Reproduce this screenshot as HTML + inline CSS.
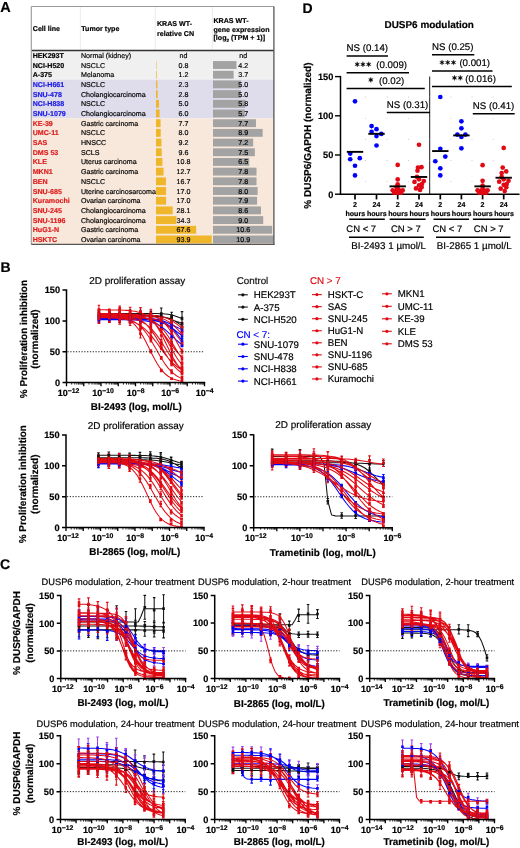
<!DOCTYPE html>
<html><head><meta charset="utf-8"><style>
html,body{margin:0;padding:0;background:#fff;}
svg{display:block;}
svg text{text-rendering:geometricPrecision;stroke:currentColor;stroke-width:0.18px;}
body{-webkit-font-smoothing:antialiased;}
text{font-family:"Liberation Sans", sans-serif;}
</style></head><body>
<div style="will-change:transform;width:520px;height:848px;overflow:hidden"><svg width="520" height="848" viewBox="0 0 520 848">
<rect width="520" height="848" fill="#fff"/>
<text x="0.3" y="12.4" font-size="14.5" font-weight="bold" fill="#000" color="#000" text-anchor="start">A</text>
<text x="302.5" y="12.5" font-size="14" font-weight="bold" fill="#000" color="#000" text-anchor="start">D</text>
<text x="0.5" y="271.5" font-size="14" font-weight="bold" fill="#000" color="#000" text-anchor="start">B</text>
<text x="0" y="568.5" font-size="14" font-weight="bold" fill="#000" color="#000" text-anchor="start">C</text>
<rect x="31.3" y="6.5" width="242.6" height="44" fill="#ffffff"/>
<rect x="31.3" y="50.5" width="242.6" height="29.07" fill="#f0f0f0"/>
<rect x="31.3" y="79.57" width="242.6" height="38.76" fill="#dfdcec"/>
<rect x="31.3" y="118.33" width="242.6" height="125.97" fill="#f8e8dc"/>
<line x1="80.3" y1="6.5" x2="80.3" y2="50.5" stroke="#e6e6e6" stroke-width="0.8"/>
<line x1="155.2" y1="6.5" x2="155.2" y2="50.5" stroke="#e6e6e6" stroke-width="0.8"/>
<line x1="212.3" y1="6.5" x2="212.3" y2="50.5" stroke="#e6e6e6" stroke-width="0.8"/>
<rect x="156" y="61.09" width="0.48" height="7.89" fill="#f0b62a"/>
<rect x="213" y="61.09" width="23.44" height="7.89" fill="#a3a3a3"/>
<rect x="156" y="70.78" width="0.71" height="7.89" fill="#f0b62a"/>
<rect x="213" y="70.78" width="20.65" height="7.89" fill="#a3a3a3"/>
<rect x="156" y="80.47" width="1.37" height="7.89" fill="#f0b62a"/>
<rect x="213" y="80.47" width="27.9" height="7.89" fill="#a3a3a3"/>
<rect x="156" y="90.16" width="1.66" height="7.89" fill="#f0b62a"/>
<rect x="213" y="90.16" width="27.9" height="7.89" fill="#a3a3a3"/>
<rect x="156" y="99.85" width="2.97" height="7.89" fill="#f0b62a"/>
<rect x="213" y="99.85" width="32.36" height="7.89" fill="#a3a3a3"/>
<rect x="156" y="109.54" width="3.56" height="7.89" fill="#f0b62a"/>
<rect x="213" y="109.54" width="31.81" height="7.89" fill="#a3a3a3"/>
<rect x="156" y="119.23" width="4.57" height="7.89" fill="#f0b62a"/>
<rect x="213" y="119.23" width="42.97" height="7.89" fill="#a3a3a3"/>
<rect x="156" y="128.92" width="4.75" height="7.89" fill="#f0b62a"/>
<rect x="213" y="128.92" width="49.66" height="7.89" fill="#a3a3a3"/>
<rect x="156" y="138.61" width="5.46" height="7.89" fill="#f0b62a"/>
<rect x="213" y="138.61" width="40.18" height="7.89" fill="#a3a3a3"/>
<rect x="156" y="148.3" width="5.7" height="7.89" fill="#f0b62a"/>
<rect x="213" y="148.3" width="41.85" height="7.89" fill="#a3a3a3"/>
<rect x="156" y="157.99" width="6.42" height="7.89" fill="#f0b62a"/>
<rect x="213" y="157.99" width="36.27" height="7.89" fill="#a3a3a3"/>
<rect x="156" y="167.68" width="7.54" height="7.89" fill="#f0b62a"/>
<rect x="213" y="167.68" width="43.52" height="7.89" fill="#a3a3a3"/>
<rect x="156" y="177.37" width="9.92" height="7.89" fill="#f0b62a"/>
<rect x="213" y="177.37" width="43.52" height="7.89" fill="#a3a3a3"/>
<rect x="156" y="187.06" width="10.1" height="7.89" fill="#f0b62a"/>
<rect x="213" y="187.06" width="44.64" height="7.89" fill="#a3a3a3"/>
<rect x="156" y="196.75" width="10.1" height="7.89" fill="#f0b62a"/>
<rect x="213" y="196.75" width="44.08" height="7.89" fill="#a3a3a3"/>
<rect x="156" y="206.44" width="16.69" height="7.89" fill="#f0b62a"/>
<rect x="213" y="206.44" width="47.99" height="7.89" fill="#a3a3a3"/>
<rect x="156" y="216.13" width="20.37" height="7.89" fill="#f0b62a"/>
<rect x="213" y="216.13" width="50.22" height="7.89" fill="#a3a3a3"/>
<rect x="156" y="225.82" width="40.15" height="7.89" fill="#f0b62a"/>
<rect x="213" y="225.82" width="59.15" height="7.89" fill="#a3a3a3"/>
<rect x="156" y="235.51" width="55.78" height="7.89" fill="#f0b62a"/>
<rect x="213" y="235.51" width="60.82" height="7.89" fill="#a3a3a3"/>
<text x="32.7" y="57.84" font-size="7.1" font-weight="bold" fill="#000000" color="#000000" text-anchor="start">HEK293T</text>
<text x="81" y="57.84" font-size="7.1" fill="#000" color="#000" text-anchor="start">Normal (kidney)</text>
<text x="183.5" y="57.84" font-size="7.1" fill="#000" color="#000" text-anchor="middle">nd</text>
<text x="243.2" y="57.84" font-size="7.1" fill="#000" color="#000" text-anchor="middle">nd</text>
<text x="32.7" y="67.53" font-size="7.1" font-weight="bold" fill="#000000" color="#000000" text-anchor="start">NCI-H520</text>
<text x="81" y="67.53" font-size="7.1" fill="#000" color="#000" text-anchor="start">NSCLC</text>
<text x="183.5" y="67.53" font-size="7.1" fill="#000" color="#000" text-anchor="middle">0.8</text>
<text x="243.2" y="67.53" font-size="7.1" fill="#000" color="#000" text-anchor="middle">4.2</text>
<text x="32.7" y="77.22" font-size="7.1" font-weight="bold" fill="#000000" color="#000000" text-anchor="start">A-375</text>
<text x="81" y="77.22" font-size="7.1" fill="#000" color="#000" text-anchor="start">Melanoma</text>
<text x="183.5" y="77.22" font-size="7.1" fill="#000" color="#000" text-anchor="middle">1.2</text>
<text x="243.2" y="77.22" font-size="7.1" fill="#000" color="#000" text-anchor="middle">3.7</text>
<text x="32.7" y="86.92" font-size="7.1" font-weight="bold" fill="#1a1ae6" color="#1a1ae6" text-anchor="start">NCI-H661</text>
<text x="81" y="86.92" font-size="7.1" fill="#000" color="#000" text-anchor="start">NSCLC</text>
<text x="183.5" y="86.92" font-size="7.1" fill="#000" color="#000" text-anchor="middle">2.3</text>
<text x="243.2" y="86.92" font-size="7.1" fill="#000" color="#000" text-anchor="middle">5.0</text>
<text x="32.7" y="96.61" font-size="7.1" font-weight="bold" fill="#1a1ae6" color="#1a1ae6" text-anchor="start">SNU-478</text>
<text x="81" y="96.61" font-size="7.1" fill="#000" color="#000" text-anchor="start">Cholangiocarcinoma</text>
<text x="183.5" y="96.61" font-size="7.1" fill="#000" color="#000" text-anchor="middle">2.8</text>
<text x="243.2" y="96.61" font-size="7.1" fill="#000" color="#000" text-anchor="middle">5.0</text>
<text x="32.7" y="106.3" font-size="7.1" font-weight="bold" fill="#1a1ae6" color="#1a1ae6" text-anchor="start">NCI-H838</text>
<text x="81" y="106.3" font-size="7.1" fill="#000" color="#000" text-anchor="start">NSCLC</text>
<text x="183.5" y="106.3" font-size="7.1" fill="#000" color="#000" text-anchor="middle">5.0</text>
<text x="243.2" y="106.3" font-size="7.1" fill="#000" color="#000" text-anchor="middle">5.8</text>
<text x="32.7" y="115.99" font-size="7.1" font-weight="bold" fill="#1a1ae6" color="#1a1ae6" text-anchor="start">SNU-1079</text>
<text x="81" y="115.99" font-size="7.1" fill="#000" color="#000" text-anchor="start">Cholangiocarcinoma</text>
<text x="183.5" y="115.99" font-size="7.1" fill="#000" color="#000" text-anchor="middle">6.0</text>
<text x="243.2" y="115.99" font-size="7.1" fill="#000" color="#000" text-anchor="middle">5.7</text>
<text x="32.7" y="125.68" font-size="7.1" font-weight="bold" fill="#dd1c1c" color="#dd1c1c" text-anchor="start">KE-39</text>
<text x="81" y="125.68" font-size="7.1" fill="#000" color="#000" text-anchor="start">Gastric carcinoma</text>
<text x="183.5" y="125.68" font-size="7.1" fill="#000" color="#000" text-anchor="middle">7.7</text>
<text x="243.2" y="125.68" font-size="7.1" fill="#000" color="#000" text-anchor="middle">7.7</text>
<text x="32.7" y="135.37" font-size="7.1" font-weight="bold" fill="#dd1c1c" color="#dd1c1c" text-anchor="start">UMC-11</text>
<text x="81" y="135.37" font-size="7.1" fill="#000" color="#000" text-anchor="start">NSCLC</text>
<text x="183.5" y="135.37" font-size="7.1" fill="#000" color="#000" text-anchor="middle">8.0</text>
<text x="243.2" y="135.37" font-size="7.1" fill="#000" color="#000" text-anchor="middle">8.9</text>
<text x="32.7" y="145.06" font-size="7.1" font-weight="bold" fill="#dd1c1c" color="#dd1c1c" text-anchor="start">SAS</text>
<text x="81" y="145.06" font-size="7.1" fill="#000" color="#000" text-anchor="start">HNSCC</text>
<text x="183.5" y="145.06" font-size="7.1" fill="#000" color="#000" text-anchor="middle">9.2</text>
<text x="243.2" y="145.06" font-size="7.1" fill="#000" color="#000" text-anchor="middle">7.2</text>
<text x="32.7" y="154.75" font-size="7.1" font-weight="bold" fill="#dd1c1c" color="#dd1c1c" text-anchor="start">DMS 53</text>
<text x="81" y="154.75" font-size="7.1" fill="#000" color="#000" text-anchor="start">SCLS</text>
<text x="183.5" y="154.75" font-size="7.1" fill="#000" color="#000" text-anchor="middle">9.6</text>
<text x="243.2" y="154.75" font-size="7.1" fill="#000" color="#000" text-anchor="middle">7.5</text>
<text x="32.7" y="164.44" font-size="7.1" font-weight="bold" fill="#dd1c1c" color="#dd1c1c" text-anchor="start">KLE</text>
<text x="81" y="164.44" font-size="7.1" fill="#000" color="#000" text-anchor="start">Uterus carcinoma</text>
<text x="183.5" y="164.44" font-size="7.1" fill="#000" color="#000" text-anchor="middle">10.8</text>
<text x="243.2" y="164.44" font-size="7.1" fill="#000" color="#000" text-anchor="middle">6.5</text>
<text x="32.7" y="174.12" font-size="7.1" font-weight="bold" fill="#dd1c1c" color="#dd1c1c" text-anchor="start">MKN1</text>
<text x="81" y="174.12" font-size="7.1" fill="#000" color="#000" text-anchor="start">Gastric carcinoma</text>
<text x="183.5" y="174.12" font-size="7.1" fill="#000" color="#000" text-anchor="middle">12.7</text>
<text x="243.2" y="174.12" font-size="7.1" fill="#000" color="#000" text-anchor="middle">7.8</text>
<text x="32.7" y="183.82" font-size="7.1" font-weight="bold" fill="#dd1c1c" color="#dd1c1c" text-anchor="start">BEN</text>
<text x="81" y="183.82" font-size="7.1" fill="#000" color="#000" text-anchor="start">NSCLC</text>
<text x="183.5" y="183.82" font-size="7.1" fill="#000" color="#000" text-anchor="middle">16.7</text>
<text x="243.2" y="183.82" font-size="7.1" fill="#000" color="#000" text-anchor="middle">7.8</text>
<text x="32.7" y="193.51" font-size="7.1" font-weight="bold" fill="#dd1c1c" color="#dd1c1c" text-anchor="start">SNU-685</text>
<text x="81" y="193.51" font-size="7.1" fill="#000" color="#000" text-anchor="start">Uterine carcinosarcoma</text>
<text x="183.5" y="193.51" font-size="7.1" fill="#000" color="#000" text-anchor="middle">17.0</text>
<text x="243.2" y="193.51" font-size="7.1" fill="#000" color="#000" text-anchor="middle">8.0</text>
<text x="32.7" y="203.2" font-size="7.1" font-weight="bold" fill="#dd1c1c" color="#dd1c1c" text-anchor="start">Kuramochi</text>
<text x="81" y="203.2" font-size="7.1" fill="#000" color="#000" text-anchor="start">Ovarian carcinoma</text>
<text x="183.5" y="203.2" font-size="7.1" fill="#000" color="#000" text-anchor="middle">17.0</text>
<text x="243.2" y="203.2" font-size="7.1" fill="#000" color="#000" text-anchor="middle">7.9</text>
<text x="32.7" y="212.89" font-size="7.1" font-weight="bold" fill="#dd1c1c" color="#dd1c1c" text-anchor="start">SNU-245</text>
<text x="81" y="212.89" font-size="7.1" fill="#000" color="#000" text-anchor="start">Cholangiocarcinoma</text>
<text x="183.5" y="212.89" font-size="7.1" fill="#000" color="#000" text-anchor="middle">28.1</text>
<text x="243.2" y="212.89" font-size="7.1" fill="#000" color="#000" text-anchor="middle">8.6</text>
<text x="32.7" y="222.58" font-size="7.1" font-weight="bold" fill="#dd1c1c" color="#dd1c1c" text-anchor="start">SNU-1196</text>
<text x="81" y="222.58" font-size="7.1" fill="#000" color="#000" text-anchor="start">Cholangiocarcinoma</text>
<text x="183.5" y="222.58" font-size="7.1" fill="#000" color="#000" text-anchor="middle">34.3</text>
<text x="243.2" y="222.58" font-size="7.1" fill="#000" color="#000" text-anchor="middle">9.0</text>
<text x="32.7" y="232.27" font-size="7.1" font-weight="bold" fill="#dd1c1c" color="#dd1c1c" text-anchor="start">HuG1-N</text>
<text x="81" y="232.27" font-size="7.1" fill="#000" color="#000" text-anchor="start">Gastric carcinoma</text>
<text x="183.5" y="232.27" font-size="7.1" fill="#000" color="#000" text-anchor="middle">67.6</text>
<text x="243.2" y="232.27" font-size="7.1" fill="#000" color="#000" text-anchor="middle">10.6</text>
<text x="32.7" y="241.96" font-size="7.1" font-weight="bold" fill="#dd1c1c" color="#dd1c1c" text-anchor="start">HSKTC</text>
<text x="81" y="241.96" font-size="7.1" fill="#000" color="#000" text-anchor="start">Ovarian carcinoma</text>
<text x="183.5" y="241.96" font-size="7.1" fill="#000" color="#000" text-anchor="middle">93.9</text>
<text x="243.2" y="241.96" font-size="7.1" fill="#000" color="#000" text-anchor="middle">10.9</text>
<text x="32.8" y="31" font-size="7.1" font-weight="bold" fill="#000" color="#000" text-anchor="start">Cell line</text>
<text x="81.3" y="31" font-size="7.1" font-weight="bold" fill="#000" color="#000" text-anchor="start">Tumor type</text>
<text x="157" y="26.3" font-size="7.1" font-weight="bold" fill="#000" color="#000" text-anchor="start">KRAS WT-</text>
<text x="157" y="36.2" font-size="7.1" font-weight="bold" fill="#000" color="#000" text-anchor="start">relative CN</text>
<text x="213.5" y="22.7" font-size="7.1" font-weight="bold" fill="#000" color="#000" text-anchor="start">KRAS WT-</text>
<text x="213.5" y="31.6" font-size="7.1" font-weight="bold" fill="#000" color="#000" text-anchor="start">gene expression</text>
<text x="213.5" y="40.3" font-size="7.1" font-weight="bold">[log<tspan font-size="4.5" dy="1.5">2</tspan><tspan dy="-1.5"> (TPM + 1)]</tspan></text>
<line x1="31.3" y1="50.5" x2="273.9" y2="50.5" stroke="#333" stroke-width="1.3"/>
<line x1="31.3" y1="6.5" x2="273.9" y2="6.5" stroke="#9a9a9a" stroke-width="1.1"/>
<line x1="31.3" y1="6.5" x2="31.3" y2="244.3" stroke="#a0a0a0" stroke-width="1.2"/>
<line x1="31.3" y1="244.3" x2="274.5" y2="244.3" stroke="#555" stroke-width="1.3"/>
<line x1="273.9" y1="6.5" x2="273.9" y2="244.9" stroke="#555" stroke-width="1.3"/>
<path d="M98.93 313.5L101.7 313.5L104.47 313.5L107.24 313.5L110.01 313.5L112.78 313.5L115.55 313.5L118.31 313.5L121.08 313.5L123.85 313.5L126.62 313.5L129.39 313.5L132.16 313.5L134.93 313.5L137.7 313.5L140.47 313.5L143.24 313.5L146.01 313.51L148.78 313.51L151.54 313.53L154.31 313.55L157.08 313.59L159.85 313.66L162.62 313.78L165.39 313.98L168.16 314.31L170.93 314.8L173.7 315.51L176.47 316.41L179.24 317.42L182.01 318.41M98.93 310.57V317.29M97.63 310.57h2.6M97.63 317.29h2.6M109.31 310.07V316.18M108.01 310.07h2.6M108.01 316.18h2.6M119.7 309.21V317.61M118.4 309.21h2.6M118.4 317.61h2.6M130.08 309.84V319.34M128.78 309.84h2.6M128.78 319.34h2.6M140.47 310.18V319.1M139.17 310.18h2.6M139.17 319.1h2.6M150.85 311.46V317.72M149.55 311.46h2.6M149.55 317.72h2.6M161.24 307.91V319.89M159.94 307.91h2.6M159.94 319.89h2.6M171.62 312.24V319.53M170.32 312.24h2.6M170.32 319.53h2.6M182.01 311.63V324.55M180.71 311.63h2.6M180.71 324.55h2.6M98.93 315.96L101.7 315.96L104.47 315.96L107.24 315.96L110.01 315.96L112.78 315.96L115.55 315.96L118.31 315.96L121.08 315.97L123.85 315.97L126.62 315.97L129.39 315.97L132.16 315.97L134.93 315.98L137.7 315.98L140.47 315.99L143.24 316.01L146.01 316.03L148.78 316.07L151.54 316.13L154.31 316.23L157.08 316.37L159.85 316.59L162.62 316.92L165.39 317.41L168.16 318.11L170.93 319.09L173.7 320.39L176.47 322L179.24 323.83L182.01 325.74M98.93 312.41V319.13M97.63 312.41h2.6M97.63 319.13h2.6M109.31 312.49V317.09M108.01 312.49h2.6M108.01 317.09h2.6M119.7 312.05V318.12M118.4 312.05h2.6M118.4 318.12h2.6M130.08 314.33V319.36M128.78 314.33h2.6M128.78 319.36h2.6M140.47 311.84V321.09M139.17 311.84h2.6M139.17 321.09h2.6M150.85 312.99V320.82M149.55 312.99h2.6M149.55 320.82h2.6M161.24 313.11V319.68M159.94 313.11h2.6M159.94 319.68h2.6M171.62 316.92V321.62M170.32 316.92h2.6M170.32 321.62h2.6M182.01 324.25V329.41M180.71 324.25h2.6M180.71 329.41h2.6M98.93 314.73L101.7 314.73L104.47 314.73L107.24 314.73L110.01 314.73L112.78 314.73L115.55 314.73L118.31 314.74L121.08 314.74L123.85 314.74L126.62 314.75L129.39 314.76L132.16 314.77L134.93 314.79L137.7 314.82L140.47 314.86L143.24 314.92L146.01 315.01L148.78 315.13L151.54 315.3L154.31 315.53L157.08 315.85L159.85 316.29L162.62 316.85L165.39 317.55L168.16 318.4L170.93 319.36L173.7 320.38L176.47 321.39L179.24 322.33L182.01 323.15M98.93 311.33V317.24M97.63 311.33h2.6M97.63 317.24h2.6M109.31 311.82V318.56M108.01 311.82h2.6M108.01 318.56h2.6M119.7 312.23V317.48M118.4 312.23h2.6M118.4 317.48h2.6M130.08 310.37V317.7M128.78 310.37h2.6M128.78 317.7h2.6M140.47 312.16V318.84M139.17 312.16h2.6M139.17 318.84h2.6M150.85 311.07V319.31M149.55 311.07h2.6M149.55 319.31h2.6M161.24 313.39V318.58M159.94 313.39h2.6M159.94 318.58h2.6M171.62 316.27V320.58M170.32 316.27h2.6M170.32 320.58h2.6M182.01 319.65V327.05M180.71 319.65h2.6M180.71 327.05h2.6" stroke="#111111" stroke-width="1.05" fill="none"/>
<path d="M98.93 318.43L101.7 318.43L104.47 318.43L107.24 318.43L110.01 318.44L112.78 318.44L115.55 318.44L118.31 318.44L121.08 318.45L123.85 318.45L126.62 318.46L129.39 318.48L132.16 318.5L134.93 318.52L137.7 318.56L140.47 318.62L143.24 318.71L146.01 318.83L148.78 319.01L151.54 319.26L154.31 319.62L157.08 320.12L159.85 320.84L162.62 321.82L165.39 323.15L168.16 324.92L170.93 327.17L173.7 329.94L176.47 333.17L179.24 336.71L182.01 340.35M98.93 316.69V321.89M97.63 316.69h2.6M97.63 321.89h2.6M109.31 316.59V322.56M108.01 316.59h2.6M108.01 322.56h2.6M119.7 315.01V320.57M118.4 315.01h2.6M118.4 320.57h2.6M130.08 315.33V319.77M128.78 315.33h2.6M128.78 319.77h2.6M140.47 315.32V320.97M139.17 315.32h2.6M139.17 320.97h2.6M150.85 316.46V321.52M149.55 316.46h2.6M149.55 321.52h2.6M161.24 316.87V324.03M159.94 316.87h2.6M159.94 324.03h2.6M171.62 325.16V330.61M170.32 325.16h2.6M170.32 330.61h2.6M182.01 339.14V343.73M180.71 339.14h2.6M180.71 343.73h2.6M98.93 319.05L101.7 319.05L104.47 319.05L107.24 319.05L110.01 319.06L112.78 319.06L115.55 319.06L118.31 319.07L121.08 319.08L123.85 319.09L126.62 319.11L129.39 319.13L132.16 319.17L134.93 319.21L137.7 319.27L140.47 319.36L143.24 319.48L146.01 319.65L148.78 319.88L151.54 320.2L154.31 320.62L157.08 321.19L159.85 321.94L162.62 322.91L165.39 324.12L168.16 325.61L170.93 327.35L173.7 329.29L176.47 331.37L179.24 333.46L182.01 335.46M98.93 315V322.38M97.63 315h2.6M97.63 322.38h2.6M109.31 316.1V320.42M108.01 316.1h2.6M108.01 320.42h2.6M119.7 316.37V322.34M118.4 316.37h2.6M118.4 322.34h2.6M130.08 317.78V322.86M128.78 317.78h2.6M128.78 322.86h2.6M140.47 318.39V321.98M139.17 318.39h2.6M139.17 321.98h2.6M150.85 318.01V324.39M149.55 318.01h2.6M149.55 324.39h2.6M161.24 321.29V325.32M159.94 321.29h2.6M159.94 325.32h2.6M171.62 324.96V331.21M170.32 324.96h2.6M170.32 331.21h2.6M182.01 334.46V338.53M180.71 334.46h2.6M180.71 338.53h2.6M98.93 317.82L101.7 317.82L104.47 317.82L107.24 317.82L110.01 317.82L112.78 317.82L115.55 317.82L118.31 317.82L121.08 317.83L123.85 317.84L126.62 317.84L129.39 317.86L132.16 317.88L134.93 317.9L137.7 317.94L140.47 318L143.24 318.08L146.01 318.2L148.78 318.37L151.54 318.6L154.31 318.93L157.08 319.37L159.85 319.97L162.62 320.76L165.39 321.74L168.16 322.91L170.93 324.24L173.7 325.66L176.47 327.06L179.24 328.37L182.01 329.51M98.93 314.24V321.14M97.63 314.24h2.6M97.63 321.14h2.6M109.31 313.62V320.44M108.01 313.62h2.6M108.01 320.44h2.6M119.7 315.93V320.81M118.4 315.93h2.6M118.4 320.81h2.6M130.08 314.76V321.66M128.78 314.76h2.6M128.78 321.66h2.6M140.47 315V318.74M139.17 315h2.6M139.17 318.74h2.6M150.85 317.29V321.38M149.55 317.29h2.6M149.55 321.38h2.6M161.24 318.41V323.59M159.94 318.41h2.6M159.94 323.59h2.6M171.62 322.35V326.39M170.32 322.35h2.6M170.32 326.39h2.6M182.01 328.58V332.89M180.71 328.58h2.6M180.71 332.89h2.6M98.93 319.67L101.7 319.67L104.47 319.68L107.24 319.68L110.01 319.69L112.78 319.69L115.55 319.7L118.31 319.72L121.08 319.74L123.85 319.77L126.62 319.81L129.39 319.86L132.16 319.94L134.93 320.05L137.7 320.2L140.47 320.4L143.24 320.68L146.01 321.06L148.78 321.58L151.54 322.28L154.31 323.19L157.08 324.38L159.85 325.88L162.62 327.72L165.39 329.88L168.16 332.32L170.93 334.94L173.7 337.6L176.47 340.16L179.24 342.49L182.01 344.52M98.93 317.23V322.76M97.63 317.23h2.6M97.63 322.76h2.6M109.31 315.53V321.6M108.01 315.53h2.6M108.01 321.6h2.6M119.7 316.81V322.57M118.4 316.81h2.6M118.4 322.57h2.6M130.08 317.79V321.1M128.78 317.79h2.6M128.78 321.1h2.6M140.47 316.19V322.64M139.17 316.19h2.6M139.17 322.64h2.6M150.85 317.9V324.41M149.55 317.9h2.6M149.55 324.41h2.6M161.24 324.8V329.25M159.94 324.8h2.6M159.94 329.25h2.6M171.62 334.23V338.94M170.32 334.23h2.6M170.32 338.94h2.6M182.01 344.42V346.78M180.71 344.42h2.6M180.71 346.78h2.6" stroke="#0000ff" stroke-width="1.05" fill="none"/>
<path d="M98.93 314.89L101.7 314.95L104.47 315.04L107.24 315.16L110.01 315.33L112.78 315.56L115.55 315.89L118.31 316.33L121.08 316.94L123.85 317.78L126.62 318.91L129.39 320.42L132.16 322.41L134.93 324.98L137.7 328.22L140.47 332.18L143.24 336.83L146.01 342.04L148.78 347.6L151.54 353.21L154.31 358.59L157.08 363.47L159.85 367.69L162.62 371.2L165.39 374.02L168.16 376.22L170.93 377.9L173.7 379.16L176.47 380.1L179.24 380.79L182.01 381.29M98.93 313.32V318.62M97.63 313.32h2.6M97.63 318.62h2.6M109.31 313.56V318.19M108.01 313.56h2.6M108.01 318.19h2.6M119.7 315.85V321.08M118.4 315.85h2.6M118.4 321.08h2.6M130.08 319.14V325.54M128.78 319.14h2.6M128.78 325.54h2.6M140.47 329.9V337.98M139.17 329.9h2.6M139.17 337.98h2.6M150.85 349.76V353.04M149.55 349.76h2.6M149.55 353.04h2.6M161.24 369.18V371.73M159.94 369.18h2.6M159.94 371.73h2.6M171.62 378V379.51M170.32 378h2.6M170.32 379.51h2.6M182.01 378.55V381.45M180.71 378.55h2.6M180.71 381.45h2.6M98.93 316.11L101.7 316.16L104.47 316.23L107.24 316.32L110.01 316.44L112.78 316.6L115.55 316.82L118.31 317.11L121.08 317.5L123.85 318.01L126.62 318.68L129.39 319.56L132.16 320.71L134.93 322.2L137.7 324.08L140.47 326.43L143.24 329.31L146.01 332.75L148.78 336.73L151.54 341.17L154.31 345.94L157.08 350.85L159.85 355.7L162.62 360.28L165.39 364.43L168.16 368.07L170.93 371.15L173.7 373.69L176.47 375.74L179.24 377.36L182.01 378.62M98.93 312.61V319.86M97.63 312.61h2.6M97.63 319.86h2.6M109.31 315.47V320.41M108.01 315.47h2.6M108.01 320.41h2.6M119.7 314.91V320.83M118.4 314.91h2.6M118.4 320.83h2.6M130.08 315.96V321.25M128.78 315.96h2.6M128.78 321.25h2.6M140.47 323.61V332.79M139.17 323.61h2.6M139.17 332.79h2.6M150.85 337.91V341.92M149.55 337.91h2.6M149.55 341.92h2.6M161.24 356.64V359.11M159.94 356.64h2.6M159.94 359.11h2.6M171.62 369.78V373.69M170.32 369.78h2.6M170.32 373.69h2.6M182.01 375.93V378.61M180.71 375.93h2.6M180.71 378.61h2.6M98.93 313.58L101.7 313.61L104.47 313.65L107.24 313.7L110.01 313.77L112.78 313.86L115.55 313.99L118.31 314.15L121.08 314.38L123.85 314.68L126.62 315.07L129.39 315.6L132.16 316.29L134.93 317.2L137.7 318.37L140.47 319.89L143.24 321.81L146.01 324.21L148.78 327.14L151.54 330.61L154.31 334.62L157.08 339.07L159.85 343.83L162.62 348.7L165.39 353.48L168.16 357.97L170.93 362.02L173.7 365.55L176.47 368.53L179.24 370.98L182.01 372.95M98.93 311.2V317.73M97.63 311.2h2.6M97.63 317.73h2.6M109.31 310.49V319.48M108.01 310.49h2.6M108.01 319.48h2.6M119.7 309.62V318.65M118.4 309.62h2.6M118.4 318.65h2.6M130.08 313.55V319.22M128.78 313.55h2.6M128.78 319.22h2.6M140.47 313.6V323.87M139.17 313.6h2.6M139.17 323.87h2.6M150.85 324.21V332.57M149.55 324.21h2.6M149.55 332.57h2.6M161.24 341.98V348.19M159.94 341.98h2.6M159.94 348.19h2.6M171.62 362.19V365.74M170.32 362.19h2.6M170.32 365.74h2.6M182.01 372.67V374.29M180.71 372.67h2.6M180.71 374.29h2.6M98.93 317.25L101.7 317.27L104.47 317.29L107.24 317.33L110.01 317.37L112.78 317.43L115.55 317.51L118.31 317.62L121.08 317.76L123.85 317.95L126.62 318.2L129.39 318.54L132.16 318.99L134.93 319.58L137.7 320.36L140.47 321.37L143.24 322.68L146.01 324.35L148.78 326.43L151.54 328.99L154.31 332.05L157.08 335.6L159.85 339.59L162.62 343.89L165.39 348.34L168.16 352.76L170.93 356.95L173.7 360.77L176.47 364.13L179.24 366.98L182.01 369.34M98.93 315.99V322M97.63 315.99h2.6M97.63 322h2.6M109.31 314V322.5M108.01 314h2.6M108.01 322.5h2.6M119.7 312.48V319.5M118.4 312.48h2.6M118.4 319.5h2.6M130.08 311.88V322.17M128.78 311.88h2.6M128.78 322.17h2.6M140.47 316.43V322.95M139.17 316.43h2.6M139.17 322.95h2.6M150.85 326.78V331.89M149.55 326.78h2.6M149.55 331.89h2.6M161.24 340.79V344.87M159.94 340.79h2.6M159.94 344.87h2.6M171.62 354.77V360.2M170.32 354.77h2.6M170.32 360.2h2.6M182.01 366.54V369.62M180.71 366.54h2.6M180.71 369.62h2.6M98.93 315.36L101.7 315.36L104.47 315.37L107.24 315.38L110.01 315.39L112.78 315.41L115.55 315.43L118.31 315.47L121.08 315.52L123.85 315.58L126.62 315.68L129.39 315.81L132.16 315.99L134.93 316.24L137.7 316.58L140.47 317.06L143.24 317.7L146.01 318.59L148.78 319.77L151.54 321.35L154.31 323.4L157.08 326.03L159.85 329.28L162.62 333.17L165.39 337.64L168.16 342.53L170.93 347.59L173.7 352.56L176.47 357.19L179.24 361.29L182.01 364.75M98.93 310.22V319.37M97.63 310.22h2.6M97.63 319.37h2.6M109.31 312.77V321.08M108.01 312.77h2.6M108.01 321.08h2.6M119.7 309.45V318.5M118.4 309.45h2.6M118.4 318.5h2.6M130.08 311.32V318.53M128.78 311.32h2.6M128.78 318.53h2.6M140.47 313.7V322.79M139.17 313.7h2.6M139.17 322.79h2.6M150.85 316.99V326.08M149.55 316.99h2.6M149.55 326.08h2.6M161.24 326.39V332.41M159.94 326.39h2.6M159.94 332.41h2.6M171.62 345.93V352.51M170.32 345.93h2.6M170.32 352.51h2.6M182.01 362.64V365.2M180.71 362.64h2.6M180.71 365.2h2.6M98.93 316.59L101.7 316.59L104.47 316.6L107.24 316.6L110.01 316.61L112.78 316.62L115.55 316.64L118.31 316.66L121.08 316.69L123.85 316.73L126.62 316.78L129.39 316.86L132.16 316.98L134.93 317.13L137.7 317.34L140.47 317.64L143.24 318.05L146.01 318.61L148.78 319.37L151.54 320.39L154.31 321.76L157.08 323.55L159.85 325.85L162.62 328.73L165.39 332.2L168.16 336.24L170.93 340.7L173.7 345.39L176.47 350.05L179.24 354.45L182.01 358.39M98.93 315.35V320.59M97.63 315.35h2.6M97.63 320.59h2.6M109.31 310.51V319.71M108.01 310.51h2.6M108.01 319.71h2.6M119.7 313.32V322.64M118.4 313.32h2.6M118.4 322.64h2.6M130.08 310.96V319.26M128.78 310.96h2.6M128.78 319.26h2.6M140.47 314.38V322.01M139.17 314.38h2.6M139.17 322.01h2.6M150.85 319.29V323.66M149.55 319.29h2.6M149.55 323.66h2.6M161.24 321.58V329.37M159.94 321.58h2.6M159.94 329.37h2.6M171.62 338.04V345.48M170.32 338.04h2.6M170.32 345.48h2.6M182.01 356.04V361.23M180.71 356.04h2.6M180.71 361.23h2.6M98.93 314.11L101.7 314.12L104.47 314.12L107.24 314.12L110.01 314.12L112.78 314.12L115.55 314.13L118.31 314.14L121.08 314.15L123.85 314.16L126.62 314.18L129.39 314.21L132.16 314.26L134.93 314.32L137.7 314.41L140.47 314.54L143.24 314.73L146.01 315.01L148.78 315.4L151.54 315.95L154.31 316.74L157.08 317.83L159.85 319.34L162.62 321.38L165.39 324.06L168.16 327.45L170.93 331.56L173.7 336.28L176.47 341.38L179.24 346.53L182.01 351.4M98.93 310.11V315.7M97.63 310.11h2.6M97.63 315.7h2.6M109.31 311.99V318.08M108.01 311.99h2.6M108.01 318.08h2.6M119.7 311.17V319.03M118.4 311.17h2.6M118.4 319.03h2.6M130.08 311.69V318.54M128.78 311.69h2.6M128.78 318.54h2.6M140.47 311V320.82M139.17 311h2.6M139.17 320.82h2.6M150.85 312.79V319.88M149.55 312.79h2.6M149.55 319.88h2.6M161.24 315.09V324.87M159.94 315.09h2.6M159.94 324.87h2.6M171.62 328.77V337.19M170.32 328.77h2.6M170.32 337.19h2.6M182.01 349.02V353.76M180.71 349.02h2.6M180.71 353.76h2.6M98.93 317.82L101.7 317.82L104.47 317.82L107.24 317.82L110.01 317.82L112.78 317.82L115.55 317.82L118.31 317.83L121.08 317.83L123.85 317.84L126.62 317.85L129.39 317.87L132.16 317.9L134.93 317.93L137.7 317.98L140.47 318.06L143.24 318.17L146.01 318.32L148.78 318.55L151.54 318.87L154.31 319.32L157.08 319.96L159.85 320.84L162.62 322.05L165.39 323.67L168.16 325.77L170.93 328.39L173.7 331.5L176.47 335L179.24 338.69L182.01 342.32M98.93 315.51V319.94M97.63 315.51h2.6M97.63 319.94h2.6M109.31 315.33V320.75M108.01 315.33h2.6M108.01 320.75h2.6M119.7 315.09V324.24M118.4 315.09h2.6M118.4 324.24h2.6M130.08 315.5V322.68M128.78 315.5h2.6M128.78 322.68h2.6M140.47 313.38V321.07M139.17 313.38h2.6M139.17 321.07h2.6M150.85 315.69V323.15M149.55 315.69h2.6M149.55 323.15h2.6M161.24 316.68V325.71M159.94 316.68h2.6M159.94 325.71h2.6M171.62 327.18V333.98M170.32 327.18h2.6M170.32 333.98h2.6M182.01 341.07V345.43M180.71 341.07h2.6M180.71 345.43h2.6M98.93 315.96L101.7 315.96L104.47 315.97L107.24 315.97L110.01 315.97L112.78 315.97L115.55 315.97L118.31 315.97L121.08 315.98L123.85 315.98L126.62 315.99L129.39 316L132.16 316.02L134.93 316.04L137.7 316.07L140.47 316.12L143.24 316.19L146.01 316.29L148.78 316.44L151.54 316.65L154.31 316.95L157.08 317.37L159.85 317.95L162.62 318.77L165.39 319.87L168.16 321.33L170.93 323.2L173.7 325.5L176.47 328.17L179.24 331.1L182.01 334.11M98.93 311.26V318.65M97.63 311.26h2.6M97.63 318.65h2.6M109.31 311.28V320.2M108.01 311.28h2.6M108.01 320.2h2.6M119.7 310.95V317.95M118.4 310.95h2.6M118.4 317.95h2.6M130.08 311.9V319.28M128.78 311.9h2.6M128.78 319.28h2.6M140.47 311.82V320.33M139.17 311.82h2.6M139.17 320.33h2.6M150.85 312.99V320.54M149.55 312.99h2.6M149.55 320.54h2.6M161.24 313.41V323.42M159.94 313.41h2.6M159.94 323.42h2.6M171.62 318.31V327.69M170.32 318.31h2.6M170.32 327.69h2.6M182.01 329.95V335.01M180.71 329.95h2.6M180.71 335.01h2.6M98.93 314.73L101.7 314.73L104.47 314.73L107.24 314.73L110.01 314.73L112.78 314.73L115.55 314.73L118.31 314.74L121.08 314.74L123.85 314.74L126.62 314.75L129.39 314.76L132.16 314.77L134.93 314.79L137.7 314.81L140.47 314.85L143.24 314.9L146.01 314.98L148.78 315.09L151.54 315.25L154.31 315.47L157.08 315.79L159.85 316.23L162.62 316.85L165.39 317.68L168.16 318.78L170.93 320.19L173.7 321.93L176.47 323.94L179.24 326.15L182.01 328.43M98.93 309.5V319.52M97.63 309.5h2.6M97.63 319.52h2.6M109.31 310.9V316.05M108.01 310.9h2.6M108.01 316.05h2.6M119.7 312.64V319.63M118.4 312.64h2.6M118.4 319.63h2.6M130.08 313.46V319.23M128.78 313.46h2.6M128.78 319.23h2.6M140.47 312.25V320.61M139.17 312.25h2.6M139.17 320.61h2.6M150.85 309.28V319.02M149.55 309.28h2.6M149.55 319.02h2.6M161.24 313.47V322.12M159.94 313.47h2.6M159.94 322.12h2.6M171.62 317.41V322.6M170.32 317.41h2.6M170.32 322.6h2.6M182.01 322.3V331.72M180.71 322.3h2.6M180.71 331.72h2.6M98.93 317.4L101.7 317.46L104.47 317.54L107.24 317.64L110.01 317.77L112.78 317.93L115.55 318.14L118.31 318.42L121.08 318.77L123.85 319.22L126.62 319.79L129.39 320.51L132.16 321.41L134.93 322.55L137.7 323.95L140.47 325.66L143.24 327.71L146.01 330.14L148.78 332.94L151.54 336.11L154.31 339.58L157.08 343.28L159.85 347.09L162.62 350.9L165.39 354.57L168.16 358.01L170.93 361.12L173.7 363.87L176.47 366.24L179.24 368.24L182.01 369.9M98.93 313.4V323.48M97.63 313.4h2.6M97.63 323.48h2.6M109.31 314.47V321.74M108.01 314.47h2.6M108.01 321.74h2.6M119.7 312.09V321.44M118.4 312.09h2.6M118.4 321.44h2.6M130.08 318.55V325.39M128.78 318.55h2.6M128.78 325.39h2.6M140.47 322.59V328.6M139.17 322.59h2.6M139.17 328.6h2.6M150.85 333.88V338.94M149.55 333.88h2.6M149.55 338.94h2.6M161.24 346.7V349.67M159.94 346.7h2.6M159.94 349.67h2.6M171.62 359.88V363.4M170.32 359.88h2.6M170.32 363.4h2.6M182.01 370.48V372.9M180.71 370.48h2.6M180.71 372.9h2.6M98.93 313.53L101.7 313.54L104.47 313.55L107.24 313.58L110.01 313.6L112.78 313.64L115.55 313.69L118.31 313.75L121.08 313.84L123.85 313.96L126.62 314.12L129.39 314.33L132.16 314.61L134.93 314.98L137.7 315.47L140.47 316.12L143.24 316.96L146.01 318.05L148.78 319.45L151.54 321.2L154.31 323.36L157.08 325.97L159.85 329.02L162.62 332.47L165.39 336.23L168.16 340.17L170.93 344.11L173.7 347.9L176.47 351.38L179.24 354.47L182.01 357.11M98.93 309.36V316.78M97.63 309.36h2.6M97.63 316.78h2.6M109.31 310.07V320.35M108.01 310.07h2.6M108.01 320.35h2.6M119.7 307.63V317.82M118.4 307.63h2.6M118.4 317.82h2.6M130.08 312.89V318.82M128.78 312.89h2.6M128.78 318.82h2.6M140.47 313.31V322.34M139.17 313.31h2.6M139.17 322.34h2.6M150.85 319.04V324.1M149.55 319.04h2.6M149.55 324.1h2.6M161.24 326.67V335.3M159.94 326.67h2.6M159.94 335.3h2.6M171.62 341.78V346.02M170.32 341.78h2.6M170.32 346.02h2.6M182.01 355.72V361.09M180.71 355.72h2.6M180.71 361.09h2.6M98.93 309.81L101.7 309.82L104.47 309.83L107.24 309.85L110.01 309.87L112.78 309.9L115.55 309.95L118.31 310.01L121.08 310.09L123.85 310.2L126.62 310.36L129.39 310.59L132.16 310.9L134.93 311.32L137.7 311.91L140.47 312.7L143.24 313.79L146.01 315.24L148.78 317.16L151.54 319.66L154.31 322.83L157.08 326.72L159.85 331.34L162.62 336.58L165.39 342.23L168.16 348.02L170.93 353.62L173.7 358.77L176.47 363.27L179.24 367.05L182.01 370.1M98.93 305.28V313.83M97.63 305.28h2.6M97.63 313.83h2.6M109.31 309.05V313.72M108.01 309.05h2.6M108.01 313.72h2.6M119.7 305.9V312.79M118.4 305.9h2.6M118.4 312.79h2.6M130.08 307.24V317.24M128.78 307.24h2.6M128.78 317.24h2.6M140.47 307.62V316.79M139.17 307.62h2.6M139.17 316.79h2.6M150.85 315.77V325.27M149.55 315.77h2.6M149.55 325.27h2.6M161.24 331.57V339.42M159.94 331.57h2.6M159.94 339.42h2.6M171.62 353.27V356.99M170.32 353.27h2.6M170.32 356.99h2.6M182.01 367.89V371.91M180.71 367.89h2.6M180.71 371.91h2.6" stroke="#e10a14" stroke-width="1.05" fill="none"/>
<path d="M97.63 312.63h2.6v2.6h-2.6zM108.01 311.82h2.6v2.6h-2.6zM118.4 312.11h2.6v2.6h-2.6zM128.78 313.29h2.6v2.6h-2.6zM139.17 313.34h2.6v2.6h-2.6zM149.55 313.29h2.6v2.6h-2.6zM159.94 312.6h2.6v2.6h-2.6zM170.32 314.59h2.6v2.6h-2.6zM180.71 316.79h2.6v2.6h-2.6zM97.63 314.47h2.6v2.6h-2.6zM108.01 313.49h2.6v2.6h-2.6zM118.4 313.78h2.6v2.6h-2.6zM128.78 315.55h2.6v2.6h-2.6zM139.17 315.17h2.6v2.6h-2.6zM149.55 315.6h2.6v2.6h-2.6zM159.94 315.09h2.6v2.6h-2.6zM170.32 317.97h2.6v2.6h-2.6zM180.71 325.53h2.6v2.6h-2.6zM97.63 312.99h2.6v2.6h-2.6zM108.01 313.89h2.6v2.6h-2.6zM118.4 313.55h2.6v2.6h-2.6zM128.78 312.74h2.6v2.6h-2.6zM139.17 314.2h2.6v2.6h-2.6zM149.55 313.89h2.6v2.6h-2.6zM159.94 314.68h2.6v2.6h-2.6zM170.32 317.12h2.6v2.6h-2.6zM180.71 322.05h2.6v2.6h-2.6z" fill="#111111"/>
<path d="M97.63 317.99h2.6v2.6h-2.6zM108.01 318.27h2.6v2.6h-2.6zM118.4 316.49h2.6v2.6h-2.6zM128.78 316.25h2.6v2.6h-2.6zM139.17 316.84h2.6v2.6h-2.6zM149.55 317.69h2.6v2.6h-2.6zM159.94 319.15h2.6v2.6h-2.6zM170.32 326.58h2.6v2.6h-2.6zM180.71 340.13h2.6v2.6h-2.6zM97.63 317.39h2.6v2.6h-2.6zM108.01 316.96h2.6v2.6h-2.6zM118.4 318.06h2.6v2.6h-2.6zM128.78 319.02h2.6v2.6h-2.6zM139.17 318.88h2.6v2.6h-2.6zM149.55 319.9h2.6v2.6h-2.6zM159.94 322.01h2.6v2.6h-2.6zM170.32 326.79h2.6v2.6h-2.6zM180.71 335.19h2.6v2.6h-2.6zM97.63 316.39h2.6v2.6h-2.6zM108.01 315.73h2.6v2.6h-2.6zM118.4 317.07h2.6v2.6h-2.6zM128.78 316.91h2.6v2.6h-2.6zM139.17 315.57h2.6v2.6h-2.6zM149.55 318.03h2.6v2.6h-2.6zM159.94 319.7h2.6v2.6h-2.6zM170.32 323.07h2.6v2.6h-2.6zM180.71 329.43h2.6v2.6h-2.6zM97.63 318.69h2.6v2.6h-2.6zM108.01 317.27h2.6v2.6h-2.6zM118.4 318.39h2.6v2.6h-2.6zM128.78 318.15h2.6v2.6h-2.6zM139.17 318.11h2.6v2.6h-2.6zM149.55 319.86h2.6v2.6h-2.6zM159.94 325.72h2.6v2.6h-2.6zM170.32 335.29h2.6v2.6h-2.6zM180.71 344.3h2.6v2.6h-2.6z" fill="#0000ff"/>
<path d="M97.63 314.67h2.6v2.6h-2.6zM108.01 314.57h2.6v2.6h-2.6zM118.4 317.16h2.6v2.6h-2.6zM128.78 321.04h2.6v2.6h-2.6zM139.17 332.64h2.6v2.6h-2.6zM149.55 350.1h2.6v2.6h-2.6zM159.94 369.15h2.6v2.6h-2.6zM170.32 377.45h2.6v2.6h-2.6zM180.71 378.7h2.6v2.6h-2.6zM97.63 314.94h2.6v2.6h-2.6zM108.01 316.64h2.6v2.6h-2.6zM118.4 316.57h2.6v2.6h-2.6zM128.78 317.31h2.6v2.6h-2.6zM139.17 326.9h2.6v2.6h-2.6zM149.55 338.61h2.6v2.6h-2.6zM159.94 356.57h2.6v2.6h-2.6zM170.32 370.43h2.6v2.6h-2.6zM180.71 375.97h2.6v2.6h-2.6zM97.63 313.16h2.6v2.6h-2.6zM108.01 313.68h2.6v2.6h-2.6zM118.4 312.84h2.6v2.6h-2.6zM128.78 315.08h2.6v2.6h-2.6zM139.17 317.44h2.6v2.6h-2.6zM149.55 327.09h2.6v2.6h-2.6zM159.94 343.78h2.6v2.6h-2.6zM170.32 362.67h2.6v2.6h-2.6zM180.71 372.18h2.6v2.6h-2.6zM97.63 317.7h2.6v2.6h-2.6zM108.01 316.95h2.6v2.6h-2.6zM118.4 314.69h2.6v2.6h-2.6zM128.78 315.72h2.6v2.6h-2.6zM139.17 318.39h2.6v2.6h-2.6zM149.55 328.04h2.6v2.6h-2.6zM159.94 341.53h2.6v2.6h-2.6zM170.32 356.19h2.6v2.6h-2.6zM180.71 366.78h2.6v2.6h-2.6zM97.63 313.49h2.6v2.6h-2.6zM108.01 315.63h2.6v2.6h-2.6zM118.4 312.67h2.6v2.6h-2.6zM128.78 313.62h2.6v2.6h-2.6zM139.17 316.95h2.6v2.6h-2.6zM149.55 320.23h2.6v2.6h-2.6zM159.94 328.1h2.6v2.6h-2.6zM170.32 347.92h2.6v2.6h-2.6zM180.71 362.62h2.6v2.6h-2.6zM97.63 316.67h2.6v2.6h-2.6zM108.01 313.81h2.6v2.6h-2.6zM118.4 316.68h2.6v2.6h-2.6zM128.78 313.81h2.6v2.6h-2.6zM139.17 316.89h2.6v2.6h-2.6zM149.55 320.17h2.6v2.6h-2.6zM159.94 324.17h2.6v2.6h-2.6zM170.32 340.46h2.6v2.6h-2.6zM180.71 357.33h2.6v2.6h-2.6zM97.63 311.61h2.6v2.6h-2.6zM108.01 313.74h2.6v2.6h-2.6zM118.4 313.8h2.6v2.6h-2.6zM128.78 313.81h2.6v2.6h-2.6zM139.17 314.61h2.6v2.6h-2.6zM149.55 315.04h2.6v2.6h-2.6zM159.94 318.68h2.6v2.6h-2.6zM170.32 331.68h2.6v2.6h-2.6zM180.71 350.09h2.6v2.6h-2.6zM97.63 316.43h2.6v2.6h-2.6zM108.01 316.74h2.6v2.6h-2.6zM118.4 318.37h2.6v2.6h-2.6zM128.78 317.79h2.6v2.6h-2.6zM139.17 315.93h2.6v2.6h-2.6zM149.55 318.12h2.6v2.6h-2.6zM159.94 319.9h2.6v2.6h-2.6zM170.32 329.28h2.6v2.6h-2.6zM180.71 341.95h2.6v2.6h-2.6zM97.63 313.66h2.6v2.6h-2.6zM108.01 314.44h2.6v2.6h-2.6zM118.4 313.15h2.6v2.6h-2.6zM128.78 314.29h2.6v2.6h-2.6zM139.17 314.78h2.6v2.6h-2.6zM149.55 315.47h2.6v2.6h-2.6zM159.94 317.11h2.6v2.6h-2.6zM170.32 321.7h2.6v2.6h-2.6zM180.71 331.18h2.6v2.6h-2.6zM97.63 313.21h2.6v2.6h-2.6zM108.01 312.17h2.6v2.6h-2.6zM118.4 314.84h2.6v2.6h-2.6zM128.78 315.04h2.6v2.6h-2.6zM139.17 315.13h2.6v2.6h-2.6zM149.55 312.85h2.6v2.6h-2.6zM159.94 316.49h2.6v2.6h-2.6zM170.32 318.7h2.6v2.6h-2.6zM180.71 325.71h2.6v2.6h-2.6zM97.63 317.14h2.6v2.6h-2.6zM108.01 316.81h2.6v2.6h-2.6zM118.4 315.47h2.6v2.6h-2.6zM128.78 320.67h2.6v2.6h-2.6zM139.17 324.3h2.6v2.6h-2.6zM149.55 335.11h2.6v2.6h-2.6zM159.94 346.88h2.6v2.6h-2.6zM170.32 360.34h2.6v2.6h-2.6zM180.71 370.39h2.6v2.6h-2.6zM97.63 311.77h2.6v2.6h-2.6zM108.01 313.91h2.6v2.6h-2.6zM118.4 311.43h2.6v2.6h-2.6zM128.78 314.55h2.6v2.6h-2.6zM139.17 316.52h2.6v2.6h-2.6zM149.55 320.27h2.6v2.6h-2.6zM159.94 329.69h2.6v2.6h-2.6zM170.32 342.6h2.6v2.6h-2.6zM180.71 357.11h2.6v2.6h-2.6zM97.63 308.25h2.6v2.6h-2.6zM108.01 310.09h2.6v2.6h-2.6zM118.4 308.05h2.6v2.6h-2.6zM128.78 310.94h2.6v2.6h-2.6zM139.17 310.91h2.6v2.6h-2.6zM149.55 319.22h2.6v2.6h-2.6zM159.94 334.2h2.6v2.6h-2.6zM170.32 353.83h2.6v2.6h-2.6zM180.71 368.6h2.6v2.6h-2.6z" fill="#e10a14"/>
<path d="M66.5 289.35V383.3M62.5 382.6H66.5M62.5 351.75H66.5M62.5 320.9H66.5M62.5 290.05H66.5M65.8 382.6H205.2" stroke="#000" stroke-width="1.5" fill="none"/>
<path d="M66.5 382.6v3.6M83.75 382.6v3.6M101 382.6v3.6M118.25 382.6v3.6M135.5 382.6v3.6M152.75 382.6v3.6M170 382.6v3.6M187.25 382.6v3.6M204.5 382.6v3.6" stroke="#000" stroke-width="1.3" fill="none"/>
<path d="M71.69 382.6v2M74.73 382.6v2M76.89 382.6v2M78.56 382.6v2M79.92 382.6v2M81.08 382.6v2M82.08 382.6v2M82.96 382.6v2M88.94 382.6v2M91.98 382.6v2M94.14 382.6v2M95.81 382.6v2M97.17 382.6v2M98.33 382.6v2M99.33 382.6v2M100.21 382.6v2M106.19 382.6v2M109.23 382.6v2M111.39 382.6v2M113.06 382.6v2M114.42 382.6v2M115.58 382.6v2M116.58 382.6v2M117.46 382.6v2M123.44 382.6v2M126.48 382.6v2M128.64 382.6v2M130.31 382.6v2M131.67 382.6v2M132.83 382.6v2M133.83 382.6v2M134.71 382.6v2M140.69 382.6v2M143.73 382.6v2M145.89 382.6v2M147.56 382.6v2M148.92 382.6v2M150.08 382.6v2M151.08 382.6v2M151.96 382.6v2M157.94 382.6v2M160.98 382.6v2M163.14 382.6v2M164.81 382.6v2M166.17 382.6v2M167.33 382.6v2M168.33 382.6v2M169.21 382.6v2M175.19 382.6v2M178.23 382.6v2M180.39 382.6v2M182.06 382.6v2M183.42 382.6v2M184.58 382.6v2M185.58 382.6v2M186.46 382.6v2M192.44 382.6v2M195.48 382.6v2M197.64 382.6v2M199.31 382.6v2M200.67 382.6v2M201.83 382.6v2M202.83 382.6v2M203.71 382.6v2" stroke="#000" stroke-width="0.8" fill="none"/>
<text x="60.1" y="385.9" font-size="9.2" font-weight="bold" fill="#000" color="#000" text-anchor="end">0</text>
<text x="60.1" y="355.05" font-size="9.2" font-weight="bold" fill="#000" color="#000" text-anchor="end">50</text>
<text x="60.1" y="324.2" font-size="9.2" font-weight="bold" fill="#000" color="#000" text-anchor="end">100</text>
<text x="60.1" y="293.35" font-size="9.2" font-weight="bold" fill="#000" color="#000" text-anchor="end">150</text>
<text x="57.7" y="395.7" font-size="9" font-weight="bold">10<tspan font-size="6.9" dy="-2.7">−12</tspan></text>
<text x="92.2" y="395.7" font-size="9" font-weight="bold">10<tspan font-size="6.9" dy="-2.7">−10</tspan></text>
<text x="126.7" y="395.7" font-size="9" font-weight="bold">10<tspan font-size="6.9" dy="-2.7">−8</tspan></text>
<text x="161.2" y="395.7" font-size="9" font-weight="bold">10<tspan font-size="6.9" dy="-2.7">−6</tspan></text>
<text x="195.7" y="395.7" font-size="9" font-weight="bold">10<tspan font-size="6.9" dy="-2.7">−4</tspan></text>
<line x1="67.5" y1="351.75" x2="204.5" y2="351.75" stroke="#000" stroke-width="0.9" stroke-dasharray="1.2,1.6"/>
<path d="M98.43 455.31L101.2 455.31L103.97 455.31L106.74 455.31L109.51 455.31L112.28 455.31L115.05 455.32L117.81 455.32L120.58 455.32L123.35 455.32L126.12 455.33L128.89 455.34L131.66 455.35L134.43 455.37L137.2 455.4L139.97 455.44L142.74 455.49L145.51 455.57L148.28 455.69L151.04 455.85L153.81 456.07L156.58 456.37L159.35 456.78L162.12 457.31L164.89 457.98L167.66 458.78L170.43 459.68L173.2 460.64L175.97 461.6L178.74 462.49L181.51 463.26M98.43 452.97V458.8M97.13 452.97h2.6M97.13 458.8h2.6M108.81 451.95V458.54M107.51 451.95h2.6M107.51 458.54h2.6M119.2 453.26V459.31M117.9 453.26h2.6M117.9 459.31h2.6M129.58 453.29V459.62M128.28 453.29h2.6M128.28 459.62h2.6M139.97 452.38V459.42M138.67 452.38h2.6M138.67 459.42h2.6M150.35 451.69V458.63M149.05 451.69h2.6M149.05 458.63h2.6M160.74 453.95V460.11M159.44 453.95h2.6M159.44 460.11h2.6M171.12 457.77V462.83M169.82 457.77h2.6M169.82 462.83h2.6M181.51 461.36V466.4M180.21 461.36h2.6M180.21 466.4h2.6M98.43 457.78L101.2 457.78L103.97 457.78L106.74 457.78L109.51 457.78L112.28 457.78L115.05 457.78L117.81 457.78L120.58 457.78L123.35 457.78L126.12 457.78L128.89 457.79L131.66 457.79L134.43 457.8L137.2 457.81L139.97 457.82L142.74 457.84L145.51 457.88L148.28 457.93L151.04 458.02L153.81 458.15L156.58 458.35L159.35 458.65L162.12 459.09L164.89 459.72L167.66 460.59L170.43 461.72L173.2 463.09L175.97 464.63L178.74 466.19L181.51 467.62M98.43 452.83V461.58M97.13 452.83h2.6M97.13 461.58h2.6M108.81 454.44V462.65M107.51 454.44h2.6M107.51 462.65h2.6M119.2 453.87V459.54M117.9 453.87h2.6M117.9 459.54h2.6M129.58 453.04V460.96M128.28 453.04h2.6M128.28 460.96h2.6M139.97 452.48V463.18M138.67 452.48h2.6M138.67 463.18h2.6M150.35 454.04V462.48M149.05 454.04h2.6M149.05 462.48h2.6M160.74 452.52V464.25M159.44 452.52h2.6M159.44 464.25h2.6M171.12 457.09V467.77M169.82 457.09h2.6M169.82 467.77h2.6M181.51 462.52V471.71M180.21 462.52h2.6M180.21 471.71h2.6M98.43 459.63L101.2 459.63L103.97 459.63L106.74 459.63L109.51 459.63L112.28 459.63L115.05 459.63L117.81 459.64L120.58 459.64L123.35 459.64L126.12 459.65L128.89 459.66L131.66 459.67L134.43 459.69L137.2 459.71L139.97 459.75L142.74 459.8L145.51 459.87L148.28 459.97L151.04 460.11L153.81 460.31L156.58 460.56L159.35 460.9L162.12 461.31L164.89 461.79L167.66 462.34L170.43 462.91L173.2 463.46L175.97 463.97L178.74 464.41L181.51 464.77M98.43 457.11V462.62M97.13 457.11h2.6M97.13 462.62h2.6M108.81 458.54V462.92M107.51 458.54h2.6M107.51 462.92h2.6M119.2 456.93V464.47M117.9 456.93h2.6M117.9 464.47h2.6M129.58 457.99V462.54M128.28 457.99h2.6M128.28 462.54h2.6M139.97 456.74V464.8M138.67 456.74h2.6M138.67 464.8h2.6M150.35 455.57V462.75M149.05 455.57h2.6M149.05 462.75h2.6M160.74 459.15V464.11M159.44 459.15h2.6M159.44 464.11h2.6M171.12 460.52V466.6M169.82 460.52h2.6M169.82 466.6h2.6M181.51 462.6V468.62M180.21 462.6h2.6M180.21 468.62h2.6" stroke="#111111" stroke-width="1.05" fill="none"/>
<path d="M98.43 463.34L101.2 463.34L103.97 463.34L106.74 463.34L109.51 463.35L112.28 463.35L115.05 463.36L117.81 463.37L120.58 463.38L123.35 463.4L126.12 463.43L128.89 463.47L131.66 463.52L134.43 463.59L137.2 463.7L139.97 463.84L142.74 464.03L145.51 464.3L148.28 464.66L151.04 465.15L153.81 465.81L156.58 466.67L159.35 467.77L162.12 469.14L164.89 470.8L167.66 472.73L170.43 474.87L173.2 477.11L175.97 479.34L178.74 481.44L181.51 483.33M98.43 460.3V467.54M97.13 460.3h2.6M97.13 467.54h2.6M108.81 459.45V464.9M107.51 459.45h2.6M107.51 464.9h2.6M119.2 460.38V467.63M117.9 460.38h2.6M117.9 467.63h2.6M129.58 461.64V466.26M128.28 461.64h2.6M128.28 466.26h2.6M139.97 462.7V467.44M138.67 462.7h2.6M138.67 467.44h2.6M150.35 462.45V467.71M149.05 462.45h2.6M149.05 467.71h2.6M160.74 466.63V471.68M159.44 466.63h2.6M159.44 471.68h2.6M171.12 474.81V478.48M169.82 474.81h2.6M169.82 478.48h2.6M181.51 482.48V486.2M180.21 482.48h2.6M180.21 486.2h2.6M98.43 462.72L101.2 462.72L103.97 462.72L106.74 462.72L109.51 462.73L112.28 462.73L115.05 462.74L117.81 462.75L120.58 462.77L123.35 462.79L126.12 462.82L128.89 462.85L131.66 462.91L134.43 462.98L137.2 463.09L139.97 463.23L142.74 463.43L145.51 463.7L148.28 464.06L151.04 464.53L153.81 465.16L156.58 465.95L159.35 466.94L162.12 468.12L164.89 469.47L167.66 470.95L170.43 472.49L173.2 473.99L175.97 475.39L178.74 476.64L181.51 477.69M98.43 462.26V465.44M97.13 462.26h2.6M97.13 465.44h2.6M108.81 461.17V465.26M107.51 461.17h2.6M107.51 465.26h2.6M119.2 459.86V465.23M117.9 459.86h2.6M117.9 465.23h2.6M129.58 459.29V465.21M128.28 459.29h2.6M128.28 465.21h2.6M139.97 459.26V466.14M138.67 459.26h2.6M138.67 466.14h2.6M150.35 462.43V466.92M149.05 462.43h2.6M149.05 466.92h2.6M160.74 464.45V468.16M159.44 464.45h2.6M159.44 468.16h2.6M171.12 469.62V475.01M169.82 469.62h2.6M169.82 475.01h2.6M181.51 476V481.63M180.21 476h2.6M180.21 481.63h2.6M98.43 463.95L101.2 463.95L103.97 463.95L106.74 463.95L109.51 463.96L112.28 463.96L115.05 463.96L117.81 463.97L120.58 463.97L123.35 463.98L126.12 464L128.89 464.02L131.66 464.04L134.43 464.08L137.2 464.13L139.97 464.2L142.74 464.3L145.51 464.43L148.28 464.61L151.04 464.85L153.81 465.17L156.58 465.58L159.35 466.1L162.12 466.74L164.89 467.49L167.66 468.33L170.43 469.24L173.2 470.16L175.97 471.04L178.74 471.85L181.51 472.55M98.43 460.09V465.88M97.13 460.09h2.6M97.13 465.88h2.6M108.81 460.08V466.67M107.51 460.08h2.6M107.51 466.67h2.6M119.2 462.19V467.53M117.9 462.19h2.6M117.9 467.53h2.6M129.58 460.67V467.36M128.28 460.67h2.6M128.28 467.36h2.6M139.97 460.12V466.78M138.67 460.12h2.6M138.67 466.78h2.6M150.35 461.11V468.05M149.05 461.11h2.6M149.05 468.05h2.6M160.74 462.92V468.99M159.44 462.92h2.6M159.44 468.99h2.6M171.12 468.61V471.66M169.82 468.61h2.6M169.82 471.66h2.6M181.51 471.35V475.56M180.21 471.35h2.6M180.21 475.56h2.6M98.43 463.33L101.2 463.33L103.97 463.33L106.74 463.33L109.51 463.33L112.28 463.33L115.05 463.34L117.81 463.34L120.58 463.34L123.35 463.34L126.12 463.35L128.89 463.36L131.66 463.37L134.43 463.38L137.2 463.41L139.97 463.44L142.74 463.48L145.51 463.55L148.28 463.64L151.04 463.77L153.81 463.94L156.58 464.17L159.35 464.47L162.12 464.84L164.89 465.28L167.66 465.77L170.43 466.28L173.2 466.78L175.97 467.24L178.74 467.63L181.51 467.95M98.43 460.96V467.65M97.13 460.96h2.6M97.13 467.65h2.6M108.81 460.29V466.09M107.51 460.29h2.6M107.51 466.09h2.6M119.2 460.01V466.04M117.9 460.01h2.6M117.9 466.04h2.6M129.58 461.84V464.93M128.28 461.84h2.6M128.28 464.93h2.6M139.97 459.54V465.86M138.67 459.54h2.6M138.67 465.86h2.6M150.35 461.03V466.42M149.05 461.03h2.6M149.05 466.42h2.6M160.74 462.57V465.94M159.44 462.57h2.6M159.44 465.94h2.6M171.12 463.74V467.91M169.82 463.74h2.6M169.82 467.91h2.6M181.51 466.97V471.04M180.21 466.97h2.6M180.21 471.04h2.6" stroke="#0000ff" stroke-width="1.05" fill="none"/>
<path d="M98.43 461.58L101.2 461.63L103.97 461.69L106.74 461.78L109.51 461.92L112.28 462.11L115.05 462.39L117.81 462.78L120.58 463.35L123.35 464.15L126.12 465.28L128.89 466.84L131.66 468.96L134.43 471.78L137.2 475.42L139.97 479.91L142.74 485.19L145.51 491.05L148.28 497.13L151.04 503.04L153.81 508.41L156.58 513.02L159.35 516.76L162.12 519.69L164.89 521.9L167.66 523.52L170.43 524.7L173.2 525.54L175.97 526.13L178.74 526.55L181.51 526.84M98.43 457.95V463.51M97.13 457.95h2.6M97.13 463.51h2.6M108.81 455.88V466.1M107.51 455.88h2.6M107.51 466.1h2.6M119.2 459.75V466.38M117.9 459.75h2.6M117.9 466.38h2.6M129.58 463.24V471.53M128.28 463.24h2.6M128.28 471.53h2.6M139.97 475.54V482.3M138.67 475.54h2.6M138.67 482.3h2.6M150.35 499.7V502.44M149.05 499.7h2.6M149.05 502.44h2.6M160.74 518.62V520.64M159.44 518.62h2.6M159.44 520.64h2.6M171.12 523.14V524.94M169.82 523.14h2.6M169.82 524.94h2.6M181.51 526.02V527.16M180.21 526.02h2.6M180.21 527.16h2.6M98.43 461.04L101.2 461.1L103.97 461.18L106.74 461.29L109.51 461.44L112.28 461.63L115.05 461.89L117.81 462.24L120.58 462.7L123.35 463.3L126.12 464.1L128.89 465.15L131.66 466.49L134.43 468.22L137.2 470.39L139.97 473.06L142.74 476.29L145.51 480.07L148.28 484.34L151.04 489.01L153.81 493.9L156.58 498.79L159.35 503.49L162.12 507.82L164.89 511.66L167.66 514.96L170.43 517.69L173.2 519.92L175.97 521.69L178.74 523.08L181.51 524.15M98.43 459.69V465.64M97.13 459.69h2.6M97.13 465.64h2.6M108.81 456.51V465.01M107.51 456.51h2.6M107.51 465.01h2.6M119.2 458.76V464.84M117.9 458.76h2.6M117.9 464.84h2.6M129.58 461.83V468.95M128.28 461.83h2.6M128.28 468.95h2.6M139.97 470.9V475.48M138.67 470.9h2.6M138.67 475.48h2.6M150.35 484.29V488.43M149.05 484.29h2.6M149.05 488.43h2.6M160.74 501.27V506.62M159.44 501.27h2.6M159.44 506.62h2.6M171.12 518.88V521.29M169.82 518.88h2.6M169.82 521.29h2.6M181.51 521.42V524.52M180.21 521.42h2.6M180.21 524.52h2.6M98.43 462.19L101.2 462.23L103.97 462.27L106.74 462.33L109.51 462.41L112.28 462.51L115.05 462.65L117.81 462.84L120.58 463.1L123.35 463.43L126.12 463.88L128.89 464.47L131.66 465.24L134.43 466.25L137.2 467.55L139.97 469.22L142.74 471.3L145.51 473.87L148.28 476.96L151.04 480.56L153.81 484.61L156.58 489.01L159.35 493.59L162.12 498.16L164.89 502.52L167.66 506.51L170.43 510.04L173.2 513.05L175.97 515.54L178.74 517.57L181.51 519.17M98.43 459.41V465.35M97.13 459.41h2.6M97.13 465.35h2.6M108.81 458.44V468.48M107.51 458.44h2.6M107.51 468.48h2.6M119.2 460.11V467.95M117.9 460.11h2.6M117.9 467.95h2.6M129.58 462.23V469.7M128.28 462.23h2.6M128.28 469.7h2.6M139.97 465.03V470.05M138.67 465.03h2.6M138.67 470.05h2.6M150.35 475.29V481.55M149.05 475.29h2.6M149.05 481.55h2.6M160.74 491.67V497.25M159.44 491.67h2.6M159.44 497.25h2.6M171.12 509.69V513.98M169.82 509.69h2.6M169.82 513.98h2.6M181.51 518.44V520.01M180.21 518.44h2.6M180.21 520.01h2.6M98.43 459.7L101.2 459.72L103.97 459.75L106.74 459.79L109.51 459.85L112.28 459.92L115.05 460.02L117.81 460.15L120.58 460.33L123.35 460.57L126.12 460.88L128.89 461.3L131.66 461.86L134.43 462.59L137.2 463.55L139.97 464.78L142.74 466.37L145.51 468.36L148.28 470.84L151.04 473.82L153.81 477.33L156.58 481.32L159.35 485.69L162.12 490.29L164.89 494.93L167.66 499.4L170.43 503.53L173.2 507.22L175.97 510.39L178.74 513.03L181.51 515.19M98.43 457.89V465.18M97.13 457.89h2.6M97.13 465.18h2.6M108.81 456.94V463.09M107.51 456.94h2.6M107.51 463.09h2.6M119.2 458.37V464.76M117.9 458.37h2.6M117.9 464.76h2.6M129.58 457.41V466.81M128.28 457.41h2.6M128.28 466.81h2.6M139.97 462.24V471.01M138.67 462.24h2.6M138.67 471.01h2.6M150.35 469.43V474.11M149.05 469.43h2.6M149.05 474.11h2.6M160.74 483.16V489.63M159.44 483.16h2.6M159.44 489.63h2.6M171.12 501.35V504.68M169.82 501.35h2.6M169.82 504.68h2.6M181.51 514.34V516.98M180.21 514.34h2.6M180.21 516.98h2.6M98.43 462.76L101.2 462.77L103.97 462.79L106.74 462.82L109.51 462.85L112.28 462.9L115.05 462.97L117.81 463.05L120.58 463.17L123.35 463.32L126.12 463.53L128.89 463.8L131.66 464.17L134.43 464.65L137.2 465.29L139.97 466.12L142.74 467.2L145.51 468.59L148.28 470.35L151.04 472.54L153.81 475.2L156.58 478.35L159.35 481.97L162.12 485.96L164.89 490.21L167.66 494.54L170.43 498.75L173.2 502.7L175.97 506.24L178.74 509.31L181.51 511.89M98.43 456.97V464.85M97.13 456.97h2.6M97.13 464.85h2.6M108.81 459.91V466.81M107.51 459.91h2.6M107.51 466.81h2.6M119.2 461.63V466.24M117.9 461.63h2.6M117.9 466.24h2.6M129.58 460.68V470.04M128.28 460.68h2.6M128.28 470.04h2.6M139.97 462V471.84M138.67 462h2.6M138.67 471.84h2.6M150.35 470.17V475.59M149.05 470.17h2.6M149.05 475.59h2.6M160.74 481.75V486.02M159.44 481.75h2.6M159.44 486.02h2.6M171.12 497.3V503.18M169.82 497.3h2.6M169.82 503.18h2.6M181.51 508.36V512.58M180.21 508.36h2.6M180.21 512.58h2.6M98.43 460.26L101.2 460.26L103.97 460.27L106.74 460.28L109.51 460.29L112.28 460.31L115.05 460.33L117.81 460.36L120.58 460.41L123.35 460.47L126.12 460.56L128.89 460.68L131.66 460.86L134.43 461.09L137.2 461.42L139.97 461.87L142.74 462.49L145.51 463.32L148.28 464.45L151.04 465.94L153.81 467.9L156.58 470.39L159.35 473.48L162.12 477.17L164.89 481.42L167.66 486.05L170.43 490.86L173.2 495.58L175.97 499.98L178.74 503.87L181.51 507.16M98.43 454.85V464.69M97.13 454.85h2.6M97.13 464.69h2.6M108.81 454.84V462.48M107.51 454.84h2.6M107.51 462.48h2.6M119.2 457.26V461.88M117.9 457.26h2.6M117.9 461.88h2.6M129.58 456.34V463.39M128.28 456.34h2.6M128.28 463.39h2.6M139.97 456.83V465.04M138.67 456.83h2.6M138.67 465.04h2.6M150.35 464.03V468.61M149.05 464.03h2.6M149.05 468.61h2.6M160.74 471.37V475.97M159.44 471.37h2.6M159.44 475.97h2.6M171.12 489.99V494.34M169.82 489.99h2.6M169.82 494.34h2.6M181.51 505.76V510.05M180.21 505.76h2.6M180.21 510.05h2.6M98.43 461.5L101.2 461.51L103.97 461.52L106.74 461.54L109.51 461.55L112.28 461.58L115.05 461.61L117.81 461.66L120.58 461.72L123.35 461.8L126.12 461.91L128.89 462.06L131.66 462.25L134.43 462.52L137.2 462.86L139.97 463.32L142.74 463.93L145.51 464.72L148.28 465.74L151.04 467.06L153.81 468.72L156.58 470.77L159.35 473.27L162.12 476.21L164.89 479.57L167.66 483.27L170.43 487.18L173.2 491.14L175.97 494.98L178.74 498.54L181.51 501.73M98.43 456.79V462.69M97.13 456.79h2.6M97.13 462.69h2.6M108.81 457.9V464.04M107.51 457.9h2.6M107.51 464.04h2.6M119.2 458.12V464.83M117.9 458.12h2.6M117.9 464.83h2.6M129.58 460.69V465.98M128.28 460.69h2.6M128.28 465.98h2.6M139.97 459.5V469.3M138.67 459.5h2.6M138.67 469.3h2.6M150.35 463.92V469.5M149.05 463.92h2.6M149.05 469.5h2.6M160.74 468.47V477.89M159.44 468.47h2.6M159.44 477.89h2.6M171.12 486.48V490.23M169.82 486.48h2.6M169.82 490.23h2.6M181.51 501.53V504.21M180.21 501.53h2.6M180.21 504.21h2.6M98.43 458.41L101.2 458.42L103.97 458.43L106.74 458.44L109.51 458.46L112.28 458.48L115.05 458.51L117.81 458.54L120.58 458.6L123.35 458.66L126.12 458.76L128.89 458.88L131.66 459.04L134.43 459.26L137.2 459.55L139.97 459.94L142.74 460.45L145.51 461.12L148.28 461.99L151.04 463.12L153.81 464.55L156.58 466.36L159.35 468.58L162.12 471.24L164.89 474.35L167.66 477.85L170.43 481.64L173.2 485.59L175.97 489.52L178.74 493.27L181.51 496.71M98.43 456.56V461.43M97.13 456.56h2.6M97.13 461.43h2.6M108.81 456.48V462.36M107.51 456.48h2.6M107.51 462.36h2.6M119.2 453.47V463.15M117.9 453.47h2.6M117.9 463.15h2.6M129.58 454.58V461.4M128.28 454.58h2.6M128.28 461.4h2.6M139.97 456.51V464M138.67 456.51h2.6M138.67 464h2.6M150.35 460.08V466.45M149.05 460.08h2.6M149.05 466.45h2.6M160.74 468.68V474.27M159.44 468.68h2.6M159.44 474.27h2.6M171.12 478.82V482.97M169.82 478.82h2.6M169.82 482.97h2.6M181.51 494.16V499.23M180.21 494.16h2.6M180.21 499.23h2.6M98.43 462.1L101.2 462.1L103.97 462.11L106.74 462.11L109.51 462.12L112.28 462.12L115.05 462.13L117.81 462.15L120.58 462.17L123.35 462.2L126.12 462.23L128.89 462.29L131.66 462.36L134.43 462.47L137.2 462.61L139.97 462.81L142.74 463.09L145.51 463.47L148.28 463.99L151.04 464.69L153.81 465.64L156.58 466.89L159.35 468.52L162.12 470.6L164.89 473.16L167.66 476.21L170.43 479.69L173.2 483.47L175.97 487.36L178.74 491.15L181.51 494.66M98.43 457.95V463.57M97.13 457.95h2.6M97.13 463.57h2.6M108.81 460.05V465.87M107.51 460.05h2.6M107.51 465.87h2.6M119.2 459.02V466.04M117.9 459.02h2.6M117.9 466.04h2.6M129.58 455.9V465.35M128.28 455.9h2.6M128.28 465.35h2.6M139.97 459.21V463.66M138.67 459.21h2.6M138.67 463.66h2.6M150.35 461.94V470.51M149.05 461.94h2.6M149.05 470.51h2.6M160.74 464.54V471.53M159.44 464.54h2.6M159.44 471.53h2.6M171.12 478.51V482.07M169.82 478.51h2.6M169.82 482.07h2.6M181.51 491.86V498.26M180.21 491.86h2.6M180.21 498.26h2.6M98.43 460.88L101.2 460.88L103.97 460.89L106.74 460.89L109.51 460.9L112.28 460.92L115.05 460.94L117.81 460.96L120.58 460.99L123.35 461.04L126.12 461.1L128.89 461.18L131.66 461.28L134.43 461.43L137.2 461.62L139.97 461.87L142.74 462.21L145.51 462.65L148.28 463.23L151.04 463.98L153.81 464.95L156.58 466.17L159.35 467.7L162.12 469.57L164.89 471.78L167.66 474.33L170.43 477.17L173.2 480.19L175.97 483.29L178.74 486.32L181.51 489.17M98.43 454.93V464.42M97.13 454.93h2.6M97.13 464.42h2.6M108.81 456.24V462.06M107.51 456.24h2.6M107.51 462.06h2.6M119.2 459.8V465.05M117.9 459.8h2.6M117.9 465.05h2.6M129.58 456.9V465.34M128.28 456.9h2.6M128.28 465.34h2.6M139.97 455.89V464.58M138.67 455.89h2.6M138.67 464.58h2.6M150.35 458.75V467.7M149.05 458.75h2.6M149.05 467.7h2.6M160.74 465.06V472.44M159.44 465.06h2.6M159.44 472.44h2.6M171.12 475.85V483.38M169.82 475.85h2.6M169.82 483.38h2.6M181.51 486.68V493.64M180.21 486.68h2.6M180.21 493.64h2.6M98.43 459.64L101.2 459.64L103.97 459.64L106.74 459.65L109.51 459.65L112.28 459.66L115.05 459.67L117.81 459.69L120.58 459.71L123.35 459.74L126.12 459.77L128.89 459.82L131.66 459.89L134.43 459.98L137.2 460.09L139.97 460.25L142.74 460.45L145.51 460.73L148.28 461.09L151.04 461.56L153.81 462.17L156.58 462.95L159.35 463.93L162.12 465.14L164.89 466.61L167.66 468.34L170.43 470.3L173.2 472.44L175.97 474.7L178.74 476.97L181.51 479.16M98.43 456.02V462.18M97.13 456.02h2.6M97.13 462.18h2.6M108.81 458.11V463.95M107.51 458.11h2.6M107.51 463.95h2.6M119.2 454.92V463.47M117.9 454.92h2.6M117.9 463.47h2.6M129.58 458.9V463.64M128.28 458.9h2.6M128.28 463.64h2.6M139.97 456.24V464.08M138.67 456.24h2.6M138.67 464.08h2.6M150.35 459.01V464.68M149.05 459.01h2.6M149.05 464.68h2.6M160.74 461.94V466.32M159.44 461.94h2.6M159.44 466.32h2.6M171.12 468.25V474.86M169.82 468.25h2.6M169.82 474.86h2.6M181.51 473.93V480.99M180.21 473.93h2.6M180.21 480.99h2.6M98.43 462.72L101.2 462.72L103.97 462.72L106.74 462.72L109.51 462.73L112.28 462.73L115.05 462.74L117.81 462.74L120.58 462.75L123.35 462.77L126.12 462.79L128.89 462.81L131.66 462.84L134.43 462.89L137.2 462.95L139.97 463.02L142.74 463.13L145.51 463.26L148.28 463.44L151.04 463.68L153.81 463.98L156.58 464.37L159.35 464.86L162.12 465.47L164.89 466.21L167.66 467.07L170.43 468.05L173.2 469.12L175.97 470.25L178.74 471.38L181.51 472.48M98.43 457.7V464.89M97.13 457.7h2.6M97.13 464.89h2.6M108.81 460.8V466.61M107.51 460.8h2.6M107.51 466.61h2.6M119.2 456.75V465.33M117.9 456.75h2.6M117.9 465.33h2.6M129.58 461.31V465.76M128.28 461.31h2.6M128.28 465.76h2.6M139.97 458.83V467.23M138.67 458.83h2.6M138.67 467.23h2.6M150.35 460.97V466.85M149.05 460.97h2.6M149.05 466.85h2.6M160.74 459.58V469.49M159.44 459.58h2.6M159.44 469.49h2.6M171.12 467.16V471.49M169.82 467.16h2.6M169.82 471.49h2.6M181.51 469.95V476.21M180.21 469.95h2.6M180.21 476.21h2.6M98.43 459.12L101.2 459.16L103.97 459.2L106.74 459.25L109.51 459.32L112.28 459.41L115.05 459.53L117.81 459.68L120.58 459.87L123.35 460.12L126.12 460.44L128.89 460.85L131.66 461.37L134.43 462.04L137.2 462.87L139.97 463.92L142.74 465.23L145.51 466.83L148.28 468.77L151.04 471.08L153.81 473.78L156.58 476.86L159.35 480.3L162.12 484.01L164.89 487.9L167.66 491.85L170.43 495.72L173.2 499.39L175.97 502.77L178.74 505.8L181.51 508.44M98.43 455.69V461.21M97.13 455.69h2.6M97.13 461.21h2.6M108.81 453.81V462.6M107.51 453.81h2.6M107.51 462.6h2.6M119.2 456.97V462.53M117.9 456.97h2.6M117.9 462.53h2.6M129.58 456.13V462.33M128.28 456.13h2.6M128.28 462.33h2.6M139.97 459.88V465.6M138.67 459.88h2.6M138.67 465.6h2.6M150.35 467.34V475.64M149.05 467.34h2.6M149.05 475.64h2.6M160.74 478.89V486.88M159.44 478.89h2.6M159.44 486.88h2.6M171.12 494.97V498.38M169.82 494.97h2.6M169.82 498.38h2.6M181.51 507.85V511.06M180.21 507.85h2.6M180.21 511.06h2.6" stroke="#e10a14" stroke-width="1.05" fill="none"/>
<path d="M97.13 454.58h2.6v2.6h-2.6zM107.51 453.95h2.6v2.6h-2.6zM117.9 454.98h2.6v2.6h-2.6zM128.28 455.15h2.6v2.6h-2.6zM138.67 454.6h2.6v2.6h-2.6zM149.05 453.86h2.6v2.6h-2.6zM159.44 455.73h2.6v2.6h-2.6zM169.82 459h2.6v2.6h-2.6zM180.21 462.58h2.6v2.6h-2.6zM97.13 455.9h2.6v2.6h-2.6zM107.51 457.25h2.6v2.6h-2.6zM117.9 455.41h2.6v2.6h-2.6zM128.28 455.7h2.6v2.6h-2.6zM138.67 456.53h2.6v2.6h-2.6zM149.05 456.96h2.6v2.6h-2.6zM159.44 457.08h2.6v2.6h-2.6zM169.82 461.13h2.6v2.6h-2.6zM180.21 465.81h2.6v2.6h-2.6zM97.13 458.57h2.6v2.6h-2.6zM107.51 459.43h2.6v2.6h-2.6zM117.9 459.4h2.6v2.6h-2.6zM128.28 458.96h2.6v2.6h-2.6zM138.67 459.47h2.6v2.6h-2.6zM149.05 457.86h2.6v2.6h-2.6zM159.44 460.33h2.6v2.6h-2.6zM169.82 462.26h2.6v2.6h-2.6zM180.21 464.31h2.6v2.6h-2.6z" fill="#111111"/>
<path d="M97.13 462.62h2.6v2.6h-2.6zM107.51 460.88h2.6v2.6h-2.6zM117.9 462.71h2.6v2.6h-2.6zM128.28 462.65h2.6v2.6h-2.6zM138.67 463.77h2.6v2.6h-2.6zM149.05 463.78h2.6v2.6h-2.6zM159.44 467.86h2.6v2.6h-2.6zM169.82 475.34h2.6v2.6h-2.6zM180.21 483.04h2.6v2.6h-2.6zM97.13 462.55h2.6v2.6h-2.6zM107.51 461.91h2.6v2.6h-2.6zM117.9 461.25h2.6v2.6h-2.6zM128.28 460.95h2.6v2.6h-2.6zM138.67 461.4h2.6v2.6h-2.6zM149.05 463.37h2.6v2.6h-2.6zM159.44 465.01h2.6v2.6h-2.6zM169.82 471.02h2.6v2.6h-2.6zM180.21 477.51h2.6v2.6h-2.6zM97.13 461.68h2.6v2.6h-2.6zM107.51 462.08h2.6v2.6h-2.6zM117.9 463.56h2.6v2.6h-2.6zM128.28 462.71h2.6v2.6h-2.6zM138.67 462.15h2.6v2.6h-2.6zM149.05 463.28h2.6v2.6h-2.6zM159.44 464.65h2.6v2.6h-2.6zM169.82 468.83h2.6v2.6h-2.6zM180.21 472.16h2.6v2.6h-2.6zM97.13 463.01h2.6v2.6h-2.6zM107.51 461.89h2.6v2.6h-2.6zM117.9 461.73h2.6v2.6h-2.6zM128.28 462.09h2.6v2.6h-2.6zM138.67 461.4h2.6v2.6h-2.6zM149.05 462.42h2.6v2.6h-2.6zM159.44 462.95h2.6v2.6h-2.6zM169.82 464.52h2.6v2.6h-2.6zM180.21 467.7h2.6v2.6h-2.6z" fill="#0000ff"/>
<path d="M97.13 459.43h2.6v2.6h-2.6zM107.51 459.69h2.6v2.6h-2.6zM117.9 461.76h2.6v2.6h-2.6zM128.28 466.09h2.6v2.6h-2.6zM138.67 477.62h2.6v2.6h-2.6zM149.05 499.77h2.6v2.6h-2.6zM159.44 518.33h2.6v2.6h-2.6zM169.82 522.74h2.6v2.6h-2.6zM180.21 525.29h2.6v2.6h-2.6zM97.13 461.37h2.6v2.6h-2.6zM107.51 459.46h2.6v2.6h-2.6zM117.9 460.5h2.6v2.6h-2.6zM128.28 464.09h2.6v2.6h-2.6zM138.67 471.89h2.6v2.6h-2.6zM149.05 485.06h2.6v2.6h-2.6zM159.44 502.64h2.6v2.6h-2.6zM169.82 518.78h2.6v2.6h-2.6zM180.21 521.67h2.6v2.6h-2.6zM97.13 461.08h2.6v2.6h-2.6zM107.51 462.16h2.6v2.6h-2.6zM117.9 462.73h2.6v2.6h-2.6zM128.28 464.67h2.6v2.6h-2.6zM138.67 466.24h2.6v2.6h-2.6zM149.05 477.12h2.6v2.6h-2.6zM159.44 493.16h2.6v2.6h-2.6zM169.82 510.54h2.6v2.6h-2.6zM180.21 517.92h2.6v2.6h-2.6zM97.13 460.23h2.6v2.6h-2.6zM107.51 458.71h2.6v2.6h-2.6zM117.9 460.27h2.6v2.6h-2.6zM128.28 460.81h2.6v2.6h-2.6zM138.67 465.33h2.6v2.6h-2.6zM149.05 470.47h2.6v2.6h-2.6zM159.44 485.1h2.6v2.6h-2.6zM169.82 501.72h2.6v2.6h-2.6zM180.21 514.36h2.6v2.6h-2.6zM97.13 459.61h2.6v2.6h-2.6zM107.51 462.06h2.6v2.6h-2.6zM117.9 462.64h2.6v2.6h-2.6zM128.28 464.06h2.6v2.6h-2.6zM138.67 465.62h2.6v2.6h-2.6zM149.05 471.58h2.6v2.6h-2.6zM159.44 482.58h2.6v2.6h-2.6zM169.82 498.94h2.6v2.6h-2.6zM180.21 509.17h2.6v2.6h-2.6zM97.13 458.47h2.6v2.6h-2.6zM107.51 457.36h2.6v2.6h-2.6zM117.9 458.27h2.6v2.6h-2.6zM128.28 458.56h2.6v2.6h-2.6zM138.67 459.63h2.6v2.6h-2.6zM149.05 465.02h2.6v2.6h-2.6zM159.44 472.37h2.6v2.6h-2.6zM169.82 490.86h2.6v2.6h-2.6zM180.21 506.61h2.6v2.6h-2.6zM97.13 458.44h2.6v2.6h-2.6zM107.51 459.67h2.6v2.6h-2.6zM117.9 460.18h2.6v2.6h-2.6zM128.28 462.03h2.6v2.6h-2.6zM138.67 463.1h2.6v2.6h-2.6zM149.05 465.41h2.6v2.6h-2.6zM159.44 471.88h2.6v2.6h-2.6zM169.82 487.06h2.6v2.6h-2.6zM180.21 501.57h2.6v2.6h-2.6zM97.13 457.7h2.6v2.6h-2.6zM107.51 458.12h2.6v2.6h-2.6zM117.9 457.01h2.6v2.6h-2.6zM128.28 456.69h2.6v2.6h-2.6zM138.67 458.95h2.6v2.6h-2.6zM149.05 461.96h2.6v2.6h-2.6zM159.44 470.18h2.6v2.6h-2.6zM169.82 479.59h2.6v2.6h-2.6zM180.21 495.4h2.6v2.6h-2.6zM97.13 459.46h2.6v2.6h-2.6zM107.51 461.66h2.6v2.6h-2.6zM117.9 461.23h2.6v2.6h-2.6zM128.28 459.32h2.6v2.6h-2.6zM138.67 460.13h2.6v2.6h-2.6zM149.05 464.92h2.6v2.6h-2.6zM159.44 466.73h2.6v2.6h-2.6zM169.82 478.99h2.6v2.6h-2.6zM180.21 493.76h2.6v2.6h-2.6zM97.13 458.37h2.6v2.6h-2.6zM107.51 457.85h2.6v2.6h-2.6zM117.9 461.12h2.6v2.6h-2.6zM128.28 459.82h2.6v2.6h-2.6zM138.67 458.94h2.6v2.6h-2.6zM149.05 461.93h2.6v2.6h-2.6zM159.44 467.45h2.6v2.6h-2.6zM169.82 478.31h2.6v2.6h-2.6zM180.21 488.86h2.6v2.6h-2.6zM97.13 457.8h2.6v2.6h-2.6zM107.51 459.73h2.6v2.6h-2.6zM117.9 457.89h2.6v2.6h-2.6zM128.28 459.97h2.6v2.6h-2.6zM138.67 458.86h2.6v2.6h-2.6zM149.05 460.54h2.6v2.6h-2.6zM159.44 462.83h2.6v2.6h-2.6zM169.82 470.25h2.6v2.6h-2.6zM180.21 476.16h2.6v2.6h-2.6zM97.13 460h2.6v2.6h-2.6zM107.51 462.41h2.6v2.6h-2.6zM117.9 459.74h2.6v2.6h-2.6zM128.28 462.23h2.6v2.6h-2.6zM138.67 461.73h2.6v2.6h-2.6zM149.05 462.61h2.6v2.6h-2.6zM159.44 463.23h2.6v2.6h-2.6zM169.82 468.02h2.6v2.6h-2.6zM180.21 471.78h2.6v2.6h-2.6zM97.13 457.15h2.6v2.6h-2.6zM107.51 456.9h2.6v2.6h-2.6zM117.9 458.45h2.6v2.6h-2.6zM128.28 457.93h2.6v2.6h-2.6zM138.67 461.44h2.6v2.6h-2.6zM149.05 470.19h2.6v2.6h-2.6zM159.44 481.58h2.6v2.6h-2.6zM169.82 495.37h2.6v2.6h-2.6zM180.21 508.16h2.6v2.6h-2.6z" fill="#e10a14"/>
<path d="M66 434.25V528.2M62 527.5H66M62 496.65H66M62 465.8H66M62 434.95H66M65.3 527.5H204.7" stroke="#000" stroke-width="1.5" fill="none"/>
<path d="M66 527.5v3.6M83.25 527.5v3.6M100.5 527.5v3.6M117.75 527.5v3.6M135 527.5v3.6M152.25 527.5v3.6M169.5 527.5v3.6M186.75 527.5v3.6M204 527.5v3.6" stroke="#000" stroke-width="1.3" fill="none"/>
<path d="M71.19 527.5v2M74.23 527.5v2M76.39 527.5v2M78.06 527.5v2M79.42 527.5v2M80.58 527.5v2M81.58 527.5v2M82.46 527.5v2M88.44 527.5v2M91.48 527.5v2M93.64 527.5v2M95.31 527.5v2M96.67 527.5v2M97.83 527.5v2M98.83 527.5v2M99.71 527.5v2M105.69 527.5v2M108.73 527.5v2M110.89 527.5v2M112.56 527.5v2M113.92 527.5v2M115.08 527.5v2M116.08 527.5v2M116.96 527.5v2M122.94 527.5v2M125.98 527.5v2M128.14 527.5v2M129.81 527.5v2M131.17 527.5v2M132.33 527.5v2M133.33 527.5v2M134.21 527.5v2M140.19 527.5v2M143.23 527.5v2M145.39 527.5v2M147.06 527.5v2M148.42 527.5v2M149.58 527.5v2M150.58 527.5v2M151.46 527.5v2M157.44 527.5v2M160.48 527.5v2M162.64 527.5v2M164.31 527.5v2M165.67 527.5v2M166.83 527.5v2M167.83 527.5v2M168.71 527.5v2M174.69 527.5v2M177.73 527.5v2M179.89 527.5v2M181.56 527.5v2M182.92 527.5v2M184.08 527.5v2M185.08 527.5v2M185.96 527.5v2M191.94 527.5v2M194.98 527.5v2M197.14 527.5v2M198.81 527.5v2M200.17 527.5v2M201.33 527.5v2M202.33 527.5v2M203.21 527.5v2" stroke="#000" stroke-width="0.8" fill="none"/>
<text x="59.6" y="530.8" font-size="9.2" font-weight="bold" fill="#000" color="#000" text-anchor="end">0</text>
<text x="59.6" y="499.95" font-size="9.2" font-weight="bold" fill="#000" color="#000" text-anchor="end">50</text>
<text x="59.6" y="469.1" font-size="9.2" font-weight="bold" fill="#000" color="#000" text-anchor="end">100</text>
<text x="59.6" y="438.25" font-size="9.2" font-weight="bold" fill="#000" color="#000" text-anchor="end">150</text>
<text x="57.2" y="540.6" font-size="9" font-weight="bold">10<tspan font-size="6.9" dy="-2.7">−12</tspan></text>
<text x="91.7" y="540.6" font-size="9" font-weight="bold">10<tspan font-size="6.9" dy="-2.7">−10</tspan></text>
<text x="126.2" y="540.6" font-size="9" font-weight="bold">10<tspan font-size="6.9" dy="-2.7">−8</tspan></text>
<text x="160.7" y="540.6" font-size="9" font-weight="bold">10<tspan font-size="6.9" dy="-2.7">−6</tspan></text>
<text x="195.2" y="540.6" font-size="9" font-weight="bold">10<tspan font-size="6.9" dy="-2.7">−4</tspan></text>
<line x1="67" y1="496.65" x2="204" y2="496.65" stroke="#000" stroke-width="0.9" stroke-dasharray="1.2,1.6"/>
<path d="M272.18 456.52L275.89 456.52L279.6 456.52L283.3 456.52L287.01 456.52L290.72 456.52L294.43 456.52L298.14 456.52L301.85 456.52L305.55 456.52L309.26 456.52L312.97 456.52L316.68 456.54L320.39 456.98L324.1 464.32L327.8 500.74L331.51 514.9L335.22 515.88L338.93 515.94L342.64 515.94L346.35 515.94L350.05 515.94L353.76 515.94L357.47 515.94L361.18 515.94L364.89 515.94L368.6 515.94L372.3 515.94L376.01 515.94L379.72 515.94L383.43 515.94M272.18 449.1V463.52M270.88 449.1h2.6M270.88 463.52h2.6M286.09 452.15V461.75M284.79 452.15h2.6M284.79 461.75h2.6M299.99 449.55V464.19M298.69 449.55h2.6M298.69 464.19h2.6M313.9 453.64V460.28M312.6 453.64h2.6M312.6 460.28h2.6M327.8 498.55V504.02M326.5 498.55h2.6M326.5 504.02h2.6M341.71 512.69V518.2M340.41 512.69h2.6M340.41 518.2h2.6M355.62 512.71V518.59M354.32 512.71h2.6M354.32 518.59h2.6M369.52 513.6V517.21M368.22 513.6h2.6M368.22 517.21h2.6M383.43 513.56V519.1M382.13 513.56h2.6M382.13 519.1h2.6M272.18 462.71L275.89 462.71L279.6 462.71L283.3 462.71L287.01 462.71L290.72 462.71L294.43 462.71L298.14 462.71L301.85 462.71L305.55 462.71L309.26 462.71L312.97 462.71L316.68 462.71L320.39 462.72L324.1 462.73L327.8 462.73L331.51 462.75L335.22 462.77L338.93 462.79L342.64 462.83L346.35 462.88L350.05 462.94L353.76 463.03L357.47 463.15L361.18 463.28L364.89 463.44L368.6 463.61L372.3 463.78L376.01 463.94L379.72 464.08L383.43 464.2M272.18 460.16V464.04M270.88 460.16h2.6M270.88 464.04h2.6M286.09 459.46V465.14M284.79 459.46h2.6M284.79 465.14h2.6M299.99 460.3V465.74M298.69 460.3h2.6M298.69 465.74h2.6M313.9 461.67V465.4M312.6 461.67h2.6M312.6 465.4h2.6M327.8 460.51V466.05M326.5 460.51h2.6M326.5 466.05h2.6M341.71 459.51V463.87M340.41 459.51h2.6M340.41 463.87h2.6M355.62 459.54V464.33M354.32 459.54h2.6M354.32 464.33h2.6M369.52 460.01V468M368.22 460.01h2.6M368.22 468h2.6M383.43 460.42V466.38M382.13 460.42h2.6M382.13 466.38h2.6M272.18 460.85L275.89 460.85L279.6 460.85L283.3 460.85L287.01 460.85L290.72 460.85L294.43 460.85L298.14 460.85L301.85 460.86L305.55 460.86L309.26 460.87L312.97 460.88L316.68 460.89L320.39 460.91L324.1 460.95L327.8 461L331.51 461.07L335.22 461.19L338.93 461.35L342.64 461.6L346.35 461.97L350.05 462.51L353.76 463.29L357.47 464.4L361.18 465.95L364.89 468.04L368.6 470.74L372.3 474.02L376.01 477.77L379.72 481.71L383.43 485.55M272.18 458.88V465.05M270.88 458.88h2.6M270.88 465.05h2.6M286.09 456.92V465.41M284.79 456.92h2.6M284.79 465.41h2.6M299.99 458.81V464.42M298.69 458.81h2.6M298.69 464.42h2.6M313.9 457.96V461.83M312.6 457.96h2.6M312.6 461.83h2.6M327.8 457.25V465.19M326.5 457.25h2.6M326.5 465.19h2.6M341.71 458.91V462.83M340.41 458.91h2.6M340.41 462.83h2.6M355.62 462.93V466.97M354.32 462.93h2.6M354.32 466.97h2.6M369.52 468.09V472.85M368.22 468.09h2.6M368.22 472.85h2.6M383.43 481.72V488.16M382.13 481.72h2.6M382.13 488.16h2.6" stroke="#111111" stroke-width="1.05" fill="none"/>
<path d="M272.18 463.4L275.89 463.43L279.6 463.48L283.3 463.55L287.01 463.65L290.72 463.8L294.43 464L298.14 464.3L301.85 464.73L305.55 465.34L309.26 466.19L312.97 467.39L316.68 469.03L320.39 471.24L324.1 474.14L327.8 477.8L331.51 482.22L335.22 487.26L338.93 492.68L342.64 498.12L346.35 503.23L350.05 507.74L353.76 511.5L357.47 514.49L361.18 516.79L364.89 518.5L368.6 519.74L372.3 520.64L376.01 521.28L379.72 521.72L383.43 522.04M272.18 461.66V465.93M270.88 461.66h2.6M270.88 465.93h2.6M286.09 459.6V465.37M284.79 459.6h2.6M284.79 465.37h2.6M299.99 461.99V468.19M298.69 461.99h2.6M298.69 468.19h2.6M313.9 466.13V470.29M312.6 466.13h2.6M312.6 470.29h2.6M327.8 476.36V481.7M326.5 476.36h2.6M326.5 481.7h2.6M341.71 493.89V497.61M340.41 493.89h2.6M340.41 497.61h2.6M355.62 511.29V512.7M354.32 511.29h2.6M354.32 512.7h2.6M369.52 519.79V521.52M368.22 519.79h2.6M368.22 521.52h2.6M383.43 519.7V522.11M382.13 519.7h2.6M382.13 522.11h2.6M272.18 464.63L275.89 464.66L279.6 464.7L283.3 464.75L287.01 464.83L290.72 464.93L294.43 465.08L298.14 465.28L301.85 465.56L305.55 465.94L309.26 466.47L312.97 467.19L316.68 468.15L320.39 469.44L324.1 471.13L327.8 473.3L331.51 476.02L335.22 479.3L338.93 483.12L342.64 487.34L346.35 491.79L350.05 496.22L353.76 500.4L357.47 504.14L361.18 507.35L364.89 509.99L368.6 512.1L372.3 513.73L376.01 514.97L379.72 515.9L383.43 516.59M272.18 462.82V467.01M270.88 462.82h2.6M270.88 467.01h2.6M286.09 462.36V467.6M284.79 462.36h2.6M284.79 467.6h2.6M299.99 462.41V466.29M298.69 462.41h2.6M298.69 466.29h2.6M313.9 463.54V469.77M312.6 463.54h2.6M312.6 469.77h2.6M327.8 469.54V475.46M326.5 469.54h2.6M326.5 475.46h2.6M341.71 484.28V487.69M340.41 484.28h2.6M340.41 487.69h2.6M355.62 501.49V504.07M354.32 501.49h2.6M354.32 504.07h2.6M369.52 511.09V512.61M368.22 511.09h2.6M368.22 512.61h2.6M383.43 516.14V518.53M382.13 516.14h2.6M382.13 518.53h2.6M272.18 463.34L275.89 463.34L279.6 463.35L283.3 463.35L287.01 463.37L290.72 463.38L294.43 463.41L298.14 463.44L301.85 463.49L305.55 463.55L309.26 463.64L312.97 463.76L316.68 463.92L320.39 464.15L324.1 464.46L327.8 464.87L331.51 465.41L335.22 466.12L338.93 467.02L342.64 468.13L346.35 469.44L350.05 470.92L353.76 472.53L357.47 474.17L361.18 475.76L364.89 477.23L368.6 478.51L372.3 479.58L376.01 480.45L379.72 481.13L383.43 481.66M272.18 462.27V465.65M270.88 462.27h2.6M270.88 465.65h2.6M286.09 461.77V467.26M284.79 461.77h2.6M284.79 467.26h2.6M299.99 460.22V467.56M298.69 460.22h2.6M298.69 467.56h2.6M313.9 459.16V466.53M312.6 459.16h2.6M312.6 466.53h2.6M327.8 463.72V467.18M326.5 463.72h2.6M326.5 467.18h2.6M341.71 466.3V471.36M340.41 466.3h2.6M340.41 471.36h2.6M355.62 470.53V475.13M354.32 470.53h2.6M354.32 475.13h2.6M369.52 477.41V481.5M368.22 477.41h2.6M368.22 481.5h2.6M383.43 478.92V483.8M382.13 478.92h2.6M382.13 483.8h2.6M272.18 463.94L275.89 463.95L279.6 463.95L283.3 463.95L287.01 463.95L290.72 463.95L294.43 463.96L298.14 463.96L301.85 463.97L305.55 463.99L309.26 464.01L312.97 464.03L316.68 464.07L320.39 464.13L324.1 464.21L327.8 464.33L331.51 464.5L335.22 464.73L338.93 465.06L342.64 465.5L346.35 466.11L350.05 466.89L353.76 467.87L357.47 469.05L361.18 470.38L364.89 471.8L368.6 473.21L372.3 474.52L376.01 475.67L379.72 476.62L383.43 477.37M272.18 459.95V466.71M270.88 459.95h2.6M270.88 466.71h2.6M286.09 461.73V465.35M284.79 461.73h2.6M284.79 465.35h2.6M299.99 460.94V465.31M298.69 460.94h2.6M298.69 465.31h2.6M313.9 461.52V466.23M312.6 461.52h2.6M312.6 466.23h2.6M327.8 461.76V465.72M326.5 461.76h2.6M326.5 465.72h2.6M341.71 463.93V468.08M340.41 463.93h2.6M340.41 468.08h2.6M355.62 465.98V472.61M354.32 465.98h2.6M354.32 472.61h2.6M369.52 471.31V475.4M368.22 471.31h2.6M368.22 475.4h2.6M383.43 474.46V480.79M382.13 474.46h2.6M382.13 480.79h2.6" stroke="#0000ff" stroke-width="1.05" fill="none"/>
<path d="M272.18 458.37L275.89 458.37L279.6 458.37L283.3 458.37L287.01 458.37L290.72 458.37L294.43 458.38L298.14 458.38L301.85 458.38L305.55 458.39L309.26 458.39L312.97 458.4L316.68 458.41L320.39 458.43L324.1 458.45L327.8 458.49L331.51 458.54L335.22 458.61L338.93 458.72L342.64 458.86L346.35 459.06L350.05 459.33L353.76 459.68L357.47 460.13L361.18 460.68L364.89 461.3L368.6 461.97L372.3 462.66L376.01 463.3L379.72 463.87L383.43 464.35M272.18 455.07V461.62M270.88 455.07h2.6M270.88 461.62h2.6M286.09 452.49V461.97M284.79 452.49h2.6M284.79 461.97h2.6M299.99 453.73V459.39M298.69 453.73h2.6M298.69 459.39h2.6M313.9 453.18V463.81M312.6 453.18h2.6M312.6 463.81h2.6M327.8 451.58V462.87M326.5 451.58h2.6M326.5 462.87h2.6M341.71 457.04V464.02M340.41 457.04h2.6M340.41 464.02h2.6M355.62 458.18V464.44M354.32 458.18h2.6M354.32 464.44h2.6M369.52 455.89V464.89M368.22 455.89h2.6M368.22 464.89h2.6M383.43 458.99V466.52M382.13 458.99h2.6M382.13 466.52h2.6M272.18 459.62L275.89 459.63L279.6 459.63L283.3 459.64L287.01 459.65L290.72 459.67L294.43 459.69L298.14 459.72L301.85 459.75L305.55 459.8L309.26 459.87L312.97 459.96L316.68 460.07L320.39 460.23L324.1 460.44L327.8 460.71L331.51 461.07L335.22 461.54L338.93 462.15L342.64 462.93L346.35 463.92L350.05 465.13L353.76 466.6L357.47 468.33L361.18 470.3L364.89 472.45L368.6 474.71L372.3 476.99L376.01 479.19L379.72 481.22L383.43 483.03M272.18 454.23V462.3M270.88 454.23h2.6M270.88 462.3h2.6M286.09 455.37V465.71M284.79 455.37h2.6M284.79 465.71h2.6M299.99 455.24V460.92M298.69 455.24h2.6M298.69 460.92h2.6M313.9 455V464.25M312.6 455h2.6M312.6 464.25h2.6M327.8 458V465.51M326.5 458h2.6M326.5 465.51h2.6M341.71 460.87V467.23M340.41 460.87h2.6M340.41 467.23h2.6M355.62 463.93V472.76M354.32 463.93h2.6M354.32 472.76h2.6M369.52 471.88V477.56M368.22 471.88h2.6M368.22 477.56h2.6M383.43 482.07V487.62M382.13 482.07h2.6M382.13 487.62h2.6M272.18 460.88L275.89 460.89L279.6 460.91L283.3 460.93L287.01 460.95L290.72 460.99L294.43 461.04L298.14 461.11L301.85 461.19L305.55 461.31L309.26 461.47L312.97 461.68L316.68 461.95L320.39 462.32L324.1 462.79L327.8 463.41L331.51 464.21L335.22 465.23L338.93 466.5L342.64 468.06L346.35 469.91L350.05 472.06L353.76 474.45L357.47 477.02L361.18 479.67L364.89 482.28L368.6 484.75L372.3 486.98L376.01 488.94L379.72 490.6L383.43 491.96M272.18 457.1V463.34M270.88 457.1h2.6M270.88 463.34h2.6M286.09 458.46V464.83M284.79 458.46h2.6M284.79 464.83h2.6M299.99 455.67V464.43M298.69 455.67h2.6M298.69 464.43h2.6M313.9 460.53V466.19M312.6 460.53h2.6M312.6 466.19h2.6M327.8 459.42V468.19M326.5 459.42h2.6M326.5 468.19h2.6M341.71 464.38V469.87M340.41 464.38h2.6M340.41 469.87h2.6M355.62 472.75V481.2M354.32 472.75h2.6M354.32 481.2h2.6M369.52 483.04V488.29M368.22 483.04h2.6M368.22 488.29h2.6M383.43 488.78V496.57M382.13 488.78h2.6M382.13 496.57h2.6M272.18 462.17L275.89 462.19L279.6 462.22L283.3 462.26L287.01 462.32L290.72 462.38L294.43 462.47L298.14 462.58L301.85 462.73L305.55 462.91L309.26 463.15L312.97 463.45L316.68 463.84L320.39 464.33L324.1 464.95L327.8 465.73L331.51 466.69L335.22 467.87L338.93 469.29L342.64 470.99L346.35 472.97L350.05 475.22L353.76 477.72L357.47 480.42L361.18 483.23L364.89 486.06L368.6 488.83L372.3 491.45L376.01 493.86L379.72 496L383.43 497.86M272.18 458.42V467.3M270.88 458.42h2.6M270.88 467.3h2.6M286.09 458.91V466.75M284.79 458.91h2.6M284.79 466.75h2.6M299.99 455.37V467.23M298.69 455.37h2.6M298.69 467.23h2.6M313.9 460.89V467.21M312.6 460.89h2.6M312.6 467.21h2.6M327.8 461.7V468.06M326.5 461.7h2.6M326.5 468.06h2.6M341.71 467.22V477.53M340.41 467.22h2.6M340.41 477.53h2.6M355.62 474.89V483.78M354.32 474.89h2.6M354.32 483.78h2.6M369.52 485.93V493.78M368.22 485.93h2.6M368.22 493.78h2.6M383.43 496.15V499.86M382.13 496.15h2.6M382.13 499.86h2.6M272.18 460.36L275.89 460.4L279.6 460.45L283.3 460.52L287.01 460.6L290.72 460.71L294.43 460.85L298.14 461.03L301.85 461.27L305.55 461.57L309.26 461.95L312.97 462.43L316.68 463.05L320.39 463.82L324.1 464.79L327.8 465.99L331.51 467.46L335.22 469.22L338.93 471.31L342.64 473.73L346.35 476.47L350.05 479.49L353.76 482.72L357.47 486.06L361.18 489.41L364.89 492.66L368.6 495.7L372.3 498.47L376.01 500.92L379.72 503.05L383.43 504.84M272.18 457.78V466.55M270.88 457.78h2.6M270.88 466.55h2.6M286.09 454.43V465.69M284.79 454.43h2.6M284.79 465.69h2.6M299.99 458.04V467.3M298.69 458.04h2.6M298.69 467.3h2.6M313.9 458.83V467.28M312.6 458.83h2.6M312.6 467.28h2.6M327.8 463.91V470.7M326.5 463.91h2.6M326.5 470.7h2.6M341.71 467.83V478.2M340.41 467.83h2.6M340.41 478.2h2.6M355.62 482.68V489M354.32 482.68h2.6M354.32 489h2.6M369.52 491.54V499.03M368.22 491.54h2.6M368.22 499.03h2.6M383.43 504.47V507.46M382.13 504.47h2.6M382.13 507.46h2.6M272.18 462.78L275.89 462.8L279.6 462.84L283.3 462.88L287.01 462.94L290.72 463.03L294.43 463.13L298.14 463.28L301.85 463.48L305.55 463.74L309.26 464.08L312.97 464.54L316.68 465.15L320.39 465.94L324.1 466.96L327.8 468.28L331.51 469.95L335.22 472.03L338.93 474.56L342.64 477.55L346.35 480.98L350.05 484.78L353.76 488.81L357.47 492.92L361.18 496.93L364.89 500.68L368.6 504.05L372.3 506.97L376.01 509.43L379.72 511.44L383.43 513.05M272.18 455.28V466.99M270.88 455.28h2.6M270.88 466.99h2.6M286.09 460.33V465.65M284.79 460.33h2.6M284.79 465.65h2.6M299.99 457.97V465.61M298.69 457.97h2.6M298.69 465.61h2.6M313.9 458.55V467.8M312.6 458.55h2.6M312.6 467.8h2.6M327.8 464.09V470.06M326.5 464.09h2.6M326.5 470.06h2.6M341.71 472.84V478.55M340.41 472.84h2.6M340.41 478.55h2.6M355.62 487.48V494.97M354.32 487.48h2.6M354.32 494.97h2.6M369.52 501.92V505.29M368.22 501.92h2.6M368.22 505.29h2.6M383.43 512.5V515.7M382.13 512.5h2.6M382.13 515.7h2.6M272.18 456L275.89 456.04L279.6 456.09L283.3 456.16L287.01 456.25L290.72 456.37L294.43 456.53L298.14 456.75L301.85 457.04L305.55 457.42L309.26 457.93L312.97 458.6L316.68 459.48L320.39 460.63L324.1 462.12L327.8 464L331.51 466.37L335.22 469.27L338.93 472.74L342.64 476.78L346.35 481.31L350.05 486.19L353.76 491.25L357.47 496.27L361.18 501.04L364.89 505.38L368.6 509.2L372.3 512.45L376.01 515.13L379.72 517.3L383.43 519.02M272.18 452.13V459.74M270.88 452.13h2.6M270.88 459.74h2.6M286.09 454.29V460.96M284.79 454.29h2.6M284.79 460.96h2.6M299.99 450.46V461.63M298.69 450.46h2.6M298.69 461.63h2.6M313.9 456.08V464.93M312.6 456.08h2.6M312.6 464.93h2.6M327.8 460.44V465.66M326.5 460.44h2.6M326.5 465.66h2.6M341.71 471.88V477.04M340.41 471.88h2.6M340.41 477.04h2.6M355.62 490.5V496.33M354.32 490.5h2.6M354.32 496.33h2.6M369.52 507.93V511.25M368.22 507.93h2.6M368.22 511.25h2.6M383.43 517.73V520.89M382.13 517.73h2.6M382.13 520.89h2.6M272.18 461.65L275.89 461.71L279.6 461.79L283.3 461.91L287.01 462.06L290.72 462.26L294.43 462.53L298.14 462.88L301.85 463.35L305.55 463.98L309.26 464.8L312.97 465.87L316.68 467.25L320.39 469.02L324.1 471.23L327.8 473.96L331.51 477.24L335.22 481.06L338.93 485.37L342.64 490.04L346.35 494.91L350.05 499.76L353.76 504.4L357.47 508.65L361.18 512.4L364.89 515.6L368.6 518.26L372.3 520.41L376.01 522.12L379.72 523.45L383.43 524.49M272.18 457.16V466.68M270.88 457.16h2.6M270.88 466.68h2.6M286.09 458.22V466.21M284.79 458.22h2.6M284.79 466.21h2.6M299.99 460.25V469.49M298.69 460.25h2.6M298.69 469.49h2.6M313.9 462.95V469.5M312.6 462.95h2.6M312.6 469.5h2.6M327.8 468.25V477.71M326.5 468.25h2.6M326.5 477.71h2.6M341.71 486.77V491.23M340.41 486.77h2.6M340.41 491.23h2.6M355.62 505.24V508.12M354.32 505.24h2.6M354.32 508.12h2.6M369.52 518.87V521.57M368.22 518.87h2.6M368.22 521.57h2.6M383.43 524.92V527.09M382.13 524.92h2.6M382.13 527.09h2.6M272.18 463.44L275.89 463.49L279.6 463.55L283.3 463.64L287.01 463.76L290.72 463.93L294.43 464.17L298.14 464.49L301.85 464.94L305.55 465.55L309.26 466.39L312.97 467.51L316.68 469L320.39 470.95L324.1 473.43L327.8 476.52L331.51 480.21L335.22 484.46L338.93 489.1L342.64 493.93L346.35 498.67L350.05 503.09L353.76 507L357.47 510.32L361.18 513.02L364.89 515.16L368.6 516.81L372.3 518.06L376.01 519L379.72 519.69L383.43 520.19M272.18 460.78V466.02M270.88 460.78h2.6M270.88 466.02h2.6M286.09 460.46V465.98M284.79 460.46h2.6M284.79 465.98h2.6M299.99 458.66V469M298.69 458.66h2.6M298.69 469h2.6M313.9 465.2V470.4M312.6 465.2h2.6M312.6 470.4h2.6M327.8 473.21V479.8M326.5 473.21h2.6M326.5 479.8h2.6M341.71 489V493.09M340.41 489h2.6M340.41 493.09h2.6M355.62 504.47V510.35M354.32 504.47h2.6M354.32 510.35h2.6M369.52 514.24V518.36M368.22 514.24h2.6M368.22 518.36h2.6M383.43 519.4V523.25M382.13 519.4h2.6M382.13 523.25h2.6M272.18 459.31L275.89 459.42L279.6 459.57L283.3 459.77L287.01 460.03L290.72 460.38L294.43 460.84L298.14 461.45L301.85 462.24L305.55 463.28L309.26 464.61L312.97 466.29L316.68 468.38L320.39 470.93L324.1 473.94L327.8 477.41L331.51 481.24L335.22 485.32L338.93 489.47L342.64 493.53L346.35 497.33L350.05 500.74L353.76 503.7L357.47 506.2L361.18 508.24L364.89 509.88L368.6 511.17L372.3 512.17L376.01 512.94L379.72 513.53L383.43 513.98M272.18 453.55V465.14M270.88 453.55h2.6M270.88 465.14h2.6M286.09 455.36V461.46M284.79 455.36h2.6M284.79 461.46h2.6M299.99 455.05V466.45M298.69 455.05h2.6M298.69 466.45h2.6M313.9 464.81V471.96M312.6 464.81h2.6M312.6 471.96h2.6M327.8 473.82V479.09M326.5 473.82h2.6M326.5 479.09h2.6M341.71 488.68V493.44M340.41 488.68h2.6M340.41 493.44h2.6M355.62 502.23V505.44M354.32 502.23h2.6M354.32 505.44h2.6M369.52 508.9V513.97M368.22 508.9h2.6M368.22 513.97h2.6M383.43 513.7V516.43M382.13 513.7h2.6M382.13 516.43h2.6M272.18 454.67L275.89 454.67L279.6 454.68L283.3 454.68L287.01 454.69L290.72 454.71L294.43 454.72L298.14 454.75L301.85 454.79L305.55 454.84L309.26 454.91L312.97 455.01L316.68 455.14L320.39 455.33L324.1 455.59L327.8 455.95L331.51 456.45L335.22 457.13L338.93 458.04L342.64 459.26L346.35 460.87L350.05 462.95L353.76 465.56L357.47 468.76L361.18 472.5L364.89 476.69L368.6 481.16L372.3 485.66L376.01 489.97L379.72 493.87L383.43 497.25M272.18 451.06V458.23M270.88 451.06h2.6M270.88 458.23h2.6M286.09 453.3V459.52M284.79 453.3h2.6M284.79 459.52h2.6M299.99 450.3V461.75M298.69 450.3h2.6M298.69 461.75h2.6M313.9 448.79V459.95M312.6 448.79h2.6M312.6 459.95h2.6M327.8 451.99V462.38M326.5 451.99h2.6M326.5 462.38h2.6M341.71 456.04V464.67M340.41 456.04h2.6M340.41 464.67h2.6M355.62 462.89V470.27M354.32 462.89h2.6M354.32 470.27h2.6M369.52 477.31V484.5M368.22 477.31h2.6M368.22 484.5h2.6M383.43 493.5V500.4M382.13 493.5h2.6M382.13 500.4h2.6M272.18 462.61L275.89 462.76L279.6 462.95L283.3 463.2L287.01 463.52L290.72 463.92L294.43 464.43L298.14 465.07L301.85 465.87L305.55 466.86L309.26 468.06L312.97 469.5L316.68 471.21L320.39 473.17L324.1 475.38L327.8 477.79L331.51 480.36L335.22 482.99L338.93 485.61L342.64 488.13L346.35 490.48L350.05 492.6L353.76 494.47L357.47 496.07L361.18 497.43L364.89 498.55L368.6 499.47L372.3 500.2L376.01 500.8L379.72 501.26L383.43 501.63M272.18 458.16V469.99M270.88 458.16h2.6M270.88 469.99h2.6M286.09 459.1V466.79M284.79 459.1h2.6M284.79 466.79h2.6M299.99 460.95V467.74M298.69 460.95h2.6M298.69 467.74h2.6M313.9 463.73V472.44M312.6 463.73h2.6M312.6 472.44h2.6M327.8 473.96V482.66M326.5 473.96h2.6M326.5 482.66h2.6M341.71 485.46V490M340.41 485.46h2.6M340.41 490h2.6M355.62 492.67V496.13M354.32 492.67h2.6M354.32 496.13h2.6M369.52 496.45V500.5M368.22 496.45h2.6M368.22 500.5h2.6M383.43 497.75V504.48M382.13 497.75h2.6M382.13 504.48h2.6M272.18 455.9L275.89 455.9L279.6 455.91L283.3 455.91L287.01 455.92L290.72 455.93L294.43 455.94L298.14 455.96L301.85 455.99L305.55 456.03L309.26 456.1L312.97 456.19L316.68 456.31L320.39 456.5L324.1 456.76L327.8 457.13L331.51 457.65L335.22 458.37L338.93 459.35L342.64 460.66L346.35 462.36L350.05 464.46L353.76 466.95L357.47 469.73L361.18 472.64L364.89 475.48L368.6 478.08L372.3 480.33L376.01 482.16L379.72 483.6L383.43 484.69M272.18 450.81V460.36M270.88 450.81h2.6M270.88 460.36h2.6M286.09 454.13V459.09M284.79 454.13h2.6M284.79 459.09h2.6M299.99 454.71V460.7M298.69 454.71h2.6M298.69 460.7h2.6M313.9 451.81V459.76M312.6 451.81h2.6M312.6 459.76h2.6M327.8 451.5V462.66M326.5 451.5h2.6M326.5 462.66h2.6M341.71 458.4V464.93M340.41 458.4h2.6M340.41 464.93h2.6M355.62 465.25V470.24M354.32 465.25h2.6M354.32 470.24h2.6M369.52 477.48V483.57M368.22 477.48h2.6M368.22 483.57h2.6M383.43 483.35V488.95M382.13 483.35h2.6M382.13 488.95h2.6" stroke="#e10a14" stroke-width="1.05" fill="none"/>
<path d="M270.88 455.01h2.6v2.6h-2.6zM284.79 455.65h2.6v2.6h-2.6zM298.69 455.57h2.6v2.6h-2.6zM312.6 455.66h2.6v2.6h-2.6zM326.5 499.99h2.6v2.6h-2.6zM340.41 514.15h2.6v2.6h-2.6zM354.32 514.35h2.6v2.6h-2.6zM368.22 514.1h2.6v2.6h-2.6zM382.13 515.03h2.6v2.6h-2.6zM270.88 460.8h2.6v2.6h-2.6zM284.79 461h2.6v2.6h-2.6zM298.69 461.72h2.6v2.6h-2.6zM312.6 462.23h2.6v2.6h-2.6zM326.5 461.98h2.6v2.6h-2.6zM340.41 460.39h2.6v2.6h-2.6zM354.32 460.64h2.6v2.6h-2.6zM368.22 462.7h2.6v2.6h-2.6zM382.13 462.1h2.6v2.6h-2.6zM270.88 460.66h2.6v2.6h-2.6zM284.79 459.86h2.6v2.6h-2.6zM298.69 460.32h2.6v2.6h-2.6zM312.6 458.6h2.6v2.6h-2.6zM326.5 459.92h2.6v2.6h-2.6zM340.41 459.57h2.6v2.6h-2.6zM354.32 463.65h2.6v2.6h-2.6zM368.22 469.17h2.6v2.6h-2.6zM382.13 483.64h2.6v2.6h-2.6z" fill="#111111"/>
<path d="M270.88 462.5h2.6v2.6h-2.6zM284.79 461.19h2.6v2.6h-2.6zM298.69 463.79h2.6v2.6h-2.6zM312.6 466.91h2.6v2.6h-2.6zM326.5 477.73h2.6v2.6h-2.6zM340.41 494.45h2.6v2.6h-2.6zM354.32 510.69h2.6v2.6h-2.6zM368.22 519.36h2.6v2.6h-2.6zM382.13 519.6h2.6v2.6h-2.6zM270.88 463.61h2.6v2.6h-2.6zM284.79 463.68h2.6v2.6h-2.6zM298.69 463.05h2.6v2.6h-2.6zM312.6 465.35h2.6v2.6h-2.6zM326.5 471.2h2.6v2.6h-2.6zM340.41 484.69h2.6v2.6h-2.6zM354.32 501.48h2.6v2.6h-2.6zM368.22 510.55h2.6v2.6h-2.6zM382.13 516.04h2.6v2.6h-2.6zM270.88 462.66h2.6v2.6h-2.6zM284.79 463.22h2.6v2.6h-2.6zM298.69 462.59h2.6v2.6h-2.6zM312.6 461.54h2.6v2.6h-2.6zM326.5 464.15h2.6v2.6h-2.6zM340.41 467.53h2.6v2.6h-2.6zM354.32 471.53h2.6v2.6h-2.6zM368.22 478.16h2.6v2.6h-2.6zM382.13 480.06h2.6v2.6h-2.6zM270.88 462.03h2.6v2.6h-2.6zM284.79 462.24h2.6v2.6h-2.6zM298.69 461.82h2.6v2.6h-2.6zM312.6 462.58h2.6v2.6h-2.6zM326.5 462.44h2.6v2.6h-2.6zM340.41 464.7h2.6v2.6h-2.6zM354.32 468h2.6v2.6h-2.6zM368.22 472.06h2.6v2.6h-2.6zM382.13 476.32h2.6v2.6h-2.6z" fill="#0000ff"/>
<path d="M270.88 457.05h2.6v2.6h-2.6zM284.79 455.93h2.6v2.6h-2.6zM298.69 455.26h2.6v2.6h-2.6zM312.6 457.2h2.6v2.6h-2.6zM326.5 455.93h2.6v2.6h-2.6zM340.41 459.23h2.6v2.6h-2.6zM354.32 460.01h2.6v2.6h-2.6zM368.22 459.09h2.6v2.6h-2.6zM382.13 461.45h2.6v2.6h-2.6zM270.88 456.96h2.6v2.6h-2.6zM284.79 459.24h2.6v2.6h-2.6zM298.69 456.78h2.6v2.6h-2.6zM312.6 458.32h2.6v2.6h-2.6zM326.5 460.46h2.6v2.6h-2.6zM340.41 462.75h2.6v2.6h-2.6zM354.32 467.05h2.6v2.6h-2.6zM368.22 473.42h2.6v2.6h-2.6zM382.13 483.54h2.6v2.6h-2.6zM270.88 458.92h2.6v2.6h-2.6zM284.79 460.34h2.6v2.6h-2.6zM298.69 458.75h2.6v2.6h-2.6zM312.6 462.06h2.6v2.6h-2.6zM326.5 462.5h2.6v2.6h-2.6zM340.41 465.82h2.6v2.6h-2.6zM354.32 475.67h2.6v2.6h-2.6zM368.22 484.37h2.6v2.6h-2.6zM382.13 491.38h2.6v2.6h-2.6zM270.88 461.56h2.6v2.6h-2.6zM284.79 461.53h2.6v2.6h-2.6zM298.69 460h2.6v2.6h-2.6zM312.6 462.75h2.6v2.6h-2.6zM326.5 463.58h2.6v2.6h-2.6zM340.41 471.08h2.6v2.6h-2.6zM354.32 478.03h2.6v2.6h-2.6zM368.22 488.55h2.6v2.6h-2.6zM382.13 496.71h2.6v2.6h-2.6zM270.88 460.86h2.6v2.6h-2.6zM284.79 458.76h2.6v2.6h-2.6zM298.69 461.37h2.6v2.6h-2.6zM312.6 461.75h2.6v2.6h-2.6zM326.5 466.01h2.6v2.6h-2.6zM340.41 471.72h2.6v2.6h-2.6zM354.32 484.54h2.6v2.6h-2.6zM368.22 493.99h2.6v2.6h-2.6zM382.13 504.67h2.6v2.6h-2.6zM270.88 459.83h2.6v2.6h-2.6zM284.79 461.69h2.6v2.6h-2.6zM298.69 460.49h2.6v2.6h-2.6zM312.6 461.88h2.6v2.6h-2.6zM326.5 465.78h2.6v2.6h-2.6zM340.41 474.39h2.6v2.6h-2.6zM354.32 489.92h2.6v2.6h-2.6zM368.22 502.3h2.6v2.6h-2.6zM382.13 512.8h2.6v2.6h-2.6zM270.88 454.64h2.6v2.6h-2.6zM284.79 456.32h2.6v2.6h-2.6zM298.69 454.75h2.6v2.6h-2.6zM312.6 459.2h2.6v2.6h-2.6zM326.5 461.75h2.6v2.6h-2.6zM340.41 473.16h2.6v2.6h-2.6zM354.32 492.11h2.6v2.6h-2.6zM368.22 508.29h2.6v2.6h-2.6zM382.13 518.01h2.6v2.6h-2.6zM270.88 460.62h2.6v2.6h-2.6zM284.79 460.91h2.6v2.6h-2.6zM298.69 463.57h2.6v2.6h-2.6zM312.6 464.92h2.6v2.6h-2.6zM326.5 471.68h2.6v2.6h-2.6zM340.41 487.7h2.6v2.6h-2.6zM354.32 505.38h2.6v2.6h-2.6zM368.22 518.92h2.6v2.6h-2.6zM382.13 524.71h2.6v2.6h-2.6zM270.88 462.1h2.6v2.6h-2.6zM284.79 461.92h2.6v2.6h-2.6zM298.69 462.53h2.6v2.6h-2.6zM312.6 466.5h2.6v2.6h-2.6zM326.5 475.2h2.6v2.6h-2.6zM340.41 489.74h2.6v2.6h-2.6zM354.32 506.11h2.6v2.6h-2.6zM368.22 515h2.6v2.6h-2.6zM382.13 520.03h2.6v2.6h-2.6zM270.88 458.04h2.6v2.6h-2.6zM284.79 457.11h2.6v2.6h-2.6zM298.69 459.45h2.6v2.6h-2.6zM312.6 467.08h2.6v2.6h-2.6zM326.5 475.16h2.6v2.6h-2.6zM340.41 489.76h2.6v2.6h-2.6zM354.32 502.54h2.6v2.6h-2.6zM368.22 510.13h2.6v2.6h-2.6zM382.13 513.76h2.6v2.6h-2.6zM270.88 453.34h2.6v2.6h-2.6zM284.79 455.11h2.6v2.6h-2.6zM298.69 454.73h2.6v2.6h-2.6zM312.6 453.07h2.6v2.6h-2.6zM326.5 455.89h2.6v2.6h-2.6zM340.41 459.05h2.6v2.6h-2.6zM354.32 465.28h2.6v2.6h-2.6zM368.22 479.6h2.6v2.6h-2.6zM382.13 495.65h2.6v2.6h-2.6zM270.88 462.77h2.6v2.6h-2.6zM284.79 461.65h2.6v2.6h-2.6zM298.69 463.04h2.6v2.6h-2.6zM312.6 466.78h2.6v2.6h-2.6zM326.5 477.01h2.6v2.6h-2.6zM340.41 486.43h2.6v2.6h-2.6zM354.32 493.1h2.6v2.6h-2.6zM368.22 497.18h2.6v2.6h-2.6zM382.13 499.82h2.6v2.6h-2.6zM270.88 454.28h2.6v2.6h-2.6zM284.79 455.31h2.6v2.6h-2.6zM298.69 456.41h2.6v2.6h-2.6zM312.6 454.48h2.6v2.6h-2.6zM326.5 455.78h2.6v2.6h-2.6zM340.41 460.37h2.6v2.6h-2.6zM354.32 466.45h2.6v2.6h-2.6zM368.22 479.23h2.6v2.6h-2.6zM382.13 484.85h2.6v2.6h-2.6z" fill="#e10a14"/>
<path d="M253.7 434.15V528.4M249.7 527.7H253.7M249.7 496.75H253.7M249.7 465.8H253.7M249.7 434.85H253.7M253 527.7H393" stroke="#000" stroke-width="1.5" fill="none"/>
<path d="M253.7 527.7v3.6M276.8 527.7v3.6M299.9 527.7v3.6M323 527.7v3.6M346.1 527.7v3.6M369.2 527.7v3.6M392.3 527.7v3.6" stroke="#000" stroke-width="1.3" fill="none"/>
<path d="M260.65 527.7v2M264.72 527.7v2M267.61 527.7v2M269.85 527.7v2M271.68 527.7v2M273.22 527.7v2M274.56 527.7v2M275.74 527.7v2M283.75 527.7v2M287.82 527.7v2M290.71 527.7v2M292.95 527.7v2M294.78 527.7v2M296.32 527.7v2M297.66 527.7v2M298.84 527.7v2M306.85 527.7v2M310.92 527.7v2M313.81 527.7v2M316.05 527.7v2M317.88 527.7v2M319.42 527.7v2M320.76 527.7v2M321.94 527.7v2M329.95 527.7v2M334.02 527.7v2M336.91 527.7v2M339.15 527.7v2M340.98 527.7v2M342.52 527.7v2M343.86 527.7v2M345.04 527.7v2M353.05 527.7v2M357.12 527.7v2M360.01 527.7v2M362.25 527.7v2M364.08 527.7v2M365.62 527.7v2M366.96 527.7v2M368.14 527.7v2M376.15 527.7v2M380.22 527.7v2M383.11 527.7v2M385.35 527.7v2M387.18 527.7v2M388.72 527.7v2M390.06 527.7v2M391.24 527.7v2" stroke="#000" stroke-width="0.8" fill="none"/>
<text x="247.3" y="531" font-size="9.2" font-weight="bold" fill="#000" color="#000" text-anchor="end">0</text>
<text x="247.3" y="500.05" font-size="9.2" font-weight="bold" fill="#000" color="#000" text-anchor="end">50</text>
<text x="247.3" y="469.1" font-size="9.2" font-weight="bold" fill="#000" color="#000" text-anchor="end">100</text>
<text x="247.3" y="438.15" font-size="9.2" font-weight="bold" fill="#000" color="#000" text-anchor="end">150</text>
<text x="244.9" y="540.8" font-size="9" font-weight="bold">10<tspan font-size="6.9" dy="-2.7">−12</tspan></text>
<text x="291.1" y="540.8" font-size="9" font-weight="bold">10<tspan font-size="6.9" dy="-2.7">−10</tspan></text>
<text x="337.3" y="540.8" font-size="9" font-weight="bold">10<tspan font-size="6.9" dy="-2.7">−8</tspan></text>
<text x="383.5" y="540.8" font-size="9" font-weight="bold">10<tspan font-size="6.9" dy="-2.7">−6</tspan></text>
<line x1="254.7" y1="496.75" x2="392.3" y2="496.75" stroke="#000" stroke-width="0.9" stroke-dasharray="1.2,1.6"/>
<text x="89.2" y="283.6" font-size="9.95" fill="#000" color="#000" text-anchor="start">2D proliferation assay</text>
<text x="87.7" y="428.7" font-size="9.95" fill="#000" color="#000" text-anchor="start">2D proliferation assay</text>
<text x="275.2" y="428.4" font-size="9.95" fill="#000" color="#000" text-anchor="start">2D proliferation assay</text>
<text x="90.8" y="410.3" font-size="9.9" font-weight="bold" fill="#000" color="#000" text-anchor="start">BI-2493 (log, mol/L)</text>
<text x="89.3" y="555.2" font-size="9.9" font-weight="bold" fill="#000" color="#000" text-anchor="start">BI-2865 (log, mol/L)</text>
<text x="269.8" y="556" font-size="9.9" font-weight="bold" fill="#000" color="#000" text-anchor="start">Trametinib (log, mol/L)</text>
<text transform="translate(26.8,339.1) rotate(-90)" font-size="10" font-weight="bold" text-anchor="middle"><tspan x="0" y="0">% Proliferation inhibition</tspan><tspan x="0" y="11.6">(normalized)</tspan></text>
<text transform="translate(26,484.2) rotate(-90)" font-size="10" font-weight="bold" text-anchor="middle"><tspan x="0" y="0">% Proliferation inhibition</tspan><tspan x="0" y="11.6">(normalized)</tspan></text>
<text x="236.7" y="284.3" font-size="9.8" fill="#111" color="#111" text-anchor="start">Control</text>
<line x1="238" y1="294.8" x2="247.8" y2="294.8" stroke="#111111" stroke-width="1.1"/>
<circle cx="242.9" cy="294.8" r="1.6" fill="#111111"/>
<text x="253.7" y="298.3" font-size="9.7" fill="#000" color="#000" text-anchor="start">HEK293T</text>
<line x1="238" y1="307.05" x2="247.8" y2="307.05" stroke="#111111" stroke-width="1.1"/>
<circle cx="242.9" cy="307.05" r="1.6" fill="#111111"/>
<text x="253.7" y="310.55" font-size="9.7" fill="#000" color="#000" text-anchor="start">A-375</text>
<line x1="238" y1="319.3" x2="247.8" y2="319.3" stroke="#111111" stroke-width="1.1"/>
<circle cx="242.9" cy="319.3" r="1.6" fill="#111111"/>
<text x="253.7" y="322.8" font-size="9.7" fill="#000" color="#000" text-anchor="start">NCI-H520</text>
<text x="236.5" y="337.5" font-size="9.8" fill="#0000ff" color="#0000ff" text-anchor="start">CN &lt; 7:</text>
<line x1="238" y1="344.2" x2="247.8" y2="344.2" stroke="#0000ff" stroke-width="1.1"/>
<circle cx="242.9" cy="344.2" r="1.6" fill="#0000ff"/>
<text x="253.7" y="347.7" font-size="9.7" fill="#000" color="#000" text-anchor="start">SNU-1079</text>
<line x1="238" y1="356.5" x2="247.8" y2="356.5" stroke="#0000ff" stroke-width="1.1"/>
<circle cx="242.9" cy="356.5" r="1.6" fill="#0000ff"/>
<text x="253.7" y="360" font-size="9.7" fill="#000" color="#000" text-anchor="start">SNU-478</text>
<line x1="238" y1="368.8" x2="247.8" y2="368.8" stroke="#0000ff" stroke-width="1.1"/>
<circle cx="242.9" cy="368.8" r="1.6" fill="#0000ff"/>
<text x="253.7" y="372.3" font-size="9.7" fill="#000" color="#000" text-anchor="start">NCI-H838</text>
<line x1="238" y1="381.1" x2="247.8" y2="381.1" stroke="#0000ff" stroke-width="1.1"/>
<circle cx="242.9" cy="381.1" r="1.6" fill="#0000ff"/>
<text x="253.7" y="384.6" font-size="9.7" fill="#000" color="#000" text-anchor="start">NCI-H661</text>
<text x="310" y="284.3" font-size="9.8" fill="#e10a14" color="#e10a14" text-anchor="start">CN &gt; 7</text>
<line x1="312" y1="294.6" x2="321.8" y2="294.6" stroke="#e10a14" stroke-width="1.1"/>
<circle cx="316.9" cy="294.6" r="1.6" fill="#e10a14"/>
<text x="327.7" y="298.1" font-size="9.7" fill="#000" color="#000" text-anchor="start">HSKT-C</text>
<line x1="312" y1="306.65" x2="321.8" y2="306.65" stroke="#e10a14" stroke-width="1.1"/>
<circle cx="316.9" cy="306.65" r="1.6" fill="#e10a14"/>
<text x="327.7" y="310.15" font-size="9.7" fill="#000" color="#000" text-anchor="start">SAS</text>
<line x1="312" y1="318.7" x2="321.8" y2="318.7" stroke="#e10a14" stroke-width="1.1"/>
<circle cx="316.9" cy="318.7" r="1.6" fill="#e10a14"/>
<text x="327.7" y="322.2" font-size="9.7" fill="#000" color="#000" text-anchor="start">SNU-245</text>
<line x1="312" y1="330.75" x2="321.8" y2="330.75" stroke="#e10a14" stroke-width="1.1"/>
<circle cx="316.9" cy="330.75" r="1.6" fill="#e10a14"/>
<text x="327.7" y="334.25" font-size="9.7" fill="#000" color="#000" text-anchor="start">HuG1-N</text>
<line x1="312" y1="342.8" x2="321.8" y2="342.8" stroke="#e10a14" stroke-width="1.1"/>
<circle cx="316.9" cy="342.8" r="1.6" fill="#e10a14"/>
<text x="327.7" y="346.3" font-size="9.7" fill="#000" color="#000" text-anchor="start">BEN</text>
<line x1="312" y1="354.85" x2="321.8" y2="354.85" stroke="#e10a14" stroke-width="1.1"/>
<circle cx="316.9" cy="354.85" r="1.6" fill="#e10a14"/>
<text x="327.7" y="358.35" font-size="9.7" fill="#000" color="#000" text-anchor="start">SNU-1196</text>
<line x1="312" y1="366.9" x2="321.8" y2="366.9" stroke="#e10a14" stroke-width="1.1"/>
<circle cx="316.9" cy="366.9" r="1.6" fill="#e10a14"/>
<text x="327.7" y="370.4" font-size="9.7" fill="#000" color="#000" text-anchor="start">SNU-685</text>
<line x1="312" y1="378.95" x2="321.8" y2="378.95" stroke="#e10a14" stroke-width="1.1"/>
<circle cx="316.9" cy="378.95" r="1.6" fill="#e10a14"/>
<text x="327.7" y="382.45" font-size="9.7" fill="#000" color="#000" text-anchor="start">Kuramochi</text>
<line x1="382" y1="293.8" x2="391.8" y2="293.8" stroke="#e10a14" stroke-width="1.1"/>
<circle cx="386.9" cy="293.8" r="1.6" fill="#e10a14"/>
<text x="397.7" y="297.3" font-size="9.7" fill="#000" color="#000" text-anchor="start">MKN1</text>
<line x1="382" y1="306.3" x2="391.8" y2="306.3" stroke="#e10a14" stroke-width="1.1"/>
<circle cx="386.9" cy="306.3" r="1.6" fill="#e10a14"/>
<text x="397.7" y="309.8" font-size="9.7" fill="#000" color="#000" text-anchor="start">UMC-11</text>
<line x1="382" y1="318.8" x2="391.8" y2="318.8" stroke="#e10a14" stroke-width="1.1"/>
<circle cx="386.9" cy="318.8" r="1.6" fill="#e10a14"/>
<text x="397.7" y="322.3" font-size="9.7" fill="#000" color="#000" text-anchor="start">KE-39</text>
<line x1="382" y1="331.3" x2="391.8" y2="331.3" stroke="#e10a14" stroke-width="1.1"/>
<circle cx="386.9" cy="331.3" r="1.6" fill="#e10a14"/>
<text x="397.7" y="334.8" font-size="9.7" fill="#000" color="#000" text-anchor="start">KLE</text>
<line x1="382" y1="343.8" x2="391.8" y2="343.8" stroke="#e10a14" stroke-width="1.1"/>
<circle cx="386.9" cy="343.8" r="1.6" fill="#e10a14"/>
<text x="397.7" y="347.3" font-size="9.7" fill="#000" color="#000" text-anchor="start">DMS 53</text>
<path d="M79.05 622.09L81.87 622.09L84.69 622.09L87.5 622.09L90.32 622.09L93.14 622.09L95.96 622.09L98.77 622.09L101.59 622.09L104.41 622.09L107.23 622.09L110.04 622.09L112.86 622.09L115.68 622.09L118.5 622.09L121.31 622.09L124.13 622.09L126.95 622.09L129.76 622.09L132.58 622.09L135.4 622.09L138.22 622.07L141.03 616.22L143.85 608.83L146.67 608.8L149.49 608.8L152.3 608.8L155.12 608.8L157.94 608.8L160.76 608.8L163.57 608.8M79.05 610.79V632.58M77.75 610.79h2.6M77.75 632.58h2.6M88.44 605.57V637.45M87.14 605.57h2.6M87.14 637.45h2.6M97.83 609.88V636.42M96.53 609.88h2.6M96.53 636.42h2.6M107.23 610.47V631.86M105.93 610.47h2.6M105.93 631.86h2.6M116.62 605.75V638.5M115.32 605.75h2.6M115.32 638.5h2.6M126.01 611.5V635.75M124.71 611.5h2.6M124.71 635.75h2.6M135.4 608.72V637.72M134.1 608.72h2.6M134.1 637.72h2.6M144.79 595.38V619.29M143.49 595.38h2.6M143.49 619.29h2.6M154.18 597.63V622.62M152.88 597.63h2.6M152.88 622.62h2.6M163.57 594.78V622.54M162.27 594.78h2.6M162.27 622.54h2.6M79.05 629.85L81.87 629.85L84.69 629.85L87.5 629.85L90.32 629.85L93.14 629.85L95.96 629.85L98.77 629.85L101.59 629.85L104.41 629.85L107.23 629.85L110.04 629.85L112.86 629.85L115.68 629.85L118.5 629.85L121.31 629.85L124.13 629.85L126.95 629.86L129.76 629.86L132.58 629.87L135.4 629.88L138.22 629.89L141.03 629.92L143.85 629.94L146.67 629.98L149.49 630.03L152.3 630.08L155.12 630.14L157.94 630.2L160.76 630.25L163.57 630.29M79.05 622.65V636.99M77.75 622.65h2.6M77.75 636.99h2.6M88.44 622.51V635.73M87.14 622.51h2.6M87.14 635.73h2.6M97.83 621.27V638.82M96.53 621.27h2.6M96.53 638.82h2.6M107.23 623.16V637.82M105.93 623.16h2.6M105.93 637.82h2.6M116.62 622.3V637.88M115.32 622.3h2.6M115.32 637.88h2.6M126.01 621.81V639.57M124.71 621.81h2.6M124.71 639.57h2.6M135.4 626.14V634.26M134.1 626.14h2.6M134.1 634.26h2.6M144.79 624.61V636.3M143.49 624.61h2.6M143.49 636.3h2.6M154.18 625.32V637.08M152.88 625.32h2.6M152.88 637.08h2.6M163.57 623.06V637.87M162.27 623.06h2.6M162.27 637.87h2.6M79.05 625.97L81.87 625.97L84.69 625.97L87.5 625.97L90.32 625.97L93.14 625.97L95.96 625.97L98.77 625.97L101.59 625.97L104.41 625.97L107.23 625.97L110.04 625.97L112.86 625.97L115.68 625.97L118.5 625.98L121.31 625.98L124.13 625.98L126.95 625.99L129.76 626L132.58 626.01L135.4 626.03L138.22 626.06L141.03 626.11L143.85 626.16L146.67 626.24L149.49 626.33L152.3 626.44L155.12 626.55L157.94 626.67L160.76 626.77L163.57 626.85M79.05 622.66V629.94M77.75 622.66h2.6M77.75 629.94h2.6M88.44 621.19V631.97M87.14 621.19h2.6M87.14 631.97h2.6M97.83 620.3V629.69M96.53 620.3h2.6M96.53 629.69h2.6M107.23 620.99V632.2M105.93 620.99h2.6M105.93 632.2h2.6M116.62 622.77V629.66M115.32 622.77h2.6M115.32 629.66h2.6M126.01 621.31V632.31M124.71 621.31h2.6M124.71 632.31h2.6M135.4 620.27V630.43M134.1 620.27h2.6M134.1 630.43h2.6M144.79 621.51V631M143.49 621.51h2.6M143.49 631h2.6M154.18 620.96V633.28M152.88 620.96h2.6M152.88 633.28h2.6M163.57 622.21V632.14M162.27 622.21h2.6M162.27 632.14h2.6" stroke="#111111" stroke-width="1.05" fill="none"/>
<path d="M79.05 618.77L81.87 618.78L84.69 618.78L87.5 618.79L90.32 618.8L93.14 618.82L95.96 618.85L98.77 618.91L101.59 619L104.41 619.14L107.23 619.38L110.04 619.77L112.86 620.39L115.68 621.35L118.5 622.81L121.31 624.92L124.13 627.79L126.95 631.34L129.76 635.3L132.58 639.19L135.4 642.6L138.22 645.3L141.03 647.25L143.85 648.58L146.67 649.45L149.49 650L152.3 650.35L155.12 650.56L157.94 650.69L160.76 650.78L163.57 650.82M79.05 616.55L81.87 616.56L84.69 616.56L87.5 616.56L90.32 616.57L93.14 616.58L95.96 616.61L98.77 616.64L101.59 616.7L104.41 616.79L107.23 616.95L110.04 617.2L112.86 617.6L115.68 618.25L118.5 619.26L121.31 620.81L124.13 623.06L126.95 626.13L129.76 629.98L132.58 634.31L135.4 638.65L138.22 642.49L141.03 645.54L143.85 647.78L146.67 649.32L149.49 650.32L152.3 650.97L155.12 651.37L157.94 651.62L160.76 651.77L163.57 651.86M79.05 609.45V624.13M77.75 609.45h2.6M77.75 624.13h2.6M88.44 610.19V621.88M87.14 610.19h2.6M87.14 621.88h2.6M97.83 606.69V623.72M96.53 606.69h2.6M96.53 623.72h2.6M107.23 610.05V626.79M105.93 610.05h2.6M105.93 626.79h2.6M116.62 609.06V625.32M115.32 609.06h2.6M115.32 625.32h2.6M126.01 618.16V634.26M124.71 618.16h2.6M124.71 634.26h2.6M135.4 635.05V641.36M134.1 635.05h2.6M134.1 641.36h2.6M144.79 644.22V655.75M143.49 644.22h2.6M143.49 655.75h2.6M154.18 647.45V654.02M152.88 647.45h2.6M152.88 654.02h2.6M163.57 650.42V655.95M162.27 650.42h2.6M162.27 655.95h2.6M79.05 629.85L81.87 629.86L84.69 629.86L87.5 629.87L90.32 629.89L93.14 629.91L95.96 629.95L98.77 630L101.59 630.09L104.41 630.23L107.23 630.44L110.04 630.78L112.86 631.29L115.68 632.06L118.5 633.19L121.31 634.8L124.13 636.96L126.95 639.68L129.76 642.81L132.58 646.09L135.4 649.19L138.22 651.84L141.03 653.93L143.85 655.48L146.67 656.56L149.49 657.29L152.3 657.78L155.12 658.09L157.94 658.3L160.76 658.43L163.57 658.51M79.05 622.43V639.04M77.75 622.43h2.6M77.75 639.04h2.6M88.44 625.53V635.24M87.14 625.53h2.6M87.14 635.24h2.6M97.83 619.98V637.29M96.53 619.98h2.6M96.53 637.29h2.6M107.23 622.71V640.38M105.93 622.71h2.6M105.93 640.38h2.6M116.62 623.86V640.2M115.32 623.86h2.6M115.32 640.2h2.6M126.01 630.2V646.11M124.71 630.2h2.6M124.71 646.11h2.6M135.4 641.86V654.6M134.1 641.86h2.6M134.1 654.6h2.6M144.79 652.14V661.64M143.49 652.14h2.6M143.49 661.64h2.6M154.18 653.11V662.69M152.88 653.11h2.6M152.88 662.69h2.6M163.57 653.57V663.86M162.27 653.57h2.6M162.27 663.86h2.6M79.05 619.89L81.87 619.89L84.69 619.9L87.5 619.91L90.32 619.94L93.14 619.97L95.96 620.02L98.77 620.11L101.59 620.24L104.41 620.45L107.23 620.78L110.04 621.29L112.86 622.06L115.68 623.23L118.5 624.96L121.31 627.4L124.13 630.68L126.95 634.81L129.76 639.57L132.58 644.55L135.4 649.26L138.22 653.29L141.03 656.47L143.85 658.81L146.67 660.45L149.49 661.57L152.3 662.31L155.12 662.79L157.94 663.1L160.76 663.3L163.57 663.42" stroke="#0000ff" stroke-width="1.05" fill="none"/>
<path d="M79.05 609.4V626.02M77.75 609.4h2.6M77.75 626.02h2.6M88.44 613.42V624.37M87.14 613.42h2.6M87.14 624.37h2.6M97.83 614.17V623.28M96.53 614.17h2.6M96.53 623.28h2.6M107.23 612.47V624.08M105.93 612.47h2.6M105.93 624.08h2.6M116.62 615.28V625.94M115.32 615.28h2.6M115.32 625.94h2.6M126.01 625.77V635.24M124.71 625.77h2.6M124.71 635.24h2.6M135.4 639.26V646.44M134.1 639.26h2.6M134.1 646.44h2.6M144.79 645.66V655.47M143.49 645.66h2.6M143.49 655.47h2.6M154.18 648V654.46M152.88 648h2.6M152.88 654.46h2.6M163.57 647.48V655.48M162.27 647.48h2.6M162.27 655.48h2.6M79.05 614.39V625.02M77.75 614.39h2.6M77.75 625.02h2.6M88.44 616.17V625.44M87.14 616.17h2.6M87.14 625.44h2.6M97.83 615.9V624.29M96.53 615.9h2.6M96.53 624.29h2.6M107.23 616.23V625.55M105.93 616.23h2.6M105.93 625.55h2.6M116.62 617.23V630.3M115.32 617.23h2.6M115.32 630.3h2.6M126.01 625.81V640.62M124.71 625.81h2.6M124.71 640.62h2.6M135.4 645.62V656.17M134.1 645.62h2.6M134.1 656.17h2.6M144.79 656.01V663.06M143.49 656.01h2.6M143.49 663.06h2.6M154.18 658.1V666.1M152.88 658.1h2.6M152.88 666.1h2.6M163.57 661.07V666.61M162.27 661.07h2.6M162.27 666.61h2.6" stroke="#9a3cf0" stroke-width="1.05" fill="none"/>
<path d="M79.05 604.08L81.87 604.19L84.69 604.33L87.5 604.54L90.32 604.82L93.14 605.21L95.96 605.75L98.77 606.49L101.59 607.5L104.41 608.85L107.23 610.65L110.04 613L112.86 616.02L115.68 619.77L118.5 624.27L121.31 629.47L124.13 635.19L126.95 641.15L129.76 647.04L132.58 652.56L135.4 657.46L138.22 661.64L141.03 665.05L143.85 667.76L146.67 669.86L149.49 671.44L152.3 672.63L155.12 673.51L157.94 674.15L160.76 674.62L163.57 674.96M79.05 598.87V606.22M77.75 598.87h2.6M77.75 606.22h2.6M88.44 597.88V610.45M87.14 597.88h2.6M87.14 610.45h2.6M97.83 601.63V613.95M96.53 601.63h2.6M96.53 613.95h2.6M107.23 602.38V617.7M105.93 602.38h2.6M105.93 617.7h2.6M116.62 613.86V629.64M115.32 613.86h2.6M115.32 629.64h2.6M126.01 634.74V643.5M124.71 634.74h2.6M124.71 643.5h2.6M135.4 654.21V658.07M134.1 654.21h2.6M134.1 658.07h2.6M144.79 665.33V670.27M143.49 665.33h2.6M143.49 670.27h2.6M154.18 671.47V676.09M152.88 671.47h2.6M152.88 676.09h2.6M163.57 673.78V677.02M162.27 673.78h2.6M162.27 677.02h2.6M79.05 620.98L81.87 620.98L84.69 620.98L87.5 620.99L90.32 620.99L93.14 620.99L95.96 620.99L98.77 621L101.59 621.02L104.41 621.06L107.23 621.13L110.04 621.26L112.86 621.52L115.68 622.01L118.5 622.93L121.31 624.61L124.13 627.47L126.95 631.9L129.76 637.8L132.58 644.28L135.4 650.04L138.22 654.26L141.03 656.95L143.85 658.51L146.67 659.37L149.49 659.82L152.3 660.06L155.12 660.19L157.94 660.25L160.76 660.28L163.57 660.3M79.05 613.99V627.81M77.75 613.99h2.6M77.75 627.81h2.6M88.44 616.6V627.3M87.14 616.6h2.6M87.14 627.3h2.6M97.83 615.36V627.16M96.53 615.36h2.6M96.53 627.16h2.6M107.23 615.35V624.73M105.93 615.35h2.6M105.93 624.73h2.6M116.62 615.97V626.37M115.32 615.97h2.6M115.32 626.37h2.6M126.01 626.07V634.38M124.71 626.07h2.6M124.71 634.38h2.6M135.4 645.01V655.02M134.1 645.01h2.6M134.1 655.02h2.6M144.79 654.67V662.02M143.49 654.67h2.6M143.49 662.02h2.6M154.18 658.35V663.08M152.88 658.35h2.6M152.88 663.08h2.6M163.57 658.01V663.93M162.27 658.01h2.6M162.27 663.93h2.6M79.05 613.23L81.87 613.23L84.69 613.23L87.5 613.23L90.32 613.23L93.14 613.24L95.96 613.25L98.77 613.26L101.59 613.29L104.41 613.34L107.23 613.44L110.04 613.62L112.86 613.95L115.68 614.55L118.5 615.66L121.31 617.6L124.13 620.87L126.95 626.01L129.76 633.2L132.58 641.83L135.4 650.44L138.22 657.61L141.03 662.71L143.85 665.96L146.67 667.89L149.49 668.98L152.3 669.58L155.12 669.91L157.94 670.08L160.76 670.18L163.57 670.23M79.05 605.81V619.75M77.75 605.81h2.6M77.75 619.75h2.6M88.44 608.07V621.45M87.14 608.07h2.6M87.14 621.45h2.6M97.83 606.11V617.83M96.53 606.11h2.6M96.53 617.83h2.6M107.23 610.21V619.66M105.93 610.21h2.6M105.93 619.66h2.6M116.62 612.29V620.7M115.32 612.29h2.6M115.32 620.7h2.6M126.01 616.51V628.82M124.71 616.51h2.6M124.71 628.82h2.6M135.4 645.45V654.38M134.1 645.45h2.6M134.1 654.38h2.6M144.79 662.71V668.01M143.49 662.71h2.6M143.49 668.01h2.6M154.18 667.1V671.77M152.88 667.1h2.6M152.88 671.77h2.6M163.57 667.31V671.85M162.27 667.31h2.6M162.27 671.85h2.6M79.05 621.35L81.87 621.36L84.69 621.38L87.5 621.41L90.32 621.46L93.14 621.53L95.96 621.64L98.77 621.81L101.59 622.06L104.41 622.44L107.23 623.01L110.04 623.86L112.86 625.11L115.68 626.91L118.5 629.42L121.31 632.78L124.13 637.06L126.95 642.15L129.76 647.73L132.58 653.33L135.4 658.49L138.22 662.86L141.03 666.32L143.85 668.92L146.67 670.78L149.49 672.08L152.3 672.96L155.12 673.56L157.94 673.95L160.76 674.22L163.57 674.39M79.05 615.52V625.58M77.75 615.52h2.6M77.75 625.58h2.6M88.44 614.32V627.05M87.14 614.32h2.6M87.14 627.05h2.6M97.83 616.15V625.01M96.53 616.15h2.6M96.53 625.01h2.6M107.23 620.41V628.44M105.93 620.41h2.6M105.93 628.44h2.6M116.62 617.99V634.89M115.32 617.99h2.6M115.32 634.89h2.6M126.01 635.12V644.26M124.71 635.12h2.6M124.71 644.26h2.6M135.4 652.65V661.47M134.1 652.65h2.6M134.1 661.47h2.6M144.79 667.35V671.32M143.49 667.35h2.6M143.49 671.32h2.6M154.18 672.36V676.17M152.88 672.36h2.6M152.88 676.17h2.6M163.57 673.35V677.04M162.27 673.35h2.6M162.27 677.04h2.6M79.05 616.02L81.87 616.02L84.69 616.03L87.5 616.04L90.32 616.06L93.14 616.1L95.96 616.17L98.77 616.3L101.59 616.53L104.41 616.96L107.23 617.72L110.04 619.08L112.86 621.41L115.68 625.23L118.5 631L121.31 638.74L124.13 647.64L126.95 656.21L129.76 663.16L132.58 668.06L135.4 671.18L138.22 673.04L141.03 674.11L143.85 674.71L146.67 675.04L149.49 675.22L152.3 675.32L155.12 675.38L157.94 675.41L160.76 675.42L163.57 675.43M79.05 606.44V624.34M77.75 606.44h2.6M77.75 624.34h2.6M88.44 611.06V624.98M87.14 611.06h2.6M87.14 624.98h2.6M97.83 613.76V622.81M96.53 613.76h2.6M96.53 622.81h2.6M107.23 609.35V623.35M105.93 609.35h2.6M105.93 623.35h2.6M116.62 618.93V631.21M115.32 618.93h2.6M115.32 631.21h2.6M126.01 652.28V658.99M124.71 652.28h2.6M124.71 658.99h2.6M135.4 667.58V673.97M134.1 667.58h2.6M134.1 673.97h2.6M144.79 670.58V674.84M143.49 670.58h2.6M143.49 674.84h2.6M154.18 674.47V677.03M152.88 674.47h2.6M152.88 677.03h2.6M163.57 673.27V676.31M162.27 673.27h2.6M162.27 676.31h2.6M79.05 621.08L81.87 621.09L84.69 621.11L87.5 621.14L90.32 621.19L93.14 621.27L95.96 621.41L98.77 621.64L101.59 622.04L104.41 622.7L107.23 623.79L110.04 625.56L112.86 628.32L115.68 632.4L118.5 638L121.31 644.9L124.13 652.39L126.95 659.47L129.76 665.34L132.58 669.71L135.4 672.69L138.22 674.61L141.03 675.81L143.85 676.54L146.67 676.98L149.49 677.24L152.3 677.39L155.12 677.48L157.94 677.53L160.76 677.56L163.57 677.58M79.05 618.66V626.59M77.75 618.66h2.6M77.75 626.59h2.6M88.44 615.77V630.92M87.14 615.77h2.6M87.14 630.92h2.6M97.83 614.1V632.35M96.53 614.1h2.6M96.53 632.35h2.6M107.23 617.3V633.93M105.93 617.3h2.6M105.93 633.93h2.6M116.62 632.44V639.04M115.32 632.44h2.6M115.32 639.04h2.6M126.01 653.37V659.11M124.71 653.37h2.6M124.71 659.11h2.6M135.4 669.97V673.34M134.1 669.97h2.6M134.1 673.34h2.6M144.79 676.58V678.6M143.49 676.58h2.6M143.49 678.6h2.6M154.18 674.14V678.6M152.88 674.14h2.6M152.88 678.6h2.6M163.57 675.36V677.77M162.27 675.36h2.6M162.27 677.77h2.6M79.05 612.76L81.87 612.77L84.69 612.8L87.5 612.84L90.32 612.91L93.14 613.01L95.96 613.17L98.77 613.42L101.59 613.8L104.41 614.38L107.23 615.26L110.04 616.57L112.86 618.49L115.68 621.23L118.5 624.99L121.31 629.85L124.13 635.74L126.95 642.26L129.76 648.87L132.58 654.95L135.4 660.08L138.22 664.09L141.03 667.06L143.85 669.16L146.67 670.6L149.49 671.57L152.3 672.21L155.12 672.63L157.94 672.9L160.76 673.08L163.57 673.19M79.05 604.46V619.91M77.75 604.46h2.6M77.75 619.91h2.6M88.44 604.1V621.98M87.14 604.1h2.6M87.14 621.98h2.6M97.83 605.3V623.53M96.53 605.3h2.6M96.53 623.53h2.6M107.23 610.35V618.23M105.93 610.35h2.6M105.93 618.23h2.6M116.62 617.24V631.79M115.32 617.24h2.6M115.32 631.79h2.6M126.01 635.23V642.05M124.71 635.23h2.6M124.71 642.05h2.6M135.4 657.08V664.75M134.1 657.08h2.6M134.1 664.75h2.6M144.79 668.19V674.18M143.49 668.19h2.6M143.49 674.18h2.6M154.18 671.17V673.96M152.88 671.17h2.6M152.88 673.96h2.6M163.57 671.57V675.99M162.27 671.57h2.6M162.27 675.99h2.6M79.05 624.17L81.87 624.18L84.69 624.19L87.5 624.21L90.32 624.24L93.14 624.28L95.96 624.36L98.77 624.48L101.59 624.66L104.41 624.96L107.23 625.42L110.04 626.13L112.86 627.22L115.68 628.85L118.5 631.21L121.31 634.5L124.13 638.8L126.95 643.99L129.76 649.7L132.58 655.37L135.4 660.43L138.22 664.57L141.03 667.7L143.85 669.93L146.67 671.46L149.49 672.47L152.3 673.14L155.12 673.57L157.94 673.84L160.76 674.01L163.57 674.12M79.05 617.01V631.87M77.75 617.01h2.6M77.75 631.87h2.6M88.44 617.87V633.71M87.14 617.87h2.6M87.14 633.71h2.6M97.83 617.84V632.23M96.53 617.84h2.6M96.53 632.23h2.6M107.23 618.83V630.85M105.93 618.83h2.6M105.93 630.85h2.6M116.62 622.66V637.44M115.32 622.66h2.6M115.32 637.44h2.6M126.01 633.95V646.47M124.71 633.95h2.6M124.71 646.47h2.6M135.4 657.41V662.87M134.1 657.41h2.6M134.1 662.87h2.6M144.79 669.4V675.51M143.49 669.4h2.6M143.49 675.51h2.6M154.18 669.76V675.32M152.88 669.76h2.6M152.88 675.32h2.6M163.57 672.71V677.02M162.27 672.71h2.6M162.27 677.02h2.6M79.05 615.73L81.87 615.73L84.69 615.73L87.5 615.73L90.32 615.73L93.14 615.74L95.96 615.75L98.77 615.77L101.59 615.81L104.41 615.87L107.23 615.98L110.04 616.17L112.86 616.5L115.68 617.06L118.5 618.02L121.31 619.61L124.13 622.2L126.95 626.19L129.76 631.89L132.58 639.22L135.4 647.47L138.22 655.45L141.03 662.13L143.85 667.08L146.67 670.42L149.49 672.54L152.3 673.83L155.12 674.59L157.94 675.04L160.76 675.3L163.57 675.45M79.05 605.22V622M77.75 605.22h2.6M77.75 622h2.6M88.44 609.73V620.84M87.14 609.73h2.6M87.14 620.84h2.6M97.83 607.38V624.78M96.53 607.38h2.6M96.53 624.78h2.6M107.23 608.93V624.12M105.93 608.93h2.6M105.93 624.12h2.6M116.62 608.13V625.62M115.32 608.13h2.6M115.32 625.62h2.6M126.01 617.91V628.73M124.71 617.91h2.6M124.71 628.73h2.6M135.4 646.27V653.08M134.1 646.27h2.6M134.1 653.08h2.6M144.79 665.99V671.41M143.49 665.99h2.6M143.49 671.41h2.6M154.18 670.15V675.82M152.88 670.15h2.6M152.88 675.82h2.6M163.57 675.25V678.6M162.27 675.25h2.6M162.27 678.6h2.6M79.05 621.03L81.87 621.04L84.69 621.06L87.5 621.1L90.32 621.17L93.14 621.28L95.96 621.45L98.77 621.75L101.59 622.23L104.41 623L107.23 624.24L110.04 626.16L112.86 629.04L115.68 633.09L118.5 638.39L121.31 644.61L124.13 651.1L126.95 657.08L129.76 661.98L132.58 665.63L135.4 668.16L138.22 669.83L141.03 670.89L143.85 671.55L146.67 671.96L149.49 672.21L152.3 672.36L155.12 672.45L157.94 672.51L160.76 672.54L163.57 672.56M79.05 611.06V628.23M77.75 611.06h2.6M77.75 628.23h2.6M88.44 615.44V626.17M87.14 615.44h2.6M87.14 626.17h2.6M97.83 611.82V628.34M96.53 611.82h2.6M96.53 628.34h2.6M107.23 614.61V632.23M105.93 614.61h2.6M105.93 632.23h2.6M116.62 631.78V639.03M115.32 631.78h2.6M115.32 639.03h2.6M126.01 650.27V659.63M124.71 650.27h2.6M124.71 659.63h2.6M135.4 666.52V672.46M134.1 666.52h2.6M134.1 672.46h2.6M144.79 667.9V671.7M143.49 667.9h2.6M143.49 671.7h2.6M154.18 669.39V674.52M152.88 669.39h2.6M152.88 674.52h2.6M163.57 671.07V674.36M162.27 671.07h2.6M162.27 674.36h2.6M79.05 618.92L81.87 618.93L84.69 618.94L87.5 618.96L90.32 619L93.14 619.07L95.96 619.18L98.77 619.39L101.59 619.76L104.41 620.39L107.23 621.48L110.04 623.29L112.86 626.23L115.68 630.7L118.5 636.92L121.31 644.62L124.13 652.82L126.95 660.29L129.76 666.19L132.58 670.35L135.4 673.04L138.22 674.7L141.03 675.68L143.85 676.26L146.67 676.58L149.49 676.77L152.3 676.88L155.12 676.94L157.94 676.97L160.76 676.99L163.57 677.01M79.05 612.05V627.96M77.75 612.05h2.6M77.75 627.96h2.6M88.44 611.3V624.05M87.14 611.3h2.6M87.14 624.05h2.6M97.83 612.88V629.4M96.53 612.88h2.6M96.53 629.4h2.6M107.23 615.13V625.41M105.93 615.13h2.6M105.93 625.41h2.6M116.62 624.55V639.9M115.32 624.55h2.6M115.32 639.9h2.6M126.01 652.53V659.95M124.71 652.53h2.6M124.71 659.95h2.6M135.4 670.86V675.44M134.1 670.86h2.6M134.1 675.44h2.6M144.79 676.48V678.6M143.49 676.48h2.6M143.49 678.6h2.6M154.18 676.39V678.6M152.88 676.39h2.6M152.88 678.6h2.6M163.57 675.79V678.6M162.27 675.79h2.6M162.27 678.6h2.6M79.05 624.16L81.87 624.17L84.69 624.18L87.5 624.2L90.32 624.22L93.14 624.26L95.96 624.32L98.77 624.41L101.59 624.54L104.41 624.74L107.23 625.04L110.04 625.48L112.86 626.14L115.68 627.09L118.5 628.45L121.31 630.37L124.13 632.97L126.95 636.36L129.76 640.55L132.58 645.39L135.4 650.55L138.22 655.64L141.03 660.25L143.85 664.14L146.67 667.22L149.49 669.54L152.3 671.22L155.12 672.41L157.94 673.23L160.76 673.79L163.57 674.17M79.05 618.03V631.15M77.75 618.03h2.6M77.75 631.15h2.6M88.44 621.78V629.74M87.14 621.78h2.6M87.14 629.74h2.6M97.83 616.26V628.08M96.53 616.26h2.6M96.53 628.08h2.6M107.23 619.83V633.75M105.93 619.83h2.6M105.93 633.75h2.6M116.62 621.68V630.75M115.32 621.68h2.6M115.32 630.75h2.6M126.01 629.86V639.57M124.71 629.86h2.6M124.71 639.57h2.6M135.4 647.95V652.98M134.1 647.95h2.6M134.1 652.98h2.6M144.79 663.59V671.05M143.49 663.59h2.6M143.49 671.05h2.6M154.18 668.08V672.78M152.88 668.08h2.6M152.88 672.78h2.6M163.57 672.21V675.54M162.27 672.21h2.6M162.27 675.54h2.6M79.05 621.66L81.87 621.66L84.69 621.67L87.5 621.68L90.32 621.69L93.14 621.72L95.96 621.76L98.77 621.83L101.59 621.96L104.41 622.17L107.23 622.53L110.04 623.13L112.86 624.13L115.68 625.74L118.5 628.27L121.31 632.02L124.13 637.19L126.95 643.61L129.76 650.62L132.58 657.3L135.4 662.86L138.22 667.01L141.03 669.86L143.85 671.7L146.67 672.84L149.49 673.54L152.3 673.96L155.12 674.2L157.94 674.35L160.76 674.44L163.57 674.49M79.05 614.23V626.61M77.75 614.23h2.6M77.75 626.61h2.6M88.44 611.66V627.75M87.14 611.66h2.6M87.14 627.75h2.6M97.83 611.28V629.5M96.53 611.28h2.6M96.53 629.5h2.6M107.23 619.56V627.68M105.93 619.56h2.6M105.93 627.68h2.6M116.62 623.23V632.35M115.32 623.23h2.6M115.32 632.35h2.6M126.01 640.18V646.24M124.71 640.18h2.6M124.71 646.24h2.6M135.4 658.6V666.62M134.1 658.6h2.6M134.1 666.62h2.6M144.79 669.31V675.35M143.49 669.31h2.6M143.49 675.35h2.6M154.18 670.9V673.73M152.88 670.9h2.6M152.88 673.73h2.6M163.57 672.17V675.93M162.27 672.17h2.6M162.27 675.93h2.6" stroke="#e10a14" stroke-width="1.05" fill="none"/>
<path d="M77.75 620.39h2.6v2.6h-2.6zM87.14 620.21h2.6v2.6h-2.6zM96.53 621.85h2.6v2.6h-2.6zM105.93 619.87h2.6v2.6h-2.6zM115.32 620.83h2.6v2.6h-2.6zM124.71 622.33h2.6v2.6h-2.6zM134.1 621.92h2.6v2.6h-2.6zM143.49 606.04h2.6v2.6h-2.6zM152.88 608.82h2.6v2.6h-2.6zM162.27 607.36h2.6v2.6h-2.6zM77.75 628.52h2.6v2.6h-2.6zM87.14 627.82h2.6v2.6h-2.6zM96.53 628.75h2.6v2.6h-2.6zM105.93 629.19h2.6v2.6h-2.6zM115.32 628.79h2.6v2.6h-2.6zM124.71 629.39h2.6v2.6h-2.6zM134.1 628.9h2.6v2.6h-2.6zM143.49 629.16h2.6v2.6h-2.6zM152.88 629.9h2.6v2.6h-2.6zM162.27 629.16h2.6v2.6h-2.6zM77.75 625h2.6v2.6h-2.6zM87.14 625.28h2.6v2.6h-2.6zM96.53 623.7h2.6v2.6h-2.6zM105.93 625.29h2.6v2.6h-2.6zM115.32 624.91h2.6v2.6h-2.6zM124.71 625.51h2.6v2.6h-2.6zM134.1 624.05h2.6v2.6h-2.6zM143.49 624.95h2.6v2.6h-2.6zM152.88 625.82h2.6v2.6h-2.6zM162.27 625.88h2.6v2.6h-2.6z" fill="#111111"/>
<path d="M77.75 616.41h2.6v2.6h-2.6zM87.14 617.6h2.6v2.6h-2.6zM96.53 617.43h2.6v2.6h-2.6zM105.93 616.97h2.6v2.6h-2.6zM115.32 619.31h2.6v2.6h-2.6zM124.71 629.21h2.6v2.6h-2.6zM134.1 641.55h2.6v2.6h-2.6zM143.49 649.27h2.6v2.6h-2.6zM152.88 649.93h2.6v2.6h-2.6zM162.27 650.18h2.6v2.6h-2.6zM77.75 615.49h2.6v2.6h-2.6zM87.14 614.74h2.6v2.6h-2.6zM96.53 613.9h2.6v2.6h-2.6zM105.93 617.12h2.6v2.6h-2.6zM115.32 615.89h2.6v2.6h-2.6zM124.71 624.91h2.6v2.6h-2.6zM134.1 636.9h2.6v2.6h-2.6zM143.49 648.69h2.6v2.6h-2.6zM152.88 649.44h2.6v2.6h-2.6zM162.27 651.89h2.6v2.6h-2.6zM77.75 629.44h2.6v2.6h-2.6zM87.14 629.09h2.6v2.6h-2.6zM96.53 627.34h2.6v2.6h-2.6zM105.93 630.25h2.6v2.6h-2.6zM115.32 630.73h2.6v2.6h-2.6zM124.71 636.85h2.6v2.6h-2.6zM134.1 646.93h2.6v2.6h-2.6zM143.49 655.59h2.6v2.6h-2.6zM152.88 656.6h2.6v2.6h-2.6zM162.27 657.42h2.6v2.6h-2.6zM77.75 618.4h2.6v2.6h-2.6zM87.14 619.5h2.6v2.6h-2.6zM96.53 618.8h2.6v2.6h-2.6zM105.93 619.59h2.6v2.6h-2.6zM115.32 622.47h2.6v2.6h-2.6zM124.71 631.91h2.6v2.6h-2.6zM134.1 649.6h2.6v2.6h-2.6zM143.49 658.23h2.6v2.6h-2.6zM152.88 660.8h2.6v2.6h-2.6zM162.27 662.54h2.6v2.6h-2.6z" fill="#0000ff"/>
<path d="M77.75 601.25h2.6v2.6h-2.6zM87.14 602.87h2.6v2.6h-2.6zM96.53 606.49h2.6v2.6h-2.6zM105.93 608.74h2.6v2.6h-2.6zM115.32 620.45h2.6v2.6h-2.6zM124.71 637.82h2.6v2.6h-2.6zM134.1 654.84h2.6v2.6h-2.6zM143.49 666.5h2.6v2.6h-2.6zM152.88 672.48h2.6v2.6h-2.6zM162.27 674.1h2.6v2.6h-2.6zM77.75 619.6h2.6v2.6h-2.6zM87.14 620.65h2.6v2.6h-2.6zM96.53 619.96h2.6v2.6h-2.6zM105.93 618.74h2.6v2.6h-2.6zM115.32 619.87h2.6v2.6h-2.6zM124.71 628.92h2.6v2.6h-2.6zM134.1 648.72h2.6v2.6h-2.6zM143.49 657.05h2.6v2.6h-2.6zM152.88 659.42h2.6v2.6h-2.6zM162.27 659.67h2.6v2.6h-2.6zM77.75 611.48h2.6v2.6h-2.6zM87.14 613.46h2.6v2.6h-2.6zM96.53 610.67h2.6v2.6h-2.6zM105.93 613.63h2.6v2.6h-2.6zM115.32 615.19h2.6v2.6h-2.6zM124.71 621.36h2.6v2.6h-2.6zM134.1 648.62h2.6v2.6h-2.6zM143.49 664.06h2.6v2.6h-2.6zM152.88 668.13h2.6v2.6h-2.6zM162.27 668.28h2.6v2.6h-2.6zM77.75 619.25h2.6v2.6h-2.6zM87.14 619.39h2.6v2.6h-2.6zM96.53 619.28h2.6v2.6h-2.6zM105.93 623.12h2.6v2.6h-2.6zM115.32 625.14h2.6v2.6h-2.6zM124.71 638.39h2.6v2.6h-2.6zM134.1 655.76h2.6v2.6h-2.6zM143.49 668.03h2.6v2.6h-2.6zM152.88 672.96h2.6v2.6h-2.6zM162.27 673.89h2.6v2.6h-2.6zM77.75 614.09h2.6v2.6h-2.6zM87.14 616.72h2.6v2.6h-2.6zM96.53 616.98h2.6v2.6h-2.6zM105.93 615.05h2.6v2.6h-2.6zM115.32 623.77h2.6v2.6h-2.6zM124.71 654.34h2.6v2.6h-2.6zM134.1 669.47h2.6v2.6h-2.6zM143.49 671.41h2.6v2.6h-2.6zM152.88 674.45h2.6v2.6h-2.6zM162.27 673.49h2.6v2.6h-2.6zM77.75 621.33h2.6v2.6h-2.6zM87.14 622.05h2.6v2.6h-2.6zM96.53 621.92h2.6v2.6h-2.6zM105.93 624.32h2.6v2.6h-2.6zM115.32 634.44h2.6v2.6h-2.6zM124.71 654.94h2.6v2.6h-2.6zM134.1 670.35h2.6v2.6h-2.6zM143.49 677.3h2.6v2.6h-2.6zM152.88 675.21h2.6v2.6h-2.6zM162.27 675.26h2.6v2.6h-2.6zM77.75 610.89h2.6v2.6h-2.6zM87.14 611.74h2.6v2.6h-2.6zM96.53 613.12h2.6v2.6h-2.6zM105.93 612.99h2.6v2.6h-2.6zM115.32 623.21h2.6v2.6h-2.6zM124.71 637.34h2.6v2.6h-2.6zM134.1 659.61h2.6v2.6h-2.6zM143.49 669.88h2.6v2.6h-2.6zM152.88 671.27h2.6v2.6h-2.6zM162.27 672.48h2.6v2.6h-2.6zM77.75 623.14h2.6v2.6h-2.6zM87.14 624.49h2.6v2.6h-2.6zM96.53 623.74h2.6v2.6h-2.6zM105.93 623.54h2.6v2.6h-2.6zM115.32 628.75h2.6v2.6h-2.6zM124.71 638.91h2.6v2.6h-2.6zM134.1 658.84h2.6v2.6h-2.6zM143.49 671.15h2.6v2.6h-2.6zM152.88 671.24h2.6v2.6h-2.6zM162.27 673.57h2.6v2.6h-2.6zM77.75 612.31h2.6v2.6h-2.6zM87.14 613.98h2.6v2.6h-2.6zM96.53 614.78h2.6v2.6h-2.6zM105.93 615.23h2.6v2.6h-2.6zM115.32 615.57h2.6v2.6h-2.6zM124.71 622.02h2.6v2.6h-2.6zM134.1 648.38h2.6v2.6h-2.6zM143.49 667.4h2.6v2.6h-2.6zM152.88 671.68h2.6v2.6h-2.6zM162.27 676.18h2.6v2.6h-2.6zM77.75 618.34h2.6v2.6h-2.6zM87.14 619.5h2.6v2.6h-2.6zM96.53 618.78h2.6v2.6h-2.6zM105.93 622.12h2.6v2.6h-2.6zM115.32 634.11h2.6v2.6h-2.6zM124.71 653.65h2.6v2.6h-2.6zM134.1 668.19h2.6v2.6h-2.6zM143.49 668.5h2.6v2.6h-2.6zM152.88 670.66h2.6v2.6h-2.6zM162.27 671.42h2.6v2.6h-2.6zM77.75 618.71h2.6v2.6h-2.6zM87.14 616.38h2.6v2.6h-2.6zM96.53 619.84h2.6v2.6h-2.6zM105.93 618.97h2.6v2.6h-2.6zM115.32 630.92h2.6v2.6h-2.6zM124.71 654.94h2.6v2.6h-2.6zM134.1 671.85h2.6v2.6h-2.6zM143.49 676.46h2.6v2.6h-2.6zM152.88 677.04h2.6v2.6h-2.6zM162.27 676.31h2.6v2.6h-2.6zM77.75 623.29h2.6v2.6h-2.6zM87.14 624.46h2.6v2.6h-2.6zM96.53 620.87h2.6v2.6h-2.6zM105.93 625.49h2.6v2.6h-2.6zM115.32 624.92h2.6v2.6h-2.6zM124.71 633.41h2.6v2.6h-2.6zM134.1 649.17h2.6v2.6h-2.6zM143.49 666.02h2.6v2.6h-2.6zM152.88 669.13h2.6v2.6h-2.6zM162.27 672.57h2.6v2.6h-2.6zM77.75 619.12h2.6v2.6h-2.6zM87.14 618.4h2.6v2.6h-2.6zM96.53 619.09h2.6v2.6h-2.6zM105.93 622.32h2.6v2.6h-2.6zM115.32 626.49h2.6v2.6h-2.6zM124.71 641.91h2.6v2.6h-2.6zM134.1 661.31h2.6v2.6h-2.6zM143.49 671.03h2.6v2.6h-2.6zM152.88 671.02h2.6v2.6h-2.6zM162.27 672.75h2.6v2.6h-2.6z" fill="#e10a14"/>
<path d="M60.8 594.8V679.3M56.8 678.6H60.8M56.8 650.9H60.8M56.8 623.2H60.8M56.8 595.5H60.8M60.1 678.6H186.3" stroke="#000" stroke-width="1.5" fill="none"/>
<path d="M60.8 678.6v3.6M76.4 678.6v3.6M92 678.6v3.6M107.6 678.6v3.6M123.2 678.6v3.6M138.8 678.6v3.6M154.4 678.6v3.6M170 678.6v3.6M185.6 678.6v3.6" stroke="#000" stroke-width="1.3" fill="none"/>
<path d="M65.5 678.6v2M68.24 678.6v2M70.19 678.6v2M71.7 678.6v2M72.94 678.6v2M73.98 678.6v2M74.89 678.6v2M75.69 678.6v2M81.1 678.6v2M83.84 678.6v2M85.79 678.6v2M87.3 678.6v2M88.54 678.6v2M89.58 678.6v2M90.49 678.6v2M91.29 678.6v2M96.7 678.6v2M99.44 678.6v2M101.39 678.6v2M102.9 678.6v2M104.14 678.6v2M105.18 678.6v2M106.09 678.6v2M106.89 678.6v2M112.3 678.6v2M115.04 678.6v2M116.99 678.6v2M118.5 678.6v2M119.74 678.6v2M120.78 678.6v2M121.69 678.6v2M122.49 678.6v2M127.9 678.6v2M130.64 678.6v2M132.59 678.6v2M134.1 678.6v2M135.34 678.6v2M136.38 678.6v2M137.29 678.6v2M138.09 678.6v2M143.5 678.6v2M146.24 678.6v2M148.19 678.6v2M149.7 678.6v2M150.94 678.6v2M151.98 678.6v2M152.89 678.6v2M153.69 678.6v2M159.1 678.6v2M161.84 678.6v2M163.79 678.6v2M165.3 678.6v2M166.54 678.6v2M167.58 678.6v2M168.49 678.6v2M169.29 678.6v2M174.7 678.6v2M177.44 678.6v2M179.39 678.6v2M180.9 678.6v2M182.14 678.6v2M183.18 678.6v2M184.09 678.6v2M184.89 678.6v2" stroke="#000" stroke-width="0.8" fill="none"/>
<text x="54.4" y="681.9" font-size="9.2" font-weight="bold" fill="#000" color="#000" text-anchor="end">0</text>
<text x="54.4" y="654.2" font-size="9.2" font-weight="bold" fill="#000" color="#000" text-anchor="end">50</text>
<text x="54.4" y="626.5" font-size="9.2" font-weight="bold" fill="#000" color="#000" text-anchor="end">100</text>
<text x="54.4" y="598.8" font-size="9.2" font-weight="bold" fill="#000" color="#000" text-anchor="end">150</text>
<text x="52" y="691.7" font-size="9" font-weight="bold">10<tspan font-size="6.9" dy="-2.7">−12</tspan></text>
<text x="83.2" y="691.7" font-size="9" font-weight="bold">10<tspan font-size="6.9" dy="-2.7">−10</tspan></text>
<text x="114.4" y="691.7" font-size="9" font-weight="bold">10<tspan font-size="6.9" dy="-2.7">−8</tspan></text>
<text x="145.6" y="691.7" font-size="9" font-weight="bold">10<tspan font-size="6.9" dy="-2.7">−6</tspan></text>
<text x="176.8" y="691.7" font-size="9" font-weight="bold">10<tspan font-size="6.9" dy="-2.7">−4</tspan></text>
<line x1="61.8" y1="650.9" x2="185.6" y2="650.9" stroke="#000" stroke-width="0.9" stroke-dasharray="1.2,1.6"/>
<path d="M232.95 624.76L235.77 624.76L238.59 624.76L241.4 624.76L244.22 624.76L247.04 624.76L249.86 624.76L252.67 624.76L255.49 624.76L258.31 624.76L261.13 624.76L263.94 624.76L266.76 624.76L269.58 624.76L272.4 624.76L275.21 624.76L278.03 624.76L280.85 624.76L283.66 624.76L286.48 624.76L289.3 624.76L292.12 624.75L294.93 620.36L297.75 614.81L300.57 614.79L303.39 614.79L306.2 614.79L309.02 614.79L311.84 614.79L314.66 614.79L317.47 614.79M232.95 616.2V635.01M231.65 616.2h2.6M231.65 635.01h2.6M242.34 618.08V632.52M241.04 618.08h2.6M241.04 632.52h2.6M251.73 614.91V633.99M250.43 614.91h2.6M250.43 633.99h2.6M261.13 618.06V630.72M259.83 618.06h2.6M259.83 630.72h2.6M270.52 619.91V629.84M269.22 619.91h2.6M269.22 629.84h2.6M279.91 613.89V633.57M278.61 613.89h2.6M278.61 633.57h2.6M289.3 621.13V629.62M288 621.13h2.6M288 629.62h2.6M298.69 609.13V621.54M297.39 609.13h2.6M297.39 621.54h2.6M308.08 604.48V623.31M306.78 604.48h2.6M306.78 623.31h2.6M317.47 609.61V618.47M316.17 609.61h2.6M316.17 618.47h2.6M232.95 624.76L235.77 624.76L238.59 624.76L241.4 624.76L244.22 624.76L247.04 624.76L249.86 624.76L252.67 624.76L255.49 624.76L258.31 624.76L261.13 624.76L263.94 624.76L266.76 624.77L269.58 624.77L272.4 624.8L275.21 624.89L278.03 625.19L280.85 626.1L283.66 628.21L286.48 631.06L289.3 633L292.12 633.81L294.93 634.07L297.75 634.15L300.57 634.17L303.39 634.18L306.2 634.18L309.02 634.18L311.84 634.18L314.66 634.18L317.47 634.18M232.95 618.68V629.57M231.65 618.68h2.6M231.65 629.57h2.6M242.34 617.96V630.91M241.04 617.96h2.6M241.04 630.91h2.6M251.73 622.53V628.96M250.43 622.53h2.6M250.43 628.96h2.6M261.13 617.88V630.51M259.83 617.88h2.6M259.83 630.51h2.6M270.52 620.53V628.25M269.22 620.53h2.6M269.22 628.25h2.6M279.91 619.97V631.01M278.61 619.97h2.6M278.61 631.01h2.6M289.3 630.44V637.32M288 630.44h2.6M288 637.32h2.6M298.69 631.96V637.44M297.39 631.96h2.6M297.39 637.44h2.6M308.08 631.31V637.13M306.78 631.31h2.6M306.78 637.13h2.6M317.47 631.96V637.56M316.17 631.96h2.6M316.17 637.56h2.6M232.95 625.87L235.77 625.87L238.59 625.87L241.4 625.87L244.22 625.87L247.04 625.87L249.86 625.88L252.67 625.88L255.49 625.89L258.31 625.9L261.13 625.93L263.94 625.98L266.76 626.06L269.58 626.21L272.4 626.47L275.21 626.92L278.03 627.7L280.85 629L283.66 631.03L286.48 633.98L289.3 637.79L292.12 642.03L294.93 646.03L297.75 649.26L300.57 651.57L303.39 653.07L306.2 653.98L309.02 654.52L311.84 654.83L314.66 655.01L317.47 655.11M232.95 622.75V628.2M231.65 622.75h2.6M231.65 628.2h2.6M242.34 621.97V628.81M241.04 621.97h2.6M241.04 628.81h2.6M251.73 620.87V632.95M250.43 620.87h2.6M250.43 632.95h2.6M261.13 620.46V632.64M259.83 620.46h2.6M259.83 632.64h2.6M270.52 619.45V631.48M269.22 619.45h2.6M269.22 631.48h2.6M279.91 625.17V633.42M278.61 625.17h2.6M278.61 633.42h2.6M289.3 633.66V643.71M288 633.66h2.6M288 643.71h2.6M298.69 646.02V652.73M297.39 646.02h2.6M297.39 652.73h2.6M308.08 652.13V656.83M306.78 652.13h2.6M306.78 656.83h2.6M317.47 651.73V657.05M316.17 651.73h2.6M316.17 657.05h2.6" stroke="#111111" stroke-width="1.05" fill="none"/>
<path d="M232.95 632.52L235.77 632.52L238.59 632.52L241.4 632.52L244.22 632.53L247.04 632.53L249.86 632.54L252.67 632.55L255.49 632.58L258.31 632.61L261.13 632.67L263.94 632.77L266.76 632.93L269.58 633.19L272.4 633.6L275.21 634.23L278.03 635.18L280.85 636.52L283.66 638.3L286.48 640.42L289.3 642.69L292.12 644.84L294.93 646.65L297.75 648.03L300.57 649.01L303.39 649.67L306.2 650.1L309.02 650.37L311.84 650.53L314.66 650.64L317.47 650.7M232.95 625.87L235.77 625.87L238.59 625.87L241.4 625.88L244.22 625.88L247.04 625.89L249.86 625.9L252.67 625.92L255.49 625.95L258.31 626L261.13 626.09L263.94 626.23L266.76 626.46L269.58 626.84L272.4 627.43L275.21 628.37L278.03 629.8L280.85 631.9L283.66 634.79L286.48 638.45L289.3 642.62L292.12 646.84L294.93 650.63L297.75 653.68L300.57 655.93L303.39 657.48L306.2 658.5L309.02 659.15L311.84 659.56L314.66 659.82L317.47 659.97M232.95 620.29V634.4M231.65 620.29h2.6M231.65 634.4h2.6M242.34 621.14V629.5M241.04 621.14h2.6M241.04 629.5h2.6M251.73 621.51V630.46M250.43 621.51h2.6M250.43 630.46h2.6M261.13 622.85V630.94M259.83 622.85h2.6M259.83 630.94h2.6M270.52 619.99V634.92M269.22 619.99h2.6M269.22 634.92h2.6M279.91 622.49V636.43M278.61 622.49h2.6M278.61 636.43h2.6M289.3 640.6V647.31M288 640.6h2.6M288 647.31h2.6M298.69 651.07V655.32M297.39 651.07h2.6M297.39 655.32h2.6M308.08 655.76V660.68M306.78 655.76h2.6M306.78 660.68h2.6M317.47 656.61V660.16M316.17 656.61h2.6M316.17 660.16h2.6M232.95 628.64L235.77 628.64L238.59 628.65L241.4 628.65L244.22 628.66L247.04 628.67L249.86 628.69L252.67 628.71L255.49 628.76L258.31 628.82L261.13 628.93L263.94 629.1L266.76 629.36L269.58 629.76L272.4 630.38L275.21 631.32L278.03 632.71L280.85 634.69L283.66 637.4L286.48 640.85L289.3 644.92L292.12 649.27L294.93 653.46L297.75 657.13L300.57 660.07L303.39 662.26L306.2 663.82L309.02 664.88L311.84 665.58L314.66 666.04L317.47 666.34M232.95 623.01V632.23M231.65 623.01h2.6M231.65 632.23h2.6M242.34 626.82V632.88M241.04 626.82h2.6M241.04 632.88h2.6M251.73 622.18V633.02M250.43 622.18h2.6M250.43 633.02h2.6M261.13 625.12V634.83M259.83 625.12h2.6M259.83 634.83h2.6M270.52 624.55V632.59M269.22 624.55h2.6M269.22 632.59h2.6M279.91 630.32V637.11M278.61 630.32h2.6M278.61 637.11h2.6M289.3 641.21V650.75M288 641.21h2.6M288 650.75h2.6M298.69 655.22V659.75M297.39 655.22h2.6M297.39 659.75h2.6M308.08 664.4V667.53M306.78 664.4h2.6M306.78 667.53h2.6M317.47 663.62V668.34M316.17 663.62h2.6M316.17 668.34h2.6M232.95 629.75L235.77 629.75L238.59 629.76L241.4 629.76L244.22 629.77L247.04 629.79L249.86 629.81L252.67 629.85L255.49 629.91L258.31 630L261.13 630.14L263.94 630.36L266.76 630.7L269.58 631.23L272.4 632L275.21 633.13L278.03 634.69L280.85 636.74L283.66 639.22L286.48 641.96L289.3 644.7L292.12 647.17L294.93 649.21L297.75 650.76L300.57 651.88L303.39 652.66L306.2 653.17L309.02 653.51L311.84 653.73L314.66 653.88L317.47 653.97" stroke="#0000ff" stroke-width="1.05" fill="none"/>
<path d="M232.95 628.01V636.18M231.65 628.01h2.6M231.65 636.18h2.6M242.34 629.85V637.05M241.04 629.85h2.6M241.04 637.05h2.6M251.73 625.77V637.91M250.43 625.77h2.6M250.43 637.91h2.6M261.13 626.5V641.21M259.83 626.5h2.6M259.83 641.21h2.6M270.52 628.88V639.29M269.22 628.88h2.6M269.22 639.29h2.6M279.91 632.84V641.5M278.61 632.84h2.6M278.61 641.5h2.6M289.3 637.29V645.83M288 637.29h2.6M288 645.83h2.6M298.69 645.3V653.71M297.39 645.3h2.6M297.39 653.71h2.6M308.08 645.42V656.37M306.78 645.42h2.6M306.78 656.37h2.6M317.47 646.39V657.58M316.17 646.39h2.6M316.17 657.58h2.6M232.95 626.01V635M231.65 626.01h2.6M231.65 635h2.6M242.34 622.33V636.46M241.04 622.33h2.6M241.04 636.46h2.6M251.73 622.3V635.3M250.43 622.3h2.6M250.43 635.3h2.6M261.13 627.36V634.9M259.83 627.36h2.6M259.83 634.9h2.6M270.52 625.21V636.15M269.22 625.21h2.6M269.22 636.15h2.6M279.91 631.78V638.76M278.61 631.78h2.6M278.61 638.76h2.6M289.3 639.55V647.78M288 639.55h2.6M288 647.78h2.6M298.69 644.6V655.49M297.39 644.6h2.6M297.39 655.49h2.6M308.08 651.11V655.77M306.78 651.11h2.6M306.78 655.77h2.6M317.47 648.72V656.49M316.17 648.72h2.6M316.17 656.49h2.6" stroke="#9a3cf0" stroke-width="1.05" fill="none"/>
<path d="M232.95 623.1L235.77 623.1L238.59 623.11L241.4 623.12L244.22 623.14L247.04 623.2L249.86 623.32L252.67 623.61L255.49 624.26L258.31 625.69L261.13 628.71L263.94 634.49L266.76 643.76L269.58 655.09L272.4 665.12L275.21 671.75L278.03 675.35L280.85 677.08L283.66 677.87L286.48 678.23L289.3 678.38L292.12 678.45L294.93 678.48L297.75 678.49L300.57 678.5L303.39 678.5L306.2 678.5L309.02 678.5L311.84 678.5L314.66 678.5L317.47 678.5M232.95 618.06V625.67M231.65 618.06h2.6M231.65 625.67h2.6M242.34 618.26V630.08M241.04 618.26h2.6M241.04 630.08h2.6M251.73 620.56V627.3M250.43 620.56h2.6M250.43 627.3h2.6M261.13 624.48V633.8M259.83 624.48h2.6M259.83 633.8h2.6M270.52 658.01V662.75M269.22 658.01h2.6M269.22 662.75h2.6M279.91 675.52V678.12M278.61 675.52h2.6M278.61 678.12h2.6M289.3 677.11V678.5M288 677.11h2.6M288 678.5h2.6M298.69 675.82V678.5M297.39 675.82h2.6M297.39 678.5h2.6M308.08 677.12V678.5M306.78 677.12h2.6M306.78 678.5h2.6M317.47 677.08V678.5M316.17 677.08h2.6M316.17 678.5h2.6M232.95 612.02L235.77 612.02L238.59 612.02L241.4 612.02L244.22 612.02L247.04 612.02L249.86 612.03L252.67 612.03L255.49 612.04L258.31 612.07L261.13 612.11L263.94 612.18L266.76 612.32L269.58 612.58L272.4 613.05L275.21 613.9L278.03 615.41L280.85 617.97L283.66 622.03L286.48 627.79L289.3 634.83L292.12 642.01L294.93 648.09L297.75 652.48L300.57 655.31L303.39 656.99L306.2 657.95L309.02 658.48L311.84 658.77L314.66 658.93L317.47 659.01M232.95 606.09V620.86M231.65 606.09h2.6M231.65 620.86h2.6M242.34 604.89V616.14M241.04 604.89h2.6M241.04 616.14h2.6M251.73 606.19V617.78M250.43 606.19h2.6M250.43 617.78h2.6M261.13 608.56V615.4M259.83 608.56h2.6M259.83 615.4h2.6M270.52 606.78V615.51M269.22 606.78h2.6M269.22 615.51h2.6M279.91 614.22V621.83M278.61 614.22h2.6M278.61 621.83h2.6M289.3 629.75V641.58M288 629.75h2.6M288 641.58h2.6M298.69 653.01V657.28M297.39 653.01h2.6M297.39 657.28h2.6M308.08 655.43V659.93M306.78 655.43h2.6M306.78 659.93h2.6M317.47 657.61V663.62M316.17 657.61h2.6M316.17 663.62h2.6M232.95 615.74L235.77 615.75L238.59 615.77L241.4 615.8L244.22 615.84L247.04 615.91L249.86 616.02L252.67 616.18L255.49 616.44L258.31 616.83L261.13 617.43L263.94 618.33L266.76 619.66L269.58 621.62L272.4 624.39L275.21 628.17L278.03 633.05L280.85 638.92L283.66 645.42L286.48 651.99L289.3 658.04L292.12 663.15L294.93 667.16L297.75 670.14L300.57 672.25L303.39 673.71L306.2 674.69L309.02 675.34L311.84 675.77L314.66 676.05L317.47 676.23M232.95 608.68V622.11M231.65 608.68h2.6M231.65 622.11h2.6M242.34 610.47V619.35M241.04 610.47h2.6M241.04 619.35h2.6M251.73 606.71V622.25M250.43 606.71h2.6M250.43 622.25h2.6M261.13 614.9V623.99M259.83 614.9h2.6M259.83 623.99h2.6M270.52 615.87V629.07M269.22 615.87h2.6M269.22 629.07h2.6M279.91 634.21V641.48M278.61 634.21h2.6M278.61 641.48h2.6M289.3 656.05V660.87M288 656.05h2.6M288 660.87h2.6M298.69 667.46V673.58M297.39 667.46h2.6M297.39 673.58h2.6M308.08 674.8V678.5M306.78 674.8h2.6M306.78 678.5h2.6M317.47 673.73V676.55M316.17 673.73h2.6M316.17 676.55h2.6M232.95 626.31L235.77 626.31L238.59 626.31L241.4 626.31L244.22 626.31L247.04 626.32L249.86 626.32L252.67 626.33L255.49 626.35L258.31 626.39L261.13 626.44L263.94 626.53L266.76 626.69L269.58 626.94L272.4 627.37L275.21 628.07L278.03 629.2L280.85 630.97L283.66 633.63L286.48 637.35L289.3 642.1L292.12 647.52L294.93 652.93L297.75 657.67L300.57 661.37L303.39 664.01L306.2 665.77L309.02 666.89L311.84 667.59L314.66 668.01L317.47 668.27M232.95 616.11V633.62M231.65 616.11h2.6M231.65 633.62h2.6M242.34 620.95V632.66M241.04 620.95h2.6M241.04 632.66h2.6M251.73 618.25V631.4M250.43 618.25h2.6M250.43 631.4h2.6M261.13 618.38V635.43M259.83 618.38h2.6M259.83 635.43h2.6M270.52 620.33V631.34M269.22 620.33h2.6M269.22 631.34h2.6M279.91 626.4V636.5M278.61 626.4h2.6M278.61 636.5h2.6M289.3 635.58V649.19M288 635.58h2.6M288 649.19h2.6M298.69 652.98V662.38M297.39 652.98h2.6M297.39 662.38h2.6M308.08 661.53V668.83M306.78 661.53h2.6M306.78 668.83h2.6M317.47 667.83V672.67M316.17 667.83h2.6M316.17 672.67h2.6M232.95 626.89L235.77 626.89L238.59 626.9L241.4 626.9L244.22 626.91L247.04 626.92L249.86 626.93L252.67 626.95L255.49 626.99L258.31 627.06L261.13 627.15L263.94 627.31L266.76 627.56L269.58 627.95L272.4 628.57L275.21 629.52L278.03 630.94L280.85 633.03L283.66 635.93L286.48 639.72L289.3 644.26L292.12 649.2L294.93 654.01L297.75 658.22L300.57 661.59L303.39 664.09L306.2 665.84L309.02 667.02L311.84 667.79L314.66 668.29L317.47 668.61M232.95 616.13V633.6M231.65 616.13h2.6M231.65 633.6h2.6M242.34 622.25V633.77M241.04 622.25h2.6M241.04 633.77h2.6M251.73 620.76V631.96M250.43 620.76h2.6M250.43 631.96h2.6M261.13 622.99V631.05M259.83 622.99h2.6M259.83 631.05h2.6M270.52 622.29V634.57M269.22 622.29h2.6M269.22 634.57h2.6M279.91 630.45V638.3M278.61 630.45h2.6M278.61 638.3h2.6M289.3 636.18V648.18M288 636.18h2.6M288 648.18h2.6M298.69 653.6V661.42M297.39 653.6h2.6M297.39 661.42h2.6M308.08 661.59V669.03M306.78 661.59h2.6M306.78 669.03h2.6M317.47 665.25V668.56M316.17 665.25h2.6M316.17 668.56h2.6M232.95 616.76L235.77 616.78L238.59 616.82L241.4 616.88L244.22 616.96L247.04 617.09L249.86 617.27L252.67 617.54L255.49 617.94L258.31 618.53L261.13 619.37L263.94 620.58L266.76 622.28L269.58 624.61L272.4 627.7L275.21 631.64L278.03 636.39L280.85 641.74L283.66 647.34L286.48 652.77L289.3 657.66L292.12 661.77L294.93 665.03L297.75 667.51L300.57 669.32L303.39 670.61L306.2 671.52L309.02 672.15L311.84 672.58L314.66 672.87L317.47 673.07M232.95 610.81V621.45M231.65 610.81h2.6M231.65 621.45h2.6M242.34 610.75V621.48M241.04 610.75h2.6M241.04 621.48h2.6M251.73 608.36V626.15M250.43 608.36h2.6M250.43 626.15h2.6M261.13 613.59V624.07M259.83 613.59h2.6M259.83 624.07h2.6M270.52 619.42V631.49M269.22 619.42h2.6M269.22 631.49h2.6M279.91 633.56V642.26M278.61 633.56h2.6M278.61 642.26h2.6M289.3 654.67V662.37M288 654.67h2.6M288 662.37h2.6M298.69 667.25V672.47M297.39 667.25h2.6M297.39 672.47h2.6M308.08 667.5V672.38M306.78 667.5h2.6M306.78 672.38h2.6M317.47 672.11V676.08M316.17 672.11h2.6M316.17 676.08h2.6M232.95 623.76L235.77 623.77L238.59 623.77L241.4 623.78L244.22 623.79L247.04 623.81L249.86 623.84L252.67 623.9L255.49 623.99L258.31 624.16L261.13 624.43L263.94 624.89L266.76 625.65L269.58 626.9L272.4 628.88L275.21 631.92L278.03 636.31L280.85 642.12L283.66 648.99L286.48 656.12L289.3 662.58L292.12 667.74L294.93 671.47L297.75 673.98L300.57 675.59L303.39 676.58L306.2 677.18L309.02 677.54L311.84 677.76L314.66 677.89L317.47 677.96M232.95 618.96V628.27M231.65 618.96h2.6M231.65 628.27h2.6M242.34 621V629.89M241.04 621h2.6M241.04 629.89h2.6M251.73 618.85V630.74M250.43 618.85h2.6M250.43 630.74h2.6M261.13 620.33V630.41M259.83 620.33h2.6M259.83 630.41h2.6M270.52 623.02V635.56M269.22 623.02h2.6M269.22 635.56h2.6M279.91 632.85V644.22M278.61 632.85h2.6M278.61 644.22h2.6M289.3 658.79V665.75M288 658.79h2.6M288 665.75h2.6M298.69 673.73V678.13M297.39 673.73h2.6M297.39 678.13h2.6M308.08 675.82V678.5M306.78 675.82h2.6M306.78 678.5h2.6M317.47 675.77V678.5M316.17 675.77h2.6M316.17 678.5h2.6M232.95 617.36L235.77 617.36L238.59 617.37L241.4 617.38L244.22 617.39L247.04 617.42L249.86 617.45L252.67 617.5L255.49 617.58L258.31 617.71L261.13 617.9L263.94 618.19L266.76 618.63L269.58 619.29L272.4 620.27L275.21 621.71L278.03 623.75L280.85 626.58L283.66 630.29L286.48 634.89L289.3 640.15L292.12 645.69L294.93 651.01L297.75 655.7L300.57 659.52L303.39 662.44L306.2 664.57L309.02 666.07L311.84 667.1L314.66 667.79L317.47 668.25M232.95 613V623.39M231.65 613h2.6M231.65 623.39h2.6M242.34 611.96V625.28M241.04 611.96h2.6M241.04 625.28h2.6M251.73 610.94V625.06M250.43 610.94h2.6M250.43 625.06h2.6M261.13 614.27V625.86M259.83 614.27h2.6M259.83 625.86h2.6M270.52 612.8V623.14M269.22 612.8h2.6M269.22 623.14h2.6M279.91 618.94V631.64M278.61 618.94h2.6M278.61 631.64h2.6M289.3 634.12V648.09M288 634.12h2.6M288 648.09h2.6M298.69 653.72V662.24M297.39 653.72h2.6M297.39 662.24h2.6M308.08 665.43V668.86M306.78 665.43h2.6M306.78 668.86h2.6M317.47 664.03V669.18M316.17 664.03h2.6M316.17 669.18h2.6M232.95 619.31L235.77 619.31L238.59 619.31L241.4 619.32L244.22 619.32L247.04 619.33L249.86 619.35L252.67 619.37L255.49 619.41L258.31 619.47L261.13 619.57L263.94 619.73L266.76 619.99L269.58 620.41L272.4 621.07L275.21 622.11L278.03 623.72L280.85 626.11L283.66 629.54L286.48 634.16L289.3 639.89L292.12 646.32L294.93 652.77L297.75 658.55L300.57 663.23L303.39 666.72L306.2 669.16L309.02 670.79L311.84 671.86L314.66 672.54L317.47 672.97M232.95 615.27V627.24M231.65 615.27h2.6M231.65 627.24h2.6M242.34 611.71V627.46M241.04 611.71h2.6M241.04 627.46h2.6M251.73 615.99V626.19M250.43 615.99h2.6M250.43 626.19h2.6M261.13 609.65V625.42M259.83 609.65h2.6M259.83 625.42h2.6M270.52 616.42V627.84M269.22 616.42h2.6M269.22 627.84h2.6M279.91 618.6V633.12M278.61 618.6h2.6M278.61 633.12h2.6M289.3 632.75V645.99M288 632.75h2.6M288 645.99h2.6M298.69 655.36V662.27M297.39 655.36h2.6M297.39 662.27h2.6M308.08 666.3V672.23M306.78 666.3h2.6M306.78 672.23h2.6M317.47 669.62V674.01M316.17 669.62h2.6M316.17 674.01h2.6M232.95 623.31L235.77 623.31L238.59 623.31L241.4 623.32L244.22 623.33L247.04 623.34L249.86 623.36L252.67 623.39L255.49 623.43L258.31 623.5L261.13 623.6L263.94 623.76L266.76 623.99L269.58 624.34L272.4 624.86L275.21 625.63L278.03 626.76L280.85 628.37L283.66 630.6L286.48 633.59L289.3 637.38L292.12 641.89L294.93 646.83L297.75 651.82L300.57 656.44L303.39 660.39L306.2 663.54L309.02 665.92L311.84 667.65L314.66 668.86L317.47 669.7M232.95 614.32V629.77M231.65 614.32h2.6M231.65 629.77h2.6M242.34 616.92V626.05M241.04 616.92h2.6M241.04 626.05h2.6M251.73 617.83V625.64M250.43 617.83h2.6M250.43 625.64h2.6M261.13 615.37V629.48M259.83 615.37h2.6M259.83 629.48h2.6M270.52 615.57V633.43M269.22 615.57h2.6M269.22 633.43h2.6M279.91 621.66V633.23M278.61 621.66h2.6M278.61 633.23h2.6M289.3 629.03V643.22M288 629.03h2.6M288 643.22h2.6M298.69 649.4V656.48M297.39 649.4h2.6M297.39 656.48h2.6M308.08 662.7V668.14M306.78 662.7h2.6M306.78 668.14h2.6M317.47 666.62V670.8M316.17 666.62h2.6M316.17 670.8h2.6M232.95 614.82L235.77 614.84L238.59 614.87L241.4 614.91L244.22 614.97L247.04 615.07L249.86 615.21L252.67 615.44L255.49 615.77L258.31 616.28L261.13 617.04L263.94 618.16L266.76 619.79L269.58 622.13L272.4 625.35L275.21 629.62L278.03 634.95L280.85 641.17L283.66 647.84L286.48 654.4L289.3 660.32L292.12 665.26L294.93 669.12L297.75 671.98L300.57 674.02L303.39 675.44L306.2 676.41L309.02 677.06L311.84 677.49L314.66 677.78L317.47 677.97M232.95 608.41V622.2M231.65 608.41h2.6M231.65 622.2h2.6M242.34 609.81V621.07M241.04 609.81h2.6M241.04 621.07h2.6M251.73 605.59V622.57M250.43 605.59h2.6M250.43 622.57h2.6M261.13 610.75V623.33M259.83 610.75h2.6M259.83 623.33h2.6M270.52 619.07V629.92M269.22 619.07h2.6M269.22 629.92h2.6M279.91 635.25V645.94M278.61 635.25h2.6M278.61 645.94h2.6M289.3 657.78V662.14M288 657.78h2.6M288 662.14h2.6M298.69 668.89V672.87M297.39 668.89h2.6M297.39 672.87h2.6M308.08 672.88V677.82M306.78 672.88h2.6M306.78 677.82h2.6M317.47 674.52V677.36M316.17 674.52h2.6M316.17 677.36h2.6M232.95 616.68L235.77 616.68L238.59 616.69L241.4 616.7L244.22 616.71L247.04 616.72L249.86 616.75L252.67 616.79L255.49 616.86L258.31 616.96L261.13 617.11L263.94 617.35L266.76 617.72L269.58 618.28L272.4 619.13L275.21 620.39L278.03 622.23L280.85 624.84L283.66 628.34L286.48 632.8L289.3 638.03L292.12 643.67L294.93 649.18L297.75 654.09L300.57 658.11L303.39 661.18L306.2 663.41L309.02 664.96L311.84 666.02L314.66 666.72L317.47 667.18M232.95 608.18V625.83M231.65 608.18h2.6M231.65 625.83h2.6M242.34 614.73V623M241.04 614.73h2.6M241.04 623h2.6M251.73 609.91V623.07M250.43 609.91h2.6M250.43 623.07h2.6M261.13 607.17V623.33M259.83 607.17h2.6M259.83 623.33h2.6M270.52 609.05V627.65M269.22 609.05h2.6M269.22 627.65h2.6M279.91 617.17V630.42M278.61 617.17h2.6M278.61 630.42h2.6M289.3 632.36V642.06M288 632.36h2.6M288 642.06h2.6M298.69 652.24V660.09M297.39 652.24h2.6M297.39 660.09h2.6M308.08 661.28V669.05M306.78 661.28h2.6M306.78 669.05h2.6M317.47 663.61V669.18M316.17 663.61h2.6M316.17 669.18h2.6M232.95 614.79L235.77 614.79L238.59 614.8L241.4 614.8L244.22 614.81L247.04 614.84L249.86 614.87L252.67 614.93L255.49 615.04L258.31 615.24L261.13 615.57L263.94 616.15L266.76 617.15L269.58 618.81L272.4 621.51L275.21 625.67L278.03 631.59L280.85 639.14L283.66 647.52L286.48 655.49L289.3 662.05L292.12 666.83L294.93 670.01L297.75 672L300.57 673.19L303.39 673.9L306.2 674.31L309.02 674.54L311.84 674.68L314.66 674.76L317.47 674.8M232.95 610.66V622.48M231.65 610.66h2.6M231.65 622.48h2.6M242.34 608.32V622.17M241.04 608.32h2.6M241.04 622.17h2.6M251.73 605.93V623.24M250.43 605.93h2.6M250.43 623.24h2.6M261.13 606.99V620.04M259.83 606.99h2.6M259.83 620.04h2.6M270.52 612.57V627.11M269.22 612.57h2.6M269.22 627.11h2.6M279.91 629.41V639.15M278.61 629.41h2.6M278.61 639.15h2.6M289.3 657.98V665.86M288 657.98h2.6M288 665.86h2.6M298.69 672.18V675.67M297.39 672.18h2.6M297.39 675.67h2.6M308.08 669.57V675.15M306.78 669.57h2.6M306.78 675.15h2.6M317.47 673.4V676.09M316.17 673.4h2.6M316.17 676.09h2.6" stroke="#e10a14" stroke-width="1.05" fill="none"/>
<path d="M231.65 624.3h2.6v2.6h-2.6zM241.04 624h2.6v2.6h-2.6zM250.43 623.15h2.6v2.6h-2.6zM259.83 623.09h2.6v2.6h-2.6zM269.22 623.58h2.6v2.6h-2.6zM278.61 622.43h2.6v2.6h-2.6zM288 624.08h2.6v2.6h-2.6zM297.39 614.03h2.6v2.6h-2.6zM306.78 612.6h2.6v2.6h-2.6zM316.17 612.74h2.6v2.6h-2.6zM231.65 622.83h2.6v2.6h-2.6zM241.04 623.14h2.6v2.6h-2.6zM250.43 624.45h2.6v2.6h-2.6zM259.83 622.9h2.6v2.6h-2.6zM269.22 623.09h2.6v2.6h-2.6zM278.61 624.19h2.6v2.6h-2.6zM288 632.58h2.6v2.6h-2.6zM297.39 633.4h2.6v2.6h-2.6zM306.78 632.92h2.6v2.6h-2.6zM316.17 633.46h2.6v2.6h-2.6zM231.65 624.18h2.6v2.6h-2.6zM241.04 624.09h2.6v2.6h-2.6zM250.43 625.61h2.6v2.6h-2.6zM259.83 625.25h2.6v2.6h-2.6zM269.22 624.17h2.6v2.6h-2.6zM278.61 627.99h2.6v2.6h-2.6zM288 637.39h2.6v2.6h-2.6zM297.39 648.08h2.6v2.6h-2.6zM306.78 653.18h2.6v2.6h-2.6zM316.17 653.09h2.6v2.6h-2.6z" fill="#111111"/>
<path d="M231.65 630.79h2.6v2.6h-2.6zM241.04 632.15h2.6v2.6h-2.6zM250.43 630.54h2.6v2.6h-2.6zM259.83 632.55h2.6v2.6h-2.6zM269.22 632.78h2.6v2.6h-2.6zM278.61 635.87h2.6v2.6h-2.6zM288 640.26h2.6v2.6h-2.6zM297.39 648.2h2.6v2.6h-2.6zM306.78 649.6h2.6v2.6h-2.6zM316.17 650.68h2.6v2.6h-2.6zM231.65 626.04h2.6v2.6h-2.6zM241.04 624.02h2.6v2.6h-2.6zM250.43 624.69h2.6v2.6h-2.6zM259.83 625.6h2.6v2.6h-2.6zM269.22 626.16h2.6v2.6h-2.6zM278.61 628.16h2.6v2.6h-2.6zM288 642.65h2.6v2.6h-2.6zM297.39 651.9h2.6v2.6h-2.6zM306.78 656.92h2.6v2.6h-2.6zM316.17 657.08h2.6v2.6h-2.6zM231.65 626.32h2.6v2.6h-2.6zM241.04 628.55h2.6v2.6h-2.6zM250.43 626.3h2.6v2.6h-2.6zM259.83 628.67h2.6v2.6h-2.6zM269.22 627.27h2.6v2.6h-2.6zM278.61 632.42h2.6v2.6h-2.6zM288 644.68h2.6v2.6h-2.6zM297.39 656.19h2.6v2.6h-2.6zM306.78 664.67h2.6v2.6h-2.6zM316.17 664.68h2.6v2.6h-2.6zM231.65 629.2h2.6v2.6h-2.6zM241.04 628.09h2.6v2.6h-2.6zM250.43 627.5h2.6v2.6h-2.6zM259.83 629.83h2.6v2.6h-2.6zM269.22 629.38h2.6v2.6h-2.6zM278.61 633.97h2.6v2.6h-2.6zM288 642.36h2.6v2.6h-2.6zM297.39 648.75h2.6v2.6h-2.6zM306.78 652.14h2.6v2.6h-2.6zM316.17 651.3h2.6v2.6h-2.6z" fill="#0000ff"/>
<path d="M231.65 620.56h2.6v2.6h-2.6zM241.04 622.87h2.6v2.6h-2.6zM250.43 622.63h2.6v2.6h-2.6zM259.83 627.84h2.6v2.6h-2.6zM269.22 659.08h2.6v2.6h-2.6zM278.61 675.52h2.6v2.6h-2.6zM288 677.2h2.6v2.6h-2.6zM297.39 676.14h2.6v2.6h-2.6zM306.78 677.2h2.6v2.6h-2.6zM316.17 677.2h2.6v2.6h-2.6zM231.65 612.18h2.6v2.6h-2.6zM241.04 609.21h2.6v2.6h-2.6zM250.43 610.69h2.6v2.6h-2.6zM259.83 610.68h2.6v2.6h-2.6zM269.22 609.85h2.6v2.6h-2.6zM278.61 616.73h2.6v2.6h-2.6zM288 634.36h2.6v2.6h-2.6zM297.39 653.84h2.6v2.6h-2.6zM306.78 656.38h2.6v2.6h-2.6zM316.17 659.32h2.6v2.6h-2.6zM231.65 614.1h2.6v2.6h-2.6zM241.04 613.61h2.6v2.6h-2.6zM250.43 613.18h2.6v2.6h-2.6zM259.83 618.14h2.6v2.6h-2.6zM269.22 621.17h2.6v2.6h-2.6zM278.61 636.54h2.6v2.6h-2.6zM288 657.16h2.6v2.6h-2.6zM297.39 669.22h2.6v2.6h-2.6zM306.78 675.41h2.6v2.6h-2.6zM316.17 673.84h2.6v2.6h-2.6zM231.65 623.56h2.6v2.6h-2.6zM241.04 625.5h2.6v2.6h-2.6zM250.43 623.52h2.6v2.6h-2.6zM259.83 625.6h2.6v2.6h-2.6zM269.22 624.54h2.6v2.6h-2.6zM278.61 630.15h2.6v2.6h-2.6zM288 641.09h2.6v2.6h-2.6zM297.39 656.38h2.6v2.6h-2.6zM306.78 663.88h2.6v2.6h-2.6zM316.17 668.95h2.6v2.6h-2.6zM231.65 623.56h2.6v2.6h-2.6zM241.04 626.71h2.6v2.6h-2.6zM250.43 625.06h2.6v2.6h-2.6zM259.83 625.72h2.6v2.6h-2.6zM269.22 627.13h2.6v2.6h-2.6zM278.61 633.07h2.6v2.6h-2.6zM288 640.88h2.6v2.6h-2.6zM297.39 656.21h2.6v2.6h-2.6zM306.78 664.01h2.6v2.6h-2.6zM316.17 665.6h2.6v2.6h-2.6zM231.65 614.83h2.6v2.6h-2.6zM241.04 614.81h2.6v2.6h-2.6zM250.43 615.95h2.6v2.6h-2.6zM259.83 617.53h2.6v2.6h-2.6zM269.22 624.16h2.6v2.6h-2.6zM278.61 636.61h2.6v2.6h-2.6zM288 657.22h2.6v2.6h-2.6zM297.39 668.56h2.6v2.6h-2.6zM306.78 668.64h2.6v2.6h-2.6zM316.17 672.8h2.6v2.6h-2.6zM231.65 622.31h2.6v2.6h-2.6zM241.04 624.15h2.6v2.6h-2.6zM250.43 623.49h2.6v2.6h-2.6zM259.83 624.07h2.6v2.6h-2.6zM269.22 627.99h2.6v2.6h-2.6zM278.61 637.23h2.6v2.6h-2.6zM288 660.97h2.6v2.6h-2.6zM297.39 674.63h2.6v2.6h-2.6zM306.78 676.32h2.6v2.6h-2.6zM316.17 676.16h2.6v2.6h-2.6zM231.65 616.9h2.6v2.6h-2.6zM241.04 617.32h2.6v2.6h-2.6zM250.43 616.7h2.6v2.6h-2.6zM259.83 618.76h2.6v2.6h-2.6zM269.22 616.67h2.6v2.6h-2.6zM278.61 623.99h2.6v2.6h-2.6zM288 639.81h2.6v2.6h-2.6zM297.39 656.68h2.6v2.6h-2.6zM306.78 665.85h2.6v2.6h-2.6zM316.17 665.31h2.6v2.6h-2.6zM231.65 619.95h2.6v2.6h-2.6zM241.04 618.28h2.6v2.6h-2.6zM250.43 619.79h2.6v2.6h-2.6zM259.83 616.24h2.6v2.6h-2.6zM269.22 620.83h2.6v2.6h-2.6zM278.61 624.56h2.6v2.6h-2.6zM288 638.07h2.6v2.6h-2.6zM297.39 657.52h2.6v2.6h-2.6zM306.78 667.97h2.6v2.6h-2.6zM316.17 670.51h2.6v2.6h-2.6zM231.65 620.75h2.6v2.6h-2.6zM241.04 620.18h2.6v2.6h-2.6zM250.43 620.43h2.6v2.6h-2.6zM259.83 621.12h2.6v2.6h-2.6zM269.22 623.2h2.6v2.6h-2.6zM278.61 626.15h2.6v2.6h-2.6zM288 634.83h2.6v2.6h-2.6zM297.39 651.64h2.6v2.6h-2.6zM306.78 664.12h2.6v2.6h-2.6zM316.17 667.41h2.6v2.6h-2.6zM231.65 614.01h2.6v2.6h-2.6zM241.04 614.14h2.6v2.6h-2.6zM250.43 612.78h2.6v2.6h-2.6zM259.83 615.74h2.6v2.6h-2.6zM269.22 623.19h2.6v2.6h-2.6zM278.61 639.29h2.6v2.6h-2.6zM288 658.66h2.6v2.6h-2.6zM297.39 669.58h2.6v2.6h-2.6zM306.78 674.05h2.6v2.6h-2.6zM316.17 674.64h2.6v2.6h-2.6zM231.65 615.71h2.6v2.6h-2.6zM241.04 617.57h2.6v2.6h-2.6zM250.43 615.19h2.6v2.6h-2.6zM259.83 613.95h2.6v2.6h-2.6zM269.22 617.05h2.6v2.6h-2.6zM278.61 622.5h2.6v2.6h-2.6zM288 635.91h2.6v2.6h-2.6zM297.39 654.86h2.6v2.6h-2.6zM306.78 663.87h2.6v2.6h-2.6zM316.17 665.1h2.6v2.6h-2.6zM231.65 615.27h2.6v2.6h-2.6zM241.04 613.95h2.6v2.6h-2.6zM250.43 613.28h2.6v2.6h-2.6zM259.83 612.21h2.6v2.6h-2.6zM269.22 618.54h2.6v2.6h-2.6zM278.61 632.98h2.6v2.6h-2.6zM288 660.62h2.6v2.6h-2.6zM297.39 672.63h2.6v2.6h-2.6zM306.78 671.06h2.6v2.6h-2.6zM316.17 673.45h2.6v2.6h-2.6z" fill="#e10a14"/>
<path d="M214.7 594.7V679.2M210.7 678.5H214.7M210.7 650.8H214.7M210.7 623.1H214.7M210.7 595.4H214.7M214 678.5H340.2" stroke="#000" stroke-width="1.5" fill="none"/>
<path d="M214.7 678.5v3.6M230.3 678.5v3.6M245.9 678.5v3.6M261.5 678.5v3.6M277.1 678.5v3.6M292.7 678.5v3.6M308.3 678.5v3.6M323.9 678.5v3.6M339.5 678.5v3.6" stroke="#000" stroke-width="1.3" fill="none"/>
<path d="M219.4 678.5v2M222.14 678.5v2M224.09 678.5v2M225.6 678.5v2M226.84 678.5v2M227.88 678.5v2M228.79 678.5v2M229.59 678.5v2M235 678.5v2M237.74 678.5v2M239.69 678.5v2M241.2 678.5v2M242.44 678.5v2M243.48 678.5v2M244.39 678.5v2M245.19 678.5v2M250.6 678.5v2M253.34 678.5v2M255.29 678.5v2M256.8 678.5v2M258.04 678.5v2M259.08 678.5v2M259.99 678.5v2M260.79 678.5v2M266.2 678.5v2M268.94 678.5v2M270.89 678.5v2M272.4 678.5v2M273.64 678.5v2M274.68 678.5v2M275.59 678.5v2M276.39 678.5v2M281.8 678.5v2M284.54 678.5v2M286.49 678.5v2M288 678.5v2M289.24 678.5v2M290.28 678.5v2M291.19 678.5v2M291.99 678.5v2M297.4 678.5v2M300.14 678.5v2M302.09 678.5v2M303.6 678.5v2M304.84 678.5v2M305.88 678.5v2M306.79 678.5v2M307.59 678.5v2M313 678.5v2M315.74 678.5v2M317.69 678.5v2M319.2 678.5v2M320.44 678.5v2M321.48 678.5v2M322.39 678.5v2M323.19 678.5v2M328.6 678.5v2M331.34 678.5v2M333.29 678.5v2M334.8 678.5v2M336.04 678.5v2M337.08 678.5v2M337.99 678.5v2M338.79 678.5v2" stroke="#000" stroke-width="0.8" fill="none"/>
<text x="208.3" y="681.8" font-size="9.2" font-weight="bold" fill="#000" color="#000" text-anchor="end">0</text>
<text x="208.3" y="654.1" font-size="9.2" font-weight="bold" fill="#000" color="#000" text-anchor="end">50</text>
<text x="208.3" y="626.4" font-size="9.2" font-weight="bold" fill="#000" color="#000" text-anchor="end">100</text>
<text x="208.3" y="598.7" font-size="9.2" font-weight="bold" fill="#000" color="#000" text-anchor="end">150</text>
<text x="205.9" y="691.6" font-size="9" font-weight="bold">10<tspan font-size="6.9" dy="-2.7">−12</tspan></text>
<text x="237.1" y="691.6" font-size="9" font-weight="bold">10<tspan font-size="6.9" dy="-2.7">−10</tspan></text>
<text x="268.3" y="691.6" font-size="9" font-weight="bold">10<tspan font-size="6.9" dy="-2.7">−8</tspan></text>
<text x="299.5" y="691.6" font-size="9" font-weight="bold">10<tspan font-size="6.9" dy="-2.7">−6</tspan></text>
<text x="330.7" y="691.6" font-size="9" font-weight="bold">10<tspan font-size="6.9" dy="-2.7">−4</tspan></text>
<line x1="215.7" y1="650.8" x2="339.5" y2="650.8" stroke="#000" stroke-width="0.9" stroke-dasharray="1.2,1.6"/>
<path d="M402.46 629.75L405.28 629.75L408.09 629.75L410.91 629.75L413.73 629.75L416.55 629.75L419.36 629.75L422.18 629.75L425 629.75L427.82 629.75L430.63 629.75L433.45 629.75L436.27 629.75L439.09 629.75L441.9 629.75L444.72 629.75L447.54 629.75L450.36 629.75L453.17 629.76L455.99 629.77L458.81 629.78L461.62 629.82L464.44 629.91L467.26 630.09L470.08 630.46L472.89 631.23L475.71 632.78L478.53 635.75L481.35 640.9L484.16 648.54L486.98 657.54M402.46 623.38V633.49M401.16 623.38h2.6M401.16 633.49h2.6M411.85 622.57V634.79M410.55 622.57h2.6M410.55 634.79h2.6M421.24 624.37V632.54M419.94 624.37h2.6M419.94 632.54h2.6M430.63 627.41V634.37M429.33 627.41h2.6M429.33 634.37h2.6M440.02 625.4V634.01M438.72 625.4h2.6M438.72 634.01h2.6M449.42 627.67V633.9M448.12 627.67h2.6M448.12 633.9h2.6M458.81 624.68V634.03M457.51 624.68h2.6M457.51 634.03h2.6M468.2 624.73V636.62M466.9 624.73h2.6M466.9 636.62h2.6M477.59 631.6V636.6M476.29 631.6h2.6M476.29 636.6h2.6M486.98 654.75V660.92M485.68 654.75h2.6M485.68 660.92h2.6M402.46 633.07L405.28 633.08L408.09 633.08L410.91 633.09L413.73 633.1L416.55 633.13L419.36 633.19L422.18 633.28L425 633.46L427.82 633.8L430.63 634.41L433.45 635.5L436.27 637.38L439.09 640.47L441.9 645.07L444.72 651.08L447.54 657.68L450.36 663.69L453.17 668.3L455.99 671.4L458.81 673.3L461.62 674.39L464.44 675L467.26 675.34L470.08 675.52L472.89 675.62L475.71 675.67L478.53 675.7L481.35 675.71L484.16 675.72L486.98 675.72M402.46 629.05V638.38M401.16 629.05h2.6M401.16 638.38h2.6M411.85 631.41V638.07M410.55 631.41h2.6M410.55 638.07h2.6M421.24 627.68V636.53M419.94 627.68h2.6M419.94 636.53h2.6M430.63 630.83V636.87M429.33 630.83h2.6M429.33 636.87h2.6M440.02 638.16V645.5M438.72 638.16h2.6M438.72 645.5h2.6M449.42 660.14V665.05M448.12 660.14h2.6M448.12 665.05h2.6M458.81 671.05V675.33M457.51 671.05h2.6M457.51 675.33h2.6M468.2 673.87V676.45M466.9 673.87h2.6M466.9 676.45h2.6M477.59 676.03V677.86M476.29 676.03h2.6M476.29 677.86h2.6M486.98 673.91V675.82M485.68 673.91h2.6M485.68 675.82h2.6M402.46 627.53L405.28 627.54L408.09 627.54L410.91 627.55L413.73 627.56L416.55 627.58L419.36 627.62L422.18 627.69L425 627.83L427.82 628.08L430.63 628.55L433.45 629.39L436.27 630.88L439.09 633.41L441.9 637.39L444.72 643.01L447.54 649.84L450.36 656.74L453.17 662.54L455.99 666.71L458.81 669.38L461.62 670.97L464.44 671.87L467.26 672.37L470.08 672.64L472.89 672.79L475.71 672.87L478.53 672.91L481.35 672.93L484.16 672.95L486.98 672.95M402.46 626.33V631.39M401.16 626.33h2.6M401.16 631.39h2.6M411.85 622.99V631.96M410.55 622.99h2.6M410.55 631.96h2.6M421.24 622.83V631.74M419.94 622.83h2.6M419.94 631.74h2.6M430.63 627.96V632.05M429.33 627.96h2.6M429.33 632.05h2.6M440.02 630.9V636.41M438.72 630.9h2.6M438.72 636.41h2.6M449.42 651.86V655.73M448.12 651.86h2.6M448.12 655.73h2.6M458.81 669.39V671.57M457.51 669.39h2.6M457.51 671.57h2.6M468.2 672.24V675.38M466.9 672.24h2.6M466.9 675.38h2.6M477.59 671.54V673.71M476.29 671.54h2.6M476.29 673.71h2.6M486.98 672.02V674.22M485.68 672.02h2.6M485.68 674.22h2.6" stroke="#111111" stroke-width="1.05" fill="none"/>
<path d="M402.46 628.65L405.28 628.65L408.09 628.66L410.91 628.68L413.73 628.7L416.55 628.75L419.36 628.84L422.18 629L425 629.29L427.82 629.78L430.63 630.64L433.45 632.07L436.27 634.37L439.09 637.8L441.9 642.4L444.72 647.75L447.54 653.06L450.36 657.55L453.17 660.86L455.99 663.06L458.81 664.42L461.62 665.23L464.44 665.7L467.26 665.97L470.08 666.12L472.89 666.2L475.71 666.25L478.53 666.28L481.35 666.29L484.16 666.3L486.98 666.31M402.46 625.88L405.28 625.88L408.09 625.89L410.91 625.91L413.73 625.94L416.55 626L419.36 626.12L422.18 626.33L425 626.73L427.82 627.44L430.63 628.72L433.45 630.92L436.27 634.5L439.09 639.76L441.9 646.52L444.72 653.8L447.54 660.3L450.36 665.21L453.17 668.46L455.99 670.44L458.81 671.57L461.62 672.21L464.44 672.55L467.26 672.74L470.08 672.84L472.89 672.9L475.71 672.93L478.53 672.94L481.35 672.95L484.16 672.95L486.98 672.96M402.46 621.62V628.68M401.16 621.62h2.6M401.16 628.68h2.6M411.85 620.68V632.43M410.55 620.68h2.6M410.55 632.43h2.6M421.24 620.71V631.89M419.94 620.71h2.6M419.94 631.89h2.6M430.63 626.43V632.71M429.33 626.43h2.6M429.33 632.71h2.6M440.02 639.77V644.94M438.72 639.77h2.6M438.72 644.94h2.6M449.42 660.36V664.03M448.12 660.36h2.6M448.12 664.03h2.6M458.81 670.25V672.48M457.51 670.25h2.6M457.51 672.48h2.6M468.2 671.27V674.07M466.9 671.27h2.6M466.9 674.07h2.6M477.59 672.29V674.23M476.29 672.29h2.6M476.29 674.23h2.6M486.98 672.37V676.05M485.68 672.37h2.6M485.68 676.05h2.6M402.46 631.42L405.28 631.42L408.09 631.43L410.91 631.44L413.73 631.46L416.55 631.5L419.36 631.57L422.18 631.68L425 631.87L427.82 632.19L430.63 632.72L433.45 633.61L436.27 635.02L439.09 637.2L441.9 640.32L444.72 644.4L447.54 649.13L450.36 653.9L453.17 658.09L455.99 661.32L458.81 663.6L461.62 665.09L464.44 666.03L467.26 666.6L470.08 666.93L472.89 667.14L475.71 667.25L478.53 667.32L481.35 667.36L484.16 667.39L486.98 667.4M402.46 627.98V635.84M401.16 627.98h2.6M401.16 635.84h2.6M411.85 628.42V636.53M410.55 628.42h2.6M410.55 636.53h2.6M421.24 629.46V635.55M419.94 629.46h2.6M419.94 635.55h2.6M430.63 627.87V636.49M429.33 627.87h2.6M429.33 636.49h2.6M440.02 634.11V644.43M438.72 634.11h2.6M438.72 644.43h2.6M449.42 651.03V656.39M448.12 651.03h2.6M448.12 656.39h2.6M458.81 660.66V664.32M457.51 660.66h2.6M457.51 664.32h2.6M468.2 663.98V669.85M466.9 663.98h2.6M466.9 669.85h2.6M477.59 664.6V667.98M476.29 664.6h2.6M476.29 667.98h2.6M486.98 665.26V670.52M485.68 665.26h2.6M485.68 670.52h2.6M402.46 624.22L405.28 624.24L408.09 624.25L410.91 624.29L413.73 624.35L416.55 624.44L419.36 624.61L422.18 624.9L425 625.38L427.82 626.19L430.63 627.53L433.45 629.65L436.27 632.9L439.09 637.52L441.9 643.49L444.72 650.32L447.54 657.09L450.36 662.94L453.17 667.42L455.99 670.54L458.81 672.58L461.62 673.84L464.44 674.61L467.26 675.07L470.08 675.35L472.89 675.51L475.71 675.6L478.53 675.65L481.35 675.69L484.16 675.7L486.98 675.71" stroke="#0000ff" stroke-width="1.05" fill="none"/>
<path d="M402.46 624.49V635.76M401.16 624.49h2.6M401.16 635.76h2.6M411.85 622.38V634.43M410.55 622.38h2.6M410.55 634.43h2.6M421.24 624.39V633.89M419.94 624.39h2.6M419.94 633.89h2.6M430.63 628.86V634.08M429.33 628.86h2.6M429.33 634.08h2.6M440.02 632.9V642.66M438.72 632.9h2.6M438.72 642.66h2.6M449.42 653.39V660.19M448.12 653.39h2.6M448.12 660.19h2.6M458.81 661.57V665.17M457.51 661.57h2.6M457.51 665.17h2.6M468.2 662.94V668.44M466.9 662.94h2.6M466.9 668.44h2.6M477.59 663.61V668.97M476.29 663.61h2.6M476.29 668.97h2.6M486.98 665.43V668.89M485.68 665.43h2.6M485.68 668.89h2.6M402.46 617.01V632.26M401.16 617.01h2.6M401.16 632.26h2.6M411.85 617.75V632.8M410.55 617.75h2.6M410.55 632.8h2.6M421.24 620.49V629.05M419.94 620.49h2.6M419.94 629.05h2.6M430.63 623.99V631.37M429.33 623.99h2.6M429.33 631.37h2.6M440.02 635.11V642.27M438.72 635.11h2.6M438.72 642.27h2.6M449.42 656.76V662.85M448.12 656.76h2.6M448.12 662.85h2.6M458.81 671.56V674.46M457.51 671.56h2.6M457.51 674.46h2.6M468.2 673.53V676.11M466.9 673.53h2.6M466.9 676.11h2.6M477.59 673.21V675.59M476.29 673.21h2.6M476.29 675.59h2.6M486.98 673.99V677.36M485.68 673.99h2.6M485.68 677.36h2.6" stroke="#9a3cf0" stroke-width="1.05" fill="none"/>
<path d="M402.46 617.83L405.28 617.83L408.09 617.84L410.91 617.84L413.73 617.84L416.55 617.84L419.36 617.85L422.18 617.87L425 617.9L427.82 617.96L430.63 618.07L433.45 618.26L436.27 618.63L439.09 619.29L441.9 620.48L444.72 622.55L447.54 626L450.36 631.29L453.17 638.49L455.99 646.85L458.81 654.92L461.62 661.46L464.44 666.03L467.26 668.91L470.08 670.61L472.89 671.58L475.71 672.11L478.53 672.4L481.35 672.56L484.16 672.64L486.98 672.69M402.46 611.94V625.77M401.16 611.94h2.6M401.16 625.77h2.6M411.85 611.96V624.73M410.55 611.96h2.6M410.55 624.73h2.6M421.24 612.79V622.33M419.94 612.79h2.6M419.94 622.33h2.6M430.63 614.83V622.28M429.33 614.83h2.6M429.33 622.28h2.6M440.02 613.76V628.33M438.72 613.76h2.6M438.72 628.33h2.6M449.42 624.29V635.9M448.12 624.29h2.6M448.12 635.9h2.6M458.81 653.41V659.9M457.51 653.41h2.6M457.51 659.9h2.6M468.2 668.15V672.25M466.9 668.15h2.6M466.9 672.25h2.6M477.59 672.05V674.39M476.29 672.05h2.6M476.29 674.39h2.6M486.98 672.14V674.91M485.68 672.14h2.6M485.68 674.91h2.6M402.46 619.89L405.28 619.89L408.09 619.89L410.91 619.89L413.73 619.89L416.55 619.9L419.36 619.91L422.18 619.93L425 619.96L427.82 620.02L430.63 620.13L433.45 620.32L436.27 620.67L439.09 621.28L441.9 622.36L444.72 624.2L447.54 627.2L450.36 631.77L453.17 638.03L455.99 645.46L458.81 652.93L461.62 659.29L464.44 663.97L467.26 667.06L470.08 668.96L472.89 670.07L475.71 670.71L478.53 671.07L481.35 671.27L484.16 671.38L486.98 671.45M402.46 614.89V628.2M401.16 614.89h2.6M401.16 628.2h2.6M411.85 615.66V626.06M410.55 615.66h2.6M410.55 626.06h2.6M421.24 611.18V625.04M419.94 611.18h2.6M419.94 625.04h2.6M430.63 611.1V625.76M429.33 611.1h2.6M429.33 625.76h2.6M440.02 618.6V627.81M438.72 618.6h2.6M438.72 627.81h2.6M449.42 626.45V637.84M448.12 626.45h2.6M448.12 637.84h2.6M458.81 649.2V655.21M457.51 649.2h2.6M457.51 655.21h2.6M468.2 665.7V670.68M466.9 665.7h2.6M466.9 670.68h2.6M477.59 668.46V671.72M476.29 668.46h2.6M476.29 671.72h2.6M486.98 668.09V671.73M485.68 668.09h2.6M485.68 671.73h2.6M402.46 620.31L405.28 620.31L408.09 620.32L410.91 620.33L413.73 620.36L416.55 620.39L419.36 620.45L422.18 620.54L425 620.69L427.82 620.93L430.63 621.31L433.45 621.91L436.27 622.85L439.09 624.3L441.9 626.47L444.72 629.6L447.54 633.84L450.36 639.16L453.17 645.22L455.99 651.42L458.81 657.08L461.62 661.74L464.44 665.27L467.26 667.77L470.08 669.46L472.89 670.57L475.71 671.28L478.53 671.73L481.35 672.01L484.16 672.19L486.98 672.3M402.46 615.57V623.91M401.16 615.57h2.6M401.16 623.91h2.6M411.85 614.47V629.62M410.55 614.47h2.6M410.55 629.62h2.6M421.24 612.83V626.11M419.94 612.83h2.6M419.94 626.11h2.6M430.63 619.84V626.84M429.33 619.84h2.6M429.33 626.84h2.6M440.02 622.38V630.48M438.72 622.38h2.6M438.72 630.48h2.6M449.42 634.09V642.21M448.12 634.09h2.6M448.12 642.21h2.6M458.81 656.67V661.56M457.51 656.67h2.6M457.51 661.56h2.6M468.2 666.15V669.44M466.9 666.15h2.6M466.9 669.44h2.6M477.59 667.92V672.27M476.29 667.92h2.6M476.29 672.27h2.6M486.98 669.77V672.9M485.68 669.77h2.6M485.68 672.9h2.6M402.46 623.18L405.28 623.18L408.09 623.19L410.91 623.21L413.73 623.24L416.55 623.29L419.36 623.4L422.18 623.58L425 623.92L427.82 624.53L430.63 625.61L433.45 627.46L436.27 630.51L439.09 635.16L441.9 641.49L444.72 648.9L447.54 656.21L450.36 662.27L453.17 666.62L455.99 669.43L458.81 671.12L461.62 672.1L464.44 672.65L467.26 672.95L470.08 673.12L472.89 673.21L475.71 673.26L478.53 673.29L481.35 673.31L484.16 673.32L486.98 673.32M402.46 616.99V629.94M401.16 616.99h2.6M401.16 629.94h2.6M411.85 620.59V627.18M410.55 620.59h2.6M410.55 627.18h2.6M421.24 615.09V628.96M419.94 615.09h2.6M419.94 628.96h2.6M430.63 623.2V629.91M429.33 623.2h2.6M429.33 629.91h2.6M440.02 630.41V640.64M438.72 630.41h2.6M438.72 640.64h2.6M449.42 660.35V664.52M448.12 660.35h2.6M448.12 664.52h2.6M458.81 670.55V675.13M457.51 670.55h2.6M457.51 675.13h2.6M468.2 671.98V676.63M466.9 671.98h2.6M466.9 676.63h2.6M477.59 670.93V673.43M476.29 670.93h2.6M476.29 673.43h2.6M486.98 670.75V674.17M485.68 670.75h2.6M485.68 674.17h2.6M402.46 624.03L405.28 624.04L408.09 624.05L410.91 624.06L413.73 624.09L416.55 624.14L419.36 624.24L422.18 624.41L425 624.73L427.82 625.31L430.63 626.35L433.45 628.14L436.27 631.14L439.09 635.81L441.9 642.35L444.72 650.28L447.54 658.36L450.36 665.27L453.17 670.33L455.99 673.65L458.81 675.66L461.62 676.82L464.44 677.47L467.26 677.84L470.08 678.04L472.89 678.15L475.71 678.21L478.53 678.24L481.35 678.26L484.16 678.26L486.98 678.27M402.46 615.76V630.12M401.16 615.76h2.6M401.16 630.12h2.6M411.85 621.39V628.68M410.55 621.39h2.6M410.55 628.68h2.6M421.24 617.07V627.66M419.94 617.07h2.6M419.94 627.66h2.6M430.63 618.02V630.86M429.33 618.02h2.6M429.33 630.86h2.6M440.02 630.87V642.59M438.72 630.87h2.6M438.72 642.59h2.6M449.42 660.06V665.12M448.12 660.06h2.6M448.12 665.12h2.6M458.81 675.91V678.5M457.51 675.91h2.6M457.51 678.5h2.6M468.2 676.79V678.5M466.9 676.79h2.6M466.9 678.5h2.6M477.59 675.24V677.43M476.29 675.24h2.6M476.29 677.43h2.6M486.98 676.16V678.06M485.68 676.16h2.6M485.68 678.06h2.6M402.46 621.59L405.28 621.65L408.09 621.74L410.91 621.88L413.73 622.09L416.55 622.41L419.36 622.9L422.18 623.62L425 624.69L427.82 626.24L430.63 628.45L433.45 631.47L436.27 635.44L439.09 640.33L441.9 645.94L444.72 651.84L447.54 657.53L450.36 662.57L453.17 666.7L455.99 669.88L458.81 672.22L461.62 673.88L464.44 675.02L467.26 675.79L470.08 676.31L472.89 676.66L475.71 676.89L478.53 677.04L481.35 677.13L484.16 677.2L486.98 677.24M402.46 613.62V627.76M401.16 613.62h2.6M401.16 627.76h2.6M411.85 617.13V628.87M410.55 617.13h2.6M410.55 628.87h2.6M421.24 614.97V627.56M419.94 614.97h2.6M419.94 627.56h2.6M430.63 624.08V632.43M429.33 624.08h2.6M429.33 632.43h2.6M440.02 640.52V647.66M438.72 640.52h2.6M438.72 647.66h2.6M449.42 659.32V663.42M448.12 659.32h2.6M448.12 663.42h2.6M458.81 671.78V674.34M457.51 671.78h2.6M457.51 674.34h2.6M468.2 673.16V676.98M466.9 673.16h2.6M466.9 676.98h2.6M477.59 677.02V678.5M476.29 677.02h2.6M476.29 678.5h2.6M486.98 675.73V678.5M485.68 675.73h2.6M485.68 678.5h2.6M402.46 617.05L405.28 617.05L408.09 617.05L410.91 617.05L413.73 617.06L416.55 617.06L419.36 617.08L422.18 617.1L425 617.15L427.82 617.23L430.63 617.37L433.45 617.62L436.27 618.06L439.09 618.81L441.9 620.09L444.72 622.2L447.54 625.56L450.36 630.52L453.17 637.15L455.99 644.92L458.81 652.72L461.62 659.43L464.44 664.49L467.26 667.93L470.08 670.1L472.89 671.42L475.71 672.19L478.53 672.64L481.35 672.89L484.16 673.04L486.98 673.12M402.46 610.15V620.07M401.16 610.15h2.6M401.16 620.07h2.6M411.85 610.5V625.38M410.55 610.5h2.6M410.55 625.38h2.6M421.24 612.74V624.63M419.94 612.74h2.6M419.94 624.63h2.6M430.63 610.99V625.23M429.33 610.99h2.6M429.33 625.23h2.6M440.02 612.08V625.81M438.72 612.08h2.6M438.72 625.81h2.6M449.42 624.32V635.95M448.12 624.32h2.6M448.12 635.95h2.6M458.81 648.97V655.59M457.51 648.97h2.6M457.51 655.59h2.6M468.2 664.73V670.45M466.9 664.73h2.6M466.9 670.45h2.6M477.59 672.78V675.66M476.29 672.78h2.6M476.29 675.66h2.6M486.98 672.39V675.09M485.68 672.39h2.6M485.68 675.09h2.6M402.46 625.03L405.28 625.04L408.09 625.04L410.91 625.05L413.73 625.06L416.55 625.08L419.36 625.12L422.18 625.19L425 625.31L427.82 625.53L430.63 625.91L433.45 626.59L436.27 627.77L439.09 629.74L441.9 632.88L444.72 637.52L447.54 643.65L450.36 650.65L453.17 657.44L455.99 663.05L458.81 667.1L461.62 669.75L464.44 671.38L467.26 672.33L470.08 672.88L472.89 673.2L475.71 673.37L478.53 673.47L481.35 673.52L484.16 673.55L486.98 673.57M402.46 622.6V631.37M401.16 622.6h2.6M401.16 631.37h2.6M411.85 620.1V632.69M410.55 620.1h2.6M410.55 632.69h2.6M421.24 621.66V629.12M419.94 621.66h2.6M419.94 629.12h2.6M430.63 621.45V631.93M429.33 621.45h2.6M429.33 631.93h2.6M440.02 627.59V634.89M438.72 627.59h2.6M438.72 634.89h2.6M449.42 648.05V652.32M448.12 648.05h2.6M448.12 652.32h2.6M458.81 661.96V667.87M457.51 661.96h2.6M457.51 667.87h2.6M468.2 672.36V676.43M466.9 672.36h2.6M466.9 676.43h2.6M477.59 669.25V673.38M476.29 669.25h2.6M476.29 673.38h2.6M486.98 673.66V676.95M485.68 673.66h2.6M485.68 676.95h2.6M402.46 615.44L405.28 615.44L408.09 615.45L410.91 615.48L413.73 615.51L416.55 615.58L419.36 615.71L422.18 615.94L425 616.36L427.82 617.09L430.63 618.38L433.45 620.56L436.27 624.1L439.09 629.39L441.9 636.47L444.72 644.63L447.54 652.56L450.36 659.09L453.17 663.77L455.99 666.81L458.81 668.65L461.62 669.72L464.44 670.33L467.26 670.67L470.08 670.86L472.89 670.96L475.71 671.02L478.53 671.05L481.35 671.07L484.16 671.08L486.98 671.09M402.46 611.52V619.93M401.16 611.52h2.6M401.16 619.93h2.6M411.85 611.93V618.66M410.55 611.93h2.6M410.55 618.66h2.6M421.24 607.67V620.31M419.94 607.67h2.6M419.94 620.31h2.6M430.63 610.14V625.49M429.33 610.14h2.6M429.33 625.49h2.6M440.02 626.88V634.92M438.72 626.88h2.6M438.72 634.92h2.6M449.42 656.16V660.32M448.12 656.16h2.6M448.12 660.32h2.6M458.81 668.28V673.2M457.51 668.28h2.6M457.51 673.2h2.6M468.2 667.47V671.01M466.9 667.47h2.6M466.9 671.01h2.6M477.59 670.35V674.53M476.29 670.35h2.6M476.29 674.53h2.6M486.98 666.72V672.39M485.68 666.72h2.6M485.68 672.39h2.6M402.46 614.27L405.28 614.31L408.09 614.36L410.91 614.44L413.73 614.56L416.55 614.76L419.36 615.07L422.18 615.56L425 616.3L427.82 617.45L430.63 619.16L433.45 621.66L436.27 625.16L439.09 629.77L441.9 635.42L444.72 641.74L447.54 648.13L450.36 653.96L453.17 658.81L455.99 662.54L458.81 665.24L461.62 667.11L464.44 668.36L467.26 669.18L470.08 669.71L472.89 670.05L475.71 670.27L478.53 670.41L481.35 670.5L484.16 670.56L486.98 670.59M402.46 608.77V622.72M401.16 608.77h2.6M401.16 622.72h2.6M411.85 606.23V619.79M410.55 606.23h2.6M410.55 619.79h2.6M421.24 611.96V620.32M419.94 611.96h2.6M419.94 620.32h2.6M430.63 612.91V622.54M429.33 612.91h2.6M429.33 622.54h2.6M440.02 626.96V637.3M438.72 626.96h2.6M438.72 637.3h2.6M449.42 648.38V657M448.12 648.38h2.6M448.12 657h2.6M458.81 664.94V667.85M457.51 664.94h2.6M457.51 667.85h2.6M468.2 666.73V671.45M466.9 666.73h2.6M466.9 671.45h2.6M477.59 666.45V671.46M476.29 666.45h2.6M476.29 671.46h2.6M486.98 665.85V671.74M485.68 665.85h2.6M485.68 671.74h2.6M402.46 624.44L405.28 624.44L408.09 624.44L410.91 624.45L413.73 624.45L416.55 624.45L419.36 624.46L422.18 624.47L425 624.49L427.82 624.53L430.63 624.6L433.45 624.72L436.27 624.93L439.09 625.31L441.9 625.98L444.72 627.14L447.54 629.1L450.36 632.26L453.17 637.02L455.99 643.48L458.81 651.1L461.62 658.76L464.44 665.31L467.26 670.16L470.08 673.41L472.89 675.43L475.71 676.62L478.53 677.32L481.35 677.71L484.16 677.93L486.98 678.06M402.46 618.92V630.01M401.16 618.92h2.6M401.16 630.01h2.6M411.85 621.43V630.5M410.55 621.43h2.6M410.55 630.5h2.6M421.24 620.46V627.75M419.94 620.46h2.6M419.94 627.75h2.6M430.63 619.71V627.81M429.33 619.71h2.6M429.33 627.81h2.6M440.02 618.19V633.3M438.72 618.19h2.6M438.72 633.3h2.6M449.42 629.82V635.91M448.12 629.82h2.6M448.12 635.91h2.6M458.81 648.77V653.97M457.51 648.77h2.6M457.51 653.97h2.6M468.2 669.22V671.62M466.9 669.22h2.6M466.9 671.62h2.6M477.59 673.51V677.73M476.29 673.51h2.6M476.29 677.73h2.6M486.98 675.34V678.23M485.68 675.34h2.6M485.68 678.23h2.6M402.46 617.8L405.28 617.8L408.09 617.81L410.91 617.82L413.73 617.84L416.55 617.87L419.36 617.92L422.18 618.01L425 618.14L427.82 618.35L430.63 618.68L433.45 619.21L436.27 620.03L439.09 621.31L441.9 623.24L444.72 626.05L447.54 629.94L450.36 634.98L453.17 640.95L455.99 647.32L458.81 653.41L461.62 658.64L464.44 662.75L467.26 665.75L470.08 667.82L472.89 669.2L475.71 670.1L478.53 670.67L481.35 671.04L484.16 671.26L486.98 671.41M402.46 612.35V625.16M401.16 612.35h2.6M401.16 625.16h2.6M411.85 612.48V623.05M410.55 612.48h2.6M410.55 623.05h2.6M421.24 613.32V624.05M419.94 613.32h2.6M419.94 624.05h2.6M430.63 610.77V625.11M429.33 610.77h2.6M429.33 625.11h2.6M440.02 615.99V624.17M438.72 615.99h2.6M438.72 624.17h2.6M449.42 629.5V638.67M448.12 629.5h2.6M448.12 638.67h2.6M458.81 650.19V656.06M457.51 650.19h2.6M457.51 656.06h2.6M468.2 666.42V669.34M466.9 666.42h2.6M466.9 669.34h2.6M477.59 669.39V673.19M476.29 669.39h2.6M476.29 673.19h2.6M486.98 666.49V672.15M485.68 666.49h2.6M485.68 672.15h2.6M402.46 624.6L405.28 624.61L408.09 624.62L410.91 624.63L413.73 624.64L416.55 624.67L419.36 624.71L422.18 624.77L425 624.88L427.82 625.04L430.63 625.29L433.45 625.69L436.27 626.3L439.09 627.24L441.9 628.67L444.72 630.76L447.54 633.73L450.36 637.72L453.17 642.75L455.99 648.54L458.81 654.6L461.62 660.31L464.44 665.2L467.26 669.04L470.08 671.87L472.89 673.86L475.71 675.2L478.53 676.09L481.35 676.66L484.16 677.04L486.98 677.27M402.46 615.13V630.84M401.16 615.13h2.6M401.16 630.84h2.6M411.85 616.38V628.79M410.55 616.38h2.6M410.55 628.79h2.6M421.24 619.78V626.96M419.94 619.78h2.6M419.94 626.96h2.6M430.63 618.47V630.55M429.33 618.47h2.6M429.33 630.55h2.6M440.02 623.02V634.1M438.72 623.02h2.6M438.72 634.1h2.6M449.42 629.54V638.98M448.12 629.54h2.6M448.12 638.98h2.6M458.81 651.2V656.69M457.51 651.2h2.6M457.51 656.69h2.6M468.2 668.15V673.42M466.9 668.15h2.6M466.9 673.42h2.6M477.59 676.84V678.5M476.29 676.84h2.6M476.29 678.5h2.6M486.98 674.98V677.98M485.68 674.98h2.6M485.68 677.98h2.6" stroke="#e10a14" stroke-width="1.05" fill="none"/>
<path d="M401.16 627.14h2.6v2.6h-2.6zM410.55 627.38h2.6v2.6h-2.6zM419.94 627.16h2.6v2.6h-2.6zM429.33 629.59h2.6v2.6h-2.6zM438.72 628.41h2.6v2.6h-2.6zM448.12 629.49h2.6v2.6h-2.6zM457.51 628.05h2.6v2.6h-2.6zM466.9 629.37h2.6v2.6h-2.6zM476.29 632.8h2.6v2.6h-2.6zM485.68 656.53h2.6v2.6h-2.6zM401.16 632.42h2.6v2.6h-2.6zM410.55 633.44h2.6v2.6h-2.6zM419.94 630.81h2.6v2.6h-2.6zM429.33 632.55h2.6v2.6h-2.6zM438.72 640.53h2.6v2.6h-2.6zM448.12 661.29h2.6v2.6h-2.6zM457.51 671.89h2.6v2.6h-2.6zM466.9 673.86h2.6v2.6h-2.6zM476.29 675.65h2.6v2.6h-2.6zM485.68 673.56h2.6v2.6h-2.6zM401.16 627.56h2.6v2.6h-2.6zM410.55 626.17h2.6v2.6h-2.6zM419.94 625.99h2.6v2.6h-2.6zM429.33 628.7h2.6v2.6h-2.6zM438.72 632.35h2.6v2.6h-2.6zM448.12 652.49h2.6v2.6h-2.6zM457.51 669.18h2.6v2.6h-2.6zM466.9 672.51h2.6v2.6h-2.6zM476.29 671.33h2.6v2.6h-2.6zM485.68 671.82h2.6v2.6h-2.6z" fill="#111111"/>
<path d="M401.16 628.83h2.6v2.6h-2.6zM410.55 627.11h2.6v2.6h-2.6zM419.94 627.84h2.6v2.6h-2.6zM429.33 630.17h2.6v2.6h-2.6zM438.72 636.48h2.6v2.6h-2.6zM448.12 655.49h2.6v2.6h-2.6zM457.51 662.07h2.6v2.6h-2.6zM466.9 664.39h2.6v2.6h-2.6zM476.29 664.99h2.6v2.6h-2.6zM485.68 665.86h2.6v2.6h-2.6zM401.16 623.85h2.6v2.6h-2.6zM410.55 625.25h2.6v2.6h-2.6zM419.94 625h2.6v2.6h-2.6zM429.33 628.27h2.6v2.6h-2.6zM438.72 641.05h2.6v2.6h-2.6zM448.12 660.9h2.6v2.6h-2.6zM457.51 670.07h2.6v2.6h-2.6zM466.9 671.37h2.6v2.6h-2.6zM476.29 671.96h2.6v2.6h-2.6zM485.68 672.91h2.6v2.6h-2.6zM401.16 630.61h2.6v2.6h-2.6zM410.55 631.17h2.6v2.6h-2.6zM419.94 631.21h2.6v2.6h-2.6zM429.33 630.88h2.6v2.6h-2.6zM438.72 637.97h2.6v2.6h-2.6zM448.12 652.41h2.6v2.6h-2.6zM457.51 661.19h2.6v2.6h-2.6zM466.9 665.62h2.6v2.6h-2.6zM476.29 664.99h2.6v2.6h-2.6zM485.68 666.59h2.6v2.6h-2.6zM401.16 623.33h2.6v2.6h-2.6zM410.55 623.97h2.6v2.6h-2.6zM419.94 623.47h2.6v2.6h-2.6zM429.33 626.38h2.6v2.6h-2.6zM438.72 637.39h2.6v2.6h-2.6zM448.12 658.5h2.6v2.6h-2.6zM457.51 671.71h2.6v2.6h-2.6zM466.9 673.52h2.6v2.6h-2.6zM476.29 673.1h2.6v2.6h-2.6zM485.68 674.37h2.6v2.6h-2.6z" fill="#0000ff"/>
<path d="M401.16 617.55h2.6v2.6h-2.6zM410.55 617.05h2.6v2.6h-2.6zM419.94 616.26h2.6v2.6h-2.6zM429.33 617.25h2.6v2.6h-2.6zM438.72 619.74h2.6v2.6h-2.6zM448.12 628.8h2.6v2.6h-2.6zM457.51 655.36h2.6v2.6h-2.6zM466.9 668.9h2.6v2.6h-2.6zM476.29 671.92h2.6v2.6h-2.6zM485.68 672.23h2.6v2.6h-2.6zM401.16 620.25h2.6v2.6h-2.6zM410.55 619.56h2.6v2.6h-2.6zM419.94 616.81h2.6v2.6h-2.6zM429.33 617.13h2.6v2.6h-2.6zM438.72 621.91h2.6v2.6h-2.6zM448.12 630.84h2.6v2.6h-2.6zM457.51 650.91h2.6v2.6h-2.6zM466.9 666.89h2.6v2.6h-2.6zM476.29 668.79h2.6v2.6h-2.6zM485.68 668.61h2.6v2.6h-2.6zM401.16 618.44h2.6v2.6h-2.6zM410.55 620.75h2.6v2.6h-2.6zM419.94 618.17h2.6v2.6h-2.6zM429.33 622.04h2.6v2.6h-2.6zM438.72 625.13h2.6v2.6h-2.6zM448.12 636.85h2.6v2.6h-2.6zM457.51 657.82h2.6v2.6h-2.6zM466.9 666.5h2.6v2.6h-2.6zM476.29 668.8h2.6v2.6h-2.6zM485.68 670.04h2.6v2.6h-2.6zM401.16 622.16h2.6v2.6h-2.6zM410.55 622.58h2.6v2.6h-2.6zM419.94 620.73h2.6v2.6h-2.6zM429.33 625.26h2.6v2.6h-2.6zM438.72 634.22h2.6v2.6h-2.6zM448.12 661.14h2.6v2.6h-2.6zM457.51 671.54h2.6v2.6h-2.6zM466.9 673.01h2.6v2.6h-2.6zM476.29 670.88h2.6v2.6h-2.6zM485.68 671.16h2.6v2.6h-2.6zM401.16 621.64h2.6v2.6h-2.6zM410.55 623.74h2.6v2.6h-2.6zM419.94 621.07h2.6v2.6h-2.6zM429.33 623.14h2.6v2.6h-2.6zM438.72 635.43h2.6v2.6h-2.6zM448.12 661.29h2.6v2.6h-2.6zM457.51 676.33h2.6v2.6h-2.6zM466.9 676.93h2.6v2.6h-2.6zM476.29 675.03h2.6v2.6h-2.6zM485.68 675.81h2.6v2.6h-2.6zM401.16 619.39h2.6v2.6h-2.6zM410.55 621.7h2.6v2.6h-2.6zM419.94 619.97h2.6v2.6h-2.6zM429.33 626.95h2.6v2.6h-2.6zM438.72 642.79h2.6v2.6h-2.6zM448.12 660.07h2.6v2.6h-2.6zM457.51 671.76h2.6v2.6h-2.6zM466.9 673.77h2.6v2.6h-2.6zM476.29 676.85h2.6v2.6h-2.6zM485.68 675.87h2.6v2.6h-2.6zM401.16 613.81h2.6v2.6h-2.6zM410.55 616.64h2.6v2.6h-2.6zM419.94 617.38h2.6v2.6h-2.6zM429.33 616.81h2.6v2.6h-2.6zM438.72 617.65h2.6v2.6h-2.6zM448.12 628.84h2.6v2.6h-2.6zM457.51 650.98h2.6v2.6h-2.6zM466.9 666.29h2.6v2.6h-2.6zM476.29 672.92h2.6v2.6h-2.6zM485.68 672.44h2.6v2.6h-2.6zM401.16 625.68h2.6v2.6h-2.6zM410.55 625.09h2.6v2.6h-2.6zM419.94 624.09h2.6v2.6h-2.6zM429.33 625.39h2.6v2.6h-2.6zM438.72 629.94h2.6v2.6h-2.6zM448.12 648.88h2.6v2.6h-2.6zM457.51 663.62h2.6v2.6h-2.6zM466.9 673.1h2.6v2.6h-2.6zM476.29 670.01h2.6v2.6h-2.6zM485.68 674.01h2.6v2.6h-2.6zM401.16 614.43h2.6v2.6h-2.6zM410.55 613.99h2.6v2.6h-2.6zM419.94 612.69h2.6v2.6h-2.6zM429.33 616.51h2.6v2.6h-2.6zM438.72 629.6h2.6v2.6h-2.6zM448.12 656.94h2.6v2.6h-2.6zM457.51 669.44h2.6v2.6h-2.6zM466.9 667.94h2.6v2.6h-2.6zM476.29 671.14h2.6v2.6h-2.6zM485.68 668.25h2.6v2.6h-2.6zM401.16 614.44h2.6v2.6h-2.6zM410.55 611.71h2.6v2.6h-2.6zM419.94 614.84h2.6v2.6h-2.6zM429.33 616.42h2.6v2.6h-2.6zM438.72 630.83h2.6v2.6h-2.6zM448.12 651.39h2.6v2.6h-2.6zM457.51 665.09h2.6v2.6h-2.6zM466.9 667.79h2.6v2.6h-2.6zM476.29 667.66h2.6v2.6h-2.6zM485.68 667.5h2.6v2.6h-2.6zM401.16 623.17h2.6v2.6h-2.6zM410.55 624.66h2.6v2.6h-2.6zM419.94 622.81h2.6v2.6h-2.6zM429.33 622.46h2.6v2.6h-2.6zM438.72 624.45h2.6v2.6h-2.6zM448.12 631.57h2.6v2.6h-2.6zM457.51 650.07h2.6v2.6h-2.6zM466.9 669.12h2.6v2.6h-2.6zM476.29 674.32h2.6v2.6h-2.6zM485.68 675.48h2.6v2.6h-2.6zM401.16 617.46h2.6v2.6h-2.6zM410.55 616.46h2.6v2.6h-2.6zM419.94 617.39h2.6v2.6h-2.6zM429.33 616.64h2.6v2.6h-2.6zM438.72 618.78h2.6v2.6h-2.6zM448.12 632.78h2.6v2.6h-2.6zM457.51 651.82h2.6v2.6h-2.6zM466.9 666.58h2.6v2.6h-2.6zM476.29 669.99h2.6v2.6h-2.6zM485.68 668.02h2.6v2.6h-2.6zM401.16 621.69h2.6v2.6h-2.6zM410.55 621.28h2.6v2.6h-2.6zM419.94 622.07h2.6v2.6h-2.6zM429.33 623.21h2.6v2.6h-2.6zM438.72 627.26h2.6v2.6h-2.6zM448.12 632.96h2.6v2.6h-2.6zM457.51 652.65h2.6v2.6h-2.6zM466.9 669.49h2.6v2.6h-2.6zM476.29 676.62h2.6v2.6h-2.6zM485.68 675.18h2.6v2.6h-2.6z" fill="#e10a14"/>
<path d="M369.7 594.7V679.2M365.7 678.5H369.7M365.7 650.8H369.7M365.7 623.1H369.7M365.7 595.4H369.7M369 678.5H495.2" stroke="#000" stroke-width="1.5" fill="none"/>
<path d="M369.7 678.5v3.6M385.3 678.5v3.6M400.9 678.5v3.6M416.5 678.5v3.6M432.1 678.5v3.6M447.7 678.5v3.6M463.3 678.5v3.6M478.9 678.5v3.6M494.5 678.5v3.6" stroke="#000" stroke-width="1.3" fill="none"/>
<path d="M374.4 678.5v2M377.14 678.5v2M379.09 678.5v2M380.6 678.5v2M381.84 678.5v2M382.88 678.5v2M383.79 678.5v2M384.59 678.5v2M390 678.5v2M392.74 678.5v2M394.69 678.5v2M396.2 678.5v2M397.44 678.5v2M398.48 678.5v2M399.39 678.5v2M400.19 678.5v2M405.6 678.5v2M408.34 678.5v2M410.29 678.5v2M411.8 678.5v2M413.04 678.5v2M414.08 678.5v2M414.99 678.5v2M415.79 678.5v2M421.2 678.5v2M423.94 678.5v2M425.89 678.5v2M427.4 678.5v2M428.64 678.5v2M429.68 678.5v2M430.59 678.5v2M431.39 678.5v2M436.8 678.5v2M439.54 678.5v2M441.49 678.5v2M443 678.5v2M444.24 678.5v2M445.28 678.5v2M446.19 678.5v2M446.99 678.5v2M452.4 678.5v2M455.14 678.5v2M457.09 678.5v2M458.6 678.5v2M459.84 678.5v2M460.88 678.5v2M461.79 678.5v2M462.59 678.5v2M468 678.5v2M470.74 678.5v2M472.69 678.5v2M474.2 678.5v2M475.44 678.5v2M476.48 678.5v2M477.39 678.5v2M478.19 678.5v2M483.6 678.5v2M486.34 678.5v2M488.29 678.5v2M489.8 678.5v2M491.04 678.5v2M492.08 678.5v2M492.99 678.5v2M493.79 678.5v2" stroke="#000" stroke-width="0.8" fill="none"/>
<text x="363.3" y="681.8" font-size="9.2" font-weight="bold" fill="#000" color="#000" text-anchor="end">0</text>
<text x="363.3" y="654.1" font-size="9.2" font-weight="bold" fill="#000" color="#000" text-anchor="end">50</text>
<text x="363.3" y="626.4" font-size="9.2" font-weight="bold" fill="#000" color="#000" text-anchor="end">100</text>
<text x="363.3" y="598.7" font-size="9.2" font-weight="bold" fill="#000" color="#000" text-anchor="end">150</text>
<text x="360.9" y="691.6" font-size="9" font-weight="bold">10<tspan font-size="6.9" dy="-2.7">−14</tspan></text>
<text x="392.1" y="691.6" font-size="9" font-weight="bold">10<tspan font-size="6.9" dy="-2.7">−12</tspan></text>
<text x="423.3" y="691.6" font-size="9" font-weight="bold">10<tspan font-size="6.9" dy="-2.7">−10</tspan></text>
<text x="454.5" y="691.6" font-size="9" font-weight="bold">10<tspan font-size="6.9" dy="-2.7">−8</tspan></text>
<text x="485.7" y="691.6" font-size="9" font-weight="bold">10<tspan font-size="6.9" dy="-2.7">−6</tspan></text>
<line x1="370.7" y1="650.8" x2="494.5" y2="650.8" stroke="#000" stroke-width="0.9" stroke-dasharray="1.2,1.6"/>
<path d="M78.75 761.46L81.57 761.46L84.39 761.46L87.2 761.46L90.02 761.46L92.84 761.46L95.66 761.46L98.47 761.46L101.29 761.46L104.11 761.46L106.93 761.46L109.74 761.46L112.56 761.47L115.38 761.47L118.2 761.47L121.01 761.47L123.83 761.47L126.65 761.47L129.46 761.48L132.28 761.49L135.1 761.5L137.92 761.51L140.73 761.53L143.55 761.56L146.37 761.6L149.19 761.65L152 761.7L154.82 761.76L157.64 761.81L160.46 761.87L163.27 761.91M78.75 751.63V773.15M77.45 751.63h2.6M77.45 773.15h2.6M88.14 751.62V771.89M86.84 751.62h2.6M86.84 771.89h2.6M97.53 751.91V771.39M96.23 751.91h2.6M96.23 771.39h2.6M106.93 752.63V770.01M105.63 752.63h2.6M105.63 770.01h2.6M116.32 755.33V769.33M115.02 755.33h2.6M115.02 769.33h2.6M125.71 750.72V770.48M124.41 750.72h2.6M124.41 770.48h2.6M135.1 750.03V774.7M133.8 750.03h2.6M133.8 774.7h2.6M144.49 755.79V768.46M143.19 755.79h2.6M143.19 768.46h2.6M153.88 754.11V769.23M152.58 754.11h2.6M152.58 769.23h2.6M163.27 752.01V771.86M161.97 752.01h2.6M161.97 771.86h2.6M78.75 764.82L81.57 764.82L84.39 764.82L87.2 764.82L90.02 764.82L92.84 764.82L95.66 764.82L98.47 764.82L101.29 764.82L104.11 764.83L106.93 764.83L109.74 764.84L112.56 764.85L115.38 764.88L118.2 764.91L121.01 764.97L123.83 765.07L126.65 765.22L129.46 765.46L132.28 765.81L135.1 766.29L137.92 766.92L140.73 767.65L143.55 768.41L146.37 769.11L149.19 769.69L152 770.12L154.82 770.43L157.64 770.63L160.46 770.76L163.27 770.84M78.75 756.58V774.28M77.45 756.58h2.6M77.45 774.28h2.6M88.14 757.27V774.1M86.84 757.27h2.6M86.84 774.1h2.6M97.53 759.1V770.15M96.23 759.1h2.6M96.23 770.15h2.6M106.93 759.59V770.49M105.63 759.59h2.6M105.63 770.49h2.6M116.32 754.11V775.94M115.02 754.11h2.6M115.02 775.94h2.6M125.71 755.17V774.93M124.41 755.17h2.6M124.41 774.93h2.6M135.1 760.04V771.4M133.8 760.04h2.6M133.8 771.4h2.6M144.49 757.97V777.15M143.19 757.97h2.6M143.19 777.15h2.6M153.88 761.45V781.01M152.58 761.45h2.6M152.58 781.01h2.6M163.27 765.46V776.7M161.97 765.46h2.6M161.97 776.7h2.6M78.75 767.61L81.57 767.61L84.39 767.62L87.2 767.62L90.02 767.62L92.84 767.62L95.66 767.63L98.47 767.64L101.29 767.65L104.11 767.67L106.93 767.7L109.74 767.74L112.56 767.8L115.38 767.9L118.2 768.04L121.01 768.25L123.83 768.56L126.65 768.99L129.46 769.61L132.28 770.43L135.1 771.48L137.92 772.74L140.73 774.14L143.55 775.59L146.37 776.95L149.19 778.14L152 779.11L154.82 779.84L157.64 780.39L160.46 780.77L163.27 781.04M78.75 760.82V772.35M77.45 760.82h2.6M77.45 772.35h2.6M88.14 763.18V770.82M86.84 763.18h2.6M86.84 770.82h2.6M97.53 763.55V770.48M96.23 763.55h2.6M96.23 770.48h2.6M106.93 763.5V773.07M105.63 763.5h2.6M105.63 773.07h2.6M116.32 763.32V774.73M115.02 763.32h2.6M115.02 774.73h2.6M125.71 765.08V773.87M124.41 765.08h2.6M124.41 773.87h2.6M135.1 766.18V775.84M133.8 766.18h2.6M133.8 775.84h2.6M144.49 769.89V780.49M143.19 769.89h2.6M143.19 780.49h2.6M153.88 774.01V783.57M152.58 774.01h2.6M152.58 783.57h2.6M163.27 774.3V785.91M161.97 774.3h2.6M161.97 785.91h2.6" stroke="#111111" stroke-width="1.05" fill="none"/>
<path d="M78.75 748.08L81.57 748.1L84.39 748.12L87.2 748.15L90.02 748.18L92.84 748.24L95.66 748.31L98.47 748.41L101.29 748.55L104.11 748.75L106.93 749.01L109.74 749.37L112.56 749.85L115.38 750.49L118.2 751.33L121.01 752.39L123.83 753.7L126.65 755.26L129.46 757.04L132.28 758.98L135.1 760.97L137.92 762.92L140.73 764.72L143.55 766.3L146.37 767.63L149.19 768.72L152 769.57L154.82 770.23L157.64 770.72L160.46 771.09L163.27 771.37M78.75 753.65L81.57 753.66L84.39 753.66L87.2 753.68L90.02 753.69L92.84 753.72L95.66 753.76L98.47 753.81L101.29 753.89L104.11 754L106.93 754.16L109.74 754.39L112.56 754.73L115.38 755.2L118.2 755.86L121.01 756.78L123.83 758.03L126.65 759.68L129.46 761.79L132.28 764.36L135.1 767.34L137.92 770.56L140.73 773.84L143.55 776.94L146.37 779.69L149.19 782L152 783.83L154.82 785.24L157.64 786.29L160.46 787.05L163.27 787.59M78.75 746.5V762.86M77.45 746.5h2.6M77.45 762.86h2.6M88.14 743.42V761.67M86.84 743.42h2.6M86.84 761.67h2.6M97.53 749.91V760.26M96.23 749.91h2.6M96.23 760.26h2.6M106.93 744.8V766.14M105.63 744.8h2.6M105.63 766.14h2.6M116.32 747.52V765.39M115.02 747.52h2.6M115.02 765.39h2.6M125.71 749.91V769.66M124.41 749.91h2.6M124.41 769.66h2.6M135.1 762.02V773.45M133.8 762.02h2.6M133.8 773.45h2.6M144.49 769.36V783.94M143.19 769.36h2.6M143.19 783.94h2.6M153.88 776.4V791.96M152.58 776.4h2.6M152.58 791.96h2.6M163.27 782.5V789.67M161.97 782.5h2.6M161.97 789.67h2.6M78.75 759.24L81.57 759.24L84.39 759.25L87.2 759.26L90.02 759.27L92.84 759.29L95.66 759.31L98.47 759.35L101.29 759.41L104.11 759.49L106.93 759.61L109.74 759.78L112.56 760.02L115.38 760.37L118.2 760.85L121.01 761.52L123.83 762.43L126.65 763.64L129.46 765.18L132.28 767.06L135.1 769.23L137.92 771.59L140.73 773.98L143.55 776.24L146.37 778.25L149.19 779.93L152 781.28L154.82 782.3L157.64 783.07L160.46 783.62L163.27 784.02M78.75 753.67V765.86M77.45 753.67h2.6M77.45 765.86h2.6M88.14 748.07V770.43M86.84 748.07h2.6M86.84 770.43h2.6M97.53 753.05V763.61M96.23 753.05h2.6M96.23 763.61h2.6M106.93 749.88V771.47M105.63 749.88h2.6M105.63 771.47h2.6M116.32 752.11V767.7M115.02 752.11h2.6M115.02 767.7h2.6M125.71 757.14V769.43M124.41 757.14h2.6M124.41 769.43h2.6M135.1 760.73V775.42M133.8 760.73h2.6M133.8 775.42h2.6M144.49 767.86V783.53M143.19 767.86h2.6M143.19 783.53h2.6M153.88 778.01V788.82M152.58 778.01h2.6M152.58 788.82h2.6M163.27 776.88V793.07M161.97 776.88h2.6M161.97 793.07h2.6M78.75 760.92L81.57 760.92L84.39 760.93L87.2 760.94L90.02 760.96L92.84 760.99L95.66 761.03L98.47 761.08L101.29 761.16L104.11 761.28L106.93 761.44L109.74 761.67L112.56 762L115.38 762.46L118.2 763.09L121.01 763.92L123.83 765.01L126.65 766.35L129.46 767.93L132.28 769.69L135.1 771.52L137.92 773.29L140.73 774.89L143.55 776.26L146.37 777.36L149.19 778.22L152 778.87L154.82 779.34L157.64 779.68L160.46 779.92L163.27 780.09M78.75 756.17V765.07M77.45 756.17h2.6M77.45 765.07h2.6M88.14 755.75V768.37M86.84 755.75h2.6M86.84 768.37h2.6M97.53 753.59V768.75M96.23 753.59h2.6M96.23 768.75h2.6M106.93 755.55V768.08M105.63 755.55h2.6M105.63 768.08h2.6M116.32 756.77V771.83M115.02 756.77h2.6M115.02 771.83h2.6M125.71 762.28V770.59M124.41 762.28h2.6M124.41 770.59h2.6M135.1 762.74V780.57M133.8 762.74h2.6M133.8 780.57h2.6M144.49 774.11V782.25M143.19 774.11h2.6M143.19 782.25h2.6M153.88 773.99V783.26M152.58 773.99h2.6M152.58 783.26h2.6M163.27 775.36V786.33M161.97 775.36h2.6M161.97 786.33h2.6" stroke="#0000ff" stroke-width="1.05" fill="none"/>
<path d="M78.75 738.92V759.48M77.45 738.92h2.6M77.45 759.48h2.6M88.14 738.28V759.1M86.84 738.28h2.6M86.84 759.1h2.6M97.53 736.92V758.62M96.23 736.92h2.6M96.23 758.62h2.6M106.93 742.62V757.94M105.63 742.62h2.6M105.63 757.94h2.6M116.32 738.24V761.66M115.02 738.24h2.6M115.02 761.66h2.6M125.71 748.63V759.31M124.41 748.63h2.6M124.41 759.31h2.6M135.1 754.89V766.36M133.8 754.89h2.6M133.8 766.36h2.6M144.49 756.34V776.88M143.19 756.34h2.6M143.19 776.88h2.6M153.88 760.96V781.69M152.58 760.96h2.6M152.58 781.69h2.6M163.27 764.6V776.95M161.97 764.6h2.6M161.97 776.95h2.6" stroke="#9a3cf0" stroke-width="1.05" fill="none"/>
<path d="M78.75 761.47L81.57 761.47L84.39 761.47L87.2 761.47L90.02 761.48L92.84 761.49L95.66 761.51L98.47 761.53L101.29 761.58L104.11 761.65L106.93 761.77L109.74 761.96L112.56 762.27L115.38 762.78L118.2 763.58L121.01 764.82L123.83 766.67L126.65 769.31L129.46 772.78L132.28 776.93L135.1 781.37L137.92 785.57L140.73 789.11L143.55 791.82L146.37 793.74L149.19 795.03L152 795.87L154.82 796.39L157.64 796.72L160.46 796.92L163.27 797.05M78.75 756.24V768.29M77.45 756.24h2.6M77.45 768.29h2.6M88.14 753.53V769.23M86.84 753.53h2.6M86.84 769.23h2.6M97.53 756.36V763.39M96.23 756.36h2.6M96.23 763.39h2.6M106.93 754.59V768.54M105.63 754.59h2.6M105.63 768.54h2.6M116.32 754.77V768.75M115.02 754.77h2.6M115.02 768.75h2.6M125.71 761.91V773.87M124.41 761.91h2.6M124.41 773.87h2.6M135.1 778.29V785.37M133.8 778.29h2.6M133.8 785.37h2.6M144.49 786.89V796.22M143.19 786.89h2.6M143.19 796.22h2.6M153.88 790.95V798.59M152.58 790.95h2.6M152.58 798.59h2.6M163.27 793.93V801.48M161.97 793.93h2.6M161.97 801.48h2.6M78.75 764.11L81.57 764.18L84.39 764.28L87.2 764.41L90.02 764.6L92.84 764.85L95.66 765.21L98.47 765.69L101.29 766.35L104.11 767.24L106.93 768.44L109.74 770L112.56 772.01L115.38 774.53L118.2 777.58L121.01 781.11L123.83 785.03L126.65 789.15L129.46 793.26L132.28 797.12L135.1 800.59L137.92 803.54L140.73 805.97L143.55 807.91L146.37 809.4L149.19 810.54L152 811.39L154.82 812.02L157.64 812.48L160.46 812.81L163.27 813.05M78.75 755.38V770.7M77.45 755.38h2.6M77.45 770.7h2.6M88.14 757.21V770.51M86.84 757.21h2.6M86.84 770.51h2.6M97.53 758.42V772.15M96.23 758.42h2.6M96.23 772.15h2.6M106.93 764.41V776.39M105.63 764.41h2.6M105.63 776.39h2.6M116.32 767.42V785.14M115.02 767.42h2.6M115.02 785.14h2.6M125.71 783.28V792.43M124.41 783.28h2.6M124.41 792.43h2.6M135.1 798.82V804.64M133.8 798.82h2.6M133.8 804.64h2.6M144.49 807.05V811.2M143.19 807.05h2.6M143.19 811.2h2.6M153.88 810.81V817.26M152.58 810.81h2.6M152.58 817.26h2.6M163.27 810.83V815.7M161.97 810.83h2.6M161.97 815.7h2.6M78.75 764.61L81.57 764.64L84.39 764.67L87.2 764.72L90.02 764.79L92.84 764.88L95.66 765.02L98.47 765.21L101.29 765.48L104.11 765.84L106.93 766.35L109.74 767.06L112.56 768.01L115.38 769.28L118.2 770.95L121.01 773.08L123.83 775.72L126.65 778.85L129.46 782.4L132.28 786.21L135.1 790.07L137.92 793.76L140.73 797.09L143.55 799.96L146.37 802.31L149.19 804.18L152 805.62L154.82 806.7L157.64 807.51L160.46 808.1L163.27 808.52M78.75 757.99V770.62M77.45 757.99h2.6M77.45 770.62h2.6M88.14 761.5V770.94M86.84 761.5h2.6M86.84 770.94h2.6M97.53 759.82V772.23M96.23 759.82h2.6M96.23 772.23h2.6M106.93 757.59V773.09M105.63 757.59h2.6M105.63 773.09h2.6M116.32 761.59V774.07M115.02 761.59h2.6M115.02 774.07h2.6M125.71 769.07V782.67M124.41 769.07h2.6M124.41 782.67h2.6M135.1 788.48V795.42M133.8 788.48h2.6M133.8 795.42h2.6M144.49 795.04V805.84M143.19 795.04h2.6M143.19 805.84h2.6M153.88 803.11V810.92M152.58 803.11h2.6M152.58 810.92h2.6M163.27 804.94V812.75M161.97 804.94h2.6M161.97 812.75h2.6M78.75 753.13L81.57 753.14L84.39 753.14L87.2 753.15L90.02 753.17L92.84 753.19L95.66 753.22L98.47 753.26L101.29 753.32L104.11 753.42L106.93 753.56L109.74 753.77L112.56 754.08L115.38 754.53L118.2 755.19L121.01 756.14L123.83 757.49L126.65 759.38L129.46 761.95L132.28 765.33L135.1 769.59L137.92 774.66L140.73 780.31L143.55 786.14L146.37 791.73L149.19 796.7L152 800.85L154.82 804.12L157.64 806.59L160.46 808.4L163.27 809.69M78.75 747.56V762.57M77.45 747.56h2.6M77.45 762.57h2.6M88.14 745.17V757.57M86.84 745.17h2.6M86.84 757.57h2.6M97.53 749.71V758.94M96.23 749.71h2.6M96.23 758.94h2.6M106.93 748.91V761.21M105.63 748.91h2.6M105.63 761.21h2.6M116.32 747.97V759.65M115.02 747.97h2.6M115.02 759.65h2.6M125.71 753.4V764.85M124.41 753.4h2.6M124.41 764.85h2.6M135.1 759.97V778.29M133.8 759.97h2.6M133.8 778.29h2.6M144.49 783.5V791.28M143.19 783.5h2.6M143.19 791.28h2.6M153.88 796.98V807.17M152.58 796.98h2.6M152.58 807.17h2.6M163.27 807.3V811.17M161.97 807.3h2.6M161.97 811.17h2.6M78.75 768.78L81.57 768.79L84.39 768.8L87.2 768.81L90.02 768.83L92.84 768.87L95.66 768.91L98.47 768.99L101.29 769.1L104.11 769.27L106.93 769.53L109.74 769.92L112.56 770.5L115.38 771.35L118.2 772.58L121.01 774.32L123.83 776.7L126.65 779.83L129.46 783.68L132.28 788.12L135.1 792.82L137.92 797.4L140.73 801.49L143.55 804.88L146.37 807.51L149.19 809.47L152 810.87L154.82 811.84L157.64 812.5L160.46 812.95L163.27 813.25M78.75 757.94V776.86M77.45 757.94h2.6M77.45 776.86h2.6M88.14 764.62V774.44M86.84 764.62h2.6M86.84 774.44h2.6M97.53 763.22V777.49M96.23 763.22h2.6M96.23 777.49h2.6M106.93 759.85V775.86M105.63 759.85h2.6M105.63 775.86h2.6M116.32 764.49V775.14M115.02 764.49h2.6M115.02 775.14h2.6M125.71 772.25V786.7M124.41 772.25h2.6M124.41 786.7h2.6M135.1 787.82V796.49M133.8 787.82h2.6M133.8 796.49h2.6M144.49 802.1V807.97M143.19 802.1h2.6M143.19 807.97h2.6M153.88 811.19V815.87M152.58 811.19h2.6M152.58 815.87h2.6M163.27 812.69V817.86M161.97 812.69h2.6M161.97 817.86h2.6M78.75 763.53L81.57 763.56L84.39 763.59L87.2 763.63L90.02 763.69L92.84 763.78L95.66 763.89L98.47 764.05L101.29 764.27L104.11 764.58L106.93 764.99L109.74 765.55L112.56 766.3L115.38 767.31L118.2 768.62L121.01 770.32L123.83 772.46L126.65 775.06L129.46 778.13L132.28 781.58L135.1 785.29L137.92 789.06L140.73 792.71L143.55 796.05L146.37 798.99L149.19 801.45L152 803.45L154.82 805.03L157.64 806.25L160.46 807.17L163.27 807.86M78.75 756.77V771.78M77.45 756.77h2.6M77.45 771.78h2.6M88.14 757.13V769.29M86.84 757.13h2.6M86.84 769.29h2.6M97.53 759.63V768.69M96.23 759.63h2.6M96.23 768.69h2.6M106.93 755.08V771.09M105.63 755.08h2.6M105.63 771.09h2.6M116.32 760.82V770.23M115.02 760.82h2.6M115.02 770.23h2.6M125.71 765.83V781.44M124.41 765.83h2.6M124.41 781.44h2.6M135.1 782.51V789.59M133.8 782.51h2.6M133.8 789.59h2.6M144.49 795.77V801.47M143.19 795.77h2.6M143.19 801.47h2.6M153.88 801V805.71M152.58 801h2.6M152.58 805.71h2.6M163.27 803.42V809.49M161.97 803.42h2.6M161.97 809.49h2.6M78.75 754.88L81.57 754.9L84.39 754.93L87.2 754.97L90.02 755.02L92.84 755.09L95.66 755.18L98.47 755.32L101.29 755.5L104.11 755.75L106.93 756.08L109.74 756.54L112.56 757.16L115.38 758L118.2 759.11L121.01 760.58L123.83 762.48L126.65 764.9L129.46 767.91L132.28 771.54L135.1 775.75L137.92 780.45L140.73 785.44L143.55 790.49L146.37 795.35L149.19 799.8L152 803.7L154.82 806.98L157.64 809.66L160.46 811.79L163.27 813.44M78.75 746.55V762.87M77.45 746.55h2.6M77.45 762.87h2.6M88.14 746.15V763.32M86.84 746.15h2.6M86.84 763.32h2.6M97.53 748.27V761.36M96.23 748.27h2.6M96.23 761.36h2.6M106.93 748.92V761.09M105.63 748.92h2.6M105.63 761.09h2.6M116.32 748.14V766.64M115.02 748.14h2.6M115.02 766.64h2.6M125.71 756.39V769.2M124.41 756.39h2.6M124.41 769.2h2.6M135.1 765.48V783.58M133.8 765.48h2.6M133.8 783.58h2.6M144.49 788.53V796.18M143.19 788.53h2.6M143.19 796.18h2.6M153.88 801.35V810.36M152.58 801.35h2.6M152.58 810.36h2.6M163.27 813.68V816.49M161.97 813.68h2.6M161.97 816.49h2.6M78.75 769.27L81.57 769.27L84.39 769.27L87.2 769.28L90.02 769.28L92.84 769.29L95.66 769.3L98.47 769.32L101.29 769.36L104.11 769.41L106.93 769.49L109.74 769.61L112.56 769.81L115.38 770.11L118.2 770.58L121.01 771.31L123.83 772.4L126.65 774.02L129.46 776.34L132.28 779.53L135.1 783.64L137.92 788.54L140.73 793.87L143.55 799.12L146.37 803.81L149.19 807.63L152 810.52L154.82 812.6L157.64 814.04L160.46 815L163.27 815.63M78.75 761.46V777.3M77.45 761.46h2.6M77.45 777.3h2.6M88.14 761.71V774.4M86.84 761.71h2.6M86.84 774.4h2.6M97.53 761.5V772.76M96.23 761.5h2.6M96.23 772.76h2.6M106.93 763.62V773.06M105.63 763.62h2.6M105.63 773.06h2.6M116.32 767.66V777.05M115.02 767.66h2.6M115.02 777.05h2.6M125.71 768.96V781.8M124.41 768.96h2.6M124.41 781.8h2.6M135.1 779.26V787.52M133.8 779.26h2.6M133.8 787.52h2.6M144.49 795.22V802.38M143.19 795.22h2.6M143.19 802.38h2.6M153.88 811.71V815.41M152.58 811.71h2.6M152.58 815.41h2.6M163.27 811.32V817.82M161.97 811.32h2.6M161.97 817.82h2.6M78.75 769.23L81.57 769.23L84.39 769.24L87.2 769.25L90.02 769.27L92.84 769.29L95.66 769.33L98.47 769.39L101.29 769.48L104.11 769.62L106.93 769.83L109.74 770.14L112.56 770.61L115.38 771.31L118.2 772.34L121.01 773.81L123.83 775.87L126.65 778.62L129.46 782.11L132.28 786.25L135.1 790.78L137.92 795.33L140.73 799.52L143.55 803.07L146.37 805.88L149.19 807.99L152 809.51L154.82 810.57L157.64 811.29L160.46 811.78L163.27 812.11M78.75 766.52V774.95M77.45 766.52h2.6M77.45 774.95h2.6M88.14 762.37V773.65M86.84 762.37h2.6M86.84 773.65h2.6M97.53 759.97V774.45M96.23 759.97h2.6M96.23 774.45h2.6M106.93 763.08V775.35M105.63 763.08h2.6M105.63 775.35h2.6M116.32 763.57V776.97M115.02 763.57h2.6M115.02 776.97h2.6M125.71 770.28V786.54M124.41 770.28h2.6M124.41 786.54h2.6M135.1 786.98V798.09M133.8 786.98h2.6M133.8 798.09h2.6M144.49 802.35V809.71M143.19 802.35h2.6M143.19 809.71h2.6M153.88 807.05V814.35M152.58 807.05h2.6M152.58 814.35h2.6M163.27 811.48V816.67M161.97 811.48h2.6M161.97 816.67h2.6M78.75 766.21L81.57 766.22L84.39 766.23L87.2 766.24L90.02 766.27L92.84 766.31L95.66 766.36L98.47 766.45L101.29 766.59L104.11 766.8L106.93 767.12L109.74 767.6L112.56 768.31L115.38 769.37L118.2 770.9L121.01 773.06L123.83 775.96L126.65 779.68L129.46 784.13L132.28 789.02L135.1 793.95L137.92 798.5L140.73 802.35L143.55 805.39L146.37 807.67L149.19 809.29L152 810.42L154.82 811.19L157.64 811.7L160.46 812.04L163.27 812.26M78.75 756.78V776.44M77.45 756.78h2.6M77.45 776.44h2.6M88.14 755.92V772.59M86.84 755.92h2.6M86.84 772.59h2.6M97.53 761.92V773.38M96.23 761.92h2.6M96.23 773.38h2.6M106.93 761.42V774.94M105.63 761.42h2.6M105.63 774.94h2.6M116.32 765.84V776.2M115.02 765.84h2.6M115.02 776.2h2.6M125.71 770.24V784.15M124.41 770.24h2.6M124.41 784.15h2.6M135.1 788.63V801.08M133.8 788.63h2.6M133.8 801.08h2.6M144.49 804.19V810.81M143.19 804.19h2.6M143.19 810.81h2.6M153.88 809.09V815.91M152.58 809.09h2.6M152.58 815.91h2.6M163.27 808.34V812.89M161.97 808.34h2.6M161.97 812.89h2.6M78.75 765.01L81.57 765.05L84.39 765.1L87.2 765.17L90.02 765.26L92.84 765.39L95.66 765.57L98.47 765.82L101.29 766.15L104.11 766.61L106.93 767.23L109.74 768.06L112.56 769.14L115.38 770.55L118.2 772.34L121.01 774.55L123.83 777.17L126.65 780.16L129.46 783.43L132.28 786.81L135.1 790.13L137.92 793.22L140.73 795.98L143.55 798.32L146.37 800.24L149.19 801.77L152 802.95L154.82 803.86L157.64 804.54L160.46 805.04L163.27 805.41M78.75 754.29V773.49M77.45 754.29h2.6M77.45 773.49h2.6M88.14 759.84V772.5M86.84 759.84h2.6M86.84 772.5h2.6M97.53 756.02V775.56M96.23 756.02h2.6M96.23 775.56h2.6M106.93 760.59V776.9M105.63 760.59h2.6M105.63 776.9h2.6M116.32 764.04V777.29M115.02 764.04h2.6M115.02 777.29h2.6M125.71 770.8V786.75M124.41 770.8h2.6M124.41 786.75h2.6M135.1 785.14V797.71M133.8 785.14h2.6M133.8 797.71h2.6M144.49 794.78V804.47M143.19 794.78h2.6M143.19 804.47h2.6M153.88 799.23V804.69M152.58 799.23h2.6M152.58 804.69h2.6M163.27 798.84V808.73M161.97 798.84h2.6M161.97 808.73h2.6M78.75 757.61L81.57 757.64L84.39 757.68L87.2 757.73L90.02 757.82L92.84 757.94L95.66 758.13L98.47 758.4L101.29 758.8L104.11 759.38L106.93 760.22L109.74 761.43L112.56 763.12L115.38 765.44L118.2 768.52L121.01 772.42L123.83 777.09L126.65 782.33L129.46 787.78L132.28 793.02L135.1 797.71L137.92 801.62L140.73 804.71L143.55 807.04L146.37 808.75L149.19 809.96L152 810.81L154.82 811.39L157.64 811.79L160.46 812.07L163.27 812.25M78.75 753.89V763.14M77.45 753.89h2.6M77.45 763.14h2.6M88.14 748.92V770.07M86.84 748.92h2.6M86.84 770.07h2.6M97.53 750.31V770.67M96.23 750.31h2.6M96.23 770.67h2.6M106.93 752.7V770.86M105.63 752.7h2.6M105.63 770.86h2.6M116.32 762.98V773.38M115.02 762.98h2.6M115.02 773.38h2.6M125.71 775.77V783.68M124.41 775.77h2.6M124.41 783.68h2.6M135.1 792.97V803.89M133.8 792.97h2.6M133.8 803.89h2.6M144.49 802.48V810.93M143.19 802.48h2.6M143.19 810.93h2.6M153.88 807.25V810.91M152.58 807.25h2.6M152.58 810.91h2.6M163.27 810.3V816.58M161.97 810.3h2.6M161.97 816.58h2.6M78.75 767.94L81.57 767.94L84.39 767.94L87.2 767.95L90.02 767.96L92.84 767.97L95.66 767.99L98.47 768.03L101.29 768.07L104.11 768.15L106.93 768.26L109.74 768.43L112.56 768.69L115.38 769.07L118.2 769.64L121.01 770.48L123.83 771.7L126.65 773.41L129.46 775.73L132.28 778.73L135.1 782.39L137.92 786.51L140.73 790.78L143.55 794.84L146.37 798.38L149.19 801.26L152 803.47L154.82 805.08L157.64 806.22L160.46 807L163.27 807.53M78.75 762.6V771.59M77.45 762.6h2.6M77.45 771.59h2.6M88.14 762.35V773.52M86.84 762.35h2.6M86.84 773.52h2.6M97.53 763.51V773.14M96.23 763.51h2.6M96.23 773.14h2.6M106.93 760.69V780.12M105.63 760.69h2.6M105.63 780.12h2.6M116.32 760.93V779.18M115.02 760.93h2.6M115.02 779.18h2.6M125.71 768.03V780.91M124.41 768.03h2.6M124.41 780.91h2.6M135.1 778.81V789.22M133.8 778.81h2.6M133.8 789.22h2.6M144.49 792.74V802.31M143.19 792.74h2.6M143.19 802.31h2.6M153.88 802.26V810.09M152.58 802.26h2.6M152.58 810.09h2.6M163.27 805.4V809.66M161.97 805.4h2.6M161.97 809.66h2.6" stroke="#e10a14" stroke-width="1.05" fill="none"/>
<path d="M77.45 761.09h2.6v2.6h-2.6zM86.84 760.45h2.6v2.6h-2.6zM96.23 760.35h2.6v2.6h-2.6zM105.63 760.02h2.6v2.6h-2.6zM115.02 761.03h2.6v2.6h-2.6zM124.41 759.3h2.6v2.6h-2.6zM133.8 761.06h2.6v2.6h-2.6zM143.19 760.82h2.6v2.6h-2.6zM152.58 760.37h2.6v2.6h-2.6zM161.97 760.63h2.6v2.6h-2.6zM77.45 764.13h2.6v2.6h-2.6zM86.84 764.38h2.6v2.6h-2.6zM96.23 763.32h2.6v2.6h-2.6zM105.63 763.74h2.6v2.6h-2.6zM115.02 763.72h2.6v2.6h-2.6zM124.41 763.75h2.6v2.6h-2.6zM133.8 764.42h2.6v2.6h-2.6zM143.19 766.26h2.6v2.6h-2.6zM152.58 769.93h2.6v2.6h-2.6zM161.97 769.78h2.6v2.6h-2.6zM77.45 765.29h2.6v2.6h-2.6zM86.84 765.7h2.6v2.6h-2.6zM96.23 765.72h2.6v2.6h-2.6zM105.63 766.98h2.6v2.6h-2.6zM115.02 767.72h2.6v2.6h-2.6zM124.41 768.17h2.6v2.6h-2.6zM133.8 769.71h2.6v2.6h-2.6zM143.19 773.89h2.6v2.6h-2.6zM152.58 777.49h2.6v2.6h-2.6zM161.97 778.81h2.6v2.6h-2.6z" fill="#111111"/>
<path d="M77.45 747.9h2.6v2.6h-2.6zM86.84 747.39h2.6v2.6h-2.6zM96.23 746.47h2.6v2.6h-2.6zM105.63 748.98h2.6v2.6h-2.6zM115.02 748.65h2.6v2.6h-2.6zM124.41 752.67h2.6v2.6h-2.6zM133.8 759.32h2.6v2.6h-2.6zM143.19 765.31h2.6v2.6h-2.6zM152.58 770.03h2.6v2.6h-2.6zM161.97 769.48h2.6v2.6h-2.6zM77.45 753.38h2.6v2.6h-2.6zM86.84 751.25h2.6v2.6h-2.6zM96.23 753.79h2.6v2.6h-2.6zM105.63 754.17h2.6v2.6h-2.6zM115.02 755.15h2.6v2.6h-2.6zM124.41 758.49h2.6v2.6h-2.6zM133.8 766.44h2.6v2.6h-2.6zM143.19 775.35h2.6v2.6h-2.6zM152.58 782.88h2.6v2.6h-2.6zM161.97 784.79h2.6v2.6h-2.6zM77.45 758.47h2.6v2.6h-2.6zM86.84 757.95h2.6v2.6h-2.6zM96.23 757.03h2.6v2.6h-2.6zM105.63 759.38h2.6v2.6h-2.6zM115.02 758.61h2.6v2.6h-2.6zM124.41 761.98h2.6v2.6h-2.6zM133.8 766.77h2.6v2.6h-2.6zM143.19 774.4h2.6v2.6h-2.6zM152.58 782.11h2.6v2.6h-2.6zM161.97 783.67h2.6v2.6h-2.6zM77.45 759.32h2.6v2.6h-2.6zM86.84 760.76h2.6v2.6h-2.6zM96.23 759.87h2.6v2.6h-2.6zM105.63 760.52h2.6v2.6h-2.6zM115.02 763h2.6v2.6h-2.6zM124.41 765.13h2.6v2.6h-2.6zM133.8 770.35h2.6v2.6h-2.6zM143.19 776.88h2.6v2.6h-2.6zM152.58 777.32h2.6v2.6h-2.6zM161.97 779.55h2.6v2.6h-2.6z" fill="#0000ff"/>
<path d="M77.45 760.96h2.6v2.6h-2.6zM86.84 760.08h2.6v2.6h-2.6zM96.23 758.57h2.6v2.6h-2.6zM105.63 760.26h2.6v2.6h-2.6zM115.02 760.46h2.6v2.6h-2.6zM124.41 766.59h2.6v2.6h-2.6zM133.8 780.53h2.6v2.6h-2.6zM143.19 790.25h2.6v2.6h-2.6zM152.58 793.47h2.6v2.6h-2.6zM161.97 796.4h2.6v2.6h-2.6zM77.45 761.74h2.6v2.6h-2.6zM86.84 762.56h2.6v2.6h-2.6zM96.23 763.98h2.6v2.6h-2.6zM105.63 769.1h2.6v2.6h-2.6zM115.02 774.98h2.6v2.6h-2.6zM124.41 786.55h2.6v2.6h-2.6zM133.8 800.43h2.6v2.6h-2.6zM143.19 807.83h2.6v2.6h-2.6zM152.58 812.73h2.6v2.6h-2.6zM161.97 811.96h2.6v2.6h-2.6zM77.45 763h2.6v2.6h-2.6zM86.84 764.92h2.6v2.6h-2.6zM96.23 764.73h2.6v2.6h-2.6zM105.63 764.04h2.6v2.6h-2.6zM115.02 766.53h2.6v2.6h-2.6zM124.41 774.57h2.6v2.6h-2.6zM133.8 790.65h2.6v2.6h-2.6zM143.19 799.14h2.6v2.6h-2.6zM152.58 805.72h2.6v2.6h-2.6zM161.97 807.54h2.6v2.6h-2.6zM77.45 753.77h2.6v2.6h-2.6zM86.84 750.07h2.6v2.6h-2.6zM96.23 753.03h2.6v2.6h-2.6zM105.63 753.76h2.6v2.6h-2.6zM115.02 752.51h2.6v2.6h-2.6zM124.41 757.83h2.6v2.6h-2.6zM133.8 767.83h2.6v2.6h-2.6zM143.19 786.09h2.6v2.6h-2.6zM152.58 800.78h2.6v2.6h-2.6zM161.97 807.94h2.6v2.6h-2.6zM77.45 766.1h2.6v2.6h-2.6zM86.84 768.23h2.6v2.6h-2.6zM96.23 769.06h2.6v2.6h-2.6zM105.63 766.55h2.6v2.6h-2.6zM115.02 768.52h2.6v2.6h-2.6zM124.41 778.17h2.6v2.6h-2.6zM133.8 790.86h2.6v2.6h-2.6zM143.19 803.74h2.6v2.6h-2.6zM152.58 812.23h2.6v2.6h-2.6zM161.97 813.98h2.6v2.6h-2.6zM77.45 762.97h2.6v2.6h-2.6zM86.84 761.91h2.6v2.6h-2.6zM96.23 762.86h2.6v2.6h-2.6zM105.63 761.79h2.6v2.6h-2.6zM115.02 764.23h2.6v2.6h-2.6zM124.41 772.33h2.6v2.6h-2.6zM133.8 784.75h2.6v2.6h-2.6zM143.19 797.32h2.6v2.6h-2.6zM152.58 802.05h2.6v2.6h-2.6zM161.97 805.16h2.6v2.6h-2.6zM77.45 753.41h2.6v2.6h-2.6zM86.84 753.44h2.6v2.6h-2.6zM96.23 753.51h2.6v2.6h-2.6zM105.63 753.71h2.6v2.6h-2.6zM115.02 756.09h2.6v2.6h-2.6zM124.41 761.5h2.6v2.6h-2.6zM133.8 773.23h2.6v2.6h-2.6zM143.19 791.05h2.6v2.6h-2.6zM152.58 804.55h2.6v2.6h-2.6zM161.97 813.79h2.6v2.6h-2.6zM77.45 768.08h2.6v2.6h-2.6zM86.84 766.75h2.6v2.6h-2.6zM96.23 765.83h2.6v2.6h-2.6zM105.63 767.04h2.6v2.6h-2.6zM115.02 771.06h2.6v2.6h-2.6zM124.41 774.08h2.6v2.6h-2.6zM133.8 782.09h2.6v2.6h-2.6zM143.19 797.5h2.6v2.6h-2.6zM152.58 812.26h2.6v2.6h-2.6zM161.97 813.27h2.6v2.6h-2.6zM77.45 769.44h2.6v2.6h-2.6zM86.84 766.71h2.6v2.6h-2.6zM96.23 765.91h2.6v2.6h-2.6zM105.63 767.92h2.6v2.6h-2.6zM115.02 768.97h2.6v2.6h-2.6zM124.41 777.11h2.6v2.6h-2.6zM133.8 791.23h2.6v2.6h-2.6zM143.19 804.73h2.6v2.6h-2.6zM152.58 809.4h2.6v2.6h-2.6zM161.97 812.78h2.6v2.6h-2.6zM77.45 765.31h2.6v2.6h-2.6zM86.84 762.96h2.6v2.6h-2.6zM96.23 766.35h2.6v2.6h-2.6zM105.63 766.88h2.6v2.6h-2.6zM115.02 769.72h2.6v2.6h-2.6zM124.41 775.89h2.6v2.6h-2.6zM133.8 793.56h2.6v2.6h-2.6zM143.19 806.2h2.6v2.6h-2.6zM152.58 811.2h2.6v2.6h-2.6zM161.97 809.31h2.6v2.6h-2.6zM77.45 762.59h2.6v2.6h-2.6zM86.84 764.87h2.6v2.6h-2.6zM96.23 764.49h2.6v2.6h-2.6zM105.63 767.44h2.6v2.6h-2.6zM115.02 769.37h2.6v2.6h-2.6zM124.41 777.47h2.6v2.6h-2.6zM133.8 790.12h2.6v2.6h-2.6zM143.19 798.33h2.6v2.6h-2.6zM152.58 800.66h2.6v2.6h-2.6zM161.97 802.49h2.6v2.6h-2.6zM77.45 757.22h2.6v2.6h-2.6zM86.84 758.19h2.6v2.6h-2.6zM96.23 759.19h2.6v2.6h-2.6zM105.63 760.48h2.6v2.6h-2.6zM115.02 766.88h2.6v2.6h-2.6zM124.41 778.43h2.6v2.6h-2.6zM133.8 797.13h2.6v2.6h-2.6zM143.19 805.41h2.6v2.6h-2.6zM152.58 807.78h2.6v2.6h-2.6zM161.97 812.14h2.6v2.6h-2.6zM77.45 765.79h2.6v2.6h-2.6zM86.84 766.63h2.6v2.6h-2.6zM96.23 767.03h2.6v2.6h-2.6zM105.63 769.11h2.6v2.6h-2.6zM115.02 768.76h2.6v2.6h-2.6zM124.41 773.17h2.6v2.6h-2.6zM133.8 782.72h2.6v2.6h-2.6zM143.19 796.22h2.6v2.6h-2.6zM152.58 804.87h2.6v2.6h-2.6zM161.97 806.23h2.6v2.6h-2.6z" fill="#e10a14"/>
<path d="M60.5 735.05V820.3M56.5 819.6H60.5M56.5 791.65H60.5M56.5 763.7H60.5M56.5 735.75H60.5M59.8 819.6H186" stroke="#000" stroke-width="1.5" fill="none"/>
<path d="M60.5 819.6v3.6M76.1 819.6v3.6M91.7 819.6v3.6M107.3 819.6v3.6M122.9 819.6v3.6M138.5 819.6v3.6M154.1 819.6v3.6M169.7 819.6v3.6M185.3 819.6v3.6" stroke="#000" stroke-width="1.3" fill="none"/>
<path d="M65.2 819.6v2M67.94 819.6v2M69.89 819.6v2M71.4 819.6v2M72.64 819.6v2M73.68 819.6v2M74.59 819.6v2M75.39 819.6v2M80.8 819.6v2M83.54 819.6v2M85.49 819.6v2M87 819.6v2M88.24 819.6v2M89.28 819.6v2M90.19 819.6v2M90.99 819.6v2M96.4 819.6v2M99.14 819.6v2M101.09 819.6v2M102.6 819.6v2M103.84 819.6v2M104.88 819.6v2M105.79 819.6v2M106.59 819.6v2M112 819.6v2M114.74 819.6v2M116.69 819.6v2M118.2 819.6v2M119.44 819.6v2M120.48 819.6v2M121.39 819.6v2M122.19 819.6v2M127.6 819.6v2M130.34 819.6v2M132.29 819.6v2M133.8 819.6v2M135.04 819.6v2M136.08 819.6v2M136.99 819.6v2M137.79 819.6v2M143.2 819.6v2M145.94 819.6v2M147.89 819.6v2M149.4 819.6v2M150.64 819.6v2M151.68 819.6v2M152.59 819.6v2M153.39 819.6v2M158.8 819.6v2M161.54 819.6v2M163.49 819.6v2M165 819.6v2M166.24 819.6v2M167.28 819.6v2M168.19 819.6v2M168.99 819.6v2M174.4 819.6v2M177.14 819.6v2M179.09 819.6v2M180.6 819.6v2M181.84 819.6v2M182.88 819.6v2M183.79 819.6v2M184.59 819.6v2" stroke="#000" stroke-width="0.8" fill="none"/>
<text x="54.1" y="822.9" font-size="9.2" font-weight="bold" fill="#000" color="#000" text-anchor="end">0</text>
<text x="54.1" y="794.95" font-size="9.2" font-weight="bold" fill="#000" color="#000" text-anchor="end">50</text>
<text x="54.1" y="767" font-size="9.2" font-weight="bold" fill="#000" color="#000" text-anchor="end">100</text>
<text x="54.1" y="739.05" font-size="9.2" font-weight="bold" fill="#000" color="#000" text-anchor="end">150</text>
<text x="51.7" y="832.7" font-size="9" font-weight="bold">10<tspan font-size="6.9" dy="-2.7">−12</tspan></text>
<text x="82.9" y="832.7" font-size="9" font-weight="bold">10<tspan font-size="6.9" dy="-2.7">−10</tspan></text>
<text x="114.1" y="832.7" font-size="9" font-weight="bold">10<tspan font-size="6.9" dy="-2.7">−8</tspan></text>
<text x="145.3" y="832.7" font-size="9" font-weight="bold">10<tspan font-size="6.9" dy="-2.7">−6</tspan></text>
<text x="176.5" y="832.7" font-size="9" font-weight="bold">10<tspan font-size="6.9" dy="-2.7">−4</tspan></text>
<line x1="61.5" y1="791.65" x2="185.3" y2="791.65" stroke="#000" stroke-width="0.9" stroke-dasharray="1.2,1.6"/>
<path d="M232.95 768.17L235.77 768.17L238.59 768.17L241.4 768.17L244.22 768.17L247.04 768.17L249.86 768.17L252.67 768.17L255.49 768.17L258.31 768.17L261.13 768.17L263.94 768.17L266.76 768.17L269.58 768.17L272.4 768.17L275.21 768.18L278.03 768.18L280.85 768.18L283.66 768.19L286.48 768.19L289.3 768.2L292.12 768.22L294.93 768.24L297.75 768.27L300.57 768.31L303.39 768.35L306.2 768.41L309.02 768.47L311.84 768.52L314.66 768.57L317.47 768.62M232.95 764.95V772.04M231.65 764.95h2.6M231.65 772.04h2.6M242.34 764.06V770.41M241.04 764.06h2.6M241.04 770.41h2.6M251.73 763.91V773.71M250.43 763.91h2.6M250.43 773.71h2.6M261.13 763.01V771.62M259.83 763.01h2.6M259.83 771.62h2.6M270.52 766.08V771.29M269.22 766.08h2.6M269.22 771.29h2.6M279.91 766.42V770.99M278.61 766.42h2.6M278.61 770.99h2.6M289.3 765.68V772.77M288 765.68h2.6M288 772.77h2.6M298.69 764.76V772.21M297.39 764.76h2.6M297.39 772.21h2.6M308.08 766.64V770.87M306.78 766.64h2.6M306.78 770.87h2.6M317.47 764.17V772.22M316.17 764.17h2.6M316.17 772.22h2.6M232.95 766.5L235.77 766.5L238.59 766.5L241.4 766.5L244.22 766.5L247.04 766.5L249.86 766.5L252.67 766.5L255.49 766.5L258.31 766.51L261.13 766.51L263.94 766.52L266.76 766.53L269.58 766.55L272.4 766.57L275.21 766.61L278.03 766.67L280.85 766.74L283.66 766.84L286.48 766.97L289.3 767.13L292.12 767.3L294.93 767.47L297.75 767.63L300.57 767.77L303.39 767.88L306.2 767.97L309.02 768.03L311.84 768.08L314.66 768.11L317.47 768.13M232.95 762.59V770.21M231.65 762.59h2.6M231.65 770.21h2.6M242.34 760.93V771.21M241.04 760.93h2.6M241.04 771.21h2.6M251.73 761.3V770.03M250.43 761.3h2.6M250.43 770.03h2.6M261.13 763.64V769.84M259.83 763.64h2.6M259.83 769.84h2.6M270.52 761.67V771.8M269.22 761.67h2.6M269.22 771.8h2.6M279.91 763.68V770.26M278.61 763.68h2.6M278.61 770.26h2.6M289.3 764.78V769.88M288 764.78h2.6M288 769.88h2.6M298.69 764.4V768.73M297.39 764.4h2.6M297.39 768.73h2.6M308.08 762.92V772.63M306.78 762.92h2.6M306.78 772.63h2.6M317.47 764.81V772.55M316.17 764.81h2.6M316.17 772.55h2.6M232.95 770.41L235.77 770.41L238.59 770.41L241.4 770.41L244.22 770.41L247.04 770.41L249.86 770.41L252.67 770.41L255.49 770.41L258.31 770.41L261.13 770.42L263.94 770.42L266.76 770.43L269.58 770.44L272.4 770.46L275.21 770.49L278.03 770.52L280.85 770.57L283.66 770.64L286.48 770.73L289.3 770.83L292.12 770.94L294.93 771.06L297.75 771.17L300.57 771.26L303.39 771.33L306.2 771.39L309.02 771.43L311.84 771.46L314.66 771.48L317.47 771.5M232.95 767.97V773.39M231.65 767.97h2.6M231.65 773.39h2.6M242.34 768.74V773.43M241.04 768.74h2.6M241.04 773.43h2.6M251.73 765.33V773.96M250.43 765.33h2.6M250.43 773.96h2.6M261.13 767.3V771.71M259.83 767.3h2.6M259.83 771.71h2.6M270.52 767.04V772.99M269.22 767.04h2.6M269.22 772.99h2.6M279.91 766.62V773.84M278.61 766.62h2.6M278.61 773.84h2.6M289.3 766.5V775.99M288 766.5h2.6M288 775.99h2.6M298.69 768.27V776.36M297.39 768.27h2.6M297.39 776.36h2.6M308.08 767.15V774.11M306.78 767.15h2.6M306.78 774.11h2.6M317.47 766.49V776.1M316.17 766.49h2.6M316.17 776.1h2.6" stroke="#111111" stroke-width="1.05" fill="none"/>
<path d="M232.95 752.53L235.77 752.54L238.59 752.55L241.4 752.57L244.22 752.59L247.04 752.63L249.86 752.68L252.67 752.77L255.49 752.89L258.31 753.08L261.13 753.36L263.94 753.78L266.76 754.4L269.58 755.3L272.4 756.57L275.21 758.32L278.03 760.65L280.85 763.56L283.66 766.99L286.48 770.72L289.3 774.44L292.12 777.86L294.93 780.77L297.75 783.08L300.57 784.83L303.39 786.09L306.2 786.99L309.02 787.6L311.84 788.02L314.66 788.3L317.47 788.49M232.95 758.16L235.77 758.48L238.59 760.77L241.4 769.45L244.22 777.26L247.04 779.07L249.86 779.32L252.67 779.35L255.49 779.35L258.31 779.35L261.13 779.35L263.94 779.35L266.76 779.35L269.58 779.35L272.4 779.35L275.21 779.35L278.03 779.35L280.85 779.35L283.66 779.35L286.48 779.35L289.3 779.35L292.12 779.35L294.93 779.35L297.75 779.35L300.57 779.35L303.39 779.35L306.2 779.35L309.02 779.35L311.84 779.35L314.66 779.35L317.47 779.35M232.95 755.74V762.44M231.65 755.74h2.6M231.65 762.44h2.6M242.34 767.11V775.82M241.04 767.11h2.6M241.04 775.82h2.6M251.73 775.42V783.11M250.43 775.42h2.6M250.43 783.11h2.6M261.13 775.3V781.3M259.83 775.3h2.6M259.83 781.3h2.6M270.52 775.79V785.11M269.22 775.79h2.6M269.22 785.11h2.6M279.91 775.31V783.66M278.61 775.31h2.6M278.61 783.66h2.6M289.3 773.19V783.32M288 773.19h2.6M288 783.32h2.6M298.69 775.73V780.51M297.39 775.73h2.6M297.39 780.51h2.6M308.08 775V784.5M306.78 775h2.6M306.78 784.5h2.6M317.47 775.65V780.92M316.17 775.65h2.6M316.17 780.92h2.6M232.95 755.32L235.77 755.32L238.59 755.32L241.4 755.32L244.22 755.33L247.04 755.34L249.86 755.35L252.67 755.37L255.49 755.41L258.31 755.46L261.13 755.56L263.94 755.71L266.76 755.96L269.58 756.36L272.4 756.97L275.21 757.87L278.03 759.15L280.85 760.81L283.66 762.79L286.48 764.87L289.3 766.81L292.12 768.43L294.93 769.66L297.75 770.52L300.57 771.1L303.39 771.47L306.2 771.71L309.02 771.85L311.84 771.94L314.66 772L317.47 772.03M232.95 751.94V761.01M231.65 751.94h2.6M231.65 761.01h2.6M242.34 751.63V761.68M241.04 751.63h2.6M241.04 761.68h2.6M251.73 748.54V760.15M250.43 748.54h2.6M250.43 760.15h2.6M261.13 751.95V759.49M259.83 751.95h2.6M259.83 759.49h2.6M270.52 748.85V764.92M269.22 748.85h2.6M269.22 764.92h2.6M279.91 754.1V765.03M278.61 754.1h2.6M278.61 765.03h2.6M289.3 760.08V773.68M288 760.08h2.6M288 773.68h2.6M298.69 766.15V773.6M297.39 766.15h2.6M297.39 773.6h2.6M308.08 766.64V775.77M306.78 766.64h2.6M306.78 775.77h2.6M317.47 767.99V775.94M316.17 767.99h2.6M316.17 775.94h2.6M232.95 763.7L235.77 763.7L238.59 763.7L241.4 763.7L244.22 763.7L247.04 763.7L249.86 763.7L252.67 763.71L255.49 763.71L258.31 763.72L261.13 763.72L263.94 763.74L266.76 763.77L269.58 763.81L272.4 763.88L275.21 763.99L278.03 764.16L280.85 764.43L283.66 764.83L286.48 765.37L289.3 766.07L292.12 766.88L294.93 767.71L297.75 768.46L300.57 769.07L303.39 769.53L306.2 769.85L309.02 770.06L311.84 770.19L314.66 770.27L317.47 770.33" stroke="#0000ff" stroke-width="1.05" fill="none"/>
<path d="M232.95 747.11V759.73M231.65 747.11h2.6M231.65 759.73h2.6M242.34 746.63V756.89M241.04 746.63h2.6M241.04 756.89h2.6M251.73 746.82V757.22M250.43 746.82h2.6M250.43 757.22h2.6M261.13 747.04V759.51M259.83 747.04h2.6M259.83 759.51h2.6M270.52 750.21V759.95M269.22 750.21h2.6M269.22 759.95h2.6M279.91 756.19V768M278.61 756.19h2.6M278.61 768h2.6M289.3 770.11V780.62M288 770.11h2.6M288 780.62h2.6M298.69 779.02V790.01M297.39 779.02h2.6M297.39 790.01h2.6M308.08 782.92V792.1M306.78 782.92h2.6M306.78 792.1h2.6M317.47 784.67V792.15M316.17 784.67h2.6M316.17 792.15h2.6M232.95 759.21V769.06M231.65 759.21h2.6M231.65 769.06h2.6M242.34 760.68V767.52M241.04 760.68h2.6M241.04 767.52h2.6M251.73 758.76V770.66M250.43 758.76h2.6M250.43 770.66h2.6M261.13 761.1V769.32M259.83 761.1h2.6M259.83 769.32h2.6M270.52 758.45V767.74M269.22 758.45h2.6M269.22 767.74h2.6M279.91 760.5V769.34M278.61 760.5h2.6M278.61 769.34h2.6M289.3 761.23V768.67M288 761.23h2.6M288 768.67h2.6M298.69 761.29V775.17M297.39 761.29h2.6M297.39 775.17h2.6M308.08 766.18V775.81M306.78 766.18h2.6M306.78 775.81h2.6M317.47 763.56V775.13M316.17 763.56h2.6M316.17 775.13h2.6" stroke="#9a3cf0" stroke-width="1.05" fill="none"/>
<path d="M232.95 757L235.77 757.01L238.59 757.02L241.4 757.03L244.22 757.05L247.04 757.08L249.86 757.13L252.67 757.19L255.49 757.3L258.31 757.45L261.13 757.69L263.94 758.03L266.76 758.55L269.58 759.3L272.4 760.39L275.21 761.91L278.03 763.97L280.85 766.64L283.66 769.9L286.48 773.6L289.3 777.48L292.12 781.21L294.93 784.52L297.75 787.25L300.57 789.37L303.39 790.93L306.2 792.05L309.02 792.83L311.84 793.36L314.66 793.72L317.47 793.97M232.95 753.87V760.99M231.65 753.87h2.6M231.65 760.99h2.6M242.34 752.15V762.31M241.04 752.15h2.6M241.04 762.31h2.6M251.73 751.71V761.2M250.43 751.71h2.6M250.43 761.2h2.6M261.13 751.6V764.39M259.83 751.6h2.6M259.83 764.39h2.6M270.52 753.57V763.59M269.22 753.57h2.6M269.22 763.59h2.6M279.91 760.18V771.94M278.61 760.18h2.6M278.61 771.94h2.6M289.3 772.51V779.6M288 772.51h2.6M288 779.6h2.6M298.69 781.79V791.09M297.39 781.79h2.6M297.39 791.09h2.6M308.08 789.1V796.96M306.78 789.1h2.6M306.78 796.96h2.6M317.47 792.38V796.7M316.17 792.38h2.6M316.17 796.7h2.6M232.95 760.57L235.77 760.59L238.59 760.63L241.4 760.68L244.22 760.76L247.04 760.86L249.86 761.02L252.67 761.25L255.49 761.57L258.31 762.04L261.13 762.69L263.94 763.62L266.76 764.91L269.58 766.67L272.4 769.01L275.21 772.02L278.03 775.73L280.85 780.08L283.66 784.87L286.48 789.81L289.3 794.57L292.12 798.86L294.93 802.49L297.75 805.43L300.57 807.7L303.39 809.4L306.2 810.64L309.02 811.54L311.84 812.17L314.66 812.62L317.47 812.93M232.95 753.43V765.42M231.65 753.43h2.6M231.65 765.42h2.6M242.34 753.95V767.22M241.04 753.95h2.6M241.04 767.22h2.6M251.73 751.31V767.43M250.43 751.31h2.6M250.43 767.43h2.6M261.13 757.76V771.87M259.83 757.76h2.6M259.83 771.87h2.6M270.52 761.44V773.66M269.22 761.44h2.6M269.22 773.66h2.6M279.91 771.97V782.13M278.61 771.97h2.6M278.61 782.13h2.6M289.3 789.55V799.82M288 789.55h2.6M288 799.82h2.6M298.69 803.71V809.33M297.39 803.71h2.6M297.39 809.33h2.6M308.08 808.17V814.28M306.78 808.17h2.6M306.78 814.28h2.6M317.47 809.38V814.96M316.17 809.38h2.6M316.17 814.96h2.6M232.95 756.96L235.77 757L238.59 757.06L241.4 757.13L244.22 757.23L247.04 757.36L249.86 757.53L252.67 757.76L255.49 758.07L258.31 758.48L261.13 759.02L263.94 759.74L266.76 760.67L269.58 761.89L272.4 763.44L275.21 765.39L278.03 767.81L280.85 770.74L283.66 774.17L286.48 778.08L289.3 782.36L292.12 786.85L294.93 791.37L297.75 795.73L300.57 799.75L303.39 803.33L306.2 806.4L309.02 808.97L311.84 811.05L314.66 812.71L317.47 814.01M232.95 753.27V761.54M231.65 753.27h2.6M231.65 761.54h2.6M242.34 749.41V763.3M241.04 749.41h2.6M241.04 763.3h2.6M251.73 748.34V764.6M250.43 748.34h2.6M250.43 764.6h2.6M261.13 755.61V765.85M259.83 755.61h2.6M259.83 765.85h2.6M270.52 755.92V772.58M269.22 755.92h2.6M269.22 772.58h2.6M279.91 767.55V775.42M278.61 767.55h2.6M278.61 775.42h2.6M289.3 775.87V786.58M288 775.87h2.6M288 786.58h2.6M298.69 795.09V803.12M297.39 795.09h2.6M297.39 803.12h2.6M308.08 804.5V809.95M306.78 804.5h2.6M306.78 809.95h2.6M317.47 813.71V818.3M316.17 813.71h2.6M316.17 818.3h2.6M232.95 766.42L235.77 766.43L238.59 766.43L241.4 766.45L244.22 766.46L247.04 766.49L249.86 766.53L252.67 766.59L255.49 766.67L258.31 766.8L261.13 766.98L263.94 767.26L266.76 767.65L269.58 768.24L272.4 769.07L275.21 770.26L278.03 771.92L280.85 774.16L283.66 777.1L286.48 780.76L289.3 785.06L292.12 789.77L294.93 794.56L297.75 799.07L300.57 803.02L303.39 806.26L306.2 808.8L309.02 810.69L311.84 812.06L314.66 813.04L317.47 813.72M232.95 759.97V773.61M231.65 759.97h2.6M231.65 773.61h2.6M242.34 755.89V772.55M241.04 755.89h2.6M241.04 772.55h2.6M251.73 760.27V769.54M250.43 760.27h2.6M250.43 769.54h2.6M261.13 761.34V774.11M259.83 761.34h2.6M259.83 774.11h2.6M270.52 762.24V779.15M269.22 762.24h2.6M269.22 779.15h2.6M279.91 769.77V778.94M278.61 769.77h2.6M278.61 778.94h2.6M289.3 782.16V789.62M288 782.16h2.6M288 789.62h2.6M298.69 795.18V802.53M297.39 795.18h2.6M297.39 802.53h2.6M308.08 807.73V812.42M306.78 807.73h2.6M306.78 812.42h2.6M317.47 814.04V817.41M316.17 814.04h2.6M316.17 817.41h2.6M232.95 764.04L235.77 764.06L238.59 764.09L241.4 764.14L244.22 764.21L247.04 764.31L249.86 764.46L252.67 764.67L255.49 764.99L258.31 765.45L261.13 766.1L263.94 767.02L266.76 768.3L269.58 770.04L272.4 772.31L275.21 775.17L278.03 778.56L280.85 782.35L283.66 786.28L286.48 790.08L289.3 793.49L292.12 796.36L294.93 798.66L297.75 800.41L300.57 801.71L303.39 802.64L306.2 803.3L309.02 803.76L311.84 804.08L314.66 804.3L317.47 804.45M232.95 754.09V770.7M231.65 754.09h2.6M231.65 770.7h2.6M242.34 757.24V767.88M241.04 757.24h2.6M241.04 767.88h2.6M251.73 761.85V770M250.43 761.85h2.6M250.43 770h2.6M261.13 760.15V771.72M259.83 760.15h2.6M259.83 771.72h2.6M270.52 764.94V776.85M269.22 764.94h2.6M269.22 776.85h2.6M279.91 776.11V785.25M278.61 776.11h2.6M278.61 785.25h2.6M289.3 789.04V795.24M288 789.04h2.6M288 795.24h2.6M298.69 795.35V802.68M297.39 795.35h2.6M297.39 802.68h2.6M308.08 803.17V808.1M306.78 803.17h2.6M306.78 808.1h2.6M317.47 801.5V807.11M316.17 801.5h2.6M316.17 807.11h2.6M232.95 761.87L235.77 761.87L238.59 761.88L241.4 761.89L244.22 761.9L247.04 761.93L249.86 761.96L252.67 762.01L255.49 762.09L258.31 762.21L261.13 762.4L263.94 762.68L266.76 763.1L269.58 763.72L272.4 764.65L275.21 765.99L278.03 767.89L280.85 770.47L283.66 773.83L286.48 777.91L289.3 782.52L292.12 787.3L294.93 791.82L297.75 795.77L300.57 798.95L303.39 801.38L306.2 803.15L309.02 804.39L311.84 805.24L314.66 805.82L317.47 806.2M232.95 755.89V767.26M231.65 755.89h2.6M231.65 767.26h2.6M242.34 754.63V771.18M241.04 754.63h2.6M241.04 771.18h2.6M251.73 755.12V770.73M250.43 755.12h2.6M250.43 770.73h2.6M261.13 753.89V768.2M259.83 753.89h2.6M259.83 768.2h2.6M270.52 755.22V773.17M269.22 755.22h2.6M269.22 773.17h2.6M279.91 761.76V777.79M278.61 761.76h2.6M278.61 777.79h2.6M289.3 779.97V789.04M288 779.97h2.6M288 789.04h2.6M298.69 793.94V798.64M297.39 793.94h2.6M297.39 798.64h2.6M308.08 800.33V804.47M306.78 800.33h2.6M306.78 804.47h2.6M317.47 803.64V807.91M316.17 803.64h2.6M316.17 807.91h2.6M232.95 764.44L235.77 764.45L238.59 764.46L241.4 764.49L244.22 764.53L247.04 764.6L249.86 764.7L252.67 764.87L255.49 765.13L258.31 765.54L261.13 766.18L263.94 767.17L266.76 768.66L269.58 770.86L272.4 773.95L275.21 778.06L278.03 783.12L280.85 788.79L283.66 794.5L286.48 799.69L289.3 803.97L292.12 807.23L294.93 809.56L297.75 811.16L300.57 812.22L303.39 812.91L306.2 813.36L309.02 813.64L311.84 813.82L314.66 813.93L317.47 814M232.95 755.56V769.53M231.65 755.56h2.6M231.65 769.53h2.6M242.34 756.51V769.8M241.04 756.51h2.6M241.04 769.8h2.6M251.73 756.45V771.6M250.43 756.45h2.6M250.43 771.6h2.6M261.13 762.26V771.94M259.83 762.26h2.6M259.83 771.94h2.6M270.52 765.97V774.57M269.22 765.97h2.6M269.22 774.57h2.6M279.91 781.39V788.6M278.61 781.39h2.6M278.61 788.6h2.6M289.3 803.82V807.69M288 803.82h2.6M288 807.69h2.6M298.69 806.88V813.71M297.39 806.88h2.6M297.39 813.71h2.6M308.08 811.49V816.39M306.78 811.49h2.6M306.78 816.39h2.6M317.47 812.33V817.84M316.17 812.33h2.6M316.17 817.84h2.6M232.95 760.1L235.77 760.13L238.59 760.18L241.4 760.25L244.22 760.34L247.04 760.48L249.86 760.69L252.67 760.99L255.49 761.41L258.31 762.03L261.13 762.9L263.94 764.12L266.76 765.78L269.58 768.01L272.4 770.87L275.21 774.38L278.03 778.45L280.85 782.87L283.66 787.34L286.48 791.55L289.3 795.25L292.12 798.33L294.93 800.75L297.75 802.59L300.57 803.94L303.39 804.91L306.2 805.6L309.02 806.09L311.84 806.42L314.66 806.65L317.47 806.81M232.95 754.51V764.03M231.65 754.51h2.6M231.65 764.03h2.6M242.34 754.53V769.98M241.04 754.53h2.6M241.04 769.98h2.6M251.73 754.43V771.42M250.43 754.43h2.6M250.43 771.42h2.6M261.13 758.64V769M259.83 758.64h2.6M259.83 769h2.6M270.52 763.23V773.81M269.22 763.23h2.6M269.22 773.81h2.6M279.91 777.45V784.75M278.61 777.45h2.6M278.61 784.75h2.6M289.3 789.99V796.83M288 789.99h2.6M288 796.83h2.6M298.69 799.23V803.9M297.39 799.23h2.6M297.39 803.9h2.6M308.08 800.42V808.79M306.78 800.42h2.6M306.78 808.79h2.6M317.47 805.6V809M316.17 805.6h2.6M316.17 809h2.6M232.95 758.55L235.77 758.59L238.59 758.64L241.4 758.71L244.22 758.82L247.04 758.99L249.86 759.22L252.67 759.56L255.49 760.06L258.31 760.77L261.13 761.78L263.94 763.2L266.76 765.14L269.58 767.72L272.4 771.02L275.21 775.04L278.03 779.65L280.85 784.57L283.66 789.47L286.48 794L289.3 797.91L292.12 801.1L294.93 803.57L297.75 805.42L300.57 806.77L303.39 807.73L306.2 808.4L309.02 808.87L311.84 809.19L314.66 809.41L317.47 809.56M232.95 751.67V766.51M231.65 751.67h2.6M231.65 766.51h2.6M242.34 753.08V766.89M241.04 753.08h2.6M241.04 766.89h2.6M251.73 754.79V767.71M250.43 754.79h2.6M250.43 767.71h2.6M261.13 754.49V767.03M259.83 754.49h2.6M259.83 767.03h2.6M270.52 763.66V772.22M269.22 763.66h2.6M269.22 772.22h2.6M279.91 777.96V784.94M278.61 777.96h2.6M278.61 784.94h2.6M289.3 790.71V801.33M288 790.71h2.6M288 801.33h2.6M298.69 800.83V807.08M297.39 800.83h2.6M297.39 807.08h2.6M308.08 807.44V811.9M306.78 807.44h2.6M306.78 811.9h2.6M317.47 805.79V811.1M316.17 805.79h2.6M316.17 811.1h2.6M232.95 757.05L235.77 757.1L238.59 757.18L241.4 757.29L244.22 757.45L247.04 757.67L249.86 757.98L252.67 758.42L255.49 759.04L258.31 759.89L261.13 761.07L263.94 762.65L266.76 764.76L269.58 767.49L272.4 770.91L275.21 775.01L278.03 779.71L280.85 784.79L283.66 789.96L286.48 794.91L289.3 799.37L292.12 803.18L294.93 806.3L297.75 808.75L300.57 810.62L303.39 812.02L306.2 813.04L309.02 813.78L311.84 814.31L314.66 814.69L317.47 814.96M232.95 750.71V759.55M231.65 750.71h2.6M231.65 759.55h2.6M242.34 748.76V766.05M241.04 748.76h2.6M241.04 766.05h2.6M251.73 750.95V764.7M250.43 750.95h2.6M250.43 764.7h2.6M261.13 758.23V767.58M259.83 758.23h2.6M259.83 767.58h2.6M270.52 761.46V777.68M269.22 761.46h2.6M269.22 777.68h2.6M279.91 777.6V785.45M278.61 777.6h2.6M278.61 785.45h2.6M289.3 795.23V799.71M288 795.23h2.6M288 799.71h2.6M298.69 805.38V812.6M297.39 805.38h2.6M297.39 812.6h2.6M308.08 811.33V817.18M306.78 811.33h2.6M306.78 817.18h2.6M317.47 812.92V815.61M316.17 812.92h2.6M316.17 815.61h2.6M232.95 759.65L235.77 759.72L238.59 759.81L241.4 759.94L244.22 760.12L247.04 760.37L249.86 760.7L252.67 761.16L255.49 761.78L258.31 762.6L261.13 763.69L263.94 765.11L266.76 766.91L269.58 769.16L272.4 771.86L275.21 775L278.03 778.48L280.85 782.16L283.66 785.86L286.48 789.38L289.3 792.58L292.12 795.36L294.93 797.67L297.75 799.55L300.57 801.02L303.39 802.16L306.2 803.02L309.02 803.67L311.84 804.15L314.66 804.5L317.47 804.76M232.95 754.02V766.77M231.65 754.02h2.6M231.65 766.77h2.6M242.34 753.15V769.1M241.04 753.15h2.6M241.04 769.1h2.6M251.73 754.2V770.66M250.43 754.2h2.6M250.43 770.66h2.6M261.13 760.35V768.83M259.83 760.35h2.6M259.83 768.83h2.6M270.52 765.67V773.82M269.22 765.67h2.6M269.22 773.82h2.6M279.91 774.34V787.05M278.61 774.34h2.6M278.61 787.05h2.6M289.3 788.17V796.13M288 788.17h2.6M288 796.13h2.6M298.69 798.91V805.42M297.39 798.91h2.6M297.39 805.42h2.6M308.08 801.98V808.57M306.78 801.98h2.6M306.78 808.57h2.6M317.47 803.38V809.43M316.17 803.38h2.6M316.17 809.43h2.6M232.95 765.93L235.77 765.96L238.59 766.02L241.4 766.09L244.22 766.19L247.04 766.32L249.86 766.5L252.67 766.76L255.49 767.11L258.31 767.58L261.13 768.21L263.94 769.07L266.76 770.19L269.58 771.67L272.4 773.54L275.21 775.89L278.03 778.71L280.85 782L283.66 785.65L286.48 789.53L289.3 793.42L292.12 797.14L294.93 800.52L297.75 803.46L300.57 805.91L303.39 807.89L306.2 809.45L309.02 810.66L311.84 811.57L314.66 812.25L317.47 812.75M232.95 760.85V772.32M231.65 760.85h2.6M231.65 772.32h2.6M242.34 760.68V770.09M241.04 760.68h2.6M241.04 770.09h2.6M251.73 759.61V776.67M250.43 759.61h2.6M250.43 776.67h2.6M261.13 761.04V776.89M259.83 761.04h2.6M259.83 776.89h2.6M270.52 764.63V776.51M269.22 764.63h2.6M269.22 776.51h2.6M279.91 779.11V785.74M278.61 779.11h2.6M278.61 785.74h2.6M289.3 788.88V794.57M288 788.88h2.6M288 794.57h2.6M298.69 801.23V807.46M297.39 801.23h2.6M297.39 807.46h2.6M308.08 809.72V814.28M306.78 809.72h2.6M306.78 814.28h2.6M317.47 812.05V816.46M316.17 812.05h2.6M316.17 816.46h2.6M232.95 764.71L235.77 764.71L238.59 764.71L241.4 764.72L244.22 764.73L247.04 764.74L249.86 764.76L252.67 764.78L255.49 764.83L258.31 764.9L261.13 765L263.94 765.17L266.76 765.43L269.58 765.82L272.4 766.42L275.21 767.32L278.03 768.67L280.85 770.62L283.66 773.37L286.48 777.04L289.3 781.66L292.12 787.02L294.93 792.72L297.75 798.21L300.57 803.04L303.39 806.95L306.2 809.91L309.02 812.04L311.84 813.52L314.66 814.52L317.47 815.19M232.95 758.83V770.52M231.65 758.83h2.6M231.65 770.52h2.6M242.34 760.14V772M241.04 760.14h2.6M241.04 772h2.6M251.73 761.64V770.56M250.43 761.64h2.6M250.43 770.56h2.6M261.13 757.77V774.57M259.83 757.77h2.6M259.83 774.57h2.6M270.52 757.46V774.51M269.22 757.46h2.6M269.22 774.51h2.6M279.91 764V780.12M278.61 764h2.6M278.61 780.12h2.6M289.3 775.45V787.96M288 775.45h2.6M288 787.96h2.6M298.69 795.61V803.58M297.39 795.61h2.6M297.39 803.58h2.6M308.08 809.87V815.38M306.78 809.87h2.6M306.78 815.38h2.6M317.47 815.19V818.28M316.17 815.19h2.6M316.17 818.28h2.6" stroke="#e10a14" stroke-width="1.05" fill="none"/>
<path d="M231.65 767.2h2.6v2.6h-2.6zM241.04 765.94h2.6v2.6h-2.6zM250.43 767.51h2.6v2.6h-2.6zM259.83 766.02h2.6v2.6h-2.6zM269.22 767.38h2.6v2.6h-2.6zM278.61 767.41h2.6v2.6h-2.6zM288 767.93h2.6v2.6h-2.6zM297.39 767.19h2.6v2.6h-2.6zM306.78 767.45h2.6v2.6h-2.6zM316.17 766.9h2.6v2.6h-2.6zM231.65 765.1h2.6v2.6h-2.6zM241.04 764.77h2.6v2.6h-2.6zM250.43 764.36h2.6v2.6h-2.6zM259.83 765.44h2.6v2.6h-2.6zM269.22 765.44h2.6v2.6h-2.6zM278.61 765.67h2.6v2.6h-2.6zM288 766.03h2.6v2.6h-2.6zM297.39 765.27h2.6v2.6h-2.6zM306.78 766.47h2.6v2.6h-2.6zM316.17 767.38h2.6v2.6h-2.6zM231.65 769.38h2.6v2.6h-2.6zM241.04 769.78h2.6v2.6h-2.6zM250.43 768.34h2.6v2.6h-2.6zM259.83 768.21h2.6v2.6h-2.6zM269.22 768.71h2.6v2.6h-2.6zM278.61 768.93h2.6v2.6h-2.6zM288 769.94h2.6v2.6h-2.6zM297.39 771.02h2.6v2.6h-2.6zM306.78 769.33h2.6v2.6h-2.6zM316.17 769.99h2.6v2.6h-2.6z" fill="#111111"/>
<path d="M231.65 752.12h2.6v2.6h-2.6zM241.04 750.46h2.6v2.6h-2.6zM250.43 750.72h2.6v2.6h-2.6zM259.83 751.98h2.6v2.6h-2.6zM269.22 753.78h2.6v2.6h-2.6zM278.61 760.8h2.6v2.6h-2.6zM288 774.07h2.6v2.6h-2.6zM297.39 783.21h2.6v2.6h-2.6zM306.78 786.21h2.6v2.6h-2.6zM316.17 787.11h2.6v2.6h-2.6zM231.65 757.79h2.6v2.6h-2.6zM241.04 770.16h2.6v2.6h-2.6zM250.43 777.96h2.6v2.6h-2.6zM259.83 777h2.6v2.6h-2.6zM269.22 779.15h2.6v2.6h-2.6zM278.61 778.19h2.6v2.6h-2.6zM288 776.95h2.6v2.6h-2.6zM297.39 776.82h2.6v2.6h-2.6zM306.78 778.45h2.6v2.6h-2.6zM316.17 776.99h2.6v2.6h-2.6zM231.65 755.18h2.6v2.6h-2.6zM241.04 755.36h2.6v2.6h-2.6zM250.43 753.05h2.6v2.6h-2.6zM259.83 754.42h2.6v2.6h-2.6zM269.22 755.58h2.6v2.6h-2.6zM278.61 758.26h2.6v2.6h-2.6zM288 765.58h2.6v2.6h-2.6zM297.39 768.58h2.6v2.6h-2.6zM306.78 769.91h2.6v2.6h-2.6zM316.17 770.66h2.6v2.6h-2.6zM231.65 762.83h2.6v2.6h-2.6zM241.04 762.8h2.6v2.6h-2.6zM250.43 763.41h2.6v2.6h-2.6zM259.83 763.91h2.6v2.6h-2.6zM269.22 761.8h2.6v2.6h-2.6zM278.61 763.62h2.6v2.6h-2.6zM288 763.65h2.6v2.6h-2.6zM297.39 766.93h2.6v2.6h-2.6zM306.78 769.7h2.6v2.6h-2.6zM316.17 768.05h2.6v2.6h-2.6z" fill="#0000ff"/>
<path d="M231.65 756.13h2.6v2.6h-2.6zM241.04 755.93h2.6v2.6h-2.6zM250.43 755.16h2.6v2.6h-2.6zM259.83 756.69h2.6v2.6h-2.6zM269.22 757.28h2.6v2.6h-2.6zM278.61 764.76h2.6v2.6h-2.6zM288 774.76h2.6v2.6h-2.6zM297.39 785.14h2.6v2.6h-2.6zM306.78 791.73h2.6v2.6h-2.6zM316.17 793.24h2.6v2.6h-2.6zM231.65 758.12h2.6v2.6h-2.6zM241.04 759.29h2.6v2.6h-2.6zM250.43 758.07h2.6v2.6h-2.6zM259.83 763.52h2.6v2.6h-2.6zM269.22 766.25h2.6v2.6h-2.6zM278.61 775.75h2.6v2.6h-2.6zM288 793.39h2.6v2.6h-2.6zM297.39 805.22h2.6v2.6h-2.6zM306.78 809.92h2.6v2.6h-2.6zM316.17 810.87h2.6v2.6h-2.6zM231.65 756.1h2.6v2.6h-2.6zM241.04 755.05h2.6v2.6h-2.6zM250.43 755.17h2.6v2.6h-2.6zM259.83 759.43h2.6v2.6h-2.6zM269.22 762.95h2.6v2.6h-2.6zM278.61 770.19h2.6v2.6h-2.6zM288 779.93h2.6v2.6h-2.6zM297.39 797.8h2.6v2.6h-2.6zM306.78 805.92h2.6v2.6h-2.6zM316.17 814.7h2.6v2.6h-2.6zM231.65 765.49h2.6v2.6h-2.6zM241.04 762.92h2.6v2.6h-2.6zM250.43 763.6h2.6v2.6h-2.6zM259.83 766.42h2.6v2.6h-2.6zM269.22 769.39h2.6v2.6h-2.6zM278.61 773.05h2.6v2.6h-2.6zM288 784.59h2.6v2.6h-2.6zM297.39 797.55h2.6v2.6h-2.6zM306.78 808.77h2.6v2.6h-2.6zM316.17 814.43h2.6v2.6h-2.6zM231.65 761.1h2.6v2.6h-2.6zM241.04 761.26h2.6v2.6h-2.6zM250.43 764.63h2.6v2.6h-2.6zM259.83 764.63h2.6v2.6h-2.6zM269.22 769.59h2.6v2.6h-2.6zM278.61 779.38h2.6v2.6h-2.6zM288 790.84h2.6v2.6h-2.6zM297.39 797.71h2.6v2.6h-2.6zM306.78 804.33h2.6v2.6h-2.6zM316.17 803h2.6v2.6h-2.6zM231.65 760.28h2.6v2.6h-2.6zM241.04 761.61h2.6v2.6h-2.6zM250.43 761.62h2.6v2.6h-2.6zM259.83 759.74h2.6v2.6h-2.6zM269.22 762.9h2.6v2.6h-2.6zM278.61 768.47h2.6v2.6h-2.6zM288 783.2h2.6v2.6h-2.6zM297.39 794.99h2.6v2.6h-2.6zM306.78 801.1h2.6v2.6h-2.6zM316.17 804.47h2.6v2.6h-2.6zM231.65 761.25h2.6v2.6h-2.6zM241.04 761.86h2.6v2.6h-2.6zM250.43 762.73h2.6v2.6h-2.6zM259.83 765.8h2.6v2.6h-2.6zM269.22 768.97h2.6v2.6h-2.6zM278.61 783.69h2.6v2.6h-2.6zM288 804.46h2.6v2.6h-2.6zM297.39 808.99h2.6v2.6h-2.6zM306.78 812.64h2.6v2.6h-2.6zM316.17 813.79h2.6v2.6h-2.6zM231.65 757.97h2.6v2.6h-2.6zM241.04 760.96h2.6v2.6h-2.6zM250.43 761.62h2.6v2.6h-2.6zM259.83 762.52h2.6v2.6h-2.6zM269.22 767.22h2.6v2.6h-2.6zM278.61 779.8h2.6v2.6h-2.6zM288 792.11h2.6v2.6h-2.6zM297.39 800.26h2.6v2.6h-2.6zM306.78 803.31h2.6v2.6h-2.6zM316.17 806h2.6v2.6h-2.6zM231.65 757.79h2.6v2.6h-2.6zM241.04 758.68h2.6v2.6h-2.6zM250.43 759.95h2.6v2.6h-2.6zM259.83 759.46h2.6v2.6h-2.6zM269.22 766.64h2.6v2.6h-2.6zM278.61 780.15h2.6v2.6h-2.6zM288 794.72h2.6v2.6h-2.6zM297.39 802.66h2.6v2.6h-2.6zM306.78 808.37h2.6v2.6h-2.6zM316.17 807.14h2.6v2.6h-2.6zM231.65 753.83h2.6v2.6h-2.6zM241.04 756.11h2.6v2.6h-2.6zM250.43 756.52h2.6v2.6h-2.6zM259.83 761.61h2.6v2.6h-2.6zM269.22 768.27h2.6v2.6h-2.6zM278.61 780.23h2.6v2.6h-2.6zM288 796.17h2.6v2.6h-2.6zM297.39 807.69h2.6v2.6h-2.6zM306.78 812.96h2.6v2.6h-2.6zM316.17 812.96h2.6v2.6h-2.6zM231.65 759.09h2.6v2.6h-2.6zM241.04 759.83h2.6v2.6h-2.6zM250.43 761.13h2.6v2.6h-2.6zM259.83 763.29h2.6v2.6h-2.6zM269.22 768.45h2.6v2.6h-2.6zM278.61 779.39h2.6v2.6h-2.6zM288 790.85h2.6v2.6h-2.6zM297.39 800.87h2.6v2.6h-2.6zM306.78 803.97h2.6v2.6h-2.6zM316.17 805.1h2.6v2.6h-2.6zM231.65 765.29h2.6v2.6h-2.6zM241.04 764.09h2.6v2.6h-2.6zM250.43 766.84h2.6v2.6h-2.6zM259.83 767.67h2.6v2.6h-2.6zM269.22 769.27h2.6v2.6h-2.6zM278.61 781.13h2.6v2.6h-2.6zM288 790.43h2.6v2.6h-2.6zM297.39 803.05h2.6v2.6h-2.6zM306.78 810.7h2.6v2.6h-2.6zM316.17 812.95h2.6v2.6h-2.6zM231.65 763.38h2.6v2.6h-2.6zM241.04 764.77h2.6v2.6h-2.6zM250.43 764.8h2.6v2.6h-2.6zM259.83 764.87h2.6v2.6h-2.6zM269.22 764.68h2.6v2.6h-2.6zM278.61 770.76h2.6v2.6h-2.6zM288 780.41h2.6v2.6h-2.6zM297.39 798.3h2.6v2.6h-2.6zM306.78 811.33h2.6v2.6h-2.6zM316.17 815.44h2.6v2.6h-2.6z" fill="#e10a14"/>
<path d="M214.7 735.05V820.3M210.7 819.6H214.7M210.7 791.65H214.7M210.7 763.7H214.7M210.7 735.75H214.7M214 819.6H340.2" stroke="#000" stroke-width="1.5" fill="none"/>
<path d="M214.7 819.6v3.6M230.3 819.6v3.6M245.9 819.6v3.6M261.5 819.6v3.6M277.1 819.6v3.6M292.7 819.6v3.6M308.3 819.6v3.6M323.9 819.6v3.6M339.5 819.6v3.6" stroke="#000" stroke-width="1.3" fill="none"/>
<path d="M219.4 819.6v2M222.14 819.6v2M224.09 819.6v2M225.6 819.6v2M226.84 819.6v2M227.88 819.6v2M228.79 819.6v2M229.59 819.6v2M235 819.6v2M237.74 819.6v2M239.69 819.6v2M241.2 819.6v2M242.44 819.6v2M243.48 819.6v2M244.39 819.6v2M245.19 819.6v2M250.6 819.6v2M253.34 819.6v2M255.29 819.6v2M256.8 819.6v2M258.04 819.6v2M259.08 819.6v2M259.99 819.6v2M260.79 819.6v2M266.2 819.6v2M268.94 819.6v2M270.89 819.6v2M272.4 819.6v2M273.64 819.6v2M274.68 819.6v2M275.59 819.6v2M276.39 819.6v2M281.8 819.6v2M284.54 819.6v2M286.49 819.6v2M288 819.6v2M289.24 819.6v2M290.28 819.6v2M291.19 819.6v2M291.99 819.6v2M297.4 819.6v2M300.14 819.6v2M302.09 819.6v2M303.6 819.6v2M304.84 819.6v2M305.88 819.6v2M306.79 819.6v2M307.59 819.6v2M313 819.6v2M315.74 819.6v2M317.69 819.6v2M319.2 819.6v2M320.44 819.6v2M321.48 819.6v2M322.39 819.6v2M323.19 819.6v2M328.6 819.6v2M331.34 819.6v2M333.29 819.6v2M334.8 819.6v2M336.04 819.6v2M337.08 819.6v2M337.99 819.6v2M338.79 819.6v2" stroke="#000" stroke-width="0.8" fill="none"/>
<text x="208.3" y="822.9" font-size="9.2" font-weight="bold" fill="#000" color="#000" text-anchor="end">0</text>
<text x="208.3" y="794.95" font-size="9.2" font-weight="bold" fill="#000" color="#000" text-anchor="end">50</text>
<text x="208.3" y="767" font-size="9.2" font-weight="bold" fill="#000" color="#000" text-anchor="end">100</text>
<text x="208.3" y="739.05" font-size="9.2" font-weight="bold" fill="#000" color="#000" text-anchor="end">150</text>
<text x="205.9" y="832.7" font-size="9" font-weight="bold">10<tspan font-size="6.9" dy="-2.7">−12</tspan></text>
<text x="237.1" y="832.7" font-size="9" font-weight="bold">10<tspan font-size="6.9" dy="-2.7">−10</tspan></text>
<text x="268.3" y="832.7" font-size="9" font-weight="bold">10<tspan font-size="6.9" dy="-2.7">−8</tspan></text>
<text x="299.5" y="832.7" font-size="9" font-weight="bold">10<tspan font-size="6.9" dy="-2.7">−6</tspan></text>
<text x="330.7" y="832.7" font-size="9" font-weight="bold">10<tspan font-size="6.9" dy="-2.7">−4</tspan></text>
<line x1="215.7" y1="791.65" x2="339.5" y2="791.65" stroke="#000" stroke-width="0.9" stroke-dasharray="1.2,1.6"/>
<path d="M402.46 766.5L405.28 766.5L408.09 766.5L410.91 766.5L413.73 766.5L416.55 766.51L419.36 766.51L422.18 766.53L425 766.56L427.82 766.62L430.63 766.72L433.45 766.91L436.27 767.24L439.09 767.8L441.9 768.68L444.72 769.92L447.54 771.44L450.36 772.96L453.17 774.25L455.99 775.17L458.81 775.76L461.62 776.12L464.44 776.32L467.26 776.43L470.08 776.49L472.89 776.52L475.71 776.54L478.53 776.55L481.35 776.55L484.16 776.55L486.98 776.56M402.46 764.26V770.83M401.16 764.26h2.6M401.16 770.83h2.6M411.85 763.42V769.49M410.55 763.42h2.6M410.55 769.49h2.6M421.24 763.22V768.09M419.94 763.22h2.6M419.94 768.09h2.6M430.63 763.69V769.4M429.33 763.69h2.6M429.33 769.4h2.6M440.02 763.41V772.27M438.72 763.41h2.6M438.72 772.27h2.6M449.42 769.84V774.16M448.12 769.84h2.6M448.12 774.16h2.6M458.81 772.92V779.75M457.51 772.92h2.6M457.51 779.75h2.6M468.2 773.38V777.37M466.9 773.38h2.6M466.9 777.37h2.6M477.59 772.62V779.94M476.29 772.62h2.6M476.29 779.94h2.6M486.98 773.08V778.62M485.68 773.08h2.6M485.68 778.62h2.6M402.46 765.94L405.28 765.95L408.09 765.96L410.91 765.97L413.73 765.99L416.55 766.03L419.36 766.09L422.18 766.19L425 766.35L427.82 766.62L430.63 767.05L433.45 767.75L436.27 768.86L439.09 770.59L441.9 773.19L444.72 776.93L447.54 781.92L450.36 788.01L453.17 794.65L455.99 801.07L458.81 806.58L461.62 810.86L464.44 813.93L467.26 816.01L470.08 817.36L472.89 818.22L475.71 818.75L478.53 819.08L481.35 819.28L484.16 819.41L486.98 819.48M402.46 761.28V768.52M401.16 761.28h2.6M401.16 768.52h2.6M411.85 762.32V766.81M410.55 762.32h2.6M410.55 766.81h2.6M421.24 761.19V768.15M419.94 761.19h2.6M419.94 768.15h2.6M430.63 764.98V769.75M429.33 764.98h2.6M429.33 769.75h2.6M440.02 768.19V776.22M438.72 768.19h2.6M438.72 776.22h2.6M449.42 783.36V787.21M448.12 783.36h2.6M448.12 787.21h2.6M458.81 805.99V808.22M457.51 805.99h2.6M457.51 808.22h2.6M468.2 816.73V818.35M466.9 816.73h2.6M466.9 818.35h2.6M477.59 818.23V819.6M476.29 818.23h2.6M476.29 819.6h2.6M486.98 816.52V819.11M485.68 816.52h2.6M485.68 819.11h2.6M402.46 768.18L405.28 768.18L408.09 768.19L410.91 768.2L413.73 768.21L416.55 768.24L419.36 768.28L422.18 768.35L425 768.47L427.82 768.65L430.63 768.96L433.45 769.46L436.27 770.26L439.09 771.51L441.9 773.45L444.72 776.3L447.54 780.28L450.36 785.41L453.17 791.36L455.99 797.51L458.81 803.15L461.62 807.77L464.44 811.22L467.26 813.63L470.08 815.22L472.89 816.25L475.71 816.89L478.53 817.29L481.35 817.54L484.16 817.69L486.98 817.78M402.46 764.68V771.81M401.16 764.68h2.6M401.16 771.81h2.6M411.85 762.43V772.1M410.55 762.43h2.6M410.55 772.1h2.6M421.24 763.47V771.49M419.94 763.47h2.6M419.94 771.49h2.6M430.63 766.13V773.81M429.33 766.13h2.6M429.33 773.81h2.6M440.02 766.67V775.16M438.72 766.67h2.6M438.72 775.16h2.6M449.42 781.75V788.15M448.12 781.75h2.6M448.12 788.15h2.6M458.81 802.38V804.93M457.51 802.38h2.6M457.51 804.93h2.6M468.2 811.19V814.16M466.9 811.19h2.6M466.9 814.16h2.6M477.59 815.58V817.14M476.29 815.58h2.6M476.29 817.14h2.6M486.98 815.18V818.17M485.68 815.18h2.6M485.68 818.17h2.6" stroke="#111111" stroke-width="1.05" fill="none"/>
<path d="M402.46 748.11L405.28 748.15L408.09 748.2L410.91 748.28L413.73 748.4L416.55 748.58L419.36 748.85L422.18 749.25L425 749.85L427.82 750.73L430.63 752.01L433.45 753.83L436.27 756.34L439.09 759.68L441.9 763.89L444.72 768.85L447.54 774.28L450.36 779.74L453.17 784.78L455.99 789.08L458.81 792.52L461.62 795.12L464.44 797.02L467.26 798.35L470.08 799.27L472.89 799.89L475.71 800.32L478.53 800.6L481.35 800.79L484.16 800.91L486.98 800.99M402.46 755.42L405.28 755.48L408.09 755.56L410.91 755.68L413.73 755.87L416.55 756.15L419.36 756.57L422.18 757.19L425 758.11L427.82 759.44L430.63 761.33L433.45 763.92L436.27 767.36L439.09 771.65L441.9 776.69L444.72 782.14L447.54 787.57L450.36 792.55L453.17 796.76L455.99 800.11L458.81 802.63L461.62 804.45L464.44 805.73L467.26 806.62L470.08 807.22L472.89 807.62L475.71 807.89L478.53 808.07L481.35 808.19L484.16 808.27L486.98 808.32M402.46 751.84V759.28M401.16 751.84h2.6M401.16 759.28h2.6M411.85 749.41V762.11M410.55 749.41h2.6M410.55 762.11h2.6M421.24 750.76V761.91M419.94 750.76h2.6M419.94 761.91h2.6M430.63 755.83V767.55M429.33 755.83h2.6M429.33 767.55h2.6M440.02 767.44V777.12M438.72 767.44h2.6M438.72 777.12h2.6M449.42 785.54V793.42M448.12 785.54h2.6M448.12 793.42h2.6M458.81 801.46V804.43M457.51 801.46h2.6M457.51 804.43h2.6M468.2 803.73V808.93M466.9 803.73h2.6M466.9 808.93h2.6M477.59 806.51V810.59M476.29 806.51h2.6M476.29 810.59h2.6M486.98 804.73V809.65M485.68 804.73h2.6M485.68 809.65h2.6M402.46 760.94L405.28 760.96L408.09 760.99L410.91 761.05L413.73 761.13L416.55 761.26L419.36 761.46L422.18 761.78L425 762.27L427.82 763.04L430.63 764.2L433.45 765.94L436.27 768.46L439.09 771.98L441.9 776.59L444.72 782.22L447.54 788.49L450.36 794.79L453.17 800.51L455.99 805.26L458.81 808.9L461.62 811.53L464.44 813.34L467.26 814.56L470.08 815.37L472.89 815.89L475.71 816.22L478.53 816.43L481.35 816.57L484.16 816.66L486.98 816.71M402.46 757.89V767.31M401.16 757.89h2.6M401.16 767.31h2.6M411.85 759.46V765.92M410.55 759.46h2.6M410.55 765.92h2.6M421.24 756.18V765.04M419.94 756.18h2.6M419.94 765.04h2.6M430.63 759.27V768.42M429.33 759.27h2.6M429.33 768.42h2.6M440.02 770.81V777.08M438.72 770.81h2.6M438.72 777.08h2.6M449.42 789.53V796.9M448.12 789.53h2.6M448.12 796.9h2.6M458.81 806.93V810.07M457.51 806.93h2.6M457.51 810.07h2.6M468.2 815.11V817.39M466.9 815.11h2.6M466.9 817.39h2.6M477.59 814.33V817.07M476.29 814.33h2.6M476.29 817.07h2.6M486.98 814.41V817.93M485.68 814.41h2.6M485.68 817.93h2.6M402.46 763.74L405.28 763.76L408.09 763.79L410.91 763.84L413.73 763.91L416.55 764.02L419.36 764.19L422.18 764.44L425 764.81L427.82 765.37L430.63 766.19L433.45 767.38L436.27 769.08L439.09 771.43L441.9 774.57L444.72 778.56L447.54 783.3L450.36 788.53L453.17 793.83L455.99 798.77L458.81 803.03L461.62 806.45L464.44 809.05L467.26 810.95L470.08 812.3L472.89 813.22L475.71 813.86L478.53 814.28L481.35 814.57L484.16 814.76L486.98 814.88M402.46 759.64V770.38M401.16 759.64h2.6M401.16 770.38h2.6M411.85 759.52V771.28M410.55 759.52h2.6M410.55 771.28h2.6M421.24 761.64V769.17M419.94 761.64h2.6M419.94 769.17h2.6M430.63 760.49V768.81M429.33 760.49h2.6M429.33 768.81h2.6M440.02 767.84V778.78M438.72 767.84h2.6M438.72 778.78h2.6M449.42 782.01V790.77M448.12 782.01h2.6M448.12 790.77h2.6M458.81 801.16V805.61M457.51 801.16h2.6M457.51 805.61h2.6M468.2 808.11V811.74M466.9 808.11h2.6M466.9 811.74h2.6M477.59 811.3V813.74M476.29 811.3h2.6M476.29 813.74h2.6M486.98 812.65V814.9M485.68 812.65h2.6M485.68 814.9h2.6" stroke="#0000ff" stroke-width="1.05" fill="none"/>
<path d="M402.46 739.91V753.61M401.16 739.91h2.6M401.16 753.61h2.6M411.85 740.08V754.32M410.55 740.08h2.6M410.55 754.32h2.6M421.24 743.4V754.19M419.94 743.4h2.6M419.94 754.19h2.6M430.63 743.88V757.95M429.33 743.88h2.6M429.33 757.95h2.6M440.02 754.98V764.5M438.72 754.98h2.6M438.72 764.5h2.6M449.42 771.55V781.25M448.12 771.55h2.6M448.12 781.25h2.6M458.81 788.56V793.49M457.51 788.56h2.6M457.51 793.49h2.6M468.2 793.23V801.01M466.9 793.23h2.6M466.9 801.01h2.6M477.59 797.74V804.96M476.29 797.74h2.6M476.29 804.96h2.6M486.98 799.8V803.98M485.68 799.8h2.6M485.68 803.98h2.6" stroke="#9a3cf0" stroke-width="1.05" fill="none"/>
<path d="M402.46 763.7L405.28 763.7L408.09 763.7L410.91 763.88L413.73 769.95L416.55 797.19L419.36 801.05L422.18 801.15L425 801.15L427.82 801.15L430.63 801.15L433.45 801.15L436.27 801.15L439.09 801.15L441.9 801.15L444.72 801.15L447.54 801.15L450.36 801.15L453.17 801.15L455.99 801.15L458.81 801.15L461.62 801.15L464.44 801.15L467.26 801.15L470.08 801.15L472.89 801.15L475.71 801.15L478.53 801.15L481.35 801.15L484.16 801.15L486.98 801.15M402.46 761.96V765.32M401.16 761.96h2.6M401.16 765.32h2.6M411.85 761.21V768.86M410.55 761.21h2.6M410.55 768.86h2.6M421.24 799.47V803.02M419.94 799.47h2.6M419.94 803.02h2.6M430.63 800.48V802.94M429.33 800.48h2.6M429.33 802.94h2.6M440.02 800.6V803.49M438.72 800.6h2.6M438.72 803.49h2.6M449.42 798.88V801.81M448.12 798.88h2.6M448.12 801.81h2.6M458.81 799.52V803.33M457.51 799.52h2.6M457.51 803.33h2.6M468.2 798.62V801.92M466.9 798.62h2.6M466.9 801.92h2.6M477.59 800.58V803.62M476.29 800.58h2.6M476.29 803.62h2.6M486.98 799.33V803.22M485.68 799.33h2.6M485.68 803.22h2.6M402.46 770.43L405.28 770.46L408.09 770.5L410.91 770.57L413.73 770.68L416.55 770.84L419.36 771.09L422.18 771.47L425 772.04L427.82 772.9L430.63 774.17L433.45 775.98L436.27 778.47L439.09 781.74L441.9 785.74L444.72 790.26L447.54 794.92L450.36 799.29L453.17 803.05L455.99 806.03L458.81 808.27L461.62 809.87L464.44 810.97L467.26 811.72L470.08 812.21L472.89 812.54L475.71 812.75L478.53 812.89L481.35 812.98L484.16 813.04L486.98 813.08M402.46 765.23V776.87M401.16 765.23h2.6M401.16 776.87h2.6M411.85 765.32V774.7M410.55 765.32h2.6M410.55 774.7h2.6M421.24 765.35V777.09M419.94 765.35h2.6M419.94 777.09h2.6M430.63 767.31V777.38M429.33 767.31h2.6M429.33 777.38h2.6M440.02 777.79V789.43M438.72 777.79h2.6M438.72 789.43h2.6M449.42 796.13V803.62M448.12 796.13h2.6M448.12 803.62h2.6M458.81 804.98V809.91M457.51 804.98h2.6M457.51 809.91h2.6M468.2 809.73V814.55M466.9 809.73h2.6M466.9 814.55h2.6M477.59 808.63V813.57M476.29 808.63h2.6M476.29 813.57h2.6M486.98 810.72V813.2M485.68 810.72h2.6M485.68 813.2h2.6M402.46 755.6L405.28 755.6L408.09 755.61L410.91 755.63L413.73 755.65L416.55 755.68L419.36 755.74L422.18 755.82L425 755.95L427.82 756.16L430.63 756.48L433.45 756.97L436.27 757.72L439.09 758.85L441.9 760.53L444.72 762.96L447.54 766.35L450.36 770.84L453.17 776.38L455.99 782.69L458.81 789.2L461.62 795.32L464.44 800.55L467.26 804.68L470.08 807.75L472.89 809.92L475.71 811.41L478.53 812.41L481.35 813.06L484.16 813.49L486.98 813.77M402.46 752.38V760.38M401.16 752.38h2.6M401.16 760.38h2.6M411.85 746.07V761.15M410.55 746.07h2.6M410.55 761.15h2.6M421.24 751.27V763.49M419.94 751.27h2.6M419.94 763.49h2.6M430.63 752.56V759.71M429.33 752.56h2.6M429.33 759.71h2.6M440.02 752.96V766.68M438.72 752.96h2.6M438.72 766.68h2.6M449.42 764.22V772.95M448.12 764.22h2.6M448.12 772.95h2.6M458.81 784.85V791.21M457.51 784.85h2.6M457.51 791.21h2.6M468.2 803.29V807.95M466.9 803.29h2.6M466.9 807.95h2.6M477.59 807.56V812.41M476.29 807.56h2.6M476.29 812.41h2.6M486.98 810.14V814.67M485.68 810.14h2.6M485.68 814.67h2.6M402.46 768.88L405.28 768.93L408.09 768.99L410.91 769.09L413.73 769.24L416.55 769.46L419.36 769.79L422.18 770.28L425 770.99L427.82 772.02L430.63 773.49L433.45 775.51L436.27 778.22L439.09 781.66L441.9 785.78L444.72 790.38L447.54 795.11L450.36 799.6L453.17 803.54L455.99 806.76L458.81 809.26L461.62 811.11L464.44 812.43L467.26 813.36L470.08 814L472.89 814.43L475.71 814.73L478.53 814.92L481.35 815.06L484.16 815.14L486.98 815.2M402.46 762.15V776.69M401.16 762.15h2.6M401.16 776.69h2.6M411.85 762V774.4M410.55 762h2.6M410.55 774.4h2.6M421.24 767.38V774.8M419.94 767.38h2.6M419.94 774.8h2.6M430.63 766.84V779.47M429.33 766.84h2.6M429.33 779.47h2.6M440.02 777.87V785.44M438.72 777.87h2.6M438.72 785.44h2.6M449.42 796.78V802.74M448.12 796.78h2.6M448.12 802.74h2.6M458.81 805.88V809.26M457.51 805.88h2.6M457.51 809.26h2.6M468.2 811.1V813.97M466.9 811.1h2.6M466.9 813.97h2.6M477.59 814.62V816.8M476.29 814.62h2.6M476.29 816.8h2.6M486.98 814.58V817.64M485.68 814.58h2.6M485.68 817.64h2.6M402.46 765.58L405.28 765.59L408.09 765.6L410.91 765.61L413.73 765.64L416.55 765.68L419.36 765.76L422.18 765.88L425 766.08L427.82 766.4L430.63 766.94L433.45 767.8L436.27 769.16L439.09 771.28L441.9 774.42L444.72 778.81L447.54 784.46L450.36 791.02L453.17 797.75L455.99 803.86L458.81 808.81L461.62 812.46L464.44 814.98L467.26 816.64L470.08 817.69L472.89 818.34L475.71 818.75L478.53 818.99L481.35 819.14L484.16 819.23L486.98 819.29M402.46 755.62V771.37M401.16 755.62h2.6M401.16 771.37h2.6M411.85 762.43V771.61M410.55 762.43h2.6M410.55 771.61h2.6M421.24 759.57V768.12M419.94 759.57h2.6M419.94 768.12h2.6M430.63 762.62V772.86M429.33 762.62h2.6M429.33 772.86h2.6M440.02 770V777.9M438.72 770h2.6M438.72 777.9h2.6M449.42 785.85V792.64M448.12 785.85h2.6M448.12 792.64h2.6M458.81 804.79V808.68M457.51 804.79h2.6M457.51 808.68h2.6M468.2 816.34V819.6M466.9 816.34h2.6M466.9 819.6h2.6M477.59 817.28V819.6M476.29 817.28h2.6M476.29 819.6h2.6M486.98 816.84V819.6M485.68 816.84h2.6M485.68 819.6h2.6M402.46 760.47L405.28 760.47L408.09 760.49L410.91 760.5L413.73 760.53L416.55 760.57L419.36 760.64L422.18 760.74L425 760.9L427.82 761.15L430.63 761.53L433.45 762.13L436.27 763.04L439.09 764.41L441.9 766.43L444.72 769.29L447.54 773.19L450.36 778.14L453.17 783.98L455.99 790.23L458.81 796.3L461.62 801.65L464.44 805.98L467.26 809.24L470.08 811.57L472.89 813.17L475.71 814.25L478.53 814.96L481.35 815.42L484.16 815.71L486.98 815.9M402.46 757.23V765.36M401.16 757.23h2.6M401.16 765.36h2.6M411.85 753.8V764.92M410.55 753.8h2.6M410.55 764.92h2.6M421.24 753.93V766.94M419.94 753.93h2.6M419.94 766.94h2.6M430.63 755.76V765.05M429.33 755.76h2.6M429.33 765.05h2.6M440.02 758.15V773.08M438.72 758.15h2.6M438.72 773.08h2.6M449.42 772.33V780.16M448.12 772.33h2.6M448.12 780.16h2.6M458.81 793.11V798.33M457.51 793.11h2.6M457.51 798.33h2.6M468.2 807.5V810.29M466.9 807.5h2.6M466.9 810.29h2.6M477.59 811.28V815.3M476.29 811.28h2.6M476.29 815.3h2.6M486.98 814.3V818.82M485.68 814.3h2.6M485.68 818.82h2.6M402.46 769.72L405.28 769.72L408.09 769.73L410.91 769.74L413.73 769.77L416.55 769.81L419.36 769.88L422.18 769.98L425 770.16L427.82 770.45L430.63 770.92L433.45 771.66L436.27 772.84L439.09 774.64L441.9 777.3L444.72 780.99L447.54 785.72L450.36 791.2L453.17 796.85L455.99 802.02L458.81 806.25L461.62 809.4L464.44 811.61L467.26 813.07L470.08 814.01L472.89 814.6L475.71 814.97L478.53 815.19L481.35 815.33L484.16 815.42L486.98 815.47M402.46 766.69V774.83M401.16 766.69h2.6M401.16 774.83h2.6M411.85 766.38V776.97M410.55 766.38h2.6M410.55 776.97h2.6M421.24 762.72V774.9M419.94 762.72h2.6M419.94 774.9h2.6M430.63 764.89V777.73M429.33 764.89h2.6M429.33 777.73h2.6M440.02 773.23V781.09M438.72 773.23h2.6M438.72 781.09h2.6M449.42 783.43V793.93M448.12 783.43h2.6M448.12 793.93h2.6M458.81 802.76V808.53M457.51 802.76h2.6M457.51 808.53h2.6M468.2 810.38V814.02M466.9 810.38h2.6M466.9 814.02h2.6M477.59 810.86V815.46M476.29 810.86h2.6M476.29 815.46h2.6M486.98 814.64V817.72M485.68 814.64h2.6M485.68 817.72h2.6M402.46 756.86L405.28 756.87L408.09 756.88L410.91 756.89L413.73 756.9L416.55 756.94L419.36 756.99L422.18 757.07L425 757.2L427.82 757.42L430.63 757.78L433.45 758.37L436.27 759.3L439.09 760.78L441.9 763.05L444.72 766.42L447.54 771.13L450.36 777.22L453.17 784.34L455.99 791.76L458.81 798.59L461.62 804.22L464.44 808.45L467.26 811.41L470.08 813.38L472.89 814.64L475.71 815.44L478.53 815.93L481.35 816.24L484.16 816.43L486.98 816.54M402.46 750.5V760.49M401.16 750.5h2.6M401.16 760.49h2.6M411.85 750.85V765.74M410.55 750.85h2.6M410.55 765.74h2.6M421.24 751.09V762.69M419.94 751.09h2.6M419.94 762.69h2.6M430.63 749.44V764.61M429.33 749.44h2.6M429.33 764.61h2.6M440.02 758.13V768.02M438.72 758.13h2.6M438.72 768.02h2.6M449.42 772.64V781.34M448.12 772.64h2.6M448.12 781.34h2.6M458.81 794.67V802.49M457.51 794.67h2.6M457.51 802.49h2.6M468.2 809.23V813.59M466.9 809.23h2.6M466.9 813.59h2.6M477.59 814.44V818.01M476.29 814.44h2.6M476.29 818.01h2.6M486.98 815.52V819.58M485.68 815.52h2.6M485.68 819.58h2.6M402.46 765.02L405.28 765.03L408.09 765.03L410.91 765.03L413.73 765.04L416.55 765.05L419.36 765.08L422.18 765.11L425 765.17L427.82 765.27L430.63 765.44L433.45 765.73L436.27 766.2L439.09 766.97L441.9 768.22L444.72 770.2L447.54 773.19L450.36 777.46L453.17 783.07L455.99 789.67L458.81 796.51L461.62 802.73L464.44 807.74L467.26 811.41L470.08 813.9L472.89 815.51L475.71 816.52L478.53 817.13L481.35 817.51L484.16 817.73L486.98 817.87M402.46 756.45V771.02M401.16 756.45h2.6M401.16 771.02h2.6M411.85 760.34V772.85M410.55 760.34h2.6M410.55 772.85h2.6M421.24 758.28V769.65M419.94 758.28h2.6M419.94 769.65h2.6M430.63 756.09V771.24M429.33 756.09h2.6M429.33 771.24h2.6M440.02 759.28V773.2M438.72 759.28h2.6M438.72 773.2h2.6M449.42 768.9V781.54M448.12 768.9h2.6M448.12 781.54h2.6M458.81 794.58V801.74M457.51 794.58h2.6M457.51 801.74h2.6M468.2 809.2V813.68M466.9 809.2h2.6M466.9 813.68h2.6M477.59 816.97V818.97M476.29 816.97h2.6M476.29 818.97h2.6M486.98 815.39V819.43M485.68 815.39h2.6M485.68 819.43h2.6M402.46 759.11L405.28 759.11L408.09 759.11L410.91 759.12L413.73 759.13L416.55 759.14L419.36 759.16L422.18 759.2L425 759.26L427.82 759.35L430.63 759.51L433.45 759.76L436.27 760.16L439.09 760.8L441.9 761.82L444.72 763.39L447.54 765.76L450.36 769.19L453.17 773.85L455.99 779.69L458.81 786.31L461.62 793.02L464.44 799.06L467.26 803.98L470.08 807.64L472.89 810.21L475.71 811.92L478.53 813.03L481.35 813.74L484.16 814.18L486.98 814.46M402.46 755.77V764.48M401.16 755.77h2.6M401.16 764.48h2.6M411.85 756.56V764.15M410.55 756.56h2.6M410.55 764.15h2.6M421.24 750.47V766.33M419.94 750.47h2.6M419.94 766.33h2.6M430.63 753.11V763.2M429.33 753.11h2.6M429.33 763.2h2.6M440.02 756.51V763.89M438.72 756.51h2.6M438.72 763.89h2.6M449.42 761.7V771.11M448.12 761.7h2.6M448.12 771.11h2.6M458.81 784.33V792.74M457.51 784.33h2.6M457.51 792.74h2.6M468.2 805V808.9M466.9 805h2.6M466.9 808.9h2.6M477.59 812.97V816.41M476.29 812.97h2.6M476.29 816.41h2.6M486.98 811.91V816.52M485.68 811.91h2.6M485.68 816.52h2.6M402.46 761.35L405.28 761.36L408.09 761.38L410.91 761.41L413.73 761.45L416.55 761.53L419.36 761.66L422.18 761.86L425 762.18L427.82 762.7L430.63 763.51L433.45 764.76L436.27 766.67L439.09 769.47L441.9 773.37L444.72 778.47L447.54 784.57L450.36 791.14L453.17 797.47L455.99 802.94L458.81 807.25L461.62 810.39L464.44 812.57L467.26 814.02L470.08 814.95L472.89 815.55L475.71 815.93L478.53 816.17L481.35 816.31L484.16 816.41L486.98 816.46M402.46 756.17V770.64M401.16 756.17h2.6M401.16 770.64h2.6M411.85 758.75V767.57M410.55 758.75h2.6M410.55 767.57h2.6M421.24 756.25V766.15M419.94 756.25h2.6M419.94 766.15h2.6M430.63 758.28V770.24M429.33 758.28h2.6M429.33 770.24h2.6M440.02 765.6V778.2M438.72 765.6h2.6M438.72 778.2h2.6M449.42 785.55V794.94M448.12 785.55h2.6M448.12 794.94h2.6M458.81 803.31V808.42M457.51 803.31h2.6M457.51 808.42h2.6M468.2 814.43V818.52M466.9 814.43h2.6M466.9 818.52h2.6M477.59 816.67V819.6M476.29 816.67h2.6M476.29 819.6h2.6M486.98 815.75V817.85M485.68 815.75h2.6M485.68 817.85h2.6M402.46 770.45L405.28 770.45L408.09 770.45L410.91 770.46L413.73 770.46L416.55 770.48L419.36 770.5L422.18 770.53L425 770.59L427.82 770.69L430.63 770.84L433.45 771.09L436.27 771.48L439.09 772.12L441.9 773.13L444.72 774.69L447.54 777.01L450.36 780.3L453.17 784.65L455.99 789.91L458.81 795.58L461.62 801.02L464.44 805.69L467.26 809.31L470.08 811.91L472.89 813.68L475.71 814.84L478.53 815.58L481.35 816.04L484.16 816.33L486.98 816.5M402.46 763.67V776.06M401.16 763.67h2.6M401.16 776.06h2.6M411.85 765.29V774.86M410.55 765.29h2.6M410.55 774.86h2.6M421.24 764.9V776.03M419.94 764.9h2.6M419.94 776.03h2.6M430.63 765.47V778.66M429.33 765.47h2.6M429.33 778.66h2.6M440.02 763.69V776.7M438.72 763.69h2.6M438.72 776.7h2.6M449.42 773V781.05M448.12 773h2.6M448.12 781.05h2.6M458.81 791.19V795.62M457.51 791.19h2.6M457.51 795.62h2.6M468.2 808.9V811.87M466.9 808.9h2.6M466.9 811.87h2.6M477.59 813.58V817.57M476.29 813.58h2.6M476.29 817.57h2.6M486.98 813.9V817.24M485.68 813.9h2.6M485.68 817.24h2.6M402.46 761.55L405.28 761.56L408.09 761.58L410.91 761.61L413.73 761.66L416.55 761.74L419.36 761.86L422.18 762.05L425 762.35L427.82 762.8L430.63 763.5L433.45 764.56L436.27 766.15L439.09 768.45L441.9 771.68L444.72 775.97L447.54 781.29L450.36 787.38L453.17 793.69L455.99 799.62L458.81 804.7L461.62 808.71L464.44 811.68L467.26 813.77L470.08 815.2L472.89 816.16L475.71 816.78L478.53 817.19L481.35 817.45L484.16 817.62L486.98 817.73M402.46 758.01V766.5M401.16 758.01h2.6M401.16 766.5h2.6M411.85 757.38V766.74M410.55 757.38h2.6M410.55 766.74h2.6M421.24 756.54V770.16M419.94 756.54h2.6M419.94 770.16h2.6M430.63 758.01V768.84M429.33 758.01h2.6M429.33 768.84h2.6M440.02 764.74V776.79M438.72 764.74h2.6M438.72 776.79h2.6M449.42 783.47V789.84M448.12 783.47h2.6M448.12 789.84h2.6M458.81 801.41V807.44M457.51 801.41h2.6M457.51 807.44h2.6M468.2 809.8V814.6M466.9 809.8h2.6M466.9 814.6h2.6M477.59 812.69V817.46M476.29 812.69h2.6M476.29 817.46h2.6M486.98 814.79V818.68M485.68 814.79h2.6M485.68 818.68h2.6" stroke="#e10a14" stroke-width="1.05" fill="none"/>
<path d="M401.16 766.24h2.6v2.6h-2.6zM410.55 765.16h2.6v2.6h-2.6zM419.94 764.35h2.6v2.6h-2.6zM429.33 765.24h2.6v2.6h-2.6zM438.72 766.54h2.6v2.6h-2.6zM448.12 770.7h2.6v2.6h-2.6zM457.51 775.03h2.6v2.6h-2.6zM466.9 774.07h2.6v2.6h-2.6zM476.29 774.98h2.6v2.6h-2.6zM485.68 774.55h2.6v2.6h-2.6zM401.16 763.6h2.6v2.6h-2.6zM410.55 763.27h2.6v2.6h-2.6zM419.94 763.37h2.6v2.6h-2.6zM429.33 766.06h2.6v2.6h-2.6zM438.72 770.9h2.6v2.6h-2.6zM448.12 783.98h2.6v2.6h-2.6zM457.51 805.8h2.6v2.6h-2.6zM466.9 816.24h2.6v2.6h-2.6zM476.29 818.26h2.6v2.6h-2.6zM485.68 816.52h2.6v2.6h-2.6zM401.16 766.95h2.6v2.6h-2.6zM410.55 765.96h2.6v2.6h-2.6zM419.94 766.18h2.6v2.6h-2.6zM429.33 768.67h2.6v2.6h-2.6zM438.72 769.61h2.6v2.6h-2.6zM448.12 783.65h2.6v2.6h-2.6zM457.51 802.36h2.6v2.6h-2.6zM466.9 811.37h2.6v2.6h-2.6zM476.29 815.06h2.6v2.6h-2.6zM485.68 815.38h2.6v2.6h-2.6z" fill="#111111"/>
<path d="M401.16 745.46h2.6v2.6h-2.6zM410.55 745.9h2.6v2.6h-2.6zM419.94 747.49h2.6v2.6h-2.6zM429.33 749.62h2.6v2.6h-2.6zM438.72 758.44h2.6v2.6h-2.6zM448.12 775.1h2.6v2.6h-2.6zM457.51 789.73h2.6v2.6h-2.6zM466.9 795.82h2.6v2.6h-2.6zM476.29 800.05h2.6v2.6h-2.6zM485.68 800.59h2.6v2.6h-2.6zM401.16 754.26h2.6v2.6h-2.6zM410.55 754.46h2.6v2.6h-2.6zM419.94 755.04h2.6v2.6h-2.6zM429.33 760.39h2.6v2.6h-2.6zM438.72 770.98h2.6v2.6h-2.6zM448.12 788.18h2.6v2.6h-2.6zM457.51 801.64h2.6v2.6h-2.6zM466.9 805.03h2.6v2.6h-2.6zM476.29 807.25h2.6v2.6h-2.6zM485.68 805.89h2.6v2.6h-2.6zM401.16 761.3h2.6v2.6h-2.6zM410.55 761.39h2.6v2.6h-2.6zM419.94 759.31h2.6v2.6h-2.6zM429.33 762.55h2.6v2.6h-2.6zM438.72 772.64h2.6v2.6h-2.6zM448.12 791.91h2.6v2.6h-2.6zM457.51 807.2h2.6v2.6h-2.6zM466.9 814.95h2.6v2.6h-2.6zM476.29 814.4h2.6v2.6h-2.6zM485.68 814.87h2.6v2.6h-2.6zM401.16 763.71h2.6v2.6h-2.6zM410.55 764.1h2.6v2.6h-2.6zM419.94 764.1h2.6v2.6h-2.6zM429.33 763.35h2.6v2.6h-2.6zM438.72 772.01h2.6v2.6h-2.6zM448.12 785.09h2.6v2.6h-2.6zM457.51 802.08h2.6v2.6h-2.6zM466.9 808.63h2.6v2.6h-2.6zM476.29 811.22h2.6v2.6h-2.6zM485.68 812.47h2.6v2.6h-2.6z" fill="#0000ff"/>
<path d="M401.16 762.34h2.6v2.6h-2.6zM410.55 763.73h2.6v2.6h-2.6zM419.94 799.95h2.6v2.6h-2.6zM429.33 800.41h2.6v2.6h-2.6zM438.72 800.75h2.6v2.6h-2.6zM448.12 799.04h2.6v2.6h-2.6zM457.51 800.13h2.6v2.6h-2.6zM466.9 798.97h2.6v2.6h-2.6zM476.29 800.8h2.6v2.6h-2.6zM485.68 799.98h2.6v2.6h-2.6zM401.16 769.75h2.6v2.6h-2.6zM410.55 768.71h2.6v2.6h-2.6zM419.94 769.92h2.6v2.6h-2.6zM429.33 771.04h2.6v2.6h-2.6zM438.72 782.31h2.6v2.6h-2.6zM448.12 798.57h2.6v2.6h-2.6zM457.51 806.15h2.6v2.6h-2.6zM466.9 810.84h2.6v2.6h-2.6zM476.29 809.8h2.6v2.6h-2.6zM485.68 810.66h2.6v2.6h-2.6zM401.16 755.08h2.6v2.6h-2.6zM410.55 752.31h2.6v2.6h-2.6zM419.94 756.08h2.6v2.6h-2.6zM429.33 754.83h2.6v2.6h-2.6zM438.72 758.52h2.6v2.6h-2.6zM448.12 767.29h2.6v2.6h-2.6zM457.51 786.73h2.6v2.6h-2.6zM466.9 804.32h2.6v2.6h-2.6zM476.29 808.68h2.6v2.6h-2.6zM485.68 811.11h2.6v2.6h-2.6zM401.16 768.12h2.6v2.6h-2.6zM410.55 766.9h2.6v2.6h-2.6zM419.94 769.79h2.6v2.6h-2.6zM429.33 771.85h2.6v2.6h-2.6zM438.72 780.35h2.6v2.6h-2.6zM448.12 798.46h2.6v2.6h-2.6zM457.51 806.27h2.6v2.6h-2.6zM466.9 811.24h2.6v2.6h-2.6zM476.29 814.41h2.6v2.6h-2.6zM485.68 814.81h2.6v2.6h-2.6zM401.16 762.19h2.6v2.6h-2.6zM410.55 765.72h2.6v2.6h-2.6zM419.94 762.55h2.6v2.6h-2.6zM429.33 766.44h2.6v2.6h-2.6zM438.72 772.65h2.6v2.6h-2.6zM448.12 787.95h2.6v2.6h-2.6zM457.51 805.43h2.6v2.6h-2.6zM466.9 817.07h2.6v2.6h-2.6zM476.29 817.85h2.6v2.6h-2.6zM485.68 817.38h2.6v2.6h-2.6zM401.16 760h2.6v2.6h-2.6zM410.55 758.06h2.6v2.6h-2.6zM419.94 759.14h2.6v2.6h-2.6zM429.33 759.1h2.6v2.6h-2.6zM438.72 764.32h2.6v2.6h-2.6zM448.12 774.95h2.6v2.6h-2.6zM457.51 794.42h2.6v2.6h-2.6zM466.9 807.59h2.6v2.6h-2.6zM476.29 811.99h2.6v2.6h-2.6zM485.68 815.26h2.6v2.6h-2.6zM401.16 769.46h2.6v2.6h-2.6zM410.55 770.38h2.6v2.6h-2.6zM419.94 767.51h2.6v2.6h-2.6zM429.33 770.01h2.6v2.6h-2.6zM438.72 775.86h2.6v2.6h-2.6zM448.12 787.38h2.6v2.6h-2.6zM457.51 804.35h2.6v2.6h-2.6zM466.9 810.9h2.6v2.6h-2.6zM476.29 811.86h2.6v2.6h-2.6zM485.68 814.88h2.6v2.6h-2.6zM401.16 754.2h2.6v2.6h-2.6zM410.55 757h2.6v2.6h-2.6zM419.94 755.59h2.6v2.6h-2.6zM429.33 755.72h2.6v2.6h-2.6zM438.72 761.77h2.6v2.6h-2.6zM448.12 775.69h2.6v2.6h-2.6zM457.51 797.28h2.6v2.6h-2.6zM466.9 810.11h2.6v2.6h-2.6zM476.29 814.93h2.6v2.6h-2.6zM485.68 816.25h2.6v2.6h-2.6zM401.16 762.43h2.6v2.6h-2.6zM410.55 765.3h2.6v2.6h-2.6zM419.94 762.66h2.6v2.6h-2.6zM429.33 762.36h2.6v2.6h-2.6zM438.72 764.94h2.6v2.6h-2.6zM448.12 773.92h2.6v2.6h-2.6zM457.51 796.86h2.6v2.6h-2.6zM466.9 810.14h2.6v2.6h-2.6zM476.29 816.67h2.6v2.6h-2.6zM485.68 816.11h2.6v2.6h-2.6zM401.16 758.82h2.6v2.6h-2.6zM410.55 759.05h2.6v2.6h-2.6zM419.94 757.1h2.6v2.6h-2.6zM429.33 756.86h2.6v2.6h-2.6zM438.72 758.9h2.6v2.6h-2.6zM448.12 765.1h2.6v2.6h-2.6zM457.51 787.24h2.6v2.6h-2.6zM466.9 805.65h2.6v2.6h-2.6zM476.29 813.39h2.6v2.6h-2.6zM485.68 812.91h2.6v2.6h-2.6zM401.16 762.1h2.6v2.6h-2.6zM410.55 761.86h2.6v2.6h-2.6zM419.94 759.9h2.6v2.6h-2.6zM429.33 762.96h2.6v2.6h-2.6zM438.72 770.6h2.6v2.6h-2.6zM448.12 788.94h2.6v2.6h-2.6zM457.51 804.57h2.6v2.6h-2.6zM466.9 815.17h2.6v2.6h-2.6zM476.29 816.91h2.6v2.6h-2.6zM485.68 815.5h2.6v2.6h-2.6zM401.16 768.57h2.6v2.6h-2.6zM410.55 768.78h2.6v2.6h-2.6zM419.94 769.17h2.6v2.6h-2.6zM429.33 770.76h2.6v2.6h-2.6zM438.72 768.89h2.6v2.6h-2.6zM448.12 775.72h2.6v2.6h-2.6zM457.51 792.1h2.6v2.6h-2.6zM466.9 809.08h2.6v2.6h-2.6zM476.29 814.27h2.6v2.6h-2.6zM485.68 814.27h2.6v2.6h-2.6zM401.16 760.96h2.6v2.6h-2.6zM410.55 760.76h2.6v2.6h-2.6zM419.94 762.05h2.6v2.6h-2.6zM429.33 762.13h2.6v2.6h-2.6zM438.72 769.46h2.6v2.6h-2.6zM448.12 785.35h2.6v2.6h-2.6zM457.51 803.13h2.6v2.6h-2.6zM466.9 810.9h2.6v2.6h-2.6zM476.29 813.77h2.6v2.6h-2.6zM485.68 815.44h2.6v2.6h-2.6z" fill="#e10a14"/>
<path d="M369.7 735.05V820.3M365.7 819.6H369.7M365.7 791.65H369.7M365.7 763.7H369.7M365.7 735.75H369.7M369 819.6H495.2" stroke="#000" stroke-width="1.5" fill="none"/>
<path d="M369.7 819.6v3.6M385.3 819.6v3.6M400.9 819.6v3.6M416.5 819.6v3.6M432.1 819.6v3.6M447.7 819.6v3.6M463.3 819.6v3.6M478.9 819.6v3.6M494.5 819.6v3.6" stroke="#000" stroke-width="1.3" fill="none"/>
<path d="M374.4 819.6v2M377.14 819.6v2M379.09 819.6v2M380.6 819.6v2M381.84 819.6v2M382.88 819.6v2M383.79 819.6v2M384.59 819.6v2M390 819.6v2M392.74 819.6v2M394.69 819.6v2M396.2 819.6v2M397.44 819.6v2M398.48 819.6v2M399.39 819.6v2M400.19 819.6v2M405.6 819.6v2M408.34 819.6v2M410.29 819.6v2M411.8 819.6v2M413.04 819.6v2M414.08 819.6v2M414.99 819.6v2M415.79 819.6v2M421.2 819.6v2M423.94 819.6v2M425.89 819.6v2M427.4 819.6v2M428.64 819.6v2M429.68 819.6v2M430.59 819.6v2M431.39 819.6v2M436.8 819.6v2M439.54 819.6v2M441.49 819.6v2M443 819.6v2M444.24 819.6v2M445.28 819.6v2M446.19 819.6v2M446.99 819.6v2M452.4 819.6v2M455.14 819.6v2M457.09 819.6v2M458.6 819.6v2M459.84 819.6v2M460.88 819.6v2M461.79 819.6v2M462.59 819.6v2M468 819.6v2M470.74 819.6v2M472.69 819.6v2M474.2 819.6v2M475.44 819.6v2M476.48 819.6v2M477.39 819.6v2M478.19 819.6v2M483.6 819.6v2M486.34 819.6v2M488.29 819.6v2M489.8 819.6v2M491.04 819.6v2M492.08 819.6v2M492.99 819.6v2M493.79 819.6v2" stroke="#000" stroke-width="0.8" fill="none"/>
<text x="363.3" y="822.9" font-size="9.2" font-weight="bold" fill="#000" color="#000" text-anchor="end">0</text>
<text x="363.3" y="794.95" font-size="9.2" font-weight="bold" fill="#000" color="#000" text-anchor="end">50</text>
<text x="363.3" y="767" font-size="9.2" font-weight="bold" fill="#000" color="#000" text-anchor="end">100</text>
<text x="363.3" y="739.05" font-size="9.2" font-weight="bold" fill="#000" color="#000" text-anchor="end">150</text>
<text x="360.9" y="832.7" font-size="9" font-weight="bold">10<tspan font-size="6.9" dy="-2.7">−14</tspan></text>
<text x="392.1" y="832.7" font-size="9" font-weight="bold">10<tspan font-size="6.9" dy="-2.7">−12</tspan></text>
<text x="423.3" y="832.7" font-size="9" font-weight="bold">10<tspan font-size="6.9" dy="-2.7">−10</tspan></text>
<text x="454.5" y="832.7" font-size="9" font-weight="bold">10<tspan font-size="6.9" dy="-2.7">−8</tspan></text>
<text x="485.7" y="832.7" font-size="9" font-weight="bold">10<tspan font-size="6.9" dy="-2.7">−6</tspan></text>
<line x1="370.7" y1="791.65" x2="494.5" y2="791.65" stroke="#000" stroke-width="0.9" stroke-dasharray="1.2,1.6"/>
<text x="41.5" y="585" font-size="9.3" fill="#000" color="#000" text-anchor="start">DUSP6 modulation, 2-hour treatment</text>
<text x="198" y="585" font-size="9.3" fill="#000" color="#000" text-anchor="start">DUSP6 modulation, 2-hour treatment</text>
<text x="361.2" y="585" font-size="9.3" fill="#000" color="#000" text-anchor="start">DUSP6 modulation, 2-hour treatment</text>
<text x="36.5" y="726.6" font-size="9.3" fill="#000" color="#000" text-anchor="start">DUSP6 modulation, 24-hour treatment</text>
<text x="198.3" y="726.6" font-size="9.3" fill="#000" color="#000" text-anchor="start">DUSP6 modulation, 24-hour treatment</text>
<text x="360.8" y="726.6" font-size="9.3" fill="#000" color="#000" text-anchor="start">DUSP6 modulation, 24-hour treatment</text>
<text x="77.4" y="706.3" font-size="9.9" font-weight="bold" fill="#000" color="#000" text-anchor="start">BI-2493 (log, mol/L)</text>
<text x="233.8" y="707" font-size="9.9" font-weight="bold" fill="#000" color="#000" text-anchor="start">BI-2865 (log, mol/L)</text>
<text x="383.5" y="705.8" font-size="9.9" font-weight="bold" fill="#000" color="#000" text-anchor="start">Trametinib (log, mol/L)</text>
<text x="77.3" y="845.2" font-size="9.9" font-weight="bold" fill="#000" color="#000" text-anchor="start">BI-2493 (log, mol/L)</text>
<text x="233.8" y="845.2" font-size="9.9" font-weight="bold" fill="#000" color="#000" text-anchor="start">BI-2865 (log, mol/L)</text>
<text x="383.5" y="845.2" font-size="9.9" font-weight="bold" fill="#000" color="#000" text-anchor="start">Trametinib (log, mol/L)</text>
<text transform="translate(20.4,633) rotate(-90)" font-size="10" font-weight="bold" text-anchor="middle"><tspan x="0" y="0">% DUSP6/GAPDH</tspan><tspan x="0" y="12.2">(normalized)</tspan></text>
<text transform="translate(20.4,773.5) rotate(-90)" font-size="10" font-weight="bold" text-anchor="middle"><tspan x="0" y="0">% DUSP6/GAPDH</tspan><tspan x="0" y="12.2">(normalized)</tspan></text>
<text x="384.5" y="28.3" font-size="9.95" font-weight="bold" fill="#000" color="#000" text-anchor="start">DUSP6 modulation</text>
<line x1="340.5" y1="75.9" x2="340.5" y2="194.9" stroke="#000" stroke-width="1.5"/>
<line x1="335" y1="194.2" x2="340.5" y2="194.2" stroke="#000" stroke-width="1.4"/>
<text x="333.3" y="197.5" font-size="9.2" font-weight="bold" fill="#000" color="#000" text-anchor="end">0</text>
<line x1="335" y1="155" x2="340.5" y2="155" stroke="#000" stroke-width="1.4"/>
<text x="333.3" y="158.3" font-size="9.2" font-weight="bold" fill="#000" color="#000" text-anchor="end">50</text>
<line x1="335" y1="115.8" x2="340.5" y2="115.8" stroke="#000" stroke-width="1.4"/>
<text x="333.3" y="119.1" font-size="9.2" font-weight="bold" fill="#000" color="#000" text-anchor="end">100</text>
<line x1="335" y1="76.6" x2="340.5" y2="76.6" stroke="#000" stroke-width="1.4"/>
<text x="333.3" y="79.9" font-size="9.2" font-weight="bold" fill="#000" color="#000" text-anchor="end">150</text>
<line x1="339.8" y1="194.2" x2="519.5" y2="194.2" stroke="#000" stroke-width="1.5"/>
<line x1="429.7" y1="76.5" x2="429.7" y2="194.2" stroke="#000" stroke-width="0.9"/>
<line x1="355" y1="194.2" x2="355" y2="199.4" stroke="#000" stroke-width="1.7"/>
<line x1="376.5" y1="194.2" x2="376.5" y2="199.4" stroke="#000" stroke-width="1.7"/>
<line x1="397.7" y1="194.2" x2="397.7" y2="199.4" stroke="#000" stroke-width="1.7"/>
<line x1="419" y1="194.2" x2="419" y2="199.4" stroke="#000" stroke-width="1.7"/>
<line x1="440.3" y1="194.2" x2="440.3" y2="199.4" stroke="#000" stroke-width="1.7"/>
<line x1="461.4" y1="194.2" x2="461.4" y2="199.4" stroke="#000" stroke-width="1.7"/>
<line x1="482.6" y1="194.2" x2="482.6" y2="199.4" stroke="#000" stroke-width="1.7"/>
<line x1="503.7" y1="194.2" x2="503.7" y2="199.4" stroke="#000" stroke-width="1.7"/>
<text x="355" y="207.3" font-size="7.1" font-weight="bold" fill="#000" color="#000" text-anchor="middle">2</text>
<text x="355.3" y="216" font-size="7.1" font-weight="bold" fill="#000" color="#000" text-anchor="middle">hours</text>
<text x="376.5" y="207.3" font-size="7.1" font-weight="bold" fill="#000" color="#000" text-anchor="middle">24</text>
<text x="376.8" y="216" font-size="7.1" font-weight="bold" fill="#000" color="#000" text-anchor="middle">hours</text>
<text x="397.7" y="207.3" font-size="7.1" font-weight="bold" fill="#000" color="#000" text-anchor="middle">2</text>
<text x="398" y="216" font-size="7.1" font-weight="bold" fill="#000" color="#000" text-anchor="middle">hours</text>
<text x="419" y="207.3" font-size="7.1" font-weight="bold" fill="#000" color="#000" text-anchor="middle">24</text>
<text x="419.3" y="216" font-size="7.1" font-weight="bold" fill="#000" color="#000" text-anchor="middle">hours</text>
<text x="440.3" y="207.3" font-size="7.1" font-weight="bold" fill="#000" color="#000" text-anchor="middle">2</text>
<text x="440.6" y="216" font-size="7.1" font-weight="bold" fill="#000" color="#000" text-anchor="middle">hours</text>
<text x="461.4" y="207.3" font-size="7.1" font-weight="bold" fill="#000" color="#000" text-anchor="middle">24</text>
<text x="461.7" y="216" font-size="7.1" font-weight="bold" fill="#000" color="#000" text-anchor="middle">hours</text>
<text x="482.6" y="207.3" font-size="7.1" font-weight="bold" fill="#000" color="#000" text-anchor="middle">2</text>
<text x="482.9" y="216" font-size="7.1" font-weight="bold" fill="#000" color="#000" text-anchor="middle">hours</text>
<text x="503.7" y="207.3" font-size="7.1" font-weight="bold" fill="#000" color="#000" text-anchor="middle">24</text>
<text x="504" y="216" font-size="7.1" font-weight="bold" fill="#000" color="#000" text-anchor="middle">hours</text>
<circle cx="365.6" cy="96.98" r="0.45" fill="#999"/>
<circle cx="365.6" cy="118.15" r="0.45" fill="#999"/>
<circle cx="365.6" cy="139.32" r="0.45" fill="#999"/>
<circle cx="365.6" cy="160.49" r="0.45" fill="#999"/>
<circle cx="365.6" cy="181.66" r="0.45" fill="#999"/>
<circle cx="387.1" cy="96.98" r="0.45" fill="#999"/>
<circle cx="387.1" cy="118.15" r="0.45" fill="#999"/>
<circle cx="387.1" cy="139.32" r="0.45" fill="#999"/>
<circle cx="387.1" cy="160.49" r="0.45" fill="#999"/>
<circle cx="387.1" cy="181.66" r="0.45" fill="#999"/>
<circle cx="408.3" cy="96.98" r="0.45" fill="#999"/>
<circle cx="408.3" cy="118.15" r="0.45" fill="#999"/>
<circle cx="408.3" cy="139.32" r="0.45" fill="#999"/>
<circle cx="408.3" cy="160.49" r="0.45" fill="#999"/>
<circle cx="408.3" cy="181.66" r="0.45" fill="#999"/>
<circle cx="429.6" cy="96.98" r="0.45" fill="#999"/>
<circle cx="429.6" cy="118.15" r="0.45" fill="#999"/>
<circle cx="429.6" cy="139.32" r="0.45" fill="#999"/>
<circle cx="429.6" cy="160.49" r="0.45" fill="#999"/>
<circle cx="429.6" cy="181.66" r="0.45" fill="#999"/>
<circle cx="450.9" cy="96.98" r="0.45" fill="#999"/>
<circle cx="450.9" cy="118.15" r="0.45" fill="#999"/>
<circle cx="450.9" cy="139.32" r="0.45" fill="#999"/>
<circle cx="450.9" cy="160.49" r="0.45" fill="#999"/>
<circle cx="450.9" cy="181.66" r="0.45" fill="#999"/>
<circle cx="472" cy="96.98" r="0.45" fill="#999"/>
<circle cx="472" cy="118.15" r="0.45" fill="#999"/>
<circle cx="472" cy="139.32" r="0.45" fill="#999"/>
<circle cx="472" cy="160.49" r="0.45" fill="#999"/>
<circle cx="472" cy="181.66" r="0.45" fill="#999"/>
<circle cx="493.2" cy="96.98" r="0.45" fill="#999"/>
<circle cx="493.2" cy="118.15" r="0.45" fill="#999"/>
<circle cx="493.2" cy="139.32" r="0.45" fill="#999"/>
<circle cx="493.2" cy="160.49" r="0.45" fill="#999"/>
<circle cx="493.2" cy="181.66" r="0.45" fill="#999"/>
<line x1="349.2" y1="219.2" x2="384.8" y2="219.2" stroke="#000" stroke-width="1.5"/>
<line x1="389.6" y1="219.2" x2="425.6" y2="219.2" stroke="#000" stroke-width="1.5"/>
<line x1="433.5" y1="219.2" x2="469" y2="219.2" stroke="#000" stroke-width="1.5"/>
<line x1="472.9" y1="219.2" x2="509.8" y2="219.2" stroke="#000" stroke-width="1.5"/>
<text x="346.3" y="232.3" font-size="9.5" fill="#000" color="#000" text-anchor="start">CN &lt; 7</text>
<text x="391" y="232.3" font-size="9.5" fill="#000" color="#000" text-anchor="start">CN &gt; 7</text>
<text x="432.5" y="232.3" font-size="9.5" fill="#000" color="#000" text-anchor="start">CN &lt; 7</text>
<text x="473.8" y="232.3" font-size="9.5" fill="#000" color="#000" text-anchor="start">CN &gt; 7</text>
<line x1="349" y1="237.3" x2="423.8" y2="237.3" stroke="#000" stroke-width="1.5"/>
<line x1="436" y1="237.3" x2="510.4" y2="237.3" stroke="#000" stroke-width="1.5"/>
<text x="351.2" y="248.7" font-size="9.8" fill="#000" color="#000" text-anchor="start">BI-2493 1 µmol/L</text>
<text x="436.8" y="248.7" font-size="9.8" fill="#000" color="#000" text-anchor="start">BI-2865 1 µmol/L</text>
<line x1="346.6" y1="56.1" x2="388" y2="56.1" stroke="#000" stroke-width="1.5"/>
<text x="346.6" y="51.4" font-size="9.7" fill="#000" color="#000" text-anchor="start">NS (0.14)</text>
<line x1="346.6" y1="72.8" x2="409" y2="72.8" stroke="#000" stroke-width="1.5"/>
<text x="376.3" y="68.1" font-size="9.7" fill="#000" color="#000" text-anchor="start">(0.009)</text>
<polygon points="357.2,61.7 357.7,63.43 359.45,63 358.2,64.3 359.45,65.6 357.7,65.17 357.2,66.9 356.7,65.17 354.95,65.6 356.2,64.3 354.95,63 356.7,63.43" fill="#000" stroke="#000" stroke-width="0.35"/>
<polygon points="362.95,61.7 363.45,63.43 365.2,63 363.95,64.3 365.2,65.6 363.45,65.17 362.95,66.9 362.45,65.17 360.7,65.6 361.95,64.3 360.7,63 362.45,63.43" fill="#000" stroke="#000" stroke-width="0.35"/>
<polygon points="368.7,61.7 369.2,63.43 370.95,63 369.7,64.3 370.95,65.6 369.2,65.17 368.7,66.9 368.2,65.17 366.45,65.6 367.7,64.3 366.45,63 368.2,63.43" fill="#000" stroke="#000" stroke-width="0.35"/>
<line x1="346.6" y1="88.4" x2="424.8" y2="88.4" stroke="#000" stroke-width="1.5"/>
<text x="379" y="83.7" font-size="9.7" fill="#000" color="#000" text-anchor="start">(0.02)</text>
<polygon points="370.8,77.3 371.3,79.03 373.05,78.6 371.8,79.9 373.05,81.2 371.3,80.77 370.8,82.5 370.3,80.77 368.55,81.2 369.8,79.9 368.55,78.6 370.3,79.03" fill="#000" stroke="#000" stroke-width="0.35"/>
<line x1="386.8" y1="112.5" x2="430" y2="112.5" stroke="#000" stroke-width="1.5"/>
<text x="386.8" y="107.8" font-size="9.7" fill="#000" color="#000" text-anchor="start">NS (0.31)</text>
<line x1="432" y1="54.7" x2="474.3" y2="54.7" stroke="#000" stroke-width="1.5"/>
<text x="432" y="50" font-size="9.7" fill="#000" color="#000" text-anchor="start">NS (0.25)</text>
<line x1="432" y1="71" x2="492.5" y2="71" stroke="#000" stroke-width="1.5"/>
<text x="459.4" y="66.3" font-size="9.7" fill="#000" color="#000" text-anchor="start">(0.001)</text>
<polygon points="442,59.9 442.5,61.63 444.25,61.2 443,62.5 444.25,63.8 442.5,63.37 442,65.1 441.5,63.37 439.75,63.8 441,62.5 439.75,61.2 441.5,61.63" fill="#000" stroke="#000" stroke-width="0.35"/>
<polygon points="447.75,59.9 448.25,61.63 450,61.2 448.75,62.5 450,63.8 448.25,63.37 447.75,65.1 447.25,63.37 445.5,63.8 446.75,62.5 445.5,61.2 447.25,61.63" fill="#000" stroke="#000" stroke-width="0.35"/>
<polygon points="453.5,59.9 454,61.63 455.75,61.2 454.5,62.5 455.75,63.8 454,63.37 453.5,65.1 453,63.37 451.25,63.8 452.5,62.5 451.25,61.2 453,61.63" fill="#000" stroke="#000" stroke-width="0.35"/>
<line x1="432" y1="86.4" x2="511.8" y2="86.4" stroke="#000" stroke-width="1.5"/>
<text x="465.2" y="81.7" font-size="9.7" fill="#000" color="#000" text-anchor="start">(0.016)</text>
<polygon points="454.5,75.3 455,77.03 456.75,76.6 455.5,77.9 456.75,79.2 455,78.77 454.5,80.5 454,78.77 452.25,79.2 453.5,77.9 452.25,76.6 454,77.03" fill="#000" stroke="#000" stroke-width="0.35"/>
<polygon points="460.25,75.3 460.75,77.03 462.5,76.6 461.25,77.9 462.5,79.2 460.75,78.77 460.25,80.5 459.75,78.77 458,79.2 459.25,77.9 458,76.6 459.75,77.03" fill="#000" stroke="#000" stroke-width="0.35"/>
<line x1="472.8" y1="113.8" x2="514.7" y2="113.8" stroke="#000" stroke-width="1.5"/>
<text x="472.8" y="109.1" font-size="9.7" fill="#000" color="#000" text-anchor="start">NS (0.41)</text>
<circle cx="355" cy="101.37" r="2.35" fill="#0000ff"/>
<circle cx="350.2" cy="153.59" r="2.35" fill="#0000ff"/>
<circle cx="350.2" cy="159.23" r="2.35" fill="#0000ff"/>
<circle cx="359.8" cy="158.21" r="2.35" fill="#0000ff"/>
<circle cx="355" cy="165.74" r="2.35" fill="#0000ff"/>
<circle cx="355" cy="175.46" r="2.35" fill="#0000ff"/>
<circle cx="371.6" cy="126.07" r="2.35" fill="#0000ff"/>
<circle cx="376.5" cy="129.21" r="2.35" fill="#0000ff"/>
<circle cx="371.6" cy="131.79" r="2.35" fill="#0000ff"/>
<circle cx="376.5" cy="136.11" r="2.35" fill="#0000ff"/>
<circle cx="381.3" cy="133.91" r="2.35" fill="#0000ff"/>
<circle cx="376.5" cy="145.51" r="2.35" fill="#0000ff"/>
<circle cx="397.7" cy="164.96" r="2.35" fill="#e10a14"/>
<circle cx="397.7" cy="179.46" r="2.35" fill="#e10a14"/>
<circle cx="397.7" cy="184.32" r="2.35" fill="#e10a14"/>
<circle cx="392.7" cy="190.28" r="2.35" fill="#e10a14"/>
<circle cx="395.7" cy="191.06" r="2.35" fill="#e10a14"/>
<circle cx="399.7" cy="190.67" r="2.35" fill="#e10a14"/>
<circle cx="402.7" cy="190.28" r="2.35" fill="#e10a14"/>
<circle cx="394.2" cy="192.63" r="2.35" fill="#e10a14"/>
<circle cx="397.7" cy="193.02" r="2.35" fill="#e10a14"/>
<circle cx="401.2" cy="192.63" r="2.35" fill="#e10a14"/>
<circle cx="397.7" cy="188.71" r="2.35" fill="#e10a14"/>
<circle cx="396.7" cy="187.14" r="2.35" fill="#e10a14"/>
<circle cx="419" cy="144.73" r="2.35" fill="#e10a14"/>
<circle cx="418" cy="167.54" r="2.35" fill="#e10a14"/>
<circle cx="421.5" cy="167.15" r="2.35" fill="#e10a14"/>
<circle cx="417.5" cy="170.68" r="2.35" fill="#e10a14"/>
<circle cx="414.5" cy="181.89" r="2.35" fill="#e10a14"/>
<circle cx="423.8" cy="181.03" r="2.35" fill="#e10a14"/>
<circle cx="419" cy="185.42" r="2.35" fill="#e10a14"/>
<circle cx="416" cy="188.4" r="2.35" fill="#e10a14"/>
<circle cx="421.6" cy="187.14" r="2.35" fill="#e10a14"/>
<circle cx="419" cy="179.3" r="2.35" fill="#e10a14"/>
<circle cx="417" cy="176.95" r="2.35" fill="#e10a14"/>
<circle cx="422" cy="184.01" r="2.35" fill="#e10a14"/>
<circle cx="420" cy="189.89" r="2.35" fill="#e10a14"/>
<circle cx="440.3" cy="96.98" r="2.35" fill="#0000ff"/>
<circle cx="440.3" cy="148.73" r="2.35" fill="#0000ff"/>
<circle cx="445.3" cy="156.57" r="2.35" fill="#0000ff"/>
<circle cx="435.3" cy="161.27" r="2.35" fill="#0000ff"/>
<circle cx="440.3" cy="168.33" r="2.35" fill="#0000ff"/>
<circle cx="440.3" cy="175.38" r="2.35" fill="#0000ff"/>
<circle cx="461.4" cy="121.29" r="2.35" fill="#0000ff"/>
<circle cx="461.4" cy="128.34" r="2.35" fill="#0000ff"/>
<circle cx="457.4" cy="134.62" r="2.35" fill="#0000ff"/>
<circle cx="461.4" cy="136.97" r="2.35" fill="#0000ff"/>
<circle cx="465.4" cy="134.62" r="2.35" fill="#0000ff"/>
<circle cx="461.4" cy="148.34" r="2.35" fill="#0000ff"/>
<circle cx="482.6" cy="165.19" r="2.35" fill="#e10a14"/>
<circle cx="482.6" cy="180.87" r="2.35" fill="#e10a14"/>
<circle cx="482.6" cy="185.58" r="2.35" fill="#e10a14"/>
<circle cx="477.6" cy="190.28" r="2.35" fill="#e10a14"/>
<circle cx="480.6" cy="191.06" r="2.35" fill="#e10a14"/>
<circle cx="484.6" cy="190.67" r="2.35" fill="#e10a14"/>
<circle cx="487.6" cy="190.28" r="2.35" fill="#e10a14"/>
<circle cx="479.1" cy="192.63" r="2.35" fill="#e10a14"/>
<circle cx="482.6" cy="193.02" r="2.35" fill="#e10a14"/>
<circle cx="486.1" cy="192.63" r="2.35" fill="#e10a14"/>
<circle cx="482.6" cy="188.71" r="2.35" fill="#e10a14"/>
<circle cx="503.7" cy="147.94" r="2.35" fill="#e10a14"/>
<circle cx="502.7" cy="167.54" r="2.35" fill="#e10a14"/>
<circle cx="506.2" cy="171.46" r="2.35" fill="#e10a14"/>
<circle cx="501.7" cy="173.03" r="2.35" fill="#e10a14"/>
<circle cx="499.2" cy="181.66" r="2.35" fill="#e10a14"/>
<circle cx="508.5" cy="180.87" r="2.35" fill="#e10a14"/>
<circle cx="503.7" cy="184.79" r="2.35" fill="#e10a14"/>
<circle cx="500.7" cy="188.71" r="2.35" fill="#e10a14"/>
<circle cx="506.3" cy="187.14" r="2.35" fill="#e10a14"/>
<circle cx="503.7" cy="179.3" r="2.35" fill="#e10a14"/>
<circle cx="501.7" cy="176.95" r="2.35" fill="#e10a14"/>
<circle cx="506.7" cy="184.01" r="2.35" fill="#e10a14"/>
<circle cx="504.7" cy="191.06" r="2.35" fill="#e10a14"/>
<line x1="346.8" y1="151.86" x2="363.2" y2="151.86" stroke="#000" stroke-width="1.9"/>
<line x1="368.3" y1="133.83" x2="384.7" y2="133.83" stroke="#000" stroke-width="1.9"/>
<line x1="389.5" y1="186.36" x2="405.9" y2="186.36" stroke="#000" stroke-width="1.9"/>
<line x1="410.8" y1="176.95" x2="427.2" y2="176.95" stroke="#000" stroke-width="1.9"/>
<line x1="432.1" y1="151.08" x2="448.5" y2="151.08" stroke="#000" stroke-width="1.9"/>
<line x1="453.2" y1="135.4" x2="469.6" y2="135.4" stroke="#000" stroke-width="1.9"/>
<line x1="474.4" y1="186.36" x2="490.8" y2="186.36" stroke="#000" stroke-width="1.9"/>
<line x1="495.5" y1="177.74" x2="511.9" y2="177.74" stroke="#000" stroke-width="1.9"/>
<text transform="translate(310.6,135.6) rotate(-90)" font-size="10" font-weight="bold" text-anchor="middle">% DUSP6/GAPDH (normalized)</text>
</svg></div></body></html>
